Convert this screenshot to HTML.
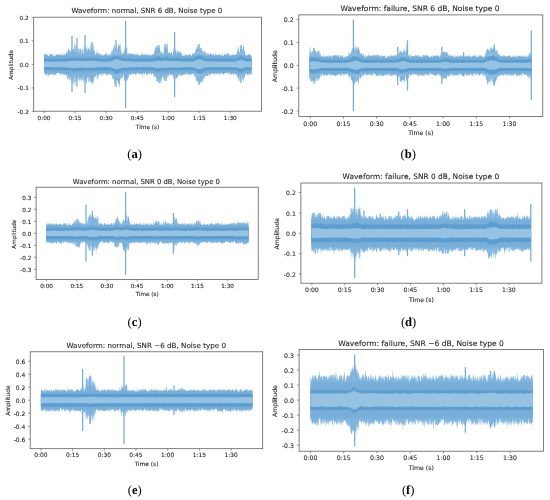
<!DOCTYPE html><html><head><meta charset="utf-8"><style>html,body{margin:0;padding:0;background:#fff;}svg{display:block}text{stroke:#262626;stroke-width:0.1px}text.cap{stroke:none}</style></head><body>
<svg width="550" height="500" viewBox="0 0 550 500" font-family="'DejaVu Sans', 'Liberation Sans', sans-serif" fill="#262626" text-rendering="geometricPrecision">
<rect width="550" height="500" fill="#fff"/>
<g id="wfa"><defs><linearGradient id="ga" gradientUnits="userSpaceOnUse" x1="0" y1="38.1" x2="0" y2="90.7"><stop offset="0%" stop-color="#8cbce1"/><stop offset="30.6%" stop-color="#8cbce1"/><stop offset="34.1%" stop-color="#78afd9"/><stop offset="38.1%" stop-color="#78afd9"/><stop offset="39.8%" stop-color="#5d9dcf"/><stop offset="50%" stop-color="#5d9dcf"/><stop offset="60.2%" stop-color="#5d9dcf"/><stop offset="61.9%" stop-color="#78afd9"/><stop offset="65.9%" stop-color="#78afd9"/><stop offset="69.4%" stop-color="#8cbce1"/><stop offset="100%" stop-color="#8cbce1"/></linearGradient></defs><path d="M44,54.6 L44.5,54 L45,53.7 L45.5,54.4 L46,54.3 L46.5,53.6 L47,55.6 L47.5,54.2 L48,56 L48.5,55.4 L49,56.6 L49.5,53.6 L50,55.1 L50.5,53.6 L51,54.2 L51.5,53.9 L52,53.4 L52.5,54.4 L53,55.4 L53.5,56.8 L54,55.9 L54.5,55.6 L55,54.5 L55.5,56.5 L56,54.5 L56.5,53.7 L57,55.6 L57.5,54.2 L58,54.5 L58.5,54 L59,54.7 L59.5,54.8 L60,54.6 L60.5,54.6 L61,54.8 L61.5,55.9 L62,51.4 L62.5,54.5 L63,54.7 L63.5,55.1 L64,55.4 L64.5,54.2 L65,53.2 L65.5,55 L66,54.5 L66.5,50.9 L67,52.4 L67.5,54.6 L68,49.5 L68.5,49.3 L69,49.8 L69.5,52 L70,48.5 L70.5,51.8 L71,53.4 L71.5,46.2 L72,51.7 L72.5,52.9 L73,48.4 L73.5,51.5 L74,45.7 L74.5,41.4 L75,48.9 L75.5,53.3 L76,51 L76.5,45.2 L77,51.3 L77.5,53 L78,54.7 L78.5,55.1 L79,50.4 L79.5,54.8 L80,49.2 L80.5,49.4 L81,47.4 L81.5,54.5 L82,52.8 L82.5,54.5 L83,51.4 L83.5,54.9 L84,45.7 L84.5,51 L85,53.9 L85.5,47.9 L86,49.3 L86.5,44.3 L87,51.9 L87.5,54 L88,46.6 L88.5,49.1 L89,51.1 L89.5,49.9 L90,46.1 L90.5,42.3 L91,51.2 L91.5,51.1 L92,47.3 L92.5,43.1 L93,43.2 L93.5,46.1 L94,52.1 L94.5,50.7 L95,52.3 L95.5,55.6 L96,55.8 L96.5,55 L97,48.6 L97.5,52.8 L98,52.3 L98.5,53.2 L99,53.9 L99.5,53.8 L100,53.4 L100.5,54.6 L101,54.1 L101.5,56.3 L102,53.5 L102.5,54.5 L103,56 L103.5,54.9 L104,55.1 L104.5,55.1 L105,54.3 L105.5,53.5 L106,53.4 L106.5,52.1 L107,55 L107.5,54.2 L108,56.1 L108.5,55 L109,53.8 L109.5,53.3 L110,56.7 L110.5,54.1 L111,52.7 L111.5,51.9 L112,49.2 L112.5,51.9 L113,48.3 L113.5,46.8 L114,48.3 L114.5,48.5 L115,51.9 L115.5,45.9 L116,47.4 L116.5,44.9 L117,49.8 L117.5,50 L118,47.3 L118.5,44.7 L119,41.5 L119.5,47.5 L120,43.9 L120.5,44.4 L121,50.9 L121.5,51.1 L122,55.4 L122.5,53.2 L123,53.9 L123.5,51 L124,51 L124.5,54.8 L125,48.8 L125.5,48.5 L126,42.3 L126.5,49.8 L127,55.7 L127.5,53.5 L128,55.4 L128.5,53.3 L129,52.7 L129.5,54.2 L130,53.1 L130.5,53.2 L131,53.4 L131.5,54.2 L132,53.7 L132.5,53.8 L133,53.4 L133.5,53.7 L134,53.8 L134.5,54.5 L135,53.8 L135.5,54.1 L136,56.8 L136.5,53.5 L137,54.3 L137.5,53.8 L138,53.6 L138.5,55.4 L139,55.4 L139.5,54.8 L140,55.5 L140.5,55 L141,55.2 L141.5,53.6 L142,52.2 L142.5,54.8 L143,55.2 L143.5,54.3 L144,54.2 L144.5,53.6 L145,55.8 L145.5,54.1 L146,54.9 L146.5,54.6 L147,54.1 L147.5,55.8 L148,54.8 L148.5,54.6 L149,54.8 L149.5,53.6 L150,56.5 L150.5,56.3 L151,54.4 L151.5,55 L152,54.4 L152.5,53.7 L153,54.5 L153.5,55 L154,52.1 L154.5,51.9 L155,47.4 L155.5,46.1 L156,50.2 L156.5,45.6 L157,45.1 L157.5,46.9 L158,44.9 L158.5,48.3 L159,48.4 L159.5,47.2 L160,50.5 L160.5,51.5 L161,51.7 L161.5,51.6 L162,55.1 L162.5,52.2 L163,55.3 L163.5,51.8 L164,52.4 L164.5,43.7 L165,43.4 L165.5,50.4 L166,43.5 L166.5,49.6 L167,48.8 L167.5,40.1 L168,51.3 L168.5,53.7 L169,52.1 L169.5,53 L170,52.1 L170.5,54.9 L171,52.4 L171.5,51.3 L172,53.6 L172.5,55.9 L173,54.3 L173.5,51.4 L174,52 L174.5,52.8 L175,52.7 L175.5,51.2 L176,52.3 L176.5,53.8 L177,50.4 L177.5,50.1 L178,53.6 L178.5,51.6 L179,50.6 L179.5,52.7 L180,51.4 L180.5,53.5 L181,50.9 L181.5,53 L182,56 L182.5,55.3 L183,55.9 L183.5,56.2 L184,51.7 L184.5,56.3 L185,55 L185.5,55 L186,54.4 L186.5,53.6 L187,56.5 L187.5,54.5 L188,54.9 L188.5,55 L189,55.1 L189.5,54.1 L190,54.6 L190.5,53.7 L191,55.7 L191.5,57 L192,53.4 L192.5,53.6 L193,53.4 L193.5,53.5 L194,54.4 L194.5,52.5 L195,51.9 L195.5,52.2 L196,44.8 L196.5,49.8 L197,48.5 L197.5,43.7 L198,47.2 L198.5,47 L199,51.6 L199.5,46.3 L200,50.9 L200.5,47.5 L201,47.8 L201.5,48.1 L202,50.6 L202.5,51 L203,51.4 L203.5,51.5 L204,53.2 L204.5,52.2 L205,51 L205.5,51.3 L206,53.7 L206.5,55.9 L207,55.4 L207.5,53.3 L208,51.8 L208.5,55 L209,52.7 L209.5,56.2 L210,51.9 L210.5,54.3 L211,53.5 L211.5,54.2 L212,54.2 L212.5,54.4 L213,55.1 L213.5,53.4 L214,53.8 L214.5,55.2 L215,56.8 L215.5,51.8 L216,55.1 L216.5,54.4 L217,55 L217.5,54.6 L218,53.9 L218.5,55.6 L219,53.8 L219.5,53.8 L220,55.4 L220.5,54.8 L221,55.2 L221.5,54.9 L222,56.8 L222.5,51.3 L223,55.9 L223.5,56.2 L224,55 L224.5,53.9 L225,53.9 L225.5,53.5 L226,54.1 L226.5,55.6 L227,53 L227.5,53.5 L228,54.1 L228.5,53.5 L229,53.5 L229.5,54.7 L230,54.2 L230.5,56.4 L231,55.6 L231.5,54.5 L232,55.5 L232.5,54.5 L233,54.3 L233.5,54 L234,55.3 L234.5,55.1 L235,54.9 L235.5,54.7 L236,55.1 L236.5,53.4 L237,51.6 L237.5,50.3 L238,48.8 L238.5,45 L239,51.5 L239.5,52.6 L240,49.3 L240.5,48.8 L241,51.7 L241.5,46.2 L242,46.9 L242.5,52.3 L243,46.3 L243.5,45.7 L244,52.5 L244.5,50.6 L245,51.8 L245.5,55 L246,55.5 L246.5,55.1 L247,56.1 L247.5,54 L248,55.7 L248.5,53.7 L249,54.5 L249.5,53.7 L250,54.1 L250.5,54.8 L251,56 L251.5,54.7 L251.5,73.5 L251,75.1 L250.5,74.6 L250,74.7 L249.5,74.8 L249,73.1 L248.5,74.7 L248,75.2 L247.5,75.5 L247,73.6 L246.5,74.6 L246,73.5 L245.5,74.1 L245,76.5 L244.5,78.1 L244,77.4 L243.5,82.8 L243,80.6 L242.5,79 L242,77.5 L241.5,75.6 L241,75.1 L240.5,77.7 L240,83.3 L239.5,77.5 L239,75.7 L238.5,82.8 L238,78.3 L237.5,77.6 L237,77.1 L236.5,74.4 L236,74.3 L235.5,75.3 L235,74.7 L234.5,72.2 L234,74.5 L233.5,75.1 L233,75.3 L232.5,72.7 L232,73.9 L231.5,75 L231,74.1 L230.5,74.8 L230,74.9 L229.5,72.6 L229,73.6 L228.5,72.6 L228,75.2 L227.5,72.9 L227,72.6 L226.5,72.2 L226,73.1 L225.5,72.8 L225,74.7 L224.5,73.1 L224,73.5 L223.5,75.1 L223,74.1 L222.5,74.8 L222,72.6 L221.5,72.6 L221,74.8 L220.5,74.8 L220,72.1 L219.5,74.8 L219,74.9 L218.5,72.6 L218,74.9 L217.5,73.8 L217,72.8 L216.5,75.1 L216,72.5 L215.5,74.6 L215,72.7 L214.5,75.3 L214,73.1 L213.5,75.1 L213,74.1 L212.5,73.2 L212,72.8 L211.5,74.1 L211,74.5 L210.5,73.3 L210,78.5 L209.5,73.9 L209,73.4 L208.5,73.2 L208,72 L207.5,73.4 L207,77.6 L206.5,75.3 L206,73.8 L205.5,75.3 L205,76.1 L204.5,79.1 L204,78 L203.5,78.3 L203,81.6 L202.5,81.2 L202,82.3 L201.5,82.7 L201,81.8 L200.5,81.9 L200,84.8 L199.5,83.5 L199,82.4 L198.5,80.1 L198,79.9 L197.5,79.7 L197,84 L196.5,78 L196,82.6 L195.5,76 L195,75.9 L194.5,77 L194,74 L193.5,73.2 L193,74.3 L192.5,73.1 L192,75.1 L191.5,74.9 L191,74.5 L190.5,73.3 L190,74.6 L189.5,75.2 L189,75.2 L188.5,74.4 L188,72.9 L187.5,75.2 L187,74.2 L186.5,72.7 L186,75.3 L185.5,73.9 L185,75.4 L184.5,74.2 L184,73.4 L183.5,74.8 L183,76.3 L182.5,74.7 L182,75 L181.5,74.7 L181,76.4 L180.5,75.4 L180,77 L179.5,72.4 L179,74.6 L178.5,75.3 L178,75.2 L177.5,78.8 L177,77.2 L176.5,77.3 L176,80.1 L175.5,75.9 L175,74.5 L174.5,76.5 L174,75.1 L173.5,79.4 L173,76.5 L172.5,75.7 L172,73.5 L171.5,74.6 L171,74.9 L170.5,75.6 L170,74.8 L169.5,73.3 L169,74.8 L168.5,77 L168,75.4 L167.5,79 L167,74 L166.5,75.3 L166,81.8 L165.5,76 L165,74.9 L164.5,80.5 L164,81 L163.5,79.2 L163,75.6 L162.5,77.1 L162,77.8 L161.5,78.8 L161,79.6 L160.5,83 L160,83.6 L159.5,81.3 L159,76.5 L158.5,76.6 L158,81.1 L157.5,82.5 L157,76.4 L156.5,74 L156,77.3 L155.5,75.4 L155,75.2 L154.5,76.3 L154,76.6 L153.5,75.8 L153,71.9 L152.5,73.8 L152,73.3 L151.5,75.4 L151,73.6 L150.5,73.3 L150,73.6 L149.5,74.4 L149,74.2 L148.5,72.2 L148,74.8 L147.5,74.8 L147,74.9 L146.5,74.5 L146,74.8 L145.5,71.9 L145,73.4 L144.5,74.8 L144,75.3 L143.5,72.9 L143,72.9 L142.5,77.5 L142,73.1 L141.5,75.2 L141,74.4 L140.5,73.4 L140,74.2 L139.5,73.2 L139,74 L138.5,75.3 L138,71.7 L137.5,72.4 L137,73.6 L136.5,74.9 L136,73.8 L135.5,75.3 L135,74.4 L134.5,73.3 L134,73.9 L133.5,74 L133,75.3 L132.5,73 L132,73.3 L131.5,75.1 L131,74.6 L130.5,75.2 L130,74.9 L129.5,76.1 L129,72.3 L128.5,77.8 L128,75.8 L127.5,75.1 L127,79 L126.5,82.7 L126,78.1 L125.5,77 L125,81.6 L124.5,78.9 L124,79.1 L123.5,74.2 L123,75.6 L122.5,78.6 L122,77.5 L121.5,76.9 L121,79.2 L120.5,78.6 L120,81.3 L119.5,86.9 L119,87.3 L118.5,80.8 L118,85 L117.5,79.5 L117,78.9 L116.5,81.7 L116,80.3 L115.5,82.3 L115,85.3 L114.5,86 L114,79.7 L113.5,77.5 L113,78.7 L112.5,78.7 L112,75.8 L111.5,75.8 L111,74.8 L110.5,74.1 L110,75.2 L109.5,74.3 L109,72.9 L108.5,74.8 L108,75.1 L107.5,75 L107,75 L106.5,76.2 L106,73.7 L105.5,74.1 L105,72.9 L104.5,73.4 L104,74.8 L103.5,74.2 L103,72.8 L102.5,75 L102,77.3 L101.5,75 L101,73.3 L100.5,74.5 L100,74.3 L99.5,74 L99,75.7 L98.5,75.5 L98,75.4 L97.5,76.9 L97,81.7 L96.5,73.5 L96,75.6 L95.5,77 L95,76.6 L94.5,75.9 L94,80 L93.5,79.5 L93,85.4 L92.5,75 L92,81.3 L91.5,84.8 L91,78.8 L90.5,80.7 L90,75.3 L89.5,83.2 L89,77.5 L88.5,75.4 L88,75.4 L87.5,77.1 L87,82.1 L86.5,84.2 L86,82.5 L85.5,80.6 L85,81 L84.5,75.4 L84,80.1 L83.5,83.6 L83,75 L82.5,81 L82,78.3 L81.5,82.5 L81,77.3 L80.5,78.2 L80,80.6 L79.5,78 L79,76.3 L78.5,77.8 L78,80.7 L77.5,77.9 L77,77.4 L76.5,76.3 L76,79.6 L75.5,74.9 L75,84.6 L74.5,85.6 L74,73.6 L73.5,82.2 L73,84.9 L72.5,79.8 L72,77.5 L71.5,82.5 L71,74 L70.5,78.5 L70,76.1 L69.5,82.4 L69,76.5 L68.5,77 L68,81.2 L67.5,78 L67,73.5 L66.5,74.6 L66,75 L65.5,74.4 L65,75.5 L64.5,74.3 L64,75.1 L63.5,74.9 L63,74.6 L62.5,74.3 L62,72.7 L61.5,75.2 L61,74.6 L60.5,74.2 L60,74.2 L59.5,73 L59,73 L58.5,72.2 L58,73.2 L57.5,73.5 L57,73 L56.5,73.1 L56,75.1 L55.5,74.4 L55,75.1 L54.5,74.6 L54,75.8 L53.5,74.7 L53,74.9 L52.5,73.1 L52,75.3 L51.5,74.6 L51,74.5 L50.5,73.4 L50,75.1 L49.5,75 L49,77.1 L48.5,75.2 L48,74.6 L47.5,74.9 L47,73.2 L46.5,76.8 L46,74.7 L45.5,74.9 L45,73 L44.5,73.2 L44,73.7Z" fill="url(#ga)"/><path d="M66.1 54.6V75.2M66.6 51.9V73.2M67 55.5V76.8M67.6 56.5V72.1M68.2 48.8V78.7M69.1 51V73.4M69.9 54.1V80.1M70.8 50.6V76.6M71.6 52.6V80.5M72.1 53.6V76.5M73 49.9V74.5M73.1 49.1V82M74.1 51.5V74.3M75 53.7V74.9M75.7 45.4V82.5M76.6 51.1V80.2M77.3 51.9V78.5M78.5 48.6V73.3M79.4 54.2V80.8M79.8 48.8V79M80.6 52.3V76.8M81.1 55.7V80.5M82.1 49.7V74.5M82.7 49.5V75.7M83.3 55.7V80.6M84.5 54.8V77.8M85.1 46.7V73.8M86 49.4V77.7M86.5 50.4V77.7M87.2 50V77.9M87.7 52.6V76.3M88.2 49.2V76.3M88.7 48.8V82.3M89.4 50.7V77.6M90 54V77.6M90.6 54.3V81.8M91.2 51.9V80M91.7 53V81.3M92.4 47.8V77.6M92.9 52.8V83.4M93.5 54.2V74.8M94 49.8V73.6M94.5 51.4V76.7M95.4 55.1V76.3M96.4 53.2V73M97.2 55.3V74.8M97.8 55.5V78.6M113 52.5V76.6M113.6 50.2V79.1M114.3 45V76.2M115.3 48.3V79.5M115.7 52V78M116.7 52.1V80.3M117.4 52.6V79.9M118.4 47V82.3M119.1 45.9V83.8M120.6 58.2V76.1M121.2 55.6V74.1M122.2 55.2V75M122.8 54.4V70.8M123.8 56.7V70.5M124.3 54.3V72.8M124.8 48.4V80.7M125.8 53V75.2M126.5 55.2V76.5M126.9 48.2V79.1M127.4 54.3V80.3M128.1 54.8V78.1M155.3 50.7V77.4M155.8 49.8V75.2M156.3 49V77.8M156.8 48V81.3M157.3 50.8V77.8M157.9 53V81.3M158.8 48V73.4M159.5 52V73.1M160.2 53.8V77.5M160.9 55.4V81.4M161.3 55.2V73.6M162.2 53V70.5M163 55.6V75.4M163.6 58V72M164.3 46.5V79M165 55.1V77.1M165.7 48.1V73.6M166.2 50.6V74.9M167.2 51.6V75.1M167.7 54.3V75M168.4 57.9V75.6M169 53.2V74.3M169.6 57.6V70.2M170.6 53.5V75M171.6 53.7V74.3M172.2 54V72.1M173.4 51.7V74.1M174 47.9V74.4M174.9 51.4V79.5M175.8 49.1V72.3M176.6 55.6V77.9M177.2 54.1V70.8M178.1 57.8V76.2M178.5 55.9V71.1M179.3 52.9V74.3M180.2 52.5V73.3M181.1 53.4V72.8M181.8 55.8V74.9M182.6 58V75.1M196.3 49.7V77.3M197.1 49V81.2M197.9 50.9V74M198.7 53.1V75.6M199.4 49.2V82.2M200 52.2V76.2M200.4 48.1V80.7M200.9 54.6V79M201.6 50.5V78.8M202.5 51.8V78.5M203.3 53.4V73.6M204.1 52.8V71.1M204.7 54V72.9M205.3 53.5V75.7M206.1 53.5V76M206.9 58.5V75.5M207.4 53.8V75.8M208.1 58.6V75.7M209.1 55.5V74.6M209.9 57.7V73.4M210.8 54.2V72.7M238.6 54.5V75.7M239.3 53.8V75.9M240 53.7V80.8M240.7 46.6V76.9M241.6 53.3V72.8M242.6 50.3V75.5M243.5 46.7V74.9M244 49.1V76.1" stroke="#78aed9" stroke-width="0.75" fill="none"/><line x1="72" y1="36" x2="72" y2="92" stroke="#78aed9" stroke-width="1.3"/><line x1="77" y1="38" x2="77" y2="86.4" stroke="#78aed9" stroke-width="1.3"/><line x1="85" y1="35" x2="85" y2="93" stroke="#78aed9" stroke-width="1.3"/><line x1="92" y1="42" x2="92" y2="82.4" stroke="#78aed9" stroke-width="1.3"/><line x1="116" y1="40" x2="116" y2="87" stroke="#78aed9" stroke-width="1.3"/><line x1="125.6" y1="21" x2="125.6" y2="108" stroke="#78aed9" stroke-width="1.3"/><line x1="159" y1="45" x2="159" y2="83" stroke="#78aed9" stroke-width="1.3"/><line x1="166" y1="44" x2="166" y2="81" stroke="#78aed9" stroke-width="1.3"/><line x1="174.6" y1="32" x2="174.6" y2="97" stroke="#78aed9" stroke-width="1.3"/><line x1="199" y1="44" x2="199" y2="85" stroke="#78aed9" stroke-width="1.3"/><line x1="241" y1="45" x2="241" y2="83" stroke="#78aed9" stroke-width="1.3"/><path d="M44,56.6 L44.5,55.6 L45,56.7 L45.5,57.6 L46,57 L46.5,56.4 L47,56.8 L47.5,55.1 L48,56.6 L48.5,57 L49,56.6 L49.5,56 L50,56.3 L50.5,55.8 L51,56.8 L51.5,57.7 L52,57 L52.5,57.6 L53,56.3 L53.5,57.7 L54,55.9 L54.5,57.1 L55,56 L55.5,56.5 L56,55.7 L56.5,56.4 L57,57.4 L57.5,56 L58,55.2 L58.5,56.1 L59,57.2 L59.5,55.2 L60,57.1 L60.5,56 L61,55.7 L61.5,56.1 L62,55.1 L62.5,56.9 L63,56.1 L63.5,56.4 L64,56.3 L64.5,55 L65,54.9 L65.5,55.6 L66,56.9 L66.5,56.2 L67,55.5 L67.5,54.6 L68,54.1 L68.5,55.1 L69,56.4 L69.5,54.1 L70,55 L70.5,56 L71,53.4 L71.5,55.1 L72,55.6 L72.5,55.1 L73,54.2 L73.5,55.1 L74,55.3 L74.5,55.2 L75,53.7 L75.5,53.3 L76,52.7 L76.5,55 L77,55.9 L77.5,53.5 L78,56 L78.5,55.1 L79,55.5 L79.5,55.2 L80,54.3 L80.5,55.1 L81,54.4 L81.5,54.5 L82,54.9 L82.5,55.2 L83,55.6 L83.5,54.9 L84,54.6 L84.5,55.2 L85,55.2 L85.5,52.9 L86,53.1 L86.5,54.8 L87,53.2 L87.5,54.2 L88,55.1 L88.5,53.7 L89,53.7 L89.5,53.1 L90,52.7 L90.5,54.3 L91,54.9 L91.5,53 L92,55.2 L92.5,54.7 L93,55.9 L93.5,55.1 L94,54.2 L94.5,54.5 L95,54.2 L95.5,55.9 L96,55.8 L96.5,56.8 L97,54 L97.5,56 L98,57 L98.5,54.9 L99,56.6 L99.5,55.7 L100,56.2 L100.5,57.6 L101,55.3 L101.5,56.3 L102,55.9 L102.5,56.3 L103,56.4 L103.5,56.6 L104,56.3 L104.5,57.2 L105,55.4 L105.5,56.6 L106,57.5 L106.5,57.7 L107,55.1 L107.5,57.3 L108,56.5 L108.5,57.1 L109,56.3 L109.5,56.5 L110,56.7 L110.5,54.6 L111,56.6 L111.5,54.7 L112,53.1 L112.5,53.6 L113,54.7 L113.5,50.6 L114,50.5 L114.5,49.6 L115,52.6 L115.5,48.3 L116,48.7 L116.5,51.4 L117,49.8 L117.5,50 L118,49 L118.5,51.3 L119,49.9 L119.5,52 L120,53.6 L120.5,54.5 L121,53.5 L121.5,53.5 L122,55.4 L122.5,53.7 L123,56.5 L123.5,55.1 L124,56.4 L124.5,54.8 L125,54.2 L125.5,56.2 L126,55.4 L126.5,53.8 L127,55.7 L127.5,54.7 L128,55.4 L128.5,53.8 L129,54 L129.5,54.7 L130,54.7 L130.5,56.6 L131,56.1 L131.5,55.3 L132,56.8 L132.5,55.2 L133,55.2 L133.5,56.8 L134,55.8 L134.5,57.3 L135,55.8 L135.5,56.4 L136,56.8 L136.5,55.1 L137,55.6 L137.5,56.5 L138,56.6 L138.5,56.9 L139,56.6 L139.5,55.8 L140,56.8 L140.5,57 L141,57.6 L141.5,55.4 L142,56.2 L142.5,55.7 L143,56.8 L143.5,56 L144,57.5 L144.5,55.8 L145,56.1 L145.5,55.5 L146,56 L146.5,55.8 L147,55.4 L147.5,55.8 L148,55.5 L148.5,56.6 L149,55.4 L149.5,57.6 L150,57 L150.5,56.4 L151,56.8 L151.5,56.8 L152,57 L152.5,56.2 L153,56.4 L153.5,55 L154,54.5 L154.5,56.5 L155,55.1 L155.5,53.6 L156,54.5 L156.5,52.3 L157,52.8 L157.5,54.3 L158,54.6 L158.5,52.3 L159,52 L159.5,53.8 L160,54.1 L160.5,55.1 L161,53.4 L161.5,55.3 L162,55.4 L162.5,54.4 L163,55.3 L163.5,53.8 L164,52.9 L164.5,53.3 L165,53.8 L165.5,54.4 L166,53 L166.5,52.6 L167,54.3 L167.5,53 L168,55.6 L168.5,53.7 L169,54.1 L169.5,56.6 L170,55.7 L170.5,54.9 L171,56.1 L171.5,54.1 L172,56.7 L172.5,56.2 L173,54.3 L173.5,53.1 L174,54.1 L174.5,53.1 L175,53.4 L175.5,56 L176,55.9 L176.5,53.8 L177,54.9 L177.5,56.4 L178,54 L178.5,56.7 L179,55 L179.5,56 L180,54.3 L180.5,54.5 L181,56.5 L181.5,55.2 L182,56.4 L182.5,55.8 L183,55.9 L183.5,56.2 L184,56 L184.5,56.5 L185,56.1 L185.5,55 L186,56.9 L186.5,55.6 L187,57.5 L187.5,56.4 L188,55.1 L188.5,57.3 L189,57.2 L189.5,56.5 L190,55.9 L190.5,57.6 L191,56 L191.5,57 L192,56.8 L192.5,56.4 L193,57.4 L193.5,57.1 L194,56.5 L194.5,55.6 L195,55 L195.5,53.4 L196,52.2 L196.5,54.3 L197,50.9 L197.5,52.8 L198,51.5 L198.5,50.3 L199,51.6 L199.5,49 L200,50.9 L200.5,48.8 L201,49.8 L201.5,49.9 L202,50.6 L202.5,51 L203,51.4 L203.5,52.8 L204,54 L204.5,53.3 L205,53.9 L205.5,56.3 L206,56 L206.5,56.3 L207,55.4 L207.5,55.5 L208,54.9 L208.5,55.9 L209,57 L209.5,56.5 L210,55.1 L210.5,57.2 L211,55.4 L211.5,55.6 L212,57.4 L212.5,55.7 L213,57.6 L213.5,57.1 L214,56.5 L214.5,55.9 L215,56.8 L215.5,55.3 L216,55.5 L216.5,55.3 L217,55.5 L217.5,55.8 L218,57.6 L218.5,56 L219,56.2 L219.5,57.1 L220,57 L220.5,56.9 L221,57.5 L221.5,56 L222,56.8 L222.5,56.6 L223,57.2 L223.5,56.8 L224,56.3 L224.5,55.6 L225,56.9 L225.5,57.4 L226,55.2 L226.5,55.8 L227,55.5 L227.5,56.7 L228,55.5 L228.5,55.5 L229,55.7 L229.5,56.5 L230,57.4 L230.5,56.4 L231,56.9 L231.5,57.5 L232,56 L232.5,56.8 L233,57.4 L233.5,57 L234,56.1 L234.5,57.3 L235,56.3 L235.5,54.7 L236,55.1 L236.5,55.3 L237,55.4 L237.5,54.8 L238,53.5 L238.5,54.8 L239,52.7 L239.5,52.6 L240,52.5 L240.5,52.2 L241,51.9 L241.5,50.5 L242,51.9 L242.5,53.2 L243,52 L243.5,53 L244,54.4 L244.5,54 L245,56.1 L245.5,55.6 L246,55.5 L246.5,56.2 L247,56.1 L247.5,57.1 L248,55.7 L248.5,55.3 L249,56.9 L249.5,56 L250,57.2 L250.5,55.9 L251,56.3 L251.5,57.7 L251.5,73.2 L251,73.5 L250.5,72.8 L250,72.4 L249.5,71.7 L249,73.1 L248.5,72.7 L248,72.8 L247.5,72.5 L247,72.3 L246.5,72.4 L246,71.9 L245.5,73.3 L245,73 L244.5,74.8 L244,75.3 L243.5,76 L243,76.1 L242.5,74.8 L242,77.2 L241.5,75.6 L241,75.1 L240.5,76.5 L240,76.5 L239.5,74.1 L239,74.2 L238.5,74 L238,74.3 L237.5,72.6 L237,74.3 L236.5,72.2 L236,71.7 L235.5,72.4 L235,72.7 L234.5,71.2 L234,71.3 L233.5,72.6 L233,71.8 L232.5,72.7 L232,72.5 L231.5,73.7 L231,71.1 L230.5,72.8 L230,73 L229.5,71.3 L229,73.4 L228.5,72.6 L228,73.6 L227.5,71.3 L227,72.6 L226.5,71.7 L226,73.1 L225.5,72.8 L225,72.3 L224.5,71.2 L224,73 L223.5,73.4 L223,73.4 L222.5,72.8 L222,72.3 L221.5,72.6 L221,72.5 L220.5,73 L220,72.1 L219.5,72.2 L219,73.5 L218.5,71.4 L218,72.1 L217.5,71.4 L217,72.6 L216.5,73.6 L216,72.5 L215.5,73.7 L215,72.7 L214.5,71.7 L214,72.7 L213.5,72.7 L213,73.2 L212.5,71.2 L212,72.8 L211.5,73.9 L211,72.1 L210.5,72.3 L210,71.5 L209.5,73.9 L209,73.2 L208.5,72.7 L208,72 L207.5,72.4 L207,73.1 L206.5,73.9 L206,73.3 L205.5,73.6 L205,74.9 L204.5,75.6 L204,75.9 L203.5,75.2 L203,76.6 L202.5,75.7 L202,78.5 L201.5,79.7 L201,80.2 L200.5,77.7 L200,76.3 L199.5,80.6 L199,77.8 L198.5,78.9 L198,78.7 L197.5,78.2 L197,75.7 L196.5,76.9 L196,75.5 L195.5,74 L195,75 L194.5,74.5 L194,74 L193.5,73 L193,71.7 L192.5,71.2 L192,73.2 L191.5,71.8 L191,72 L190.5,73.3 L190,72.7 L189.5,73.5 L189,73.5 L188.5,71.3 L188,71.6 L187.5,73.3 L187,72.5 L186.5,72.7 L186,72.4 L185.5,72.3 L185,71.5 L184.5,72.8 L184,73.4 L183.5,72.7 L183,73.6 L182.5,71.7 L182,73.5 L181.5,72.4 L181,74.1 L180.5,73.9 L180,74.4 L179.5,72.4 L179,73.1 L178.5,74.3 L178,74.6 L177.5,73.8 L177,75 L176.5,73.3 L176,73.9 L175.5,75.6 L175,74.5 L174.5,75.6 L174,74.6 L173.5,72.6 L173,72.4 L172.5,72.7 L172,73.5 L171.5,73.4 L171,72.5 L170.5,72 L170,72.2 L169.5,72.1 L169,74.8 L168.5,74.9 L168,73.6 L167.5,74.4 L167,72.9 L166.5,75.1 L166,75.8 L165.5,74.7 L165,73.6 L164.5,75.4 L164,75.6 L163.5,73.4 L163,73.3 L162.5,73 L162,73.6 L161.5,74.2 L161,75.4 L160.5,73.3 L160,74.6 L159.5,73.7 L159,76.5 L158.5,76.6 L158,74.5 L157.5,74.9 L157,76.4 L156.5,74 L156,74.5 L155.5,74.7 L155,73.2 L154.5,73.6 L154,74.2 L153.5,74.4 L153,71.9 L152.5,73 L152,73.3 L151.5,72.9 L151,73.2 L150.5,71.1 L150,72.8 L149.5,71.4 L149,72.4 L148.5,71.5 L148,72.7 L147.5,72.5 L147,71.8 L146.5,71.8 L146,72.8 L145.5,71.5 L145,72.3 L144.5,73.6 L144,71.6 L143.5,72.9 L143,71.2 L142.5,73.3 L142,73.1 L141.5,72.7 L141,71.8 L140.5,71.3 L140,73.4 L139.5,71.5 L139,72.1 L138.5,73.5 L138,71.7 L137.5,72.4 L137,73.6 L136.5,73.2 L136,72.1 L135.5,72.8 L135,73.4 L134.5,73 L134,72.3 L133.5,72.2 L133,72.3 L132.5,71.5 L132,71.5 L131.5,71.8 L131,72.6 L130.5,72.1 L130,72 L129.5,72.1 L129,72.3 L128.5,75 L128,74.9 L127.5,72.9 L127,75 L126.5,75 L126,74.6 L125.5,72.7 L125,73.7 L124.5,75.2 L124,74.1 L123.5,74.2 L123,72.8 L122.5,72.5 L122,74.3 L121.5,74.4 L121,76.6 L120.5,76 L120,76.9 L119.5,78 L119,75.2 L118.5,79.3 L118,77.1 L117.5,77.6 L117,78.7 L116.5,79 L116,77.2 L115.5,77.2 L115,80.2 L114.5,77.3 L114,77.5 L113.5,77.2 L113,76.3 L112.5,76.1 L112,74.6 L111.5,72.4 L111,72.8 L110.5,71.7 L110,73.4 L109.5,72.8 L109,71.9 L108.5,72.7 L108,72.4 L107.5,71.6 L107,73.7 L106.5,72.3 L106,72.3 L105.5,71.5 L105,72.9 L104.5,73.4 L104,73.1 L103.5,71.7 L103,71.4 L102.5,72.5 L102,71.6 L101.5,73.5 L101,73.2 L100.5,73.8 L100,71.5 L99.5,73 L99,71.6 L98.5,73 L98,72.8 L97.5,72 L97,73.8 L96.5,72.3 L96,73.7 L95.5,75.3 L95,74.3 L94.5,72.6 L94,73.8 L93.5,75.5 L93,75.9 L92.5,74.4 L92,74.7 L91.5,74.6 L91,75.4 L90.5,72.8 L90,75.3 L89.5,74.7 L89,75.3 L88.5,73.1 L88,73.4 L87.5,74.1 L87,75.3 L86.5,74.3 L86,73 L85.5,74.9 L85,75 L84.5,74.1 L84,73.5 L83.5,73.3 L83,74.1 L82.5,73.6 L82,74.4 L81.5,72.9 L81,75.2 L80.5,72.9 L80,74.6 L79.5,72.6 L79,73 L78.5,74.4 L78,74.4 L77.5,74.8 L77,75.3 L76.5,75.1 L76,75.2 L75.5,73.3 L75,75.2 L74.5,74.4 L74,73 L73.5,73.9 L73,76 L72.5,73.8 L72,73.7 L71.5,74.5 L71,74 L70.5,73.9 L70,73.3 L69.5,75.4 L69,73.9 L68.5,72.4 L68,72.6 L67.5,72.3 L67,73.4 L66.5,72.3 L66,72.9 L65.5,72.1 L65,72.5 L64.5,71.2 L64,73.6 L63.5,71.5 L63,72.7 L62.5,72.1 L62,71.3 L61.5,73.1 L61,72.4 L60.5,72.1 L60,71.5 L59.5,72.8 L59,72.8 L58.5,72.2 L58,73.2 L57.5,72.5 L57,71.7 L56.5,71.8 L56,73.3 L55.5,71.2 L55,71.8 L54.5,72.6 L54,71.3 L53.5,71.5 L53,72.4 L52.5,72.9 L52,72.6 L51.5,73 L51,72.1 L50.5,73.3 L50,71.2 L49.5,73.2 L49,72 L48.5,71.8 L48,71.7 L47.5,71.9 L47,71.5 L46.5,73.3 L46,71.8 L45.5,71.6 L45,71.9 L44.5,72.4 L44,71.6Z" fill="url(#ga)"/><path d="M44,59.7 L44.5,59.1 L45,58.8 L45.5,59.3 L46,59.4 L46.5,59.2 L47,58.9 L47.5,58.8 L48,59.1 L48.5,59.5 L49,59.8 L49.5,59.7 L50,59.6 L50.5,59.5 L51,59.6 L51.5,59 L52,59.3 L52.5,59.5 L53,59.7 L53.5,59.2 L54,59.1 L54.5,59.6 L55,59.5 L55.5,59.5 L56,59.5 L56.5,58.9 L57,58.6 L57.5,58.8 L58,59.4 L58.5,59.4 L59,58.9 L59.5,59 L60,59.1 L60.5,59 L61,59.8 L61.5,58.7 L62,58.5 L62.5,59.5 L63,59.6 L63.5,58.8 L64,59.2 L64.5,59.1 L65,59.6 L65.5,58.7 L66,59.5 L66.5,59 L67,58.3 L67.5,58.9 L68,58.2 L68.5,58.4 L69,58.1 L69.5,58.8 L70,58.3 L70.5,58.8 L71,58.6 L71.5,58.3 L72,57.4 L72.5,57.5 L73,58.5 L73.5,57.5 L74,56.9 L74.5,57.1 L75,58 L75.5,57.1 L76,57.6 L76.5,58.1 L77,58.1 L77.5,57.4 L78,58.1 L78.5,58.5 L79,57.4 L79.5,58.2 L80,58.3 L80.5,57.7 L81,58.5 L81.5,57.5 L82,58.7 L82.5,57.6 L83,58.3 L83.5,57.6 L84,57.6 L84.5,58 L85,58.1 L85.5,58.1 L86,57.6 L86.5,58.5 L87,57.4 L87.5,57.8 L88,57.3 L88.5,58 L89,58.5 L89.5,58.4 L90,57.6 L90.5,58.2 L91,58.2 L91.5,57.8 L92,58 L92.5,57.5 L93,58 L93.5,58.2 L94,58.5 L94.5,57.7 L95,58.1 L95.5,57.9 L96,58.6 L96.5,57.9 L97,58.1 L97.5,59.1 L98,58.1 L98.5,58.2 L99,58.5 L99.5,58.4 L100,58.4 L100.5,59.6 L101,58.5 L101.5,59.2 L102,59.2 L102.5,59.7 L103,58.8 L103.5,59.3 L104,59.1 L104.5,59.7 L105,59.5 L105.5,58.7 L106,59.6 L106.5,58.7 L107,59.8 L107.5,59.5 L108,58.9 L108.5,59.5 L109,58.9 L109.5,58.5 L110,58.4 L110.5,58.2 L111,58.6 L111.5,58.1 L112,57.3 L112.5,57.4 L113,56.1 L113.5,56.3 L114,56.9 L114.5,54.7 L115,55.1 L115.5,56.5 L116,56.1 L116.5,56.3 L117,55.9 L117.5,55.4 L118,54.4 L118.5,56.4 L119,55.5 L119.5,56.8 L120,55.9 L120.5,56.4 L121,57.7 L121.5,58.6 L122,58.3 L122.5,57.8 L123,58.9 L123.5,58.3 L124,59 L124.5,58.3 L125,58.2 L125.5,57.5 L126,58.7 L126.5,57.6 L127,58.7 L127.5,59 L128,58.6 L128.5,58.8 L129,58.4 L129.5,58.1 L130,59.3 L130.5,59.1 L131,58.6 L131.5,59.3 L132,59.2 L132.5,58.6 L133,58.9 L133.5,59.7 L134,59.2 L134.5,58.7 L135,59.8 L135.5,59.4 L136,59.2 L136.5,59.3 L137,59.5 L137.5,59.7 L138,59.8 L138.5,58.8 L139,58.7 L139.5,59.1 L140,59.8 L140.5,59.4 L141,58.6 L141.5,59.1 L142,59.7 L142.5,58.8 L143,59.8 L143.5,59.7 L144,59.7 L144.5,58.5 L145,59 L145.5,59 L146,59.7 L146.5,58.8 L147,58.8 L147.5,59.5 L148,58.7 L148.5,59.3 L149,59.6 L149.5,59.2 L150,59.1 L150.5,58.8 L151,59 L151.5,58.8 L152,59.7 L152.5,59 L153,58.6 L153.5,58.3 L154,58.3 L154.5,58.9 L155,57.6 L155.5,57.8 L156,57 L156.5,56.7 L157,56.6 L157.5,57.1 L158,56.7 L158.5,56.7 L159,56.8 L159.5,56.6 L160,58.3 L160.5,57.6 L161,57.8 L161.5,57.6 L162,57.9 L162.5,57.8 L163,57.6 L163.5,58.4 L164,58.3 L164.5,57.6 L165,58.2 L165.5,56.4 L166,57.2 L166.5,57 L167,57.3 L167.5,57 L168,58.1 L168.5,57.4 L169,58.7 L169.5,57.7 L170,58.2 L170.5,57.9 L171,59.3 L171.5,58.5 L172,59.2 L172.5,58.7 L173,58.5 L173.5,58.1 L174,57.5 L174.5,57.2 L175,57.4 L175.5,58 L176,58.1 L176.5,58.8 L177,58.8 L177.5,58.6 L178,57.9 L178.5,57.9 L179,57.8 L179.5,58.8 L180,58 L180.5,59 L181,58.4 L181.5,58.9 L182,58.3 L182.5,58.6 L183,59.1 L183.5,58.7 L184,59.1 L184.5,58.8 L185,59.6 L185.5,58.9 L186,58.9 L186.5,58.7 L187,59.3 L187.5,59.6 L188,59.3 L188.5,59.4 L189,58.7 L189.5,59.5 L190,59.5 L190.5,58.6 L191,58.9 L191.5,59.1 L192,59.8 L192.5,59 L193,58.3 L193.5,58.7 L194,59.3 L194.5,58.8 L195,57.2 L195.5,56.9 L196,56.3 L196.5,55.8 L197,55.9 L197.5,56.1 L198,55.3 L198.5,55.3 L199,54.6 L199.5,55.9 L200,55.6 L200.5,56.5 L201,56 L201.5,55.1 L202,55.3 L202.5,56.6 L203,56.6 L203.5,56.6 L204,57.2 L204.5,58.2 L205,57.5 L205.5,58.5 L206,58.1 L206.5,58.5 L207,58.3 L207.5,58.7 L208,59.2 L208.5,58.6 L209,58.7 L209.5,59 L210,58.7 L210.5,58.5 L211,59.5 L211.5,59.4 L212,59 L212.5,59.1 L213,58.9 L213.5,59.2 L214,59.4 L214.5,59.8 L215,59.2 L215.5,58.6 L216,58.8 L216.5,59.2 L217,58.8 L217.5,59.6 L218,58.7 L218.5,59.8 L219,58.6 L219.5,58.7 L220,59.4 L220.5,59.3 L221,58.7 L221.5,59 L222,59.3 L222.5,59.2 L223,59.6 L223.5,58.6 L224,58.8 L224.5,59.5 L225,59.1 L225.5,58.5 L226,59.8 L226.5,58.5 L227,59.3 L227.5,59.3 L228,58.7 L228.5,59.6 L229,59.8 L229.5,59.6 L230,58.5 L230.5,58.9 L231,59.1 L231.5,59.5 L232,58.7 L232.5,59.7 L233,59.4 L233.5,58.9 L234,59.6 L234.5,58.9 L235,59.2 L235.5,58.3 L236,59.3 L236.5,58.9 L237,58.7 L237.5,57.6 L238,57.3 L238.5,56.3 L239,56.9 L239.5,56.8 L240,56.9 L240.5,55.5 L241,55.9 L241.5,57.2 L242,55.4 L242.5,56.4 L243,57.1 L243.5,57.8 L244,57 L244.5,58.6 L245,58.1 L245.5,57.8 L246,58.9 L246.5,59.6 L247,58.6 L247.5,59.6 L248,58.9 L248.5,59.6 L249,59.5 L249.5,59.8 L250,58.9 L250.5,59.3 L251,58.5 L251.5,59.3 L251.5,69.3 L251,70.1 L250.5,70.1 L250,69.5 L249.5,69.1 L249,69.1 L248.5,70.3 L248,69.8 L247.5,70 L247,69.7 L246.5,69.5 L246,69.7 L245.5,69.7 L245,70.3 L244.5,70.4 L244,71.3 L243.5,72 L243,71.6 L242.5,71.5 L242,72.9 L241.5,72.4 L241,72.6 L240.5,72.9 L240,71.4 L239.5,72 L239,72.4 L238.5,70.5 L238,70.5 L237.5,70.5 L237,70.7 L236.5,70.9 L236,69.8 L235.5,70.1 L235,70.2 L234.5,70.2 L234,69.2 L233.5,70 L233,69.4 L232.5,69.2 L232,69.3 L231.5,69.9 L231,70.2 L230.5,69.3 L230,70 L229.5,69.2 L229,69.8 L228.5,70.1 L228,70.1 L227.5,69.5 L227,69.3 L226.5,69.2 L226,70.1 L225.5,69.9 L225,70.3 L224.5,69.7 L224,69.6 L223.5,69.8 L223,69.7 L222.5,69.3 L222,69.1 L221.5,69.1 L221,69.8 L220.5,69.8 L220,69 L219.5,69.8 L219,69.4 L218.5,69.7 L218,69.2 L217.5,69.9 L217,70 L216.5,69.1 L216,70.2 L215.5,69.8 L215,70.2 L214.5,70.1 L214,69.9 L213.5,69 L213,69.5 L212.5,69.2 L212,69.6 L211.5,70.2 L211,69.8 L210.5,69.6 L210,69.5 L209.5,69.5 L209,70.3 L208.5,70.3 L208,69.5 L207.5,69.3 L207,69.7 L206.5,69.6 L206,70.6 L205.5,70.4 L205,69.8 L204.5,71.4 L204,71.1 L203.5,71.9 L203,72.5 L202.5,72.3 L202,72.1 L201.5,73.2 L201,74.1 L200.5,74.3 L200,74.1 L199.5,74.3 L199,72.9 L198.5,73.5 L198,73.6 L197.5,72.1 L197,73.2 L196.5,72.3 L196,71.7 L195.5,70.9 L195,70.4 L194.5,70.5 L194,69.8 L193.5,69.4 L193,70.3 L192.5,69.9 L192,69.6 L191.5,69 L191,69.2 L190.5,69.4 L190,69 L189.5,70.2 L189,70 L188.5,69.2 L188,69 L187.5,69 L187,69.2 L186.5,69.3 L186,69.8 L185.5,70.1 L185,70.1 L184.5,70.4 L184,69.7 L183.5,70.3 L183,70.3 L182.5,70.1 L182,69.4 L181.5,69.9 L181,69.8 L180.5,69.9 L180,69.7 L179.5,70.5 L179,70.7 L178.5,70 L178,69.9 L177.5,70.5 L177,70 L176.5,70.6 L176,70.1 L175.5,69.9 L175,70.5 L174.5,70.4 L174,70.3 L173.5,69.8 L173,70.8 L172.5,69.6 L172,70.1 L171.5,70.2 L171,70 L170.5,70.6 L170,70.7 L169.5,70.7 L169,69.9 L168.5,70.8 L168,70.5 L167.5,71.4 L167,70.4 L166.5,71 L166,71.6 L165.5,71.3 L165,71 L164.5,70.1 L164,70.6 L163.5,71.3 L163,70.1 L162.5,70.4 L162,70.2 L161.5,70.8 L161,71.2 L160.5,71 L160,70.4 L159.5,71.4 L159,72.1 L158.5,71.3 L158,72.3 L157.5,72.2 L157,71.3 L156.5,71.8 L156,71.7 L155.5,70.1 L155,71.3 L154.5,71.1 L154,70.6 L153.5,70.1 L153,70.4 L152.5,69.9 L152,69.5 L151.5,69.4 L151,70.1 L150.5,70 L150,69.7 L149.5,70.1 L149,69.6 L148.5,69.4 L148,70.3 L147.5,70.2 L147,69.7 L146.5,69.8 L146,70.1 L145.5,70.2 L145,69.1 L144.5,70.2 L144,69.5 L143.5,69 L143,69.5 L142.5,69 L142,70.1 L141.5,69.2 L141,69.7 L140.5,70 L140,69.6 L139.5,69 L139,69.2 L138.5,69.6 L138,69.2 L137.5,69.7 L137,70.1 L136.5,69.5 L136,69.1 L135.5,70 L135,70.1 L134.5,69.6 L134,70.3 L133.5,69.1 L133,70 L132.5,69.4 L132,70.2 L131.5,70.2 L131,69.4 L130.5,69.7 L130,69.7 L129.5,70 L129,69.5 L128.5,69.7 L128,71 L127.5,70.6 L127,70.2 L126.5,71 L126,71.3 L125.5,70.4 L125,70.4 L124.5,70.9 L124,70.8 L123.5,69.8 L123,70.1 L122.5,70.7 L122,70.8 L121.5,71.1 L121,71.3 L120.5,72.3 L120,72.9 L119.5,71.7 L119,73.3 L118.5,74 L118,72.4 L117.5,73.8 L117,74.2 L116.5,73.9 L116,74 L115.5,73.9 L115,74.3 L114.5,72 L114,71.8 L113.5,72.2 L113,71.1 L112.5,71.2 L112,70.3 L111.5,71.1 L111,69.8 L110.5,69.5 L110,70.2 L109.5,69.4 L109,70.2 L108.5,69.1 L108,69.8 L107.5,69.3 L107,70.3 L106.5,69.8 L106,69.7 L105.5,69.3 L105,69.4 L104.5,70 L104,69.3 L103.5,70.2 L103,69.2 L102.5,69.4 L102,69.4 L101.5,69.1 L101,69.9 L100.5,69.9 L100,69.3 L99.5,69.6 L99,69.4 L98.5,70 L98,70.4 L97.5,70.7 L97,69.6 L96.5,70.6 L96,71 L95.5,70.2 L95,70.3 L94.5,70.3 L94,70.5 L93.5,70 L93,70.7 L92.5,71.6 L92,70.2 L91.5,70.3 L91,71.7 L90.5,71.5 L90,70.8 L89.5,70.2 L89,70.4 L88.5,71.2 L88,70.3 L87.5,70.3 L87,70.3 L86.5,70.2 L86,71 L85.5,70.6 L85,70.9 L84.5,70.6 L84,70.2 L83.5,71.2 L83,70.7 L82.5,70.5 L82,71.4 L81.5,71.1 L81,71.4 L80.5,70.1 L80,71.2 L79.5,71.2 L79,70.4 L78.5,70.8 L78,71.1 L77.5,71.1 L77,71.5 L76.5,70.3 L76,71.6 L75.5,71.7 L75,70.8 L74.5,71.7 L74,71.1 L73.5,71 L73,71.1 L72.5,71.6 L72,70.7 L71.5,70.3 L71,70.3 L70.5,71.1 L70,70.1 L69.5,69.9 L69,70.5 L68.5,71 L68,69.6 L67.5,69.9 L67,70.5 L66.5,70.7 L66,70.3 L65.5,69.3 L65,69.1 L64.5,69.3 L64,70 L63.5,69.2 L63,69 L62.5,69.9 L62,70 L61.5,69.1 L61,69.3 L60.5,69.4 L60,69 L59.5,70.2 L59,69.8 L58.5,69.5 L58,69.3 L57.5,69.2 L57,69.7 L56.5,69.4 L56,69.9 L55.5,69.7 L55,70 L54.5,69.4 L54,70.1 L53.5,70 L53,70.2 L52.5,69.5 L52,69.6 L51.5,69.1 L51,69 L50.5,69.6 L50,69.6 L49.5,69.8 L49,69.7 L48.5,69.7 L48,69.9 L47.5,69.5 L47,69.8 L46.5,70.1 L46,69.3 L45.5,69.9 L45,69.6 L44.5,69.8 L44,70Z" fill="#5d9dcf"/><path d="M44,61.5 L44.5,61.6 L45,61.3 L45.5,61.8 L46,61.5 L46.5,61.6 L47,61.8 L47.5,61.6 L48,61.5 L48.5,61.4 L49,61.9 L49.5,61.6 L50,61.3 L50.5,61.9 L51,61.8 L51.5,61.5 L52,61.5 L52.5,61.7 L53,61.7 L53.5,61.8 L54,61.4 L54.5,61.4 L55,61.8 L55.5,61.5 L56,61.4 L56.5,61.6 L57,61.4 L57.5,61.7 L58,61.4 L58.5,61.4 L59,61.6 L59.5,61.4 L60,61.4 L60.5,61.6 L61,61.5 L61.5,61.4 L62,61.8 L62.5,61.8 L63,61.5 L63.5,61.3 L64,61.6 L64.5,61.8 L65,61.7 L65.5,61.5 L66,61.5 L66.5,61.2 L67,61.3 L67.5,61.2 L68,61.4 L68.5,61.1 L69,61.2 L69.5,61 L70,61.3 L70.5,60.8 L71,61.2 L71.5,60.7 L72,60.8 L72.5,61.2 L73,60.8 L73.5,60.8 L74,60.9 L74.5,60.6 L75,61 L75.5,60.6 L76,61 L76.5,60.7 L77,60.7 L77.5,60.8 L78,60.7 L78.5,60.9 L79,60.8 L79.5,61.1 L80,61.2 L80.5,60.9 L81,61.1 L81.5,61.2 L82,61.1 L82.5,61.1 L83,61.2 L83.5,61.2 L84,61 L84.5,61 L85,61 L85.5,60.7 L86,60.8 L86.5,61.2 L87,60.6 L87.5,60.8 L88,60.8 L88.5,60.5 L89,61.2 L89.5,61.1 L90,61.1 L90.5,61 L91,61 L91.5,60.6 L92,60.5 L92.5,60.6 L93,61.1 L93.5,60.7 L94,61 L94.5,61.4 L95,60.9 L95.5,61.3 L96,61.1 L96.5,61 L97,61.4 L97.5,61.3 L98,61.6 L98.5,61.6 L99,61.6 L99.5,61.8 L100,61.6 L100.5,61.4 L101,61.5 L101.5,61.8 L102,61.6 L102.5,61.4 L103,61.3 L103.5,61.8 L104,61.7 L104.5,61.7 L105,61.4 L105.5,61.6 L106,61.8 L106.5,61.5 L107,61.8 L107.5,61.8 L108,61.8 L108.5,61.6 L109,61.5 L109.5,61.6 L110,61.3 L110.5,61.3 L111,61.5 L111.5,61 L112,61.2 L112.5,60.9 L113,60.2 L113.5,60.2 L114,59.9 L114.5,59.8 L115,59.6 L115.5,59.1 L116,59.1 L116.5,59.1 L117,59.4 L117.5,59.1 L118,59.3 L118.5,60.2 L119,60.3 L119.5,59.8 L120,59.9 L120.5,60.2 L121,60.7 L121.5,60.9 L122,61 L122.5,61.1 L123,61.1 L123.5,60.9 L124,60.9 L124.5,61.2 L125,61.4 L125.5,61.4 L126,60.9 L126.5,60.8 L127,61.1 L127.5,61.4 L128,61.1 L128.5,61.1 L129,61.1 L129.5,61.5 L130,61.6 L130.5,61.7 L131,61.5 L131.5,61.4 L132,61.4 L132.5,61.5 L133,61.4 L133.5,61.7 L134,61.9 L134.5,61.7 L135,61.6 L135.5,61.5 L136,61.8 L136.5,61.6 L137,61.3 L137.5,61.6 L138,61.8 L138.5,61.4 L139,61.9 L139.5,61.7 L140,61.4 L140.5,61.7 L141,61.4 L141.5,61.6 L142,61.9 L142.5,61.5 L143,61.8 L143.5,61.3 L144,61.7 L144.5,61.4 L145,61.9 L145.5,61.8 L146,61.7 L146.5,61.3 L147,61.6 L147.5,61.7 L148,61.7 L148.5,61.5 L149,61.7 L149.5,61.3 L150,61.7 L150.5,61.7 L151,61.5 L151.5,61.4 L152,61.4 L152.5,61.6 L153,61.3 L153.5,61.3 L154,61.3 L154.5,61.3 L155,60.7 L155.5,60.6 L156,60.8 L156.5,61 L157,60.7 L157.5,60.5 L158,60.2 L158.5,60.8 L159,61 L159.5,60.5 L160,61.1 L160.5,61.1 L161,60.9 L161.5,61.1 L162,61.3 L162.5,61.1 L163,60.6 L163.5,61.1 L164,60.8 L164.5,60.6 L165,60.7 L165.5,60.3 L166,60.4 L166.5,60.8 L167,60.8 L167.5,60.8 L168,60.5 L168.5,60.8 L169,61.3 L169.5,61.4 L170,61.2 L170.5,61 L171,61.3 L171.5,61.1 L172,61.3 L172.5,61.5 L173,61 L173.5,60.9 L174,61.2 L174.5,60.9 L175,61.1 L175.5,60.6 L176,60.9 L176.5,61.1 L177,61.1 L177.5,61.1 L178,61 L178.5,61.4 L179,61.3 L179.5,61.2 L180,61.5 L180.5,61.3 L181,61.3 L181.5,61.6 L182,61.4 L182.5,61.5 L183,61.2 L183.5,61.5 L184,61.3 L184.5,61.4 L185,61.5 L185.5,61.8 L186,61.6 L186.5,61.5 L187,61.9 L187.5,61.5 L188,61.6 L188.5,61.4 L189,61.3 L189.5,61.9 L190,61.4 L190.5,61.4 L191,61.5 L191.5,61.5 L192,61.6 L192.5,61.6 L193,61.3 L193.5,61.4 L194,61.3 L194.5,61 L195,61 L195.5,60.5 L196,60.2 L196.5,60.3 L197,60.1 L197.5,59.7 L198,59.4 L198.5,59.2 L199,59.2 L199.5,59.6 L200,59.8 L200.5,59.3 L201,59.8 L201.5,60.1 L202,60 L202.5,60.3 L203,60.6 L203.5,60.7 L204,60.8 L204.5,60.8 L205,61 L205.5,61.2 L206,61.6 L206.5,61.2 L207,61.6 L207.5,61.3 L208,61.5 L208.5,61.6 L209,61.2 L209.5,61.2 L210,61.7 L210.5,61.5 L211,61.2 L211.5,61.3 L212,61.3 L212.5,61.7 L213,61.8 L213.5,61.6 L214,61.5 L214.5,61.4 L215,61.7 L215.5,61.5 L216,61.7 L216.5,61.6 L217,61.7 L217.5,61.3 L218,61.5 L218.5,61.5 L219,61.4 L219.5,61.7 L220,61.7 L220.5,61.8 L221,61.9 L221.5,61.9 L222,61.3 L222.5,61.8 L223,61.8 L223.5,61.6 L224,61.3 L224.5,61.7 L225,61.7 L225.5,61.4 L226,61.6 L226.5,61.5 L227,61.7 L227.5,61.7 L228,61.8 L228.5,61.3 L229,61.7 L229.5,61.6 L230,61.9 L230.5,61.6 L231,61.8 L231.5,61.3 L232,61.8 L232.5,61.6 L233,61.6 L233.5,61.8 L234,61.8 L234.5,61.4 L235,61.7 L235.5,61.3 L236,61.1 L236.5,61.1 L237,60.9 L237.5,60.6 L238,60.3 L238.5,60.2 L239,60.4 L239.5,60.5 L240,60.3 L240.5,60 L241,59.9 L241.5,59.9 L242,60.3 L242.5,60 L243,60.1 L243.5,60.7 L244,60.5 L244.5,60.8 L245,61 L245.5,61.5 L246,61.3 L246.5,61.6 L247,61.5 L247.5,61.8 L248,61.9 L248.5,61.4 L249,61.4 L249.5,61.5 L250,61.5 L250.5,61.7 L251,61.8 L251.5,61.8 L251.5,67 L251,66.9 L250.5,67.4 L250,67.5 L249.5,67.4 L249,67 L248.5,67.4 L248,66.9 L247.5,67.2 L247,67 L246.5,67.1 L246,67.5 L245.5,67.2 L245,67.7 L244.5,67.8 L244,68.1 L243.5,68.3 L243,68.3 L242.5,68.1 L242,68.7 L241.5,68.8 L241,68.8 L240.5,68.7 L240,68.4 L239.5,68.1 L239,68.1 L238.5,68 L238,68.1 L237.5,67.6 L237,67.8 L236.5,67.2 L236,67.2 L235.5,67.4 L235,67.4 L234.5,67 L234,67.2 L233.5,67.2 L233,67 L232.5,67.4 L232,67.5 L231.5,67.1 L231,67 L230.5,67.4 L230,67.2 L229.5,67.1 L229,67.1 L228.5,67.2 L228,67.1 L227.5,67 L227,67.4 L226.5,67.3 L226,67.4 L225.5,67.3 L225,67.2 L224.5,67.4 L224,67 L223.5,67.2 L223,67.1 L222.5,67.1 L222,67.2 L221.5,67.3 L221,67.2 L220.5,67 L220,67.3 L219.5,67.5 L219,67.2 L218.5,67.2 L218,67 L217.5,67 L217,67.1 L216.5,67.4 L216,67.4 L215.5,67.4 L215,67.5 L214.5,66.9 L214,66.9 L213.5,67.1 L213,67.1 L212.5,67.3 L212,67 L211.5,67.4 L211,67.2 L210.5,67.1 L210,67.1 L209.5,67.1 L209,67.3 L208.5,67.6 L208,67.3 L207.5,67.6 L207,67.5 L206.5,67.6 L206,67.6 L205.5,67.7 L205,67.6 L204.5,67.9 L204,68 L203.5,68.4 L203,68.5 L202.5,68.3 L202,68.4 L201.5,69.1 L201,69.5 L200.5,69 L200,69.5 L199.5,69.3 L199,69 L198.5,69.3 L198,68.8 L197.5,69.1 L197,69 L196.5,68.3 L196,68.6 L195.5,68.2 L195,68.2 L194.5,67.6 L194,67.6 L193.5,67.6 L193,67.4 L192.5,66.9 L192,67.4 L191.5,67 L191,67.2 L190.5,67 L190,67.3 L189.5,67 L189,67.3 L188.5,67.1 L188,67.1 L187.5,67.3 L187,67.2 L186.5,67.3 L186,67 L185.5,67.4 L185,67 L184.5,67.2 L184,67.2 L183.5,67.3 L183,67.4 L182.5,67.5 L182,67.2 L181.5,67.2 L181,67.7 L180.5,67.7 L180,67.3 L179.5,67.7 L179,67.3 L178.5,67.7 L178,67.4 L177.5,67.8 L177,67.9 L176.5,67.8 L176,67.8 L175.5,67.5 L175,68 L174.5,67.6 L174,68 L173.5,67.6 L173,67.4 L172.5,67.4 L172,67.7 L171.5,67.5 L171,67.5 L170.5,67.2 L170,67.7 L169.5,67.6 L169,67.4 L168.5,67.3 L168,67.9 L167.5,67.8 L167,68.1 L166.5,67.6 L166,68.1 L165.5,67.7 L165,68.1 L164.5,67.6 L164,68.1 L163.5,67.6 L163,67.5 L162.5,68 L162,67.7 L161.5,67.6 L161,67.9 L160.5,67.8 L160,68.3 L159.5,67.9 L159,67.9 L158.5,67.9 L158,68.1 L157.5,67.9 L157,68.2 L156.5,68.4 L156,67.8 L155.5,67.7 L155,67.5 L154.5,67.8 L154,67.3 L153.5,67.1 L153,67.1 L152.5,67.2 L152,67.2 L151.5,67.4 L151,67.1 L150.5,67.4 L150,67.2 L149.5,67.5 L149,67.2 L148.5,67.4 L148,67.1 L147.5,67.4 L147,67 L146.5,67.1 L146,67.4 L145.5,66.9 L145,67.3 L144.5,67.4 L144,67.3 L143.5,67.2 L143,67.1 L142.5,67.1 L142,67.4 L141.5,67.1 L141,67.3 L140.5,67.3 L140,67.3 L139.5,67.4 L139,67.1 L138.5,67.2 L138,67.1 L137.5,67 L137,67.3 L136.5,67 L136,67.3 L135.5,67.1 L135,67.4 L134.5,67.4 L134,67 L133.5,67.1 L133,67.3 L132.5,67.3 L132,67.4 L131.5,67.3 L131,67.5 L130.5,67.3 L130,67.3 L129.5,67.7 L129,67.4 L128.5,67.6 L128,68 L127.5,67.5 L127,67.9 L126.5,67.9 L126,67.5 L125.5,67.9 L125,67.8 L124.5,67.8 L124,67.6 L123.5,67.6 L123,67.3 L122.5,67.9 L122,67.8 L121.5,67.9 L121,68 L120.5,68.5 L120,68.7 L119.5,68.5 L119,68.4 L118.5,68.7 L118,69.6 L117.5,69.5 L117,69.6 L116.5,69 L116,69 L115.5,69.6 L115,68.7 L114.5,68.9 L114,68.5 L113.5,68.7 L113,68.1 L112.5,68.2 L112,67.8 L111.5,67.8 L111,67.7 L110.5,67.7 L110,67.5 L109.5,67.4 L109,66.9 L108.5,67.4 L108,67.2 L107.5,67.2 L107,67.3 L106.5,67.2 L106,66.9 L105.5,66.9 L105,67.1 L104.5,67 L104,67.1 L103.5,67.3 L103,66.9 L102.5,67.1 L102,67.4 L101.5,67.5 L101,67.2 L100.5,67.3 L100,67.1 L99.5,67.3 L99,67.6 L98.5,67.2 L98,67.3 L97.5,67.2 L97,67.7 L96.5,67.3 L96,67.9 L95.5,67.4 L95,67.7 L94.5,67.8 L94,67.6 L93.5,67.6 L93,67.6 L92.5,68.1 L92,67.6 L91.5,68.1 L91,68.1 L90.5,67.7 L90,68.1 L89.5,67.9 L89,67.8 L88.5,67.8 L88,67.8 L87.5,68 L87,68.2 L86.5,68 L86,67.9 L85.5,67.9 L85,67.5 L84.5,68 L84,67.8 L83.5,68 L83,68.1 L82.5,67.6 L82,67.6 L81.5,67.6 L81,67.6 L80.5,67.5 L80,67.6 L79.5,68 L79,67.5 L78.5,67.5 L78,67.8 L77.5,67.5 L77,68.1 L76.5,67.9 L76,67.9 L75.5,68.1 L75,68 L74.5,68 L74,68 L73.5,68 L73,67.7 L72.5,68.2 L72,68 L71.5,67.6 L71,67.7 L70.5,67.7 L70,67.9 L69.5,67.9 L69,68 L68.5,67.5 L68,67.5 L67.5,67.3 L67,67.7 L66.5,67.6 L66,67.6 L65.5,67.2 L65,67.3 L64.5,67.5 L64,67.2 L63.5,67.2 L63,67.4 L62.5,67 L62,67.4 L61.5,67 L61,67.5 L60.5,67 L60,67.4 L59.5,67.3 L59,67 L58.5,67.1 L58,67.4 L57.5,67.3 L57,67.5 L56.5,67.4 L56,67.4 L55.5,67 L55,67.5 L54.5,67.4 L54,67.5 L53.5,67.3 L53,67 L52.5,67.2 L52,67.2 L51.5,67.3 L51,66.9 L50.5,67.1 L50,67.2 L49.5,67.3 L49,67.5 L48.5,67.2 L48,67.1 L47.5,67.3 L47,67.3 L46.5,67 L46,67.4 L45.5,67.1 L45,67.3 L44.5,67 L44,67.5Z" fill="#96c2e4"/></g>
<rect x="33.7" y="17.2" width="227.8" height="94" fill="none" stroke="#555" stroke-width="0.75"/>
<line x1="31.67" y1="17.4" x2="33.7" y2="17.4" stroke="#555" stroke-width="0.6"/>
<text x="28.83" y="19.91" font-size="5.81" text-anchor="end">0.2</text>
<line x1="31.67" y1="40.9" x2="33.7" y2="40.9" stroke="#555" stroke-width="0.6"/>
<text x="28.83" y="43.41" font-size="5.81" text-anchor="end">0.1</text>
<line x1="31.67" y1="64.4" x2="33.7" y2="64.4" stroke="#555" stroke-width="0.6"/>
<text x="28.83" y="66.91" font-size="5.81" text-anchor="end">0.0</text>
<line x1="31.67" y1="87.9" x2="33.7" y2="87.9" stroke="#555" stroke-width="0.6"/>
<text x="28.83" y="90.41" font-size="5.81" text-anchor="end">-0.1</text>
<line x1="31.67" y1="111.4" x2="33.7" y2="111.4" stroke="#555" stroke-width="0.6"/>
<text x="28.83" y="113.91" font-size="5.81" text-anchor="end">-0.2</text>
<line x1="44" y1="111.2" x2="44" y2="113.23" stroke="#555" stroke-width="0.6"/>
<text x="44" y="119.68" font-size="5.81" text-anchor="middle">0:00</text>
<line x1="75.05" y1="111.2" x2="75.05" y2="113.23" stroke="#555" stroke-width="0.6"/>
<text x="75.05" y="119.68" font-size="5.81" text-anchor="middle">0:15</text>
<line x1="106.1" y1="111.2" x2="106.1" y2="113.23" stroke="#555" stroke-width="0.6"/>
<text x="106.1" y="119.68" font-size="5.81" text-anchor="middle">0:30</text>
<line x1="137.15" y1="111.2" x2="137.15" y2="113.23" stroke="#555" stroke-width="0.6"/>
<text x="137.15" y="119.68" font-size="5.81" text-anchor="middle">0:45</text>
<line x1="168.2" y1="111.2" x2="168.2" y2="113.23" stroke="#555" stroke-width="0.6"/>
<text x="168.2" y="119.68" font-size="5.81" text-anchor="middle">1:00</text>
<line x1="199.25" y1="111.2" x2="199.25" y2="113.23" stroke="#555" stroke-width="0.6"/>
<text x="199.25" y="119.68" font-size="5.81" text-anchor="middle">1:15</text>
<line x1="230.3" y1="111.2" x2="230.3" y2="113.23" stroke="#555" stroke-width="0.6"/>
<text x="230.3" y="119.68" font-size="5.81" text-anchor="middle">1:30</text>
<text x="147.6" y="128.62" font-size="5.81" text-anchor="middle">Time (s)</text>
<text transform="translate(13.3,65) rotate(-90)" font-size="5.81" text-anchor="middle">Amplitude</text>
<text x="146.9" y="13.4" font-size="7.04" text-anchor="middle">Waveform: normal, SNR 6 dB, Noise type 0</text>
<text class="cap" x="134.6" y="157.7" font-family="'Liberation Serif', serif" font-size="12.6" fill="#000" text-anchor="middle">(<tspan font-weight="bold">a</tspan>)</text>
<g id="wfb"><defs><linearGradient id="gb" gradientUnits="userSpaceOnUse" x1="0" y1="41.3" x2="0" y2="89.3"><stop offset="0%" stop-color="#8cbce1"/><stop offset="29.2%" stop-color="#8cbce1"/><stop offset="33.5%" stop-color="#78afd9"/><stop offset="37.5%" stop-color="#78afd9"/><stop offset="39.4%" stop-color="#5d9dcf"/><stop offset="50%" stop-color="#5d9dcf"/><stop offset="60.6%" stop-color="#5d9dcf"/><stop offset="62.5%" stop-color="#78afd9"/><stop offset="66.5%" stop-color="#78afd9"/><stop offset="70.8%" stop-color="#8cbce1"/><stop offset="100%" stop-color="#8cbce1"/></linearGradient></defs><path d="M309.6,48.1 L310.1,46.1 L310.6,53 L311.1,54.1 L311.6,52 L312.1,54.7 L312.6,49.8 L313.1,52.4 L313.6,48.9 L314.1,48.1 L314.6,54 L315.1,51.3 L315.6,51.3 L316.1,51.6 L316.6,52.2 L317.1,53.2 L317.6,51.8 L318.1,54.7 L318.6,53 L319.1,49.6 L319.6,52.9 L320.1,55 L320.6,53.1 L321.1,55.4 L321.6,57.1 L322.1,56 L322.6,56.5 L323.1,53.3 L323.6,56.4 L324.1,58 L324.6,55.9 L325.1,56.4 L325.6,56 L326.1,57.6 L326.6,55.2 L327.1,56.7 L327.6,55.4 L328.1,55.6 L328.6,57.7 L329.1,55.1 L329.6,55.4 L330.1,56.3 L330.6,56.5 L331.1,55.1 L331.6,58.5 L332.1,56.1 L332.6,54.8 L333.1,55.1 L333.6,56.2 L334.1,55.5 L334.6,55.8 L335.1,54.8 L335.6,55 L336.1,55.1 L336.6,55.3 L337.1,56.4 L337.6,54.9 L338.1,54.9 L338.6,55 L339.1,57.4 L339.6,57 L340.1,54.8 L340.6,56.2 L341.1,54.5 L341.6,57.5 L342.1,56.2 L342.6,54.8 L343.1,55.2 L343.6,58 L344.1,57.9 L344.6,55.2 L345.1,58.1 L345.6,57.3 L346.1,55.9 L346.6,56.3 L347.1,56 L347.6,56.1 L348.1,56.9 L348.6,52.5 L349.1,51.7 L349.6,54.9 L350.1,52.2 L350.6,53.8 L351.1,53.2 L351.6,49.6 L352.1,51.9 L352.6,51.3 L353.1,48.2 L353.6,48.6 L354.1,50.1 L354.6,47.5 L355.1,44.2 L355.6,48.9 L356.1,50.9 L356.6,45.9 L357.1,53.3 L357.6,49.5 L358.1,48.8 L358.6,46.1 L359.1,49.4 L359.6,51.6 L360.1,54.9 L360.6,54.6 L361.1,53.2 L361.6,53.1 L362.1,56.8 L362.6,53.7 L363.1,55.8 L363.6,52.8 L364.1,54.9 L364.6,56.7 L365.1,58.1 L365.6,55.4 L366.1,54.7 L366.6,57.1 L367.1,56.6 L367.6,55.9 L368.1,52.7 L368.6,55.1 L369.1,56.1 L369.6,55.9 L370.1,55.1 L370.6,55.9 L371.1,55.6 L371.6,54.8 L372.1,55.9 L372.6,56.2 L373.1,55.7 L373.6,54.8 L374.1,54.7 L374.6,55.5 L375.1,55.8 L375.6,54.9 L376.1,53.5 L376.6,55.3 L377.1,57.9 L377.6,54.7 L378.1,55.3 L378.6,54.6 L379.1,55.3 L379.6,55.7 L380.1,57.8 L380.6,55.5 L381.1,56.7 L381.6,55.1 L382.1,55.8 L382.6,56.8 L383.1,55.9 L383.6,55.6 L384.1,56.3 L384.6,55.5 L385.1,55.3 L385.6,58.1 L386.1,57.8 L386.6,58.4 L387.1,55.9 L387.6,55.2 L388.1,57.4 L388.6,56.2 L389.1,55.4 L389.6,56.2 L390.1,57.1 L390.6,54.7 L391.1,55.8 L391.6,54.9 L392.1,56.3 L392.6,55.2 L393.1,56 L393.6,55.3 L394.1,56.6 L394.6,55.4 L395.1,54.8 L395.6,54.9 L396.1,55.4 L396.6,55.6 L397.1,55.2 L397.6,55.7 L398.1,53.5 L398.6,53.2 L399.1,54.1 L399.6,50.5 L400.1,49.7 L400.6,52.4 L401.1,49.5 L401.6,52.2 L402.1,53.6 L402.6,51.7 L403.1,51.3 L403.6,52.6 L404.1,51.9 L404.6,51.9 L405.1,51.3 L405.6,53.2 L406.1,53 L406.6,44 L407.1,48.7 L407.6,49.7 L408.1,55.4 L408.6,55.7 L409.1,54.1 L409.6,54.6 L410.1,57 L410.6,57.1 L411.1,55.9 L411.6,54.9 L412.1,55.7 L412.6,55.9 L413.1,56.6 L413.6,55.9 L414.1,55.9 L414.6,56.4 L415.1,54.9 L415.6,55.4 L416.1,54.9 L416.6,56.1 L417.1,54.9 L417.6,54.9 L418.1,57.6 L418.6,54.8 L419.1,55.6 L419.6,57 L420.1,55.3 L420.6,56.2 L421.1,57 L421.6,56.8 L422.1,57.9 L422.6,54.8 L423.1,54.9 L423.6,55.3 L424.1,54.9 L424.6,55.3 L425.1,56.6 L425.6,53.4 L426.1,54.9 L426.6,55.5 L427.1,55.8 L427.6,54.8 L428.1,56.4 L428.6,56.2 L429.1,56.3 L429.6,57.2 L430.1,56.1 L430.6,58 L431.1,56.5 L431.6,55.2 L432.1,56.4 L432.6,57.5 L433.1,55 L433.6,55.5 L434.1,55 L434.6,56.4 L435.1,55.2 L435.6,56.4 L436.1,55.8 L436.6,55.3 L437.1,55.1 L437.6,55.3 L438.1,56 L438.6,56.1 L439.1,55.2 L439.6,57.9 L440.1,55.4 L440.6,54.5 L441.1,54.4 L441.6,55.1 L442.1,51.4 L442.6,51.7 L443.1,52.4 L443.6,52.1 L444.1,51.4 L444.6,51.4 L445.1,53.6 L445.6,51.2 L446.1,52.8 L446.6,52.1 L447.1,51 L447.6,53.1 L448.1,55.3 L448.6,56.4 L449.1,53.7 L449.6,54.5 L450.1,54.7 L450.6,56.6 L451.1,55.4 L451.6,55.3 L452.1,56.4 L452.6,55.3 L453.1,57 L453.6,54.8 L454.1,57.9 L454.6,57.2 L455.1,54.7 L455.6,56.8 L456.1,56.5 L456.6,56.6 L457.1,56 L457.6,55.1 L458.1,56.7 L458.6,57.7 L459.1,55.8 L459.6,55.9 L460.1,55 L460.6,54.9 L461.1,57.4 L461.6,55.8 L462.1,55.9 L462.6,55.4 L463.1,57.2 L463.6,56.1 L464.1,56.5 L464.6,55.7 L465.1,55.8 L465.6,57.2 L466.1,56.5 L466.6,54.9 L467.1,56 L467.6,56.4 L468.1,55.9 L468.6,55.3 L469.1,55.3 L469.6,56.9 L470.1,56.7 L470.6,55.5 L471.1,55.9 L471.6,58 L472.1,55.7 L472.6,55.6 L473.1,57.4 L473.6,54.8 L474.1,55.7 L474.6,56.3 L475.1,55.6 L475.6,55 L476.1,55.4 L476.6,57.7 L477.1,57.5 L477.6,55.9 L478.1,57.2 L478.6,56.6 L479.1,55.6 L479.6,55.7 L480.1,55.3 L480.6,55.4 L481.1,54.9 L481.6,56.5 L482.1,56.6 L482.6,55.7 L483.1,57.7 L483.6,57.4 L484.1,57.2 L484.6,56.2 L485.1,54.9 L485.6,53.4 L486.1,52.6 L486.6,50.2 L487.1,50.4 L487.6,48.1 L488.1,48.7 L488.6,50.6 L489.1,49.7 L489.6,52.2 L490.1,48.2 L490.6,49.5 L491.1,46.1 L491.6,47 L492.1,51.7 L492.6,48.4 L493.1,46.6 L493.6,49.8 L494.1,47.2 L494.6,49.1 L495.1,46.7 L495.6,53.4 L496.1,51.9 L496.6,50.7 L497.1,49.1 L497.6,52.4 L498.1,54 L498.6,53.8 L499.1,53.4 L499.6,54 L500.1,57.3 L500.6,55.3 L501.1,56 L501.6,56 L502.1,56.1 L502.6,54.9 L503.1,55.1 L503.6,57.2 L504.1,54.8 L504.6,55.5 L505.1,56.7 L505.6,56.1 L506.1,56.7 L506.6,55.7 L507.1,56 L507.6,56.1 L508.1,56.4 L508.6,55.2 L509.1,56.1 L509.6,55.3 L510.1,55.4 L510.6,55.6 L511.1,57.2 L511.6,57.2 L512.1,56.8 L512.6,56.3 L513.1,56.9 L513.6,54.8 L514.1,56.9 L514.6,55.9 L515.1,57.3 L515.6,55.2 L516.1,54.9 L516.6,57.6 L517.1,57.7 L517.6,55.2 L518.1,55.6 L518.6,55.7 L519.1,55.7 L519.6,56.4 L520.1,55.3 L520.6,57.5 L521.1,55.3 L521.6,55.8 L522.1,56.6 L522.6,57.1 L523.1,54.9 L523.6,56.2 L524.1,55.6 L524.6,57.5 L525.1,57.2 L525.6,56 L526.1,55.2 L526.6,57.5 L527.1,55.6 L527.6,57.2 L528.1,56.2 L528.6,55.2 L529.1,53 L529.6,52 L530.1,54.7 L530.6,56.4 L531.1,49.6 L531.6,55.9 L531.6,79.4 L531.1,79.9 L530.6,76 L530.1,78.7 L529.6,74.1 L529.1,74.9 L528.6,77.2 L528.1,76.8 L527.6,76.7 L527.1,76.6 L526.6,73.9 L526.1,75.5 L525.6,75.1 L525.1,74 L524.6,75 L524.1,75 L523.6,73.4 L523.1,73.6 L522.6,73.2 L522.1,76.1 L521.6,75.7 L521.1,73.6 L520.6,75 L520.1,76.3 L519.6,75.6 L519.1,76 L518.6,75 L518.1,74.9 L517.6,76 L517.1,76.3 L516.6,75.8 L516.1,75.6 L515.6,73.9 L515.1,73.2 L514.6,75.2 L514.1,75.9 L513.6,73.9 L513.1,75.7 L512.6,76.1 L512.1,74.2 L511.6,75.3 L511.1,76 L510.6,75 L510.1,76 L509.6,75.5 L509.1,73.1 L508.6,74.9 L508.1,75.5 L507.6,75.7 L507.1,74.7 L506.6,74.3 L506.1,75.8 L505.6,76.1 L505.1,73.6 L504.6,75.8 L504.1,73.3 L503.6,75.9 L503.1,75.4 L502.6,75.5 L502.1,75.6 L501.6,74.9 L501.1,74.4 L500.6,75.4 L500.1,75.1 L499.6,76.2 L499.1,75.8 L498.6,76.3 L498.1,77.5 L497.6,77.7 L497.1,76.7 L496.6,78.1 L496.1,81.9 L495.6,78.7 L495.1,83.5 L494.6,82.6 L494.1,83.8 L493.6,83.9 L493.1,84.5 L492.6,82.1 L492.1,78.6 L491.6,78.1 L491.1,78.2 L490.6,87.3 L490.1,77.6 L489.6,82.1 L489.1,81.1 L488.6,82 L488.1,84.5 L487.6,83.9 L487.1,84.3 L486.6,77.4 L486.1,78.2 L485.6,75 L485.1,77.8 L484.6,75.8 L484.1,73.7 L483.6,74.3 L483.1,76.3 L482.6,76.2 L482.1,72.6 L481.6,74.2 L481.1,73.1 L480.6,75.2 L480.1,74.2 L479.6,75.7 L479.1,75.5 L478.6,75.3 L478.1,74.5 L477.6,73.3 L477.1,73.5 L476.6,75.3 L476.1,73.9 L475.6,76 L475.1,73.6 L474.6,72.7 L474.1,75.3 L473.6,73.1 L473.1,76.2 L472.6,76.1 L472.1,75.4 L471.6,75.4 L471.1,73.4 L470.6,74.2 L470.1,75.6 L469.6,74.8 L469.1,75.3 L468.6,76.2 L468.1,74.6 L467.6,74.8 L467.1,75.7 L466.6,75.2 L466.1,76 L465.6,72.9 L465.1,73.9 L464.6,76.1 L464.1,74.7 L463.6,74.2 L463.1,75.8 L462.6,76.2 L462.1,76.2 L461.6,73.5 L461.1,75.9 L460.6,74.3 L460.1,73.1 L459.6,75.1 L459.1,75.3 L458.6,73.2 L458.1,75.4 L457.6,74.9 L457.1,76.2 L456.6,75.6 L456.1,74.4 L455.6,74.4 L455.1,76.3 L454.6,76.2 L454.1,75 L453.6,75.6 L453.1,75.5 L452.6,75.4 L452.1,75.3 L451.6,74.9 L451.1,72.6 L450.6,75.7 L450.1,76 L449.6,76.2 L449.1,75 L448.6,76.6 L448.1,77.4 L447.6,75.1 L447.1,76.5 L446.6,79.2 L446.1,78.9 L445.6,78.9 L445.1,76.3 L444.6,77.7 L444.1,78.1 L443.6,77.9 L443.1,79.3 L442.6,74.9 L442.1,76.4 L441.6,75 L441.1,76.9 L440.6,76.3 L440.1,75.1 L439.6,76.2 L439.1,73.9 L438.6,74.5 L438.1,73.8 L437.6,73.8 L437.1,75.5 L436.6,76.3 L436.1,75.2 L435.6,75.7 L435.1,75.8 L434.6,75 L434.1,75.2 L433.6,75.4 L433.1,74.7 L432.6,74.7 L432.1,74.2 L431.6,74.6 L431.1,75.1 L430.6,72.5 L430.1,72.6 L429.6,74.7 L429.1,76.1 L428.6,75.5 L428.1,74.1 L427.6,74.9 L427.1,75.2 L426.6,75 L426.1,74 L425.6,73.6 L425.1,76 L424.6,74.1 L424.1,76.2 L423.6,76.2 L423.1,75.4 L422.6,75 L422.1,76.1 L421.6,75.1 L421.1,76.2 L420.6,74.8 L420.1,76.3 L419.6,75.3 L419.1,73.9 L418.6,77 L418.1,75.9 L417.6,74.5 L417.1,76.3 L416.6,74.6 L416.1,72.8 L415.6,75.1 L415.1,74 L414.6,73.3 L414.1,75.8 L413.6,74.5 L413.1,73.8 L412.6,73.5 L412.1,75.4 L411.6,74.2 L411.1,76 L410.6,75.5 L410.1,76 L409.6,73.6 L409.1,75.5 L408.6,79 L408.1,77.6 L407.6,76 L407.1,78.4 L406.6,81.9 L406.1,79.1 L405.6,75.4 L405.1,78.4 L404.6,81.9 L404.1,82.1 L403.6,78.7 L403.1,80.2 L402.6,76.6 L402.1,80.1 L401.6,81.4 L401.1,79.6 L400.6,80.9 L400.1,82.6 L399.6,76.8 L399.1,75.4 L398.6,76.2 L398.1,76.9 L397.6,77.2 L397.1,74 L396.6,76.4 L396.1,75.9 L395.6,74.6 L395.1,75.6 L394.6,74.8 L394.1,73.9 L393.6,75.3 L393.1,75.8 L392.6,75.6 L392.1,74.9 L391.6,76.1 L391.1,76.3 L390.6,76.2 L390.1,75.3 L389.6,73.2 L389.1,75.8 L388.6,75.5 L388.1,73.6 L387.6,75.9 L387.1,74.9 L386.6,73.9 L386.1,75.4 L385.6,75.6 L385.1,74.1 L384.6,75.4 L384.1,75.6 L383.6,76.3 L383.1,75.6 L382.6,76 L382.1,76.2 L381.6,75.5 L381.1,74.4 L380.6,76.3 L380.1,76.3 L379.6,73.4 L379.1,76.2 L378.6,75.3 L378.1,75.3 L377.6,74.7 L377.1,75.8 L376.6,76.4 L376.1,75.4 L375.6,73.5 L375.1,75.5 L374.6,75.3 L374.1,73.2 L373.6,73.1 L373.1,74.6 L372.6,75.5 L372.1,76.2 L371.6,76 L371.1,73.3 L370.6,76.1 L370.1,73.7 L369.6,74.6 L369.1,75.2 L368.6,74.4 L368.1,74.8 L367.6,74.9 L367.1,74.6 L366.6,76.2 L366.1,75.1 L365.6,73.5 L365.1,73.4 L364.6,72.9 L364.1,75.3 L363.6,75.6 L363.1,76.9 L362.6,76 L362.1,74.2 L361.6,74.3 L361.1,78.1 L360.6,78.1 L360.1,79 L359.6,76.5 L359.1,79 L358.6,85.8 L358.1,82.8 L357.6,81.5 L357.1,77.1 L356.6,82.4 L356.1,82.4 L355.6,82.5 L355.1,81.1 L354.6,83 L354.1,79.8 L353.6,79.1 L353.1,77.8 L352.6,82.7 L352.1,82.4 L351.6,79.6 L351.1,80.6 L350.6,77 L350.1,74.2 L349.6,77.2 L349.1,79 L348.6,75.3 L348.1,76.9 L347.6,74 L347.1,74.3 L346.6,73.9 L346.1,73.8 L345.6,74.1 L345.1,74.8 L344.6,75.8 L344.1,74.1 L343.6,75.9 L343.1,74.2 L342.6,73.9 L342.1,73.3 L341.6,75.5 L341.1,75.3 L340.6,74.9 L340.1,76.2 L339.6,73.7 L339.1,74.3 L338.6,74.4 L338.1,75.4 L337.6,74.2 L337.1,75.8 L336.6,75.3 L336.1,76.2 L335.6,76 L335.1,76.2 L334.6,75.2 L334.1,75.1 L333.6,75 L333.1,76.1 L332.6,74.9 L332.1,75.4 L331.6,76.1 L331.1,73.9 L330.6,75.7 L330.1,74.5 L329.6,75.8 L329.1,72.5 L328.6,75.1 L328.1,75 L327.6,75.3 L327.1,75.6 L326.6,75.4 L326.1,76.3 L325.6,73.7 L325.1,75.8 L324.6,74.6 L324.1,76.2 L323.6,76.1 L323.1,75.3 L322.6,74.3 L322.1,73.3 L321.6,77 L321.1,75.2 L320.6,74.5 L320.1,78.6 L319.6,78.5 L319.1,75.9 L318.6,76.8 L318.1,80.9 L317.6,77.3 L317.1,80.5 L316.6,77.1 L316.1,83.1 L315.6,79.4 L315.1,77.8 L314.6,80.2 L314.1,79.9 L313.6,78.6 L313.1,81.4 L312.6,79.9 L312.1,82.8 L311.6,81.7 L311.1,77.1 L310.6,78.8 L310.1,77.8 L309.6,78.9Z" fill="url(#gb)"/><path d="M309.7 56.3V77.7M310.2 51.6V78.9M310.8 51.7V80.9M311.4 57.6V81.3M312.3 52.2V73.3M313 55.6V80.5M314 49.8V81.2M314.5 50.5V80.4M315 50.9V74M315.9 56.6V81.5M316.9 54.5V74.5M317.7 50.9V77M318.5 50.5V80.4M319.2 56.6V78.4M349.2 58.9V73M350 56.9V75.6M350.6 55.4V74M351.4 52.7V72.8M351.9 56.7V78.1M352.3 48.1V80M353.1 49.6V79.9M353.9 50V81.2M354.5 52.3V84M355.4 55.2V75.3M355.9 54.4V80.1M356.6 47.9V78.5M357 47.5V77.3M357.7 51.2V79.9M358.4 47.5V79.2M359.1 49.8V75.4M360 53.8V76M360.7 53.5V72.9M361.3 53.7V77.2M361.9 56.9V74M362.8 55.6V72.8M363.7 56.4V75.2M376.2 56.8V72.7M376.6 59.2V75.8M377.3 55.4V72.9M378.1 54.8V76M399.3 55.4V74.4M400 54.2V74.4M400.4 52.9V81.4M401.3 52.4V81.4M402.3 54.6V80.2M402.9 57.1V80.3M403.7 49.1V79.7M404.4 51.2V80.3M405.1 56.6V76.1M406.1 49.7V73.7M406.8 51.8V76.4M407.3 50V79M442.2 56.2V78.7M443.2 52.3V72.1M444 52.8V78.5M445 52.5V78.2M445.9 57.7V78.3M446.7 53.9V71.8M447.2 55.6V73.2M447.8 56.1V72.5M486.6 53.3V80.4M487.1 50V78.4M487.6 56.1V73.9M488.1 49.7V78.2M488.6 55V78.6M489.5 54V76.5M490.4 48.6V74.5M491 49.5V81.1M491.7 55.1V76.8M492.5 49.7V78.8M493.3 49.7V79.3M494.1 48.5V80.9M494.7 50.1V74.7M495.2 50.9V82.2M496 50.2V80M496.6 51.9V77.2M529.2 58.2V78.5M530 56.7V74.2M530.9 54.2V77.2" stroke="#78aed9" stroke-width="0.75" fill="none"/><line x1="314" y1="47.8" x2="314" y2="83.8" stroke="#78aed9" stroke-width="1.3"/><line x1="353.4" y1="19.5" x2="353.4" y2="111.1" stroke="#78aed9" stroke-width="1.3"/><line x1="397.7" y1="46.7" x2="397.7" y2="84.9" stroke="#78aed9" stroke-width="1.3"/><line x1="407.5" y1="40.2" x2="407.5" y2="90.4" stroke="#78aed9" stroke-width="1.3"/><line x1="441.8" y1="46.7" x2="441.8" y2="83.8" stroke="#78aed9" stroke-width="1.3"/><line x1="463.6" y1="52.2" x2="463.6" y2="76.3" stroke="#78aed9" stroke-width="1.3"/><line x1="494.2" y1="44.5" x2="494.2" y2="86" stroke="#78aed9" stroke-width="1.3"/><line x1="531.3" y1="30.4" x2="531.3" y2="100.2" stroke="#78aed9" stroke-width="1.3"/><path d="M309.6,54.6 L310.1,55.5 L310.6,53 L311.1,55.3 L311.6,55.2 L312.1,54.7 L312.6,55.3 L313.1,52.8 L313.6,53.5 L314.1,55.6 L314.6,55.3 L315.1,54.3 L315.6,54.7 L316.1,52.2 L316.6,55.2 L317.1,53.2 L317.6,55.9 L318.1,54.7 L318.6,54.6 L319.1,55.1 L319.6,54.1 L320.1,57.5 L320.6,55.3 L321.1,57.8 L321.6,57.3 L322.1,57.6 L322.6,56.5 L323.1,57.7 L323.6,58.8 L324.1,59 L324.6,57.6 L325.1,57.5 L325.6,58.4 L326.1,57.6 L326.6,58.3 L327.1,57.4 L327.6,57.9 L328.1,57.8 L328.6,58.1 L329.1,56.5 L329.6,58 L330.1,58.6 L330.6,56.8 L331.1,58.7 L331.6,58.8 L332.1,57 L332.6,58.4 L333.1,56.7 L333.6,58.4 L334.1,56.6 L334.6,58.7 L335.1,56.5 L335.6,58.1 L336.1,57.5 L336.6,58.6 L337.1,56.7 L337.6,58.7 L338.1,56.9 L338.6,58.5 L339.1,57.8 L339.6,58.4 L340.1,57.7 L340.6,58.8 L341.1,58.8 L341.6,57.5 L342.1,58.1 L342.6,58.7 L343.1,58 L343.6,58.4 L344.1,58 L344.6,57.9 L345.1,58.1 L345.6,58.1 L346.1,57.8 L346.6,57 L347.1,57.6 L347.6,56.6 L348.1,57.7 L348.6,57.2 L349.1,56.8 L349.6,57.1 L350.1,56.6 L350.6,53.9 L351.1,53.3 L351.6,52.6 L352.1,53.4 L352.6,53.1 L353.1,53 L353.6,52.9 L354.1,51 L354.6,52 L355.1,53.6 L355.6,53.9 L356.1,52.6 L356.6,52.5 L357.1,53.3 L357.6,54.4 L358.1,54.2 L358.6,54.8 L359.1,53.9 L359.6,53.9 L360.1,55.1 L360.6,55.9 L361.1,55.3 L361.6,55.7 L362.1,56.8 L362.6,56.9 L363.1,57.9 L363.6,58.4 L364.1,56.4 L364.6,58.2 L365.1,58.1 L365.6,58.5 L366.1,57.2 L366.6,58.2 L367.1,56.8 L367.6,56.5 L368.1,57.6 L368.6,57.6 L369.1,58.8 L369.6,57.6 L370.1,57.2 L370.6,56.9 L371.1,57.4 L371.6,58.1 L372.1,58 L372.6,57.6 L373.1,58.4 L373.6,57.9 L374.1,57.1 L374.6,56.9 L375.1,58.7 L375.6,57.5 L376.1,57.8 L376.6,56.7 L377.1,57.9 L377.6,56.1 L378.1,56 L378.6,57.2 L379.1,57.6 L379.6,56.9 L380.1,57.8 L380.6,57.5 L381.1,57.9 L381.6,58.2 L382.1,56.5 L382.6,57.5 L383.1,58.2 L383.6,56.9 L384.1,56.7 L384.6,58.3 L385.1,58.8 L385.6,58.1 L386.1,57.8 L386.6,58.4 L387.1,58.6 L387.6,59 L388.1,58.7 L388.6,58.4 L389.1,58.2 L389.6,58.7 L390.1,58.7 L390.6,58.5 L391.1,57.8 L391.6,56.5 L392.1,58.2 L392.6,56.7 L393.1,57.2 L393.6,57.1 L394.1,57.9 L394.6,57.9 L395.1,57.9 L395.6,58.2 L396.1,58.1 L396.6,56.4 L397.1,58.4 L397.6,55.7 L398.1,55 L398.6,56.2 L399.1,55.3 L399.6,54 L400.1,55 L400.6,53.3 L401.1,54.7 L401.6,55.3 L402.1,53.6 L402.6,54.8 L403.1,54.7 L403.6,52.6 L404.1,53.7 L404.6,54.8 L405.1,55.2 L405.6,55.6 L406.1,53.2 L406.6,55 L407.1,54.2 L407.6,55.8 L408.1,55.4 L408.6,58 L409.1,57.3 L409.6,57.2 L410.1,57.2 L410.6,58.8 L411.1,56.9 L411.6,56.9 L412.1,58.1 L412.6,57.4 L413.1,57.4 L413.6,58.9 L414.1,56.5 L414.6,57.5 L415.1,58.9 L415.6,57.1 L416.1,58.1 L416.6,56.9 L417.1,57.4 L417.6,58.3 L418.1,57.6 L418.6,58.2 L419.1,57.6 L419.6,57 L420.1,57.6 L420.6,56.9 L421.1,57 L421.6,57.3 L422.1,57.9 L422.6,57.9 L423.1,57.4 L423.6,57.4 L424.1,57.5 L424.6,57.5 L425.1,57.6 L425.6,56.6 L426.1,56.6 L426.6,57 L427.1,58.4 L427.6,57.1 L428.1,57.2 L428.6,57.1 L429.1,56.7 L429.6,57.2 L430.1,57.1 L430.6,58.5 L431.1,57.6 L431.6,58.2 L432.1,57.6 L432.6,57.5 L433.1,57.3 L433.6,58.4 L434.1,56.5 L434.6,58.7 L435.1,58.3 L435.6,57.6 L436.1,58.4 L436.6,57.2 L437.1,56.6 L437.6,56.5 L438.1,57.3 L438.6,57.9 L439.1,57.8 L439.6,58.1 L440.1,56.8 L440.6,57.5 L441.1,56.7 L441.6,56.8 L442.1,56.3 L442.6,55 L443.1,55.6 L443.6,57 L444.1,55.3 L444.6,56.2 L445.1,55.5 L445.6,56.3 L446.1,55.1 L446.6,56.8 L447.1,55.8 L447.6,54.5 L448.1,56.2 L448.6,56.4 L449.1,57.2 L449.6,57 L450.1,58.1 L450.6,58.4 L451.1,58.8 L451.6,58.3 L452.1,57.5 L452.6,58.7 L453.1,57 L453.6,58.4 L454.1,57.9 L454.6,58.6 L455.1,58.5 L455.6,58.1 L456.1,58.8 L456.6,58.6 L457.1,56.8 L457.6,57.4 L458.1,57.5 L458.6,59 L459.1,57.3 L459.6,57.2 L460.1,57.5 L460.6,58.1 L461.1,58.6 L461.6,56.7 L462.1,57.3 L462.6,58.9 L463.1,57.2 L463.6,56.9 L464.1,57.7 L464.6,58 L465.1,57.4 L465.6,57.6 L466.1,57.8 L466.6,58.2 L467.1,58 L467.6,58.5 L468.1,57.2 L468.6,57.4 L469.1,58.9 L469.6,57.6 L470.1,58 L470.6,57.3 L471.1,57.4 L471.6,58.8 L472.1,57.7 L472.6,56.6 L473.1,57.4 L473.6,57.9 L474.1,58.6 L474.6,58.1 L475.1,58.3 L475.6,57.8 L476.1,57.3 L476.6,58.5 L477.1,58.7 L477.6,56.9 L478.1,58.8 L478.6,58.7 L479.1,57 L479.6,57.3 L480.1,58.9 L480.6,58 L481.1,57.3 L481.6,58.8 L482.1,56.8 L482.6,57.8 L483.1,58.4 L483.6,57.4 L484.1,57.2 L484.6,57.5 L485.1,55.5 L485.6,55.9 L486.1,53.2 L486.6,54.7 L487.1,52.4 L487.6,52.6 L488.1,50 L488.6,53.8 L489.1,53.2 L489.6,52.4 L490.1,51.5 L490.6,49.7 L491.1,50.1 L491.6,52.8 L492.1,53 L492.6,53.4 L493.1,51.6 L493.6,53 L494.1,50.8 L494.6,49.6 L495.1,50.7 L495.6,53.4 L496.1,54.1 L496.6,53.3 L497.1,54.2 L497.6,55.2 L498.1,54.2 L498.6,56.9 L499.1,56.4 L499.6,56.8 L500.1,58 L500.6,57 L501.1,57.3 L501.6,58.8 L502.1,58 L502.6,58.5 L503.1,58.3 L503.6,58.5 L504.1,57.5 L504.6,56.6 L505.1,57.5 L505.6,58.1 L506.1,57.4 L506.6,58.5 L507.1,58.2 L507.6,57.4 L508.1,56.7 L508.6,57.6 L509.1,57.7 L509.6,57 L510.1,56.9 L510.6,58.4 L511.1,57.2 L511.6,57.2 L512.1,58.6 L512.6,58.3 L513.1,58.3 L513.6,56.6 L514.1,57.6 L514.6,58.7 L515.1,57.5 L515.6,58.2 L516.1,56.9 L516.6,58.9 L517.1,58.4 L517.6,56.8 L518.1,57.3 L518.6,58.7 L519.1,58.5 L519.6,56.7 L520.1,56.8 L520.6,57.5 L521.1,57.5 L521.6,57.2 L522.1,57.2 L522.6,57.8 L523.1,58.7 L523.6,58.1 L524.1,57.8 L524.6,58.8 L525.1,57.2 L525.6,56.6 L526.1,56.7 L526.6,57.5 L527.1,56.7 L527.6,57.2 L528.1,58.5 L528.6,56.4 L529.1,57.4 L529.6,56.6 L530.1,57.6 L530.6,57.1 L531.1,55.7 L531.6,56.8 L531.6,75 L531.1,74.9 L530.6,74.1 L530.1,72.9 L529.6,72.5 L529.1,74.5 L528.6,72.7 L528.1,74.5 L527.6,73.3 L527.1,72.5 L526.6,71.9 L526.1,73 L525.6,72.3 L525.1,73.1 L524.6,72.2 L524.1,73.2 L523.6,73.2 L523.1,72.3 L522.6,71.9 L522.1,74.1 L521.6,71.9 L521.1,73 L520.6,72.2 L520.1,73.6 L519.6,73.9 L519.1,72.9 L518.6,72.7 L518.1,73.3 L517.6,73.8 L517.1,72.4 L516.6,72 L516.1,72 L515.6,72.8 L515.1,72.8 L514.6,72.8 L514.1,74.1 L513.6,72.7 L513.1,72.7 L512.6,73.7 L512.1,73.9 L511.6,73.1 L511.1,72.9 L510.6,74.1 L510.1,72 L509.6,73.2 L509.1,72.4 L508.6,73.2 L508.1,73.7 L507.6,72.4 L507.1,72.4 L506.6,72.9 L506.1,73.7 L505.6,73.5 L505.1,72.7 L504.6,74 L504.1,72 L503.6,71.9 L503.1,71.9 L502.6,72.2 L502.1,71.8 L501.6,73.3 L501.1,71.6 L500.6,74.1 L500.1,73.6 L499.6,74.5 L499.1,74 L498.6,74.4 L498.1,74.9 L497.6,76.1 L497.1,76.3 L496.6,77.2 L496.1,79.2 L495.6,76.7 L495.1,78.9 L494.6,79.1 L494.1,78.1 L493.6,80.1 L493.1,78.9 L492.6,80.1 L492.1,78.6 L491.6,78.1 L491.1,78.2 L490.6,77.3 L490.1,77.6 L489.6,80.2 L489.1,77.9 L488.6,79.6 L488.1,77.9 L487.6,77.7 L487.1,77.7 L486.6,76.5 L486.1,76.7 L485.6,75 L485.1,75.1 L484.6,74.9 L484.1,73.7 L483.6,72 L483.1,72.5 L482.6,73.5 L482.1,72.6 L481.6,73.6 L481.1,72 L480.6,74 L480.1,72.5 L479.6,73.4 L479.1,72.3 L478.6,71.9 L478.1,74 L477.6,71.8 L477.1,73.5 L476.6,74 L476.1,73.4 L475.6,72.9 L475.1,73.3 L474.6,72.2 L474.1,73.7 L473.6,72.3 L473.1,73.3 L472.6,73.8 L472.1,72.1 L471.6,72.8 L471.1,72.7 L470.6,73.7 L470.1,72.3 L469.6,73.2 L469.1,71.9 L468.6,72.1 L468.1,73.5 L467.6,72.1 L467.1,72.7 L466.6,73.5 L466.1,73 L465.6,71.8 L465.1,71.6 L464.6,73.1 L464.1,72.4 L463.6,73.2 L463.1,73.1 L462.6,72.1 L462.1,72.3 L461.6,72.9 L461.1,72.2 L460.6,73.4 L460.1,72.7 L459.6,72.4 L459.1,72.7 L458.6,72.3 L458.1,72.8 L457.6,72.2 L457.1,72.4 L456.6,73 L456.1,71.9 L455.6,73.2 L455.1,74.1 L454.6,73.2 L454.1,72 L453.6,74.1 L453.1,74.1 L452.6,72.2 L452.1,73.8 L451.6,73 L451.1,72.6 L450.6,73.9 L450.1,72.4 L449.6,73.3 L449.1,72.6 L448.6,74.7 L448.1,74.3 L447.6,73.4 L447.1,75.1 L446.6,76.4 L446.1,73.7 L445.6,76.7 L445.1,75.8 L444.6,74.8 L444.1,74.9 L443.6,75.5 L443.1,73.9 L442.6,74.2 L442.1,75.3 L441.6,72.5 L441.1,73.8 L440.6,74 L440.1,72.8 L439.6,72.3 L439.1,72.9 L438.6,73.3 L438.1,73.5 L437.6,73.2 L437.1,73.1 L436.6,72.8 L436.1,73.3 L435.6,73.8 L435.1,73.8 L434.6,73.9 L434.1,72.4 L433.6,73.9 L433.1,73.7 L432.6,72.3 L432.1,73.1 L431.6,73.1 L431.1,73.9 L430.6,72.2 L430.1,71.6 L429.6,72.6 L429.1,74 L428.6,74.1 L428.1,73.1 L427.6,71.6 L427.1,72.6 L426.6,73.3 L426.1,74 L425.6,73 L425.1,72.3 L424.6,74 L424.1,73.2 L423.6,72.6 L423.1,72.4 L422.6,72.6 L422.1,71.7 L421.6,72.4 L421.1,72.3 L420.6,73.8 L420.1,72.7 L419.6,72.4 L419.1,72.2 L418.6,72.5 L418.1,72.9 L417.6,73.3 L417.1,72.2 L416.6,72.7 L416.1,72.2 L415.6,71.7 L415.1,73.5 L414.6,73.3 L414.1,74 L413.6,72.8 L413.1,71.8 L412.6,73.2 L412.1,73.4 L411.6,73.3 L411.1,74 L410.6,72.3 L410.1,72.8 L409.6,72.5 L409.1,72.5 L408.6,72.9 L408.1,73.2 L407.6,74.5 L407.1,74.4 L406.6,74.5 L406.1,76.9 L405.6,75.4 L405.1,77.1 L404.6,75.5 L404.1,76.4 L403.6,77.5 L403.1,75.7 L402.6,75.9 L402.1,76 L401.6,75.1 L401.1,75.6 L400.6,77 L400.1,76.5 L399.6,75.9 L399.1,75.4 L398.6,74.3 L398.1,75.3 L397.6,74.3 L397.1,74 L396.6,72.9 L396.1,71.9 L395.6,72.3 L395.1,73.7 L394.6,74 L394.1,73.9 L393.6,72.2 L393.1,73.7 L392.6,73.4 L392.1,72.6 L391.6,71.9 L391.1,72.3 L390.6,72.5 L390.1,71.8 L389.6,73.2 L389.1,73 L388.6,71.9 L388.1,73.6 L387.6,74.1 L387.1,72.5 L386.6,72.7 L386.1,73.8 L385.6,73.1 L385.1,73.3 L384.6,73.9 L384.1,71.9 L383.6,73.6 L383.1,72.2 L382.6,71.9 L382.1,71.9 L381.6,73.5 L381.1,72.9 L380.6,73.7 L380.1,72.6 L379.6,73.4 L379.1,74.2 L378.6,73.2 L378.1,73.4 L377.6,73.5 L377.1,73.7 L376.6,73.7 L376.1,73.5 L375.6,73.3 L375.1,73.2 L374.6,72 L374.1,71.9 L373.6,73 L373.1,72.9 L372.6,71.7 L372.1,72.2 L371.6,72.8 L371.1,72.4 L370.6,74 L370.1,73 L369.6,73.1 L369.1,73.5 L368.6,73.9 L368.1,74.1 L367.6,72.2 L367.1,72.9 L366.6,74.1 L366.1,74.2 L365.6,72.8 L365.1,73.4 L364.6,72.9 L364.1,74 L363.6,72.2 L363.1,72.6 L362.6,74.5 L362.1,74.2 L361.6,74.3 L361.1,74.4 L360.6,74.1 L360.1,76.7 L359.6,74.9 L359.1,76 L358.6,76.6 L358.1,78.1 L357.6,77.5 L357.1,76.8 L356.6,79.9 L356.1,80.2 L355.6,80 L355.1,76.3 L354.6,77.3 L354.1,78.7 L353.6,79.1 L353.1,76.1 L352.6,75.5 L352.1,78.1 L351.6,75.5 L351.1,74.8 L350.6,74.1 L350.1,74.2 L349.6,74.1 L349.1,72.9 L348.6,74.3 L348.1,73.4 L347.6,72.5 L347.1,74.3 L346.6,73 L346.1,71.7 L345.6,72.1 L345.1,73.1 L344.6,72.6 L344.1,71.7 L343.6,74 L343.1,73.3 L342.6,72.1 L342.1,73.3 L341.6,73.3 L341.1,72.4 L340.6,73.2 L340.1,71.7 L339.6,73.1 L339.1,72.1 L338.6,73.2 L338.1,72.7 L337.6,73.2 L337.1,72.5 L336.6,72 L336.1,72.9 L335.6,71.8 L335.1,73.6 L334.6,72 L334.1,71.7 L333.6,73.5 L333.1,73.4 L332.6,74 L332.1,72.7 L331.6,74.1 L331.1,72.9 L330.6,72.2 L330.1,73.3 L329.6,72 L329.1,71.8 L328.6,72.5 L328.1,72.3 L327.6,74 L327.1,73.1 L326.6,73.3 L326.1,73.1 L325.6,72.2 L325.1,73.6 L324.6,73.6 L324.1,72.1 L323.6,73.3 L323.1,73.7 L322.6,73.1 L322.1,73.3 L321.6,73.3 L321.1,74.5 L320.6,74.5 L320.1,73.2 L319.6,73.8 L319.1,75.9 L318.6,76.8 L318.1,75.6 L317.6,76.7 L317.1,75.9 L316.6,75.5 L316.1,75.4 L315.6,77.2 L315.1,77.3 L314.6,77.9 L314.1,75.2 L313.6,75.2 L313.1,75.7 L312.6,76.4 L312.1,78 L311.6,75.4 L311.1,77.1 L310.6,78.2 L310.1,77.8 L309.6,77.8Z" fill="url(#gb)"/><path d="M309.6,57.4 L310.1,58.3 L310.6,57.4 L311.1,57.6 L311.6,57.4 L312.1,57.8 L312.6,58.8 L313.1,57.5 L313.6,57.2 L314.1,57.8 L314.6,58.2 L315.1,58.7 L315.6,57 L316.1,57.3 L316.6,58.8 L317.1,57.6 L317.6,58.1 L318.1,58.7 L318.6,58.4 L319.1,58.1 L319.6,58.9 L320.1,59.6 L320.6,60 L321.1,60.3 L321.6,59.4 L322.1,60.5 L322.6,60.3 L323.1,59.8 L323.6,60.5 L324.1,60.5 L324.6,59.7 L325.1,60.7 L325.6,60 L326.1,60.3 L326.6,60.1 L327.1,59.9 L327.6,60.9 L328.1,60.9 L328.6,60.9 L329.1,60.2 L329.6,60.9 L330.1,60.6 L330.6,60.3 L331.1,60.7 L331.6,60.7 L332.1,60.5 L332.6,60.8 L333.1,60.6 L333.6,59.8 L334.1,59.8 L334.6,60.1 L335.1,60.2 L335.6,60.4 L336.1,60.5 L336.6,60.9 L337.1,60.6 L337.6,60.2 L338.1,59.7 L338.6,60 L339.1,59.9 L339.6,60.5 L340.1,60 L340.6,60.1 L341.1,60.3 L341.6,60.5 L342.1,60 L342.6,60.4 L343.1,60.1 L343.6,60.5 L344.1,60.6 L344.6,59.9 L345.1,60.1 L345.6,60.5 L346.1,60.1 L346.6,60.8 L347.1,59.9 L347.6,59.7 L348.1,59.5 L348.6,60.4 L349.1,59.8 L349.6,58.7 L350.1,59.7 L350.6,58 L351.1,58.8 L351.6,58.7 L352.1,58.7 L352.6,56.8 L353.1,56.8 L353.6,56 L354.1,56.7 L354.6,55.5 L355.1,57.1 L355.6,56.1 L356.1,56.1 L356.6,57.6 L357.1,57.6 L357.6,57.1 L358.1,57.4 L358.6,57.7 L359.1,58.3 L359.6,58.4 L360.1,59.4 L360.6,58.4 L361.1,59.3 L361.6,59.4 L362.1,59.6 L362.6,60.4 L363.1,59.9 L363.6,60.1 L364.1,60.1 L364.6,60.6 L365.1,59.5 L365.6,60.8 L366.1,59.7 L366.6,60.1 L367.1,60.3 L367.6,60.7 L368.1,60.2 L368.6,60.9 L369.1,60.1 L369.6,60.5 L370.1,60.7 L370.6,60 L371.1,60.7 L371.6,60.1 L372.1,60.7 L372.6,59.7 L373.1,60.4 L373.6,59.8 L374.1,59.7 L374.6,60.8 L375.1,59.7 L375.6,60.7 L376.1,60 L376.6,59.6 L377.1,59.8 L377.6,59.6 L378.1,60.5 L378.6,59.7 L379.1,60.1 L379.6,60.5 L380.1,60.9 L380.6,60.4 L381.1,60.7 L381.6,59.9 L382.1,59.8 L382.6,60.8 L383.1,60.1 L383.6,60.3 L384.1,59.7 L384.6,60.1 L385.1,60.2 L385.6,60.3 L386.1,60.5 L386.6,60.6 L387.1,60 L387.6,59.7 L388.1,59.8 L388.6,60.2 L389.1,60 L389.6,60.6 L390.1,60.7 L390.6,60.5 L391.1,60.7 L391.6,60.3 L392.1,60.6 L392.6,60.9 L393.1,60.7 L393.6,59.9 L394.1,60.6 L394.6,60.2 L395.1,59.7 L395.6,60.6 L396.1,59.9 L396.6,60.2 L397.1,59.3 L397.6,59.3 L398.1,59.8 L398.6,59.6 L399.1,59.3 L399.6,59 L400.1,57.5 L400.6,57.7 L401.1,56.9 L401.6,58.6 L402.1,58 L402.6,57.4 L403.1,58.4 L403.6,57.7 L404.1,57.6 L404.6,56.9 L405.1,57.6 L405.6,57.8 L406.1,58.8 L406.6,58.4 L407.1,59.5 L407.6,58.7 L408.1,59 L408.6,59.2 L409.1,59.5 L409.6,60.6 L410.1,60.2 L410.6,60.3 L411.1,61 L411.6,59.8 L412.1,60.7 L412.6,60.7 L413.1,60.3 L413.6,60 L414.1,60.1 L414.6,60 L415.1,59.9 L415.6,60.2 L416.1,60.7 L416.6,60.3 L417.1,61 L417.6,59.9 L418.1,60.7 L418.6,60.5 L419.1,60 L419.6,59.9 L420.1,60.2 L420.6,60.2 L421.1,60.8 L421.6,60.7 L422.1,60.1 L422.6,59.8 L423.1,60.1 L423.6,60 L424.1,60.7 L424.6,60.9 L425.1,60.9 L425.6,60.1 L426.1,60.5 L426.6,60.3 L427.1,60.6 L427.6,60.6 L428.1,60.3 L428.6,60.4 L429.1,60.3 L429.6,60.2 L430.1,60.1 L430.6,59.9 L431.1,60.6 L431.6,60 L432.1,60.5 L432.6,60.6 L433.1,60.1 L433.6,60.5 L434.1,60.6 L434.6,60.3 L435.1,60.9 L435.6,59.8 L436.1,60.6 L436.6,59.7 L437.1,60.8 L437.6,60.3 L438.1,60.4 L438.6,60.6 L439.1,60.6 L439.6,60 L440.1,60.2 L440.6,60.6 L441.1,60.4 L441.6,60 L442.1,59.7 L442.6,59.5 L443.1,58.7 L443.6,59.6 L444.1,58.6 L444.6,59 L445.1,58.2 L445.6,58.2 L446.1,58.9 L446.6,58.7 L447.1,59 L447.6,58.3 L448.1,58.6 L448.6,59.7 L449.1,59.7 L449.6,60.5 L450.1,59.9 L450.6,59.9 L451.1,60.5 L451.6,60.6 L452.1,59.9 L452.6,60.1 L453.1,60.9 L453.6,60.4 L454.1,60.9 L454.6,60.5 L455.1,60 L455.6,60.2 L456.1,60 L456.6,59.9 L457.1,60.3 L457.6,60.4 L458.1,60.8 L458.6,59.9 L459.1,60.4 L459.6,60.2 L460.1,60.9 L460.6,59.8 L461.1,60.9 L461.6,60.4 L462.1,59.8 L462.6,60.9 L463.1,59.8 L463.6,60.5 L464.1,59.8 L464.6,60.8 L465.1,59.8 L465.6,59.9 L466.1,60.7 L466.6,60.6 L467.1,60 L467.6,60.3 L468.1,60.6 L468.6,60.4 L469.1,60.5 L469.6,60.5 L470.1,60.6 L470.6,59.9 L471.1,60.6 L471.6,60 L472.1,59.8 L472.6,60.3 L473.1,59.8 L473.6,60.7 L474.1,60.6 L474.6,60.8 L475.1,60.4 L475.6,60.5 L476.1,60.1 L476.6,60 L477.1,59.9 L477.6,60.3 L478.1,60.2 L478.6,60.2 L479.1,60.4 L479.6,60.3 L480.1,60.6 L480.6,60.9 L481.1,60 L481.6,59.8 L482.1,60.4 L482.6,60.6 L483.1,59.9 L483.6,60.4 L484.1,59.2 L484.6,60.2 L485.1,59.6 L485.6,59.7 L486.1,58.5 L486.6,57 L487.1,57.4 L487.6,56.8 L488.1,57.4 L488.6,55.6 L489.1,56.1 L489.6,56.9 L490.1,57 L490.6,56.5 L491.1,56.1 L491.6,56.1 L492.1,56.4 L492.6,56.3 L493.1,54.9 L493.6,55 L494.1,56 L494.6,56 L495.1,56.8 L495.6,57.5 L496.1,57.7 L496.6,57.9 L497.1,56.9 L497.6,58.3 L498.1,59.4 L498.6,60 L499.1,59 L499.6,60 L500.1,60.3 L500.6,60.1 L501.1,60.4 L501.6,60.4 L502.1,59.8 L502.6,59.8 L503.1,60.2 L503.6,60.5 L504.1,59.9 L504.6,60.5 L505.1,60.7 L505.6,59.9 L506.1,60.2 L506.6,60.7 L507.1,59.8 L507.6,60.3 L508.1,60.9 L508.6,60.3 L509.1,60.2 L509.6,60.3 L510.1,60.2 L510.6,59.9 L511.1,60.7 L511.6,59.7 L512.1,59.8 L512.6,60.3 L513.1,60.8 L513.6,59.8 L514.1,60.3 L514.6,60.9 L515.1,60.9 L515.6,60.1 L516.1,60.3 L516.6,60.7 L517.1,60.4 L517.6,60.9 L518.1,59.8 L518.6,60.6 L519.1,59.9 L519.6,59.8 L520.1,59.9 L520.6,60.1 L521.1,60.5 L521.6,60.1 L522.1,60 L522.6,60.4 L523.1,60.6 L523.6,60.2 L524.1,60.8 L524.6,59.9 L525.1,60.3 L525.6,60.2 L526.1,60.1 L526.6,60.7 L527.1,60.4 L527.6,60.2 L528.1,59.6 L528.6,59.4 L529.1,59.8 L529.6,59.9 L530.1,59.2 L530.6,59 L531.1,58.9 L531.6,60 L531.6,71.8 L531.1,71.7 L530.6,71.1 L530.1,71 L529.6,71.2 L529.1,71.2 L528.6,70.5 L528.1,70 L527.6,70.9 L527.1,70.1 L526.6,69.9 L526.1,70 L525.6,69.7 L525.1,70.1 L524.6,70.7 L524.1,69.9 L523.6,69.7 L523.1,70.8 L522.6,69.9 L522.1,70.7 L521.6,69.9 L521.1,70.5 L520.6,69.9 L520.1,70.3 L519.6,70.8 L519.1,69.7 L518.6,70.4 L518.1,69.6 L517.6,70.7 L517.1,70 L516.6,69.9 L516.1,69.8 L515.6,70.9 L515.1,69.8 L514.6,70.1 L514.1,69.9 L513.6,70 L513.1,70 L512.6,70.4 L512.1,70.8 L511.6,70.3 L511.1,70.7 L510.6,69.7 L510.1,69.8 L509.6,70.3 L509.1,70 L508.6,70.1 L508.1,69.7 L507.6,69.8 L507.1,70.7 L506.6,70 L506.1,69.7 L505.6,70.2 L505.1,70.5 L504.6,70.9 L504.1,70 L503.6,69.7 L503.1,69.7 L502.6,70.2 L502.1,70.1 L501.6,70.4 L501.1,70.8 L500.6,69.7 L500.1,70.2 L499.6,71.2 L499.1,71.3 L498.6,71.5 L498.1,72 L497.6,71.9 L497.1,73 L496.6,73.7 L496.1,74.1 L495.6,72.8 L495.1,74.3 L494.6,74.9 L494.1,73.8 L493.6,74.6 L493.1,74 L492.6,74.9 L492.1,73.5 L491.6,74.4 L491.1,74.4 L490.6,74.8 L490.1,74.9 L489.6,73.1 L489.1,72.8 L488.6,74.2 L488.1,73.1 L487.6,72.4 L487.1,72.2 L486.6,73 L486.1,72.6 L485.6,71.6 L485.1,71 L484.6,71 L484.1,70.1 L483.6,70.1 L483.1,70.1 L482.6,70.7 L482.1,70.8 L481.6,69.7 L481.1,70.1 L480.6,69.9 L480.1,69.9 L479.6,70.6 L479.1,69.7 L478.6,70.9 L478.1,70.8 L477.6,69.8 L477.1,70.9 L476.6,70.7 L476.1,69.9 L475.6,70.8 L475.1,69.7 L474.6,70.1 L474.1,70 L473.6,70.4 L473.1,70.5 L472.6,69.6 L472.1,69.9 L471.6,69.6 L471.1,70.2 L470.6,70.1 L470.1,69.8 L469.6,70.3 L469.1,70.8 L468.6,70.3 L468.1,70.9 L467.6,70.2 L467.1,70.1 L466.6,70.3 L466.1,70.8 L465.6,70.7 L465.1,69.8 L464.6,69.9 L464.1,70.1 L463.6,70 L463.1,70.4 L462.6,70.7 L462.1,70.3 L461.6,70.8 L461.1,70.2 L460.6,70.1 L460.1,70 L459.6,70.6 L459.1,70.6 L458.6,70 L458.1,70.8 L457.6,69.9 L457.1,70.8 L456.6,70.4 L456.1,70.7 L455.6,69.7 L455.1,69.7 L454.6,70.7 L454.1,69.8 L453.6,70.5 L453.1,70.4 L452.6,70.8 L452.1,70.1 L451.6,70.8 L451.1,70.8 L450.6,70.5 L450.1,71.2 L449.6,70.9 L449.1,70.5 L448.6,70.6 L448.1,71.5 L447.6,71.9 L447.1,70.7 L446.6,72.3 L446.1,70.9 L445.6,72.4 L445.1,72.1 L444.6,71.7 L444.1,71.9 L443.6,71.5 L443.1,72 L442.6,71.5 L442.1,71.1 L441.6,71.2 L441.1,70.3 L440.6,70.4 L440.1,70.5 L439.6,71 L439.1,69.9 L438.6,70 L438.1,70.8 L437.6,70.9 L437.1,70.1 L436.6,70.2 L436.1,69.7 L435.6,70.9 L435.1,70.6 L434.6,70.7 L434.1,70.2 L433.6,70.5 L433.1,70.4 L432.6,70 L432.1,70.4 L431.6,70 L431.1,69.9 L430.6,70.1 L430.1,69.8 L429.6,70.1 L429.1,70.3 L428.6,69.8 L428.1,70.4 L427.6,70.1 L427.1,69.9 L426.6,70.8 L426.1,70.1 L425.6,70.2 L425.1,70.8 L424.6,70.2 L424.1,70.5 L423.6,70.5 L423.1,69.9 L422.6,70.7 L422.1,69.7 L421.6,70.6 L421.1,69.8 L420.6,69.7 L420.1,70.5 L419.6,70.7 L419.1,70 L418.6,70 L418.1,70.1 L417.6,69.8 L417.1,69.7 L416.6,70.4 L416.1,70.1 L415.6,70.5 L415.1,70 L414.6,70.8 L414.1,70.5 L413.6,70.4 L413.1,70.4 L412.6,70.8 L412.1,70.4 L411.6,70.7 L411.1,69.8 L410.6,70.1 L410.1,69.8 L409.6,70 L409.1,70.7 L408.6,71.3 L408.1,70.4 L407.6,71.8 L407.1,72.1 L406.6,71.2 L406.1,72.9 L405.6,72.1 L405.1,72.3 L404.6,72.3 L404.1,72.3 L403.6,72 L403.1,72.3 L402.6,73.7 L402.1,72.5 L401.6,72.6 L401.1,72.9 L400.6,72.9 L400.1,72.5 L399.6,72.8 L399.1,72.1 L398.6,71.3 L398.1,70.8 L397.6,70.2 L397.1,70 L396.6,71 L396.1,70 L395.6,70.9 L395.1,70.3 L394.6,70.3 L394.1,70.6 L393.6,70.4 L393.1,69.7 L392.6,69.9 L392.1,69.7 L391.6,70.4 L391.1,69.9 L390.6,70 L390.1,70.8 L389.6,70.5 L389.1,70.6 L388.6,69.7 L388.1,70.3 L387.6,70.6 L387.1,70.1 L386.6,70.4 L386.1,70.1 L385.6,70.7 L385.1,70.4 L384.6,70 L384.1,70.3 L383.6,70.9 L383.1,70.5 L382.6,70.4 L382.1,70 L381.6,70.8 L381.1,70 L380.6,70.6 L380.1,70 L379.6,69.9 L379.1,70.3 L378.6,69.8 L378.1,70.6 L377.6,70.9 L377.1,70.1 L376.6,70.4 L376.1,69.9 L375.6,70.9 L375.1,70.9 L374.6,70.7 L374.1,70.9 L373.6,70 L373.1,70 L372.6,70 L372.1,69.8 L371.6,70 L371.1,70.6 L370.6,70.6 L370.1,69.9 L369.6,70.6 L369.1,70.7 L368.6,69.7 L368.1,70.4 L367.6,70.2 L367.1,70.2 L366.6,70.3 L366.1,70.6 L365.6,69.9 L365.1,70.7 L364.6,70.3 L364.1,70.9 L363.6,71 L363.1,71.1 L362.6,71.3 L362.1,70.5 L361.6,70.8 L361.1,71.9 L360.6,71 L360.1,72 L359.6,72.9 L359.1,72.7 L358.6,73.4 L358.1,73.1 L357.6,73.4 L357.1,74.4 L356.6,73.9 L356.1,73.9 L355.6,73.7 L355.1,73.1 L354.6,73.1 L354.1,72.6 L353.6,72.4 L353.1,72.8 L352.6,72.7 L352.1,73.3 L351.6,71.7 L351.1,72.2 L350.6,71.6 L350.1,72 L349.6,70.7 L349.1,71.6 L348.6,71 L348.1,70.1 L347.6,70.4 L347.1,71 L346.6,70.8 L346.1,69.8 L345.6,69.9 L345.1,70.9 L344.6,69.8 L344.1,69.8 L343.6,70 L343.1,69.9 L342.6,70.3 L342.1,70 L341.6,70.6 L341.1,70.4 L340.6,70.8 L340.1,70.1 L339.6,70.2 L339.1,70.6 L338.6,70.5 L338.1,70.9 L337.6,70.8 L337.1,70.2 L336.6,70.7 L336.1,70.7 L335.6,70.1 L335.1,70.2 L334.6,70.9 L334.1,70.5 L333.6,69.6 L333.1,70 L332.6,70.3 L332.1,70.6 L331.6,70.1 L331.1,70.1 L330.6,69.8 L330.1,69.8 L329.6,69.8 L329.1,70.9 L328.6,70.7 L328.1,69.8 L327.6,70.3 L327.1,69.8 L326.6,70.5 L326.1,70.4 L325.6,70.2 L325.1,69.7 L324.6,70 L324.1,69.7 L323.6,69.8 L323.1,70.6 L322.6,69.9 L322.1,71.1 L321.6,70.3 L321.1,71.2 L320.6,71.1 L320.1,71.6 L319.6,71.1 L319.1,71.7 L318.6,72.4 L318.1,72.5 L317.6,72.9 L317.1,72.1 L316.6,72.4 L316.1,73.5 L315.6,72.1 L315.1,72.3 L314.6,72.8 L314.1,72.6 L313.6,72.6 L313.1,73.6 L312.6,73.2 L312.1,73.5 L311.6,72.8 L311.1,72.1 L310.6,72.2 L310.1,72.5 L309.6,73.8Z" fill="#5d9dcf"/><path d="M309.6,61.6 L310.1,61.1 L310.6,61.8 L311.1,61.4 L311.6,61.7 L312.1,61.3 L312.6,61.8 L313.1,61.2 L313.6,61.3 L314.1,61.5 L314.6,61.2 L315.1,61.7 L315.6,61.3 L316.1,61.1 L316.6,61.7 L317.1,61.4 L317.6,61.4 L318.1,61.8 L318.6,61.9 L319.1,61.6 L319.6,61.9 L320.1,62 L320.6,62.2 L321.1,62.6 L321.6,62.3 L322.1,62.4 L322.6,62.6 L323.1,62.7 L323.6,62.6 L324.1,62.6 L324.6,62.9 L325.1,62.9 L325.6,62.6 L326.1,63 L326.6,62.7 L327.1,62.6 L327.6,62.8 L328.1,62.6 L328.6,62.8 L329.1,62.7 L329.6,62.9 L330.1,62.9 L330.6,62.7 L331.1,62.6 L331.6,62.6 L332.1,62.7 L332.6,62.7 L333.1,62.8 L333.6,62.8 L334.1,62.9 L334.6,62.7 L335.1,62.8 L335.6,62.8 L336.1,62.8 L336.6,62.5 L337.1,62.5 L337.6,62.9 L338.1,62.9 L338.6,62.8 L339.1,63 L339.6,62.5 L340.1,62.6 L340.6,63 L341.1,62.8 L341.6,62.8 L342.1,62.6 L342.6,62.5 L343.1,62.9 L343.6,62.7 L344.1,62.8 L344.6,62.5 L345.1,62.9 L345.6,62.7 L346.1,62.6 L346.6,62.7 L347.1,62.7 L347.6,62.7 L348.1,62.4 L348.6,62.3 L349.1,62.2 L349.6,62 L350.1,62.2 L350.6,61.7 L351.1,61.7 L351.6,61.7 L352.1,61.8 L352.6,61.2 L353.1,61.2 L353.6,61.3 L354.1,61.2 L354.6,60.5 L355.1,60.7 L355.6,60.6 L356.1,61.1 L356.6,60.8 L357.1,61.2 L357.6,60.7 L358.1,61.1 L358.6,61 L359.1,61.6 L359.6,61.7 L360.1,62.1 L360.6,62.2 L361.1,62.4 L361.6,62.3 L362.1,62.5 L362.6,62.4 L363.1,62.3 L363.6,62.7 L364.1,62.8 L364.6,62.5 L365.1,62.5 L365.6,62.9 L366.1,62.9 L366.6,62.6 L367.1,62.9 L367.6,62.9 L368.1,62.8 L368.6,62.6 L369.1,63 L369.6,62.6 L370.1,62.8 L370.6,62.7 L371.1,62.6 L371.6,62.7 L372.1,62.6 L372.6,62.5 L373.1,62.7 L373.6,62.8 L374.1,62.8 L374.6,62.6 L375.1,62.9 L375.6,62.5 L376.1,62.7 L376.6,62.4 L377.1,62.8 L377.6,62.6 L378.1,62.8 L378.6,62.7 L379.1,62.5 L379.6,62.5 L380.1,62.7 L380.6,62.6 L381.1,62.7 L381.6,62.9 L382.1,62.9 L382.6,62.8 L383.1,62.8 L383.6,62.7 L384.1,63 L384.6,62.9 L385.1,62.6 L385.6,62.8 L386.1,62.6 L386.6,62.5 L387.1,62.6 L387.6,62.6 L388.1,62.9 L388.6,62.7 L389.1,62.6 L389.6,62.8 L390.1,62.7 L390.6,62.6 L391.1,62.5 L391.6,63 L392.1,62.5 L392.6,62.7 L393.1,62.8 L393.6,62.6 L394.1,63 L394.6,62.6 L395.1,62.5 L395.6,62.6 L396.1,62.4 L396.6,62.8 L397.1,62.4 L397.6,62.3 L398.1,62.3 L398.6,62.4 L399.1,61.7 L399.6,62.1 L400.1,61.8 L400.6,61.4 L401.1,61.8 L401.6,61.6 L402.1,61.2 L402.6,61.3 L403.1,61.1 L403.6,61.3 L404.1,61 L404.6,61.1 L405.1,61.2 L405.6,61.6 L406.1,62 L406.6,62.1 L407.1,62 L407.6,62.3 L408.1,62 L408.6,62.6 L409.1,62.5 L409.6,62.5 L410.1,62.4 L410.6,62.8 L411.1,62.7 L411.6,62.9 L412.1,62.6 L412.6,62.9 L413.1,62.7 L413.6,62.9 L414.1,62.8 L414.6,62.5 L415.1,62.7 L415.6,62.7 L416.1,62.5 L416.6,63 L417.1,62.7 L417.6,62.9 L418.1,62.7 L418.6,63 L419.1,62.5 L419.6,62.9 L420.1,63 L420.6,62.8 L421.1,62.7 L421.6,62.9 L422.1,62.8 L422.6,62.8 L423.1,62.6 L423.6,62.8 L424.1,62.6 L424.6,62.7 L425.1,62.9 L425.6,62.6 L426.1,62.9 L426.6,62.6 L427.1,62.9 L427.6,62.7 L428.1,62.8 L428.6,62.9 L429.1,63 L429.6,62.6 L430.1,62.5 L430.6,62.6 L431.1,62.9 L431.6,63 L432.1,62.8 L432.6,62.6 L433.1,63 L433.6,63 L434.1,62.8 L434.6,62.5 L435.1,62.9 L435.6,62.6 L436.1,63 L436.6,62.8 L437.1,63 L437.6,62.8 L438.1,62.7 L438.6,62.5 L439.1,62.9 L439.6,62.4 L440.1,62.6 L440.6,62.3 L441.1,62.7 L441.6,62.5 L442.1,62.4 L442.6,61.8 L443.1,61.9 L443.6,62.2 L444.1,62 L444.6,61.5 L445.1,61.9 L445.6,62 L446.1,61.8 L446.6,61.7 L447.1,62.3 L447.6,62.3 L448.1,62.2 L448.6,62.1 L449.1,62.7 L449.6,62.7 L450.1,62.3 L450.6,62.7 L451.1,62.7 L451.6,63 L452.1,63 L452.6,62.9 L453.1,62.8 L453.6,62.8 L454.1,62.8 L454.6,62.9 L455.1,62.8 L455.6,62.5 L456.1,63 L456.6,62.9 L457.1,63 L457.6,63 L458.1,62.8 L458.6,62.6 L459.1,62.6 L459.6,62.8 L460.1,63 L460.6,62.6 L461.1,62.8 L461.6,63 L462.1,63 L462.6,62.9 L463.1,62.9 L463.6,62.7 L464.1,62.7 L464.6,62.7 L465.1,62.6 L465.6,62.5 L466.1,62.6 L466.6,62.8 L467.1,62.9 L467.6,62.6 L468.1,62.6 L468.6,62.6 L469.1,62.7 L469.6,63 L470.1,63 L470.6,62.9 L471.1,62.6 L471.6,62.5 L472.1,62.7 L472.6,62.7 L473.1,62.5 L473.6,62.6 L474.1,62.5 L474.6,62.8 L475.1,62.7 L475.6,62.5 L476.1,62.7 L476.6,62.7 L477.1,62.5 L477.6,62.6 L478.1,62.6 L478.6,62.8 L479.1,62.9 L479.6,62.8 L480.1,62.7 L480.6,62.7 L481.1,62.7 L481.6,62.9 L482.1,62.6 L482.6,62.8 L483.1,62.7 L483.6,62.7 L484.1,62.4 L484.6,62.6 L485.1,62.5 L485.6,61.7 L486.1,61.6 L486.6,61.7 L487.1,60.9 L487.6,61.2 L488.1,60.7 L488.6,61.2 L489.1,61.1 L489.6,60.9 L490.1,60.1 L490.6,60.3 L491.1,60.5 L491.6,60.1 L492.1,60.7 L492.6,60.2 L493.1,60.1 L493.6,60.5 L494.1,60.9 L494.6,60.5 L495.1,60.9 L495.6,60.6 L496.1,60.7 L496.6,61.6 L497.1,61.2 L497.6,62.1 L498.1,62.3 L498.6,62.1 L499.1,62.1 L499.6,62.5 L500.1,62.8 L500.6,62.6 L501.1,62.5 L501.6,62.8 L502.1,63 L502.6,62.6 L503.1,62.5 L503.6,62.8 L504.1,62.7 L504.6,62.8 L505.1,62.5 L505.6,62.5 L506.1,63 L506.6,63 L507.1,62.7 L507.6,62.7 L508.1,62.9 L508.6,62.9 L509.1,62.8 L509.6,62.6 L510.1,62.6 L510.6,62.9 L511.1,62.8 L511.6,62.7 L512.1,62.8 L512.6,62.9 L513.1,62.6 L513.6,62.6 L514.1,62.8 L514.6,62.9 L515.1,62.6 L515.6,62.7 L516.1,62.8 L516.6,62.9 L517.1,62.8 L517.6,62.9 L518.1,62.7 L518.6,62.6 L519.1,62.5 L519.6,62.6 L520.1,62.9 L520.6,62.8 L521.1,63 L521.6,62.9 L522.1,62.8 L522.6,63 L523.1,62.9 L523.6,62.6 L524.1,62.6 L524.6,62.6 L525.1,62.8 L525.6,62.8 L526.1,63 L526.6,62.8 L527.1,62.7 L527.6,62.8 L528.1,62.3 L528.6,62.3 L529.1,62.7 L529.6,62.4 L530.1,62.3 L530.6,62.5 L531.1,62.4 L531.6,62.2 L531.6,68.3 L531.1,68.1 L530.6,68.1 L530.1,68.4 L529.6,68.4 L529.1,67.8 L528.6,68.2 L528.1,67.9 L527.6,67.9 L527.1,67.8 L526.6,67.9 L526.1,67.7 L525.6,68 L525.1,67.7 L524.6,67.9 L524.1,67.7 L523.6,68.1 L523.1,67.9 L522.6,67.8 L522.1,67.7 L521.6,67.7 L521.1,67.7 L520.6,67.6 L520.1,67.8 L519.6,68.1 L519.1,68 L518.6,68 L518.1,67.7 L517.6,68 L517.1,67.8 L516.6,67.8 L516.1,68 L515.6,68 L515.1,67.9 L514.6,67.6 L514.1,67.8 L513.6,67.9 L513.1,68 L512.6,67.9 L512.1,67.7 L511.6,67.7 L511.1,67.7 L510.6,67.6 L510.1,67.9 L509.6,68.1 L509.1,68 L508.6,68 L508.1,67.9 L507.6,67.9 L507.1,67.7 L506.6,68.1 L506.1,68 L505.6,67.7 L505.1,67.9 L504.6,68 L504.1,67.7 L503.6,68 L503.1,68 L502.6,68.1 L502.1,68 L501.6,67.7 L501.1,67.7 L500.6,67.9 L500.1,67.9 L499.6,67.8 L499.1,68.2 L498.6,68.1 L498.1,68.8 L497.6,68.9 L497.1,68.6 L496.6,69.2 L496.1,69.4 L495.6,69.1 L495.1,69.2 L494.6,70 L494.1,69.7 L493.6,70.1 L493.1,69.3 L492.6,70.2 L492.1,69.5 L491.6,69.4 L491.1,69.8 L490.6,70.1 L490.1,69.7 L489.6,69.6 L489.1,70.1 L488.6,69.2 L488.1,69.5 L487.6,68.9 L487.1,69.4 L486.6,68.6 L486.1,68.7 L485.6,68.3 L485.1,68 L484.6,67.9 L484.1,68.1 L483.6,68.2 L483.1,67.8 L482.6,68 L482.1,68 L481.6,67.6 L481.1,67.6 L480.6,68 L480.1,67.7 L479.6,67.7 L479.1,68.1 L478.6,67.9 L478.1,67.9 L477.6,67.7 L477.1,68.1 L476.6,67.7 L476.1,67.9 L475.6,67.7 L475.1,67.8 L474.6,67.8 L474.1,67.8 L473.6,67.7 L473.1,67.6 L472.6,67.8 L472.1,68.1 L471.6,67.8 L471.1,68.1 L470.6,67.7 L470.1,68 L469.6,68 L469.1,67.8 L468.6,67.9 L468.1,67.9 L467.6,67.8 L467.1,68.1 L466.6,67.7 L466.1,67.8 L465.6,68 L465.1,68 L464.6,67.7 L464.1,68 L463.6,68 L463.1,67.8 L462.6,68.1 L462.1,67.9 L461.6,67.9 L461.1,68.1 L460.6,67.7 L460.1,67.6 L459.6,67.7 L459.1,67.9 L458.6,67.9 L458.1,68 L457.6,67.7 L457.1,67.9 L456.6,67.9 L456.1,68 L455.6,67.7 L455.1,67.7 L454.6,68 L454.1,67.9 L453.6,68 L453.1,68 L452.6,67.6 L452.1,67.7 L451.6,68.1 L451.1,68.1 L450.6,67.8 L450.1,68.1 L449.6,68.3 L449.1,68.3 L448.6,68.4 L448.1,68.1 L447.6,68.3 L447.1,68.7 L446.6,68.3 L446.1,68.3 L445.6,68.8 L445.1,68.3 L444.6,68.4 L444.1,68.9 L443.6,68.5 L443.1,68.2 L442.6,68.3 L442.1,68.4 L441.6,68.2 L441.1,68.3 L440.6,68.2 L440.1,68.2 L439.6,68.2 L439.1,68 L438.6,67.9 L438.1,67.7 L437.6,67.7 L437.1,68 L436.6,67.8 L436.1,67.8 L435.6,67.6 L435.1,68.1 L434.6,68 L434.1,67.6 L433.6,68 L433.1,68.1 L432.6,67.8 L432.1,68 L431.6,67.8 L431.1,67.8 L430.6,68 L430.1,67.7 L429.6,68 L429.1,67.6 L428.6,67.6 L428.1,67.9 L427.6,68 L427.1,67.9 L426.6,67.7 L426.1,68 L425.6,67.7 L425.1,67.9 L424.6,67.9 L424.1,68 L423.6,67.6 L423.1,68 L422.6,68 L422.1,67.8 L421.6,67.6 L421.1,67.8 L420.6,67.8 L420.1,68.1 L419.6,68.1 L419.1,67.6 L418.6,67.9 L418.1,68.1 L417.6,67.7 L417.1,67.8 L416.6,68 L416.1,67.6 L415.6,67.9 L415.1,68.1 L414.6,67.9 L414.1,68 L413.6,68 L413.1,67.7 L412.6,67.7 L412.1,67.9 L411.6,67.9 L411.1,67.9 L410.6,68 L410.1,67.7 L409.6,67.7 L409.1,67.9 L408.6,68.2 L408.1,68.4 L407.6,68.4 L407.1,68.3 L406.6,68.6 L406.1,68.6 L405.6,69.1 L405.1,69.2 L404.6,68.8 L404.1,69.4 L403.6,69.1 L403.1,68.9 L402.6,69.4 L402.1,69 L401.6,69.4 L401.1,69 L400.6,69.1 L400.1,69.1 L399.6,68.9 L399.1,68.8 L398.6,68.5 L398.1,68.1 L397.6,68.2 L397.1,68.1 L396.6,68.2 L396.1,68 L395.6,67.8 L395.1,67.7 L394.6,68 L394.1,67.6 L393.6,68 L393.1,67.9 L392.6,68 L392.1,67.7 L391.6,67.6 L391.1,68 L390.6,67.6 L390.1,68.1 L389.6,68.1 L389.1,68 L388.6,67.6 L388.1,67.9 L387.6,67.8 L387.1,67.8 L386.6,67.8 L386.1,68.1 L385.6,67.7 L385.1,68.1 L384.6,67.8 L384.1,67.7 L383.6,67.9 L383.1,68.1 L382.6,67.8 L382.1,67.8 L381.6,68.1 L381.1,68 L380.6,68.1 L380.1,67.7 L379.6,67.8 L379.1,67.9 L378.6,67.7 L378.1,67.9 L377.6,67.8 L377.1,67.8 L376.6,67.8 L376.1,67.7 L375.6,68.1 L375.1,68.1 L374.6,67.9 L374.1,67.9 L373.6,68 L373.1,68 L372.6,67.8 L372.1,67.9 L371.6,67.7 L371.1,67.8 L370.6,68 L370.1,67.9 L369.6,68 L369.1,67.7 L368.6,67.8 L368.1,67.9 L367.6,67.7 L367.1,68.1 L366.6,67.6 L366.1,67.7 L365.6,67.9 L365.1,67.9 L364.6,68.1 L364.1,67.8 L363.6,68 L363.1,68 L362.6,68.3 L362.1,68.2 L361.6,68 L361.1,68.6 L360.6,68.5 L360.1,68.7 L359.6,69 L359.1,68.7 L358.6,69.5 L358.1,69.4 L357.6,69.3 L357.1,69.6 L356.6,69.8 L356.1,70 L355.6,70 L355.1,69.3 L354.6,69.9 L354.1,69.9 L353.6,69.8 L353.1,69.5 L352.6,69.1 L352.1,69.1 L351.6,68.7 L351.1,68.4 L350.6,68.6 L350.1,68.6 L349.6,68.2 L349.1,68 L348.6,67.9 L348.1,67.8 L347.6,67.9 L347.1,67.9 L346.6,68 L346.1,67.8 L345.6,67.6 L345.1,68.1 L344.6,67.8 L344.1,67.8 L343.6,67.6 L343.1,67.9 L342.6,68 L342.1,67.6 L341.6,67.7 L341.1,67.9 L340.6,67.7 L340.1,68 L339.6,67.9 L339.1,67.7 L338.6,67.9 L338.1,67.6 L337.6,67.8 L337.1,68 L336.6,67.6 L336.1,68.1 L335.6,67.7 L335.1,68 L334.6,67.8 L334.1,67.8 L333.6,67.8 L333.1,68 L332.6,67.8 L332.1,67.7 L331.6,67.7 L331.1,68 L330.6,67.9 L330.1,67.7 L329.6,67.8 L329.1,67.8 L328.6,67.7 L328.1,68 L327.6,68 L327.1,68.1 L326.6,67.9 L326.1,68.1 L325.6,68.1 L325.1,68 L324.6,68.1 L324.1,68 L323.6,67.8 L323.1,68 L322.6,67.9 L322.1,68 L321.6,68 L321.1,68.1 L320.6,68.1 L320.1,68.6 L319.6,68.9 L319.1,68.6 L318.6,68.6 L318.1,68.6 L317.6,68.9 L317.1,69.2 L316.6,69.1 L316.1,69.3 L315.6,69.1 L315.1,69.3 L314.6,69.2 L314.1,69.2 L313.6,69.5 L313.1,69 L312.6,69.3 L312.1,69.5 L311.6,68.8 L311.1,68.9 L310.6,69.4 L310.1,68.9 L309.6,69.3Z" fill="#96c2e4"/></g>
<rect x="298.8" y="14.9" width="244" height="101.6" fill="none" stroke="#555" stroke-width="0.75"/>
<line x1="296.62" y1="19.7" x2="298.8" y2="19.7" stroke="#555" stroke-width="0.6"/>
<text x="293.65" y="22.36" font-size="6.22" text-anchor="end">0.2</text>
<line x1="296.62" y1="42.5" x2="298.8" y2="42.5" stroke="#555" stroke-width="0.6"/>
<text x="293.65" y="45.16" font-size="6.22" text-anchor="end">0.1</text>
<line x1="296.62" y1="65.3" x2="298.8" y2="65.3" stroke="#555" stroke-width="0.6"/>
<text x="293.65" y="67.96" font-size="6.22" text-anchor="end">0.0</text>
<line x1="296.62" y1="88.1" x2="298.8" y2="88.1" stroke="#555" stroke-width="0.6"/>
<text x="293.65" y="90.76" font-size="6.22" text-anchor="end">-0.1</text>
<line x1="296.62" y1="110.9" x2="298.8" y2="110.9" stroke="#555" stroke-width="0.6"/>
<text x="293.65" y="113.56" font-size="6.22" text-anchor="end">-0.2</text>
<line x1="310.3" y1="116.5" x2="310.3" y2="118.68" stroke="#555" stroke-width="0.6"/>
<text x="310.3" y="125.58" font-size="6.22" text-anchor="middle">0:00</text>
<line x1="343.5" y1="116.5" x2="343.5" y2="118.68" stroke="#555" stroke-width="0.6"/>
<text x="343.5" y="125.58" font-size="6.22" text-anchor="middle">0:15</text>
<line x1="376.7" y1="116.5" x2="376.7" y2="118.68" stroke="#555" stroke-width="0.6"/>
<text x="376.7" y="125.58" font-size="6.22" text-anchor="middle">0:30</text>
<line x1="409.9" y1="116.5" x2="409.9" y2="118.68" stroke="#555" stroke-width="0.6"/>
<text x="409.9" y="125.58" font-size="6.22" text-anchor="middle">0:45</text>
<line x1="443.1" y1="116.5" x2="443.1" y2="118.68" stroke="#555" stroke-width="0.6"/>
<text x="443.1" y="125.58" font-size="6.22" text-anchor="middle">1:00</text>
<line x1="476.3" y1="116.5" x2="476.3" y2="118.68" stroke="#555" stroke-width="0.6"/>
<text x="476.3" y="125.58" font-size="6.22" text-anchor="middle">1:15</text>
<line x1="509.5" y1="116.5" x2="509.5" y2="118.68" stroke="#555" stroke-width="0.6"/>
<text x="509.5" y="125.58" font-size="6.22" text-anchor="middle">1:30</text>
<text x="420.8" y="135.09" font-size="6.22" text-anchor="middle">Time (s)</text>
<text transform="translate(276.8,66.2) rotate(-90)" font-size="6.22" text-anchor="middle">Amplitude</text>
<text x="420" y="10.9" font-size="7.54" text-anchor="middle">Waveform: failure, SNR 6 dB, Noise type 0</text>
<text class="cap" x="408.3" y="157.5" font-family="'Liberation Serif', serif" font-size="12.6" fill="#000" text-anchor="middle">(<tspan font-weight="bold">b</tspan>)</text>
<g id="wfc"><defs><linearGradient id="gc" gradientUnits="userSpaceOnUse" x1="0" y1="210.2" x2="0" y2="256.6"><stop offset="0%" stop-color="#8cbce1"/><stop offset="29.1%" stop-color="#8cbce1"/><stop offset="32.7%" stop-color="#78afd9"/><stop offset="36.6%" stop-color="#78afd9"/><stop offset="38.6%" stop-color="#5d9dcf"/><stop offset="50%" stop-color="#5d9dcf"/><stop offset="61.4%" stop-color="#5d9dcf"/><stop offset="63.4%" stop-color="#78afd9"/><stop offset="67.3%" stop-color="#78afd9"/><stop offset="70.9%" stop-color="#8cbce1"/><stop offset="100%" stop-color="#8cbce1"/></linearGradient></defs><path d="M46.1,225 L46.6,223.4 L47.1,225.8 L47.6,223.1 L48.1,223.4 L48.6,223.5 L49.1,223.3 L49.6,225.6 L50.1,222.9 L50.6,223.8 L51.1,224 L51.6,224.9 L52.1,222.8 L52.6,223.7 L53.1,224.1 L53.6,222.9 L54.1,224.5 L54.6,225.5 L55.1,224.2 L55.6,224.3 L56.1,223 L56.6,223.6 L57.1,224 L57.6,225 L58.1,224.4 L58.6,224.6 L59.1,223.7 L59.6,223.2 L60.1,224.9 L60.6,223.7 L61.1,223.4 L61.6,223.9 L62.1,225.2 L62.6,225.4 L63.1,224 L63.6,222.9 L64.1,224.2 L64.6,223.1 L65.1,223.2 L65.6,223.4 L66.1,222.9 L66.6,225.6 L67.1,225.8 L67.6,223.4 L68.1,224.6 L68.6,225.5 L69.1,223.2 L69.6,223.1 L70.1,225.4 L70.6,223.8 L71.1,225.3 L71.6,225.8 L72.1,223.5 L72.6,223.4 L73.1,224.1 L73.6,221.8 L74.1,224.4 L74.6,221.6 L75.1,224.5 L75.6,224.4 L76.1,216.4 L76.6,221.6 L77.1,219 L77.6,224.3 L78.1,223.9 L78.6,217 L79.1,223.6 L79.6,221.1 L80.1,221.7 L80.6,223.5 L81.1,223.6 L81.6,222.6 L82.1,223.5 L82.6,223 L83.1,223.5 L83.6,223.4 L84.1,224.8 L84.6,223 L85.1,223.9 L85.6,225.3 L86.1,224.2 L86.6,223.7 L87.1,222.8 L87.6,220.6 L88.1,216.5 L88.6,218.7 L89.1,212.3 L89.6,218.3 L90.1,212.2 L90.6,217.3 L91.1,214 L91.6,218.5 L92.1,214.2 L92.6,220.7 L93.1,217 L93.6,217.4 L94.1,217.8 L94.6,219.2 L95.1,217.3 L95.6,221 L96.1,213.2 L96.6,221.4 L97.1,219.4 L97.6,217 L98.1,223.9 L98.6,225.2 L99.1,222.2 L99.6,222.5 L100.1,224.4 L100.6,223.4 L101.1,223.3 L101.6,223.4 L102.1,223.4 L102.6,224.1 L103.1,225.9 L103.6,224.7 L104.1,223.4 L104.6,223 L105.1,222.8 L105.6,224.8 L106.1,224.6 L106.6,224.5 L107.1,224.4 L107.6,224.9 L108.1,223.5 L108.6,223.8 L109.1,224.5 L109.6,225 L110.1,224.7 L110.6,223.5 L111.1,223.5 L111.6,223 L112.1,223 L112.6,224.6 L113.1,226.1 L113.6,222.7 L114.1,223.1 L114.6,223 L115.1,223.2 L115.6,220.1 L116.1,223.2 L116.6,222.5 L117.1,215.8 L117.6,217.1 L118.1,218.6 L118.6,221.2 L119.1,222.4 L119.6,221.4 L120.1,222.1 L120.6,223.2 L121.1,223.7 L121.6,224.7 L122.1,222.7 L122.6,221.9 L123.1,219.7 L123.6,219.2 L124.1,222.8 L124.6,221.3 L125.1,220.9 L125.6,220.6 L126.1,221.3 L126.6,214.2 L127.1,220.8 L127.6,219.9 L128.1,217.7 L128.6,218 L129.1,219 L129.6,221.7 L130.1,225 L130.6,224.4 L131.1,222.5 L131.6,225 L132.1,223.9 L132.6,224.8 L133.1,224.8 L133.6,224.7 L134.1,221.4 L134.6,223.4 L135.1,224.5 L135.6,224.4 L136.1,223.8 L136.6,223.6 L137.1,222.9 L137.6,223.8 L138.1,225.1 L138.6,223.9 L139.1,223.3 L139.6,222.9 L140.1,225.6 L140.6,223 L141.1,225.3 L141.6,223.4 L142.1,225.5 L142.6,225.2 L143.1,223 L143.6,223.2 L144.1,225.2 L144.6,224.3 L145.1,223.1 L145.6,223.6 L146.1,225.1 L146.6,224 L147.1,224.2 L147.6,222.9 L148.1,223.3 L148.6,225.6 L149.1,223.3 L149.6,225 L150.1,225.9 L150.6,224.1 L151.1,223.5 L151.6,223.4 L152.1,225.1 L152.6,225.1 L153.1,223 L153.6,222.7 L154.1,223.9 L154.6,224.8 L155.1,219.7 L155.6,222.4 L156.1,222.9 L156.6,220.5 L157.1,221.7 L157.6,224.2 L158.1,221.1 L158.6,221.7 L159.1,221.7 L159.6,225.1 L160.1,224.6 L160.6,222.6 L161.1,224.1 L161.6,225 L162.1,225.6 L162.6,223.9 L163.1,223.2 L163.6,222.1 L164.1,220 L164.6,225.5 L165.1,224.2 L165.6,220.2 L166.1,223.2 L166.6,222.7 L167.1,224.5 L167.6,222.3 L168.1,222.5 L168.6,223.4 L169.1,223 L169.6,223.5 L170.1,223.7 L170.6,223.9 L171.1,224.9 L171.6,224.5 L172.1,222.7 L172.6,222.7 L173.1,222.3 L173.6,223.9 L174.1,223.8 L174.6,224.7 L175.1,221.3 L175.6,220.9 L176.1,216.9 L176.6,220 L177.1,221.9 L177.6,222.3 L178.1,224.1 L178.6,223.3 L179.1,224.3 L179.6,224.2 L180.1,223 L180.6,224.6 L181.1,223.1 L181.6,224.7 L182.1,223.7 L182.6,223.4 L183.1,223.2 L183.6,224.9 L184.1,223 L184.6,223 L185.1,224.6 L185.6,225.5 L186.1,223.3 L186.6,223.4 L187.1,225.2 L187.6,223.9 L188.1,223.6 L188.6,223.8 L189.1,223.3 L189.6,223.6 L190.1,225.8 L190.6,224 L191.1,223.8 L191.6,224.4 L192.1,221.4 L192.6,225.9 L193.1,224.5 L193.6,223.3 L194.1,223.4 L194.6,222.7 L195.1,223.4 L195.6,224.9 L196.1,221.3 L196.6,221.6 L197.1,224.2 L197.6,220.4 L198.1,220.9 L198.6,219.5 L199.1,222.6 L199.6,222.6 L200.1,222.2 L200.6,224 L201.1,224.3 L201.6,224.6 L202.1,225 L202.6,225.1 L203.1,223.4 L203.6,226 L204.1,223 L204.6,223.9 L205.1,223.7 L205.6,224.9 L206.1,224.4 L206.6,224.7 L207.1,224.2 L207.6,224 L208.1,223.4 L208.6,225.9 L209.1,224.8 L209.6,223.1 L210.1,224.6 L210.6,224.1 L211.1,223.3 L211.6,223.1 L212.1,223 L212.6,224.1 L213.1,224.9 L213.6,224.1 L214.1,223.9 L214.6,224.4 L215.1,224.9 L215.6,223.1 L216.1,222.9 L216.6,223.6 L217.1,223 L217.6,224.5 L218.1,222.9 L218.6,222 L219.1,223.5 L219.6,224.5 L220.1,222.9 L220.6,223.9 L221.1,225.7 L221.6,224.2 L222.1,221.6 L222.6,224 L223.1,224.6 L223.6,224.2 L224.1,226.1 L224.6,223.6 L225.1,223.3 L225.6,224.8 L226.1,224.4 L226.6,225.1 L227.1,222.9 L227.6,224.8 L228.1,223.7 L228.6,224.5 L229.1,223.1 L229.6,224.4 L230.1,223.6 L230.6,223 L231.1,224.3 L231.6,223.2 L232.1,222.8 L232.6,223.2 L233.1,223.8 L233.6,223.1 L234.1,223.3 L234.6,222.1 L235.1,224.2 L235.6,224.4 L236.1,224.2 L236.6,222 L237.1,224.1 L237.6,222.1 L238.1,221.1 L238.6,224.2 L239.1,223.1 L239.6,222.6 L240.1,222.5 L240.6,222.9 L241.1,223.2 L241.6,222.1 L242.1,224.1 L242.6,222.2 L243.1,223.5 L243.6,225.6 L244.1,220.7 L244.6,223 L245.1,223.1 L245.6,223.5 L246.1,224.9 L246.6,221.4 L247.1,221.9 L247.6,224.3 L248.1,223.1 L248.6,223 L248.6,242.6 L248.1,243.7 L247.6,240.8 L247.1,244.7 L246.6,242.9 L246.1,245.3 L245.6,243.8 L245.1,243.9 L244.6,244.2 L244.1,244.2 L243.6,242.5 L243.1,245.8 L242.6,241.6 L242.1,242.8 L241.6,242.4 L241.1,241.4 L240.6,244.1 L240.1,242.9 L239.6,243.2 L239.1,241.1 L238.6,245.2 L238.1,243.4 L237.6,242.6 L237.1,242.7 L236.6,244.2 L236.1,242.7 L235.6,242.4 L235.1,243.6 L234.6,240.9 L234.1,240.4 L233.6,242.9 L233.1,240.9 L232.6,242.8 L232.1,242.8 L231.6,240.7 L231.1,242.9 L230.6,242.8 L230.1,243.1 L229.6,242.8 L229.1,243.1 L228.6,241.8 L228.1,241.5 L227.6,241.8 L227.1,242.2 L226.6,240.4 L226.1,242.4 L225.6,241.4 L225.1,242 L224.6,243.1 L224.1,243.1 L223.6,242.9 L223.1,242.7 L222.6,243.7 L222.1,243.7 L221.6,243 L221.1,243 L220.6,243.4 L220.1,241.9 L219.6,241.3 L219.1,241.9 L218.6,242.7 L218.1,242.1 L217.6,243.6 L217.1,242.3 L216.6,243.1 L216.1,242.2 L215.6,242.7 L215.1,242.6 L214.6,242 L214.1,242.6 L213.6,242.9 L213.1,242.7 L212.6,242.9 L212.1,243.5 L211.6,241.4 L211.1,243.3 L210.6,242.3 L210.1,243.2 L209.6,241.8 L209.1,240.9 L208.6,243.2 L208.1,241.4 L207.6,243.3 L207.1,243 L206.6,243.6 L206.1,242.1 L205.6,242 L205.1,241.6 L204.6,242 L204.1,243.6 L203.6,242.4 L203.1,241.1 L202.6,242.1 L202.1,242.4 L201.6,242.6 L201.1,242.6 L200.6,242.5 L200.1,243.4 L199.6,244.4 L199.1,243.1 L198.6,243.6 L198.1,246.7 L197.6,242.6 L197.1,249.9 L196.6,242.9 L196.1,243.9 L195.6,244.3 L195.1,242 L194.6,243.8 L194.1,242.9 L193.6,241.8 L193.1,245.6 L192.6,242.2 L192.1,241.6 L191.6,242.3 L191.1,240.4 L190.6,242.7 L190.1,242.7 L189.6,243.2 L189.1,244.1 L188.6,241.2 L188.1,243.6 L187.6,243.3 L187.1,240.4 L186.6,243.5 L186.1,242.2 L185.6,241.3 L185.1,242.9 L184.6,243 L184.1,243.7 L183.6,240.9 L183.1,243 L182.6,243.3 L182.1,241.5 L181.6,243.2 L181.1,242.9 L180.6,243.1 L180.1,241.5 L179.6,241 L179.1,242.6 L178.6,242.9 L178.1,242.7 L177.6,244 L177.1,243.2 L176.6,246.9 L176.1,243.1 L175.6,244.3 L175.1,246.5 L174.6,243.9 L174.1,250.4 L173.6,243.9 L173.1,244 L172.6,242.7 L172.1,242.7 L171.6,242.7 L171.1,243.1 L170.6,243.7 L170.1,242.9 L169.6,242.8 L169.1,241.7 L168.6,245.3 L168.1,242.5 L167.6,243.4 L167.1,243.7 L166.6,243.5 L166.1,242.6 L165.6,243 L165.1,245 L164.6,242.3 L164.1,244 L163.6,244.4 L163.1,243.5 L162.6,242.3 L162.1,243.2 L161.6,243 L161.1,242.4 L160.6,240.4 L160.1,242 L159.6,243.2 L159.1,242.4 L158.6,246.3 L158.1,243.5 L157.6,244.8 L157.1,244 L156.6,243 L156.1,241.7 L155.6,241.5 L155.1,241.2 L154.6,243.1 L154.1,244 L153.6,241.4 L153.1,243.2 L152.6,243.8 L152.1,242.6 L151.6,241.2 L151.1,243.4 L150.6,243.4 L150.1,243.3 L149.6,243.3 L149.1,243.4 L148.6,241.8 L148.1,243.7 L147.6,243.7 L147.1,243.5 L146.6,245.5 L146.1,242.3 L145.6,242.4 L145.1,241.8 L144.6,243.7 L144.1,240.9 L143.6,242.6 L143.1,242 L142.6,243.4 L142.1,242.7 L141.6,242.2 L141.1,242.6 L140.6,243.3 L140.1,241.9 L139.6,243.7 L139.1,242.4 L138.6,243 L138.1,243 L137.6,243 L137.1,242.3 L136.6,241.8 L136.1,243.4 L135.6,243 L135.1,241.2 L134.6,245 L134.1,242 L133.6,242.6 L133.1,242 L132.6,242.9 L132.1,243.4 L131.6,243.2 L131.1,242.8 L130.6,244.3 L130.1,242.6 L129.6,243.3 L129.1,245.9 L128.6,251.2 L128.1,248.4 L127.6,245.8 L127.1,246.4 L126.6,246.7 L126.1,252.3 L125.6,242 L125.1,245.4 L124.6,252.3 L124.1,251.7 L123.6,248.7 L123.1,251.6 L122.6,246.6 L122.1,244.2 L121.6,243.2 L121.1,241.2 L120.6,243.1 L120.1,243 L119.6,242.8 L119.1,243 L118.6,245 L118.1,245.7 L117.6,242.9 L117.1,247.2 L116.6,243.9 L116.1,245.4 L115.6,245.1 L115.1,248.3 L114.6,245.5 L114.1,243 L113.6,241.3 L113.1,243.2 L112.6,241.4 L112.1,243.8 L111.6,241.3 L111.1,242.4 L110.6,241.6 L110.1,240.3 L109.6,243.1 L109.1,242.8 L108.6,242.8 L108.1,243.4 L107.6,243.2 L107.1,242 L106.6,241.8 L106.1,242.9 L105.6,242.2 L105.1,242.2 L104.6,243.1 L104.1,243.1 L103.6,242.3 L103.1,243.5 L102.6,240.3 L102.1,241.6 L101.6,243.7 L101.1,240.3 L100.6,242.9 L100.1,241.3 L99.6,244.2 L99.1,243.1 L98.6,244.6 L98.1,246.4 L97.6,245.9 L97.1,246.7 L96.6,249 L96.1,254.6 L95.6,247.2 L95.1,248.3 L94.6,244.1 L94.1,252.8 L93.6,247.2 L93.1,245.6 L92.6,253.6 L92.1,254.3 L91.6,246.1 L91.1,247.3 L90.6,242.4 L90.1,245.7 L89.6,251.2 L89.1,250.8 L88.6,247.7 L88.1,247.1 L87.6,245.4 L87.1,244 L86.6,243.9 L86.1,243.4 L85.6,242.6 L85.1,242.5 L84.6,241.7 L84.1,242.9 L83.6,242.2 L83.1,240.3 L82.6,243.2 L82.1,243.1 L81.6,241.7 L81.1,242.2 L80.6,244.2 L80.1,242.7 L79.6,244.9 L79.1,242.6 L78.6,248.6 L78.1,245 L77.6,246.1 L77.1,247 L76.6,245 L76.1,241.5 L75.6,244.6 L75.1,242.6 L74.6,241.3 L74.1,243.4 L73.6,244.4 L73.1,241.3 L72.6,243.6 L72.1,243.9 L71.6,243.3 L71.1,242.2 L70.6,243.5 L70.1,243.3 L69.6,242.4 L69.1,241.7 L68.6,243.6 L68.1,243.4 L67.6,241.9 L67.1,241.6 L66.6,243.7 L66.1,241 L65.6,242 L65.1,243.2 L64.6,240.5 L64.1,242.6 L63.6,243.5 L63.1,241.9 L62.6,240.5 L62.1,242.9 L61.6,243.7 L61.1,243.5 L60.6,243.2 L60.1,242.6 L59.6,243.4 L59.1,243.1 L58.6,242.3 L58.1,240.9 L57.6,240.6 L57.1,243.6 L56.6,243.7 L56.1,243.5 L55.6,241.5 L55.1,243.3 L54.6,243.5 L54.1,241.8 L53.6,243.3 L53.1,243.3 L52.6,243.2 L52.1,243 L51.6,243.7 L51.1,242.6 L50.6,243.5 L50.1,243.5 L49.6,241.8 L49.1,241.7 L48.6,242.7 L48.1,242.8 L47.6,242.4 L47.1,241.6 L46.6,241.9 L46.1,243.7Z" fill="url(#gc)"/><path d="M74.4 220.8V245M75.2 223.1V241.1M76.1 219.9V246.9M76.9 224.8V245.5M77.4 219.6V241.5M77.9 219.6V247.1M78.8 223.9V246.5M79.6 222V247.4M88.4 224.1V245.9M89.4 223.6V248.8M90.1 215.5V250.7M91.1 221.9V243.9M91.8 222.8V242.6M92.6 217.3V251.8M93.1 215.5V242.9M93.8 223V250.4M94.3 217.9V247.4M95 222V242.6M95.6 217.7V243.1M96.6 218.6V246.8M97.4 221.1V245.5M97.9 216.4V248.7M115.3 224.8V247.1M116 219V246.8M116.6 218.6V247.6M117.2 222.9V241.8M117.9 224.7V247.3M118.8 220.3V246.7M123.5 219.8V246.9M124 220.7V250.3M124.6 222.3V246.8M125.4 217V247M126 214.5V245.2M126.5 223.6V247.2M127 223.1V249.3M128 216.1V249.6M128.5 217.3V243.7M155.5 221.6V243.9M156.5 221.6V239.8M156.9 223.1V239M157.4 223.5V240.5M158 224.9V242.3M158.8 221V240M164.5 225.6V240.6M165.4 221.6V241M165.8 223.7V240.5M166.8 224.6V242.5M174.5 217.2V242M175.5 219.5V240.6M176.3 218.7V241.9M196.6 221V240.8M197.2 223.3V245.1M197.8 221.6V243.6M198.5 224.6V240.7M199.2 225.5V245.2M200 220.8V242M237.3 225.9V240.3M237.8 227.4V240.7M238.4 224.9V239.2M239 222.4V240.7M240 227.7V239.5M240.7 225.1V242.5M241.3 224.6V239.5M242.2 227.4V242.1M243.2 222.4V243.8M243.8 224V244.3M244.4 223.9V240.2M245.1 226.5V242M246 224V243M246.6 226.4V242.2M247.4 222.7V243.1" stroke="#78aed9" stroke-width="0.75" fill="none"/><line x1="86" y1="204.8" x2="86" y2="261.8" stroke="#78aed9" stroke-width="1.3"/><line x1="92.4" y1="210.8" x2="92.4" y2="255.8" stroke="#78aed9" stroke-width="1.3"/><line x1="125.6" y1="191.8" x2="125.6" y2="274.8" stroke="#78aed9" stroke-width="1.3"/><line x1="173.4" y1="212.8" x2="173.4" y2="253.8" stroke="#78aed9" stroke-width="1.3"/><path d="M46.1,225 L46.6,224.5 L47.1,225.8 L47.6,224.8 L48.1,225.8 L48.6,226.2 L49.1,225.5 L49.6,225.6 L50.1,225.6 L50.6,225.4 L51.1,225.1 L51.6,226.9 L52.1,224.4 L52.6,224.9 L53.1,224.8 L53.6,224.8 L54.1,224.5 L54.6,226.2 L55.1,224.7 L55.6,225.2 L56.1,227 L56.6,224.7 L57.1,224.5 L57.6,225 L58.1,226.8 L58.6,226.1 L59.1,226.6 L59.6,225.2 L60.1,226.8 L60.6,225.7 L61.1,225.8 L61.6,226.4 L62.1,226 L62.6,226.2 L63.1,225.4 L63.6,224.8 L64.1,226.6 L64.6,225.1 L65.1,224.6 L65.6,226.9 L66.1,226.9 L66.6,225.6 L67.1,226.4 L67.6,226.5 L68.1,225.9 L68.6,225.5 L69.1,226.7 L69.6,226.1 L70.1,225.4 L70.6,225.7 L71.1,225.3 L71.6,226.5 L72.1,225.1 L72.6,225.8 L73.1,224.1 L73.6,225.1 L74.1,225.8 L74.6,225.4 L75.1,224.5 L75.6,225.1 L76.1,222.6 L76.6,224.8 L77.1,223.7 L77.6,224.3 L78.1,224.7 L78.6,224 L79.1,225.8 L79.6,225.7 L80.1,225.5 L80.6,224.1 L81.1,226.1 L81.6,224.1 L82.1,225.8 L82.6,225.4 L83.1,226.2 L83.6,226.3 L84.1,226 L84.6,225.4 L85.1,226.4 L85.6,225.7 L86.1,224.2 L86.6,224.1 L87.1,224.9 L87.6,223.4 L88.1,223 L88.6,225.7 L89.1,223.3 L89.6,222.5 L90.1,223.8 L90.6,224.9 L91.1,223.2 L91.6,225.1 L92.1,224.3 L92.6,224 L93.1,224.2 L93.6,223.5 L94.1,222.4 L94.6,223.7 L95.1,222.3 L95.6,222.9 L96.1,223.2 L96.6,222.5 L97.1,222.9 L97.6,224.6 L98.1,223.9 L98.6,225.2 L99.1,226.2 L99.6,225 L100.1,224.5 L100.6,226.4 L101.1,225 L101.6,225.4 L102.1,225.2 L102.6,224.8 L103.1,225.9 L103.6,225.8 L104.1,224.5 L104.6,226 L105.1,226.2 L105.6,224.8 L106.1,225.8 L106.6,225.8 L107.1,226.9 L107.6,225.4 L108.1,226.9 L108.6,224.5 L109.1,224.5 L109.6,226.8 L110.1,224.8 L110.6,225 L111.1,225.1 L111.6,225.6 L112.1,224.7 L112.6,226.6 L113.1,226.1 L113.6,225.2 L114.1,225.1 L114.6,223.6 L115.1,223.5 L115.6,224.8 L116.1,223.2 L116.6,223.4 L117.1,223.4 L117.6,222.1 L118.1,224.8 L118.6,223 L119.1,225.5 L119.6,224.2 L120.1,225.8 L120.6,226.1 L121.1,225.8 L121.6,224.7 L122.1,223.2 L122.6,225.2 L123.1,224 L123.6,222.2 L124.1,222.8 L124.6,222 L125.1,221.4 L125.6,223.9 L126.1,223.4 L126.6,224.1 L127.1,222.9 L127.6,223.3 L128.1,224.6 L128.6,224.3 L129.1,223 L129.6,224.1 L130.1,225.3 L130.6,224.4 L131.1,225.8 L131.6,225.9 L132.1,226.3 L132.6,225.9 L133.1,225.3 L133.6,225.9 L134.1,225 L134.6,226.5 L135.1,224.7 L135.6,224.7 L136.1,226.7 L136.6,226.6 L137.1,225.7 L137.6,224.6 L138.1,225.1 L138.6,224.7 L139.1,226.6 L139.6,225.6 L140.1,225.6 L140.6,226.3 L141.1,226.4 L141.6,224.8 L142.1,225.5 L142.6,225.6 L143.1,226.8 L143.6,224.6 L144.1,225.2 L144.6,226 L145.1,225.8 L145.6,226.2 L146.1,225.1 L146.6,225.7 L147.1,226.3 L147.6,224.6 L148.1,225.3 L148.6,226.4 L149.1,225.3 L149.6,226 L150.1,225.9 L150.6,225.2 L151.1,224.6 L151.6,225.8 L152.1,225.3 L152.6,225.1 L153.1,226.2 L153.6,224.4 L154.1,225.8 L154.6,225.4 L155.1,225.7 L155.6,225.9 L156.1,225.9 L156.6,225.4 L157.1,224.3 L157.6,224.3 L158.1,223.8 L158.6,226.1 L159.1,224.7 L159.6,225.4 L160.1,226.4 L160.6,225.9 L161.1,225.3 L161.6,225.2 L162.1,226.1 L162.6,224.2 L163.1,224.1 L163.6,226.4 L164.1,226.4 L164.6,225.5 L165.1,224.6 L165.6,224.8 L166.1,226 L166.6,224 L167.1,226.5 L167.6,224.8 L168.1,225.4 L168.6,226.7 L169.1,226.7 L169.6,226.8 L170.1,226.7 L170.6,226.3 L171.1,225.1 L171.6,224.5 L172.1,225.3 L172.6,226.4 L173.1,225.7 L173.6,223.9 L174.1,223.9 L174.6,224.7 L175.1,225.1 L175.6,225.9 L176.1,225.2 L176.6,225.1 L177.1,225 L177.6,225.8 L178.1,225.6 L178.6,225.2 L179.1,226.6 L179.6,226.7 L180.1,226.2 L180.6,224.6 L181.1,227 L181.6,226.5 L182.1,226.1 L182.6,224.9 L183.1,226 L183.6,224.9 L184.1,225.7 L184.6,226.2 L185.1,227 L185.6,226.4 L186.1,225 L186.6,225.7 L187.1,225.2 L187.6,225.4 L188.1,224.9 L188.6,225.9 L189.1,224.5 L189.6,224.6 L190.1,225.8 L190.6,224.8 L191.1,225.7 L191.6,226.8 L192.1,225.7 L192.6,226 L193.1,225.1 L193.6,224.7 L194.1,225.4 L194.6,225.2 L195.1,226.3 L195.6,224.9 L196.1,223.8 L196.6,225.5 L197.1,224.5 L197.6,225.4 L198.1,223.6 L198.6,223 L199.1,223.7 L199.6,224.4 L200.1,226 L200.6,224.8 L201.1,226.1 L201.6,225.1 L202.1,225.1 L202.6,226.3 L203.1,225.1 L203.6,226 L204.1,224.8 L204.6,227 L205.1,226.2 L205.6,226.7 L206.1,226.1 L206.6,226.4 L207.1,226.4 L207.6,224.8 L208.1,225.8 L208.6,225.9 L209.1,226.4 L209.6,224.8 L210.1,225.3 L210.6,227 L211.1,227 L211.6,225.5 L212.1,224.5 L212.6,225.2 L213.1,224.9 L213.6,226 L214.1,225.6 L214.6,226.8 L215.1,226.6 L215.6,225.1 L216.1,224.8 L216.6,225.7 L217.1,225.6 L217.6,224.9 L218.1,224.5 L218.6,226.1 L219.1,225.2 L219.6,227 L220.1,224.8 L220.6,226.8 L221.1,227 L221.6,225.3 L222.1,224.7 L222.6,226 L223.1,226.8 L223.6,225.7 L224.1,226.1 L224.6,224.7 L225.1,225.8 L225.6,224.8 L226.1,226.4 L226.6,226.4 L227.1,224.8 L227.6,225.6 L228.1,225.1 L228.6,225.6 L229.1,225.3 L229.6,225 L230.1,226.4 L230.6,226.2 L231.1,225.9 L231.6,226 L232.1,226 L232.6,224.5 L233.1,226.9 L233.6,226.6 L234.1,224.7 L234.6,225.3 L235.1,226.3 L235.6,225.1 L236.1,224.7 L236.6,225 L237.1,225.9 L237.6,225.6 L238.1,226.1 L238.6,226.2 L239.1,224.9 L239.6,224.4 L240.1,224.8 L240.6,225.2 L241.1,224.1 L241.6,224 L242.1,224.9 L242.6,226 L243.1,223.9 L243.6,225.6 L244.1,226.1 L244.6,225.2 L245.1,224.8 L245.6,224.6 L246.1,224.9 L246.6,226.1 L247.1,223.7 L247.6,224.8 L248.1,226.3 L248.6,226.5 L248.6,242.2 L248.1,242 L247.6,240.8 L247.1,242 L246.6,240.9 L246.1,241.8 L245.6,243 L245.1,243.1 L244.6,243.1 L244.1,240.9 L243.6,241.3 L243.1,242.6 L242.6,241.6 L242.1,241.3 L241.6,241.1 L241.1,241.4 L240.6,240.8 L240.1,241.9 L239.6,242.6 L239.1,240.9 L238.6,241.7 L238.1,242.1 L237.6,241 L237.1,240.9 L236.6,242.8 L236.1,242.5 L235.6,241.7 L235.1,240.5 L234.6,240.9 L234.1,239.9 L233.6,240.1 L233.1,240.9 L232.6,240.4 L232.1,242.2 L231.6,240.2 L231.1,240 L230.6,242 L230.1,240.3 L229.6,240.4 L229.1,240.6 L228.6,240.9 L228.1,241.5 L227.6,241.4 L227.1,241.4 L226.6,240.4 L226.1,241.5 L225.6,241.4 L225.1,240 L224.6,241.8 L224.1,240.8 L223.6,240.3 L223.1,241.4 L222.6,240.1 L222.1,240.7 L221.6,240.7 L221.1,240.5 L220.6,241.2 L220.1,240 L219.6,241.3 L219.1,239.9 L218.6,241.8 L218.1,240.5 L217.6,242 L217.1,240.3 L216.6,242.3 L216.1,241.8 L215.6,240.4 L215.1,240.1 L214.6,241.3 L214.1,240 L213.6,241.1 L213.1,240.5 L212.6,240.7 L212.1,239.9 L211.6,241.4 L211.1,241.1 L210.6,241.5 L210.1,241.3 L209.6,241.2 L209.1,240.9 L208.6,241.3 L208.1,241.4 L207.6,241.5 L207.1,240.6 L206.6,240.9 L206.1,242.1 L205.6,240.2 L205.1,240.7 L204.6,241.1 L204.1,242.2 L203.6,241.8 L203.1,241.1 L202.6,242.1 L202.1,241 L201.6,242.3 L201.1,242.3 L200.6,242.5 L200.1,243 L199.6,241.9 L199.1,241.2 L198.6,241 L198.1,243 L197.6,242.6 L197.1,243.1 L196.6,242.9 L196.1,242.4 L195.6,242.4 L195.1,242 L194.6,240.7 L194.1,242.1 L193.6,240.8 L193.1,241.9 L192.6,240.1 L192.1,240.5 L191.6,242.3 L191.1,240 L190.6,240.7 L190.1,239.9 L189.6,240.5 L189.1,241.2 L188.6,241.2 L188.1,241.4 L187.6,240 L187.1,240.4 L186.6,241.8 L186.1,240.4 L185.6,241 L185.1,240.9 L184.6,241.2 L184.1,240.9 L183.6,240.4 L183.1,241.3 L182.6,240.2 L182.1,240 L181.6,239.9 L181.1,241.8 L180.6,239.9 L180.1,239.8 L179.6,239.8 L179.1,242 L178.6,240.4 L178.1,240.4 L177.6,241 L177.1,240.2 L176.6,242.5 L176.1,240.5 L175.6,240.3 L175.1,242.7 L174.6,240.7 L174.1,241.4 L173.6,240.5 L173.1,240.8 L172.6,240.4 L172.1,241.5 L171.6,241.8 L171.1,240.5 L170.6,241.1 L170.1,241 L169.6,240.2 L169.1,240.4 L168.6,241 L168.1,241.8 L167.6,240.9 L167.1,241 L166.6,241 L166.1,241 L165.6,240.6 L165.1,242.1 L164.6,240.3 L164.1,242.9 L163.6,240.2 L163.1,242 L162.6,240 L162.1,242.2 L161.6,242.4 L161.1,241.2 L160.6,240.4 L160.1,240.5 L159.6,241.5 L159.1,240.6 L158.6,242.8 L158.1,242 L157.6,242.8 L157.1,240.9 L156.6,241.1 L156.1,240.6 L155.6,241.5 L155.1,240.8 L154.6,241.1 L154.1,242.4 L153.6,240.5 L153.1,240.3 L152.6,242.1 L152.1,242.4 L151.6,241.2 L151.1,241.2 L150.6,241.8 L150.1,239.9 L149.6,241.6 L149.1,240.9 L148.6,241.6 L148.1,241.8 L147.6,239.9 L147.1,241.9 L146.6,241.8 L146.1,241.7 L145.6,241.7 L145.1,241.8 L144.6,241.4 L144.1,240.1 L143.6,241.7 L143.1,241.8 L142.6,241.3 L142.1,241.5 L141.6,240.5 L141.1,241.1 L140.6,242.1 L140.1,239.9 L139.6,240.6 L139.1,241.5 L138.6,240.3 L138.1,241.6 L137.6,241.2 L137.1,241.3 L136.6,241.1 L136.1,240.6 L135.6,240.8 L135.1,240.7 L134.6,242.3 L134.1,240.9 L133.6,241.9 L133.1,240.5 L132.6,241.3 L132.1,240.8 L131.6,242.3 L131.1,242.6 L130.6,241.4 L130.1,242.6 L129.6,242 L129.1,243 L128.6,242.7 L128.1,241.4 L127.6,242.1 L127.1,244.5 L126.6,243.5 L126.1,242.6 L125.6,242 L125.1,243.3 L124.6,242.5 L124.1,242.5 L123.6,243.8 L123.1,241.9 L122.6,242.5 L122.1,242.8 L121.6,242 L121.1,241.2 L120.6,241.6 L120.1,240.7 L119.6,242.8 L119.1,240.9 L118.6,242.7 L118.1,243.9 L117.6,242.8 L117.1,242.4 L116.6,241.4 L116.1,243.9 L115.6,243.9 L115.1,243.7 L114.6,242.5 L114.1,243 L113.6,241.1 L113.1,242 L112.6,241 L112.1,240.8 L111.6,241.1 L111.1,242 L110.6,240.2 L110.1,240.3 L109.6,239.8 L109.1,241.1 L108.6,240.3 L108.1,241.5 L107.6,242.1 L107.1,241.4 L106.6,241.8 L106.1,240.2 L105.6,240.9 L105.1,240.1 L104.6,241 L104.1,241 L103.6,241.4 L103.1,241.8 L102.6,240.3 L102.1,240.6 L101.6,239.8 L101.1,240.3 L100.6,241.6 L100.1,241.3 L99.6,240.2 L99.1,240.3 L98.6,240.9 L98.1,242.5 L97.6,241.4 L97.1,243.5 L96.6,241.5 L96.1,244.1 L95.6,242 L95.1,244.5 L94.6,242.8 L94.1,243.3 L93.6,243.8 L93.1,244.2 L92.6,242 L92.1,244.5 L91.6,243.4 L91.1,242.8 L90.6,242.4 L90.1,244.7 L89.6,243.1 L89.1,243.5 L88.6,242.8 L88.1,243.4 L87.6,242.7 L87.1,241.5 L86.6,241 L86.1,241.7 L85.6,241 L85.1,242.4 L84.6,240.6 L84.1,241.5 L83.6,240 L83.1,240.3 L82.6,239.9 L82.1,240.3 L81.6,240 L81.1,240.7 L80.6,242.6 L80.1,241.2 L79.6,242.8 L79.1,242.6 L78.6,242.6 L78.1,241.6 L77.6,244 L77.1,242.9 L76.6,242.4 L76.1,241.5 L75.6,242.7 L75.1,242.6 L74.6,241.3 L74.1,242.4 L73.6,240.8 L73.1,241.3 L72.6,241 L72.1,241.6 L71.6,241.8 L71.1,240.9 L70.6,241.8 L70.1,241.4 L69.6,240.4 L69.1,240.8 L68.6,242.3 L68.1,240.9 L67.6,241.2 L67.1,240 L66.6,240.2 L66.1,241 L65.6,241.7 L65.1,240.1 L64.6,240.5 L64.1,241 L63.6,241.9 L63.1,241.7 L62.6,240.5 L62.1,241.3 L61.6,240.9 L61.1,242 L60.6,241 L60.1,240 L59.6,242.3 L59.1,241.3 L58.6,241.2 L58.1,240.9 L57.6,240.6 L57.1,240.6 L56.6,240.3 L56.1,241.1 L55.6,241.2 L55.1,241.9 L54.6,240.7 L54.1,241.7 L53.6,240.7 L53.1,241.8 L52.6,240 L52.1,241.5 L51.6,240.5 L51.1,241.8 L50.6,240.2 L50.1,242.2 L49.6,239.9 L49.1,241.1 L48.6,240.9 L48.1,239.9 L47.6,242.2 L47.1,241.4 L46.6,241.4 L46.1,240.2Z" fill="url(#gc)"/><path d="M46.1,228 L46.6,228.2 L47.1,227.8 L47.6,227.8 L48.1,228.4 L48.6,227.8 L49.1,228.8 L49.6,228.4 L50.1,228.2 L50.6,228.6 L51.1,228 L51.6,227.8 L52.1,228.3 L52.6,228.8 L53.1,228.8 L53.6,228.9 L54.1,228.4 L54.6,228.3 L55.1,228.8 L55.6,228.5 L56.1,227.6 L56.6,227.9 L57.1,228.9 L57.6,228.4 L58.1,228.7 L58.6,227.9 L59.1,228.5 L59.6,228.9 L60.1,228.1 L60.6,228.8 L61.1,227.9 L61.6,228.6 L62.1,228 L62.6,227.8 L63.1,227.9 L63.6,228.2 L64.1,228 L64.6,228.7 L65.1,227.8 L65.6,228.7 L66.1,228.8 L66.6,228 L67.1,228.4 L67.6,228.8 L68.1,227.8 L68.6,228.2 L69.1,228.3 L69.6,228.8 L70.1,228 L70.6,228.7 L71.1,228.7 L71.6,228 L72.1,227.5 L72.6,227.3 L73.1,227.4 L73.6,228.4 L74.1,227.1 L74.6,227.9 L75.1,227.6 L75.6,227.1 L76.1,227.8 L76.6,227.1 L77.1,227.3 L77.6,226.8 L78.1,226.4 L78.6,226.6 L79.1,226.9 L79.6,228.2 L80.1,227.3 L80.6,227.9 L81.1,227.9 L81.6,228.2 L82.1,228.6 L82.6,228.3 L83.1,228.5 L83.6,228 L84.1,227.6 L84.6,228 L85.1,228.6 L85.6,227.4 L86.1,228.3 L86.6,228 L87.1,227.6 L87.6,227.4 L88.1,227.7 L88.6,227.8 L89.1,227.5 L89.6,227.2 L90.1,227.3 L90.6,226.5 L91.1,227.3 L91.6,226.8 L92.1,226.3 L92.6,226.1 L93.1,227.4 L93.6,227.5 L94.1,227 L94.6,227.5 L95.1,227.1 L95.6,226.6 L96.1,227 L96.6,227.3 L97.1,227.8 L97.6,227.6 L98.1,227.4 L98.6,228.2 L99.1,227.8 L99.6,228.2 L100.1,228.4 L100.6,227.9 L101.1,228.4 L101.6,228.7 L102.1,228.2 L102.6,228.6 L103.1,228.5 L103.6,228.8 L104.1,228.6 L104.6,228.2 L105.1,228.2 L105.6,227.7 L106.1,227.7 L106.6,227.9 L107.1,228.5 L107.6,228.7 L108.1,228 L108.6,227.6 L109.1,228.3 L109.6,227.9 L110.1,228 L110.6,228.2 L111.1,228.7 L111.6,228.4 L112.1,228 L112.6,228.1 L113.1,227.6 L113.6,228.3 L114.1,227.5 L114.6,226.5 L115.1,227.7 L115.6,226.6 L116.1,227.1 L116.6,226.3 L117.1,226.1 L117.6,226.6 L118.1,227.2 L118.6,227.4 L119.1,227 L119.6,228 L120.1,228.3 L120.6,227.3 L121.1,227.6 L121.6,227.6 L122.1,227 L122.6,227.4 L123.1,227 L123.6,227.1 L124.1,227.3 L124.6,226.9 L125.1,226 L125.6,225.7 L126.1,225.6 L126.6,225.6 L127.1,227.1 L127.6,227.3 L128.1,226.4 L128.6,226.7 L129.1,226.6 L129.6,228.1 L130.1,228.1 L130.6,227.6 L131.1,227.6 L131.6,228.5 L132.1,228.1 L132.6,227.9 L133.1,227.6 L133.6,228.1 L134.1,228.7 L134.6,228 L135.1,228.8 L135.6,227.8 L136.1,228.2 L136.6,228.1 L137.1,228.3 L137.6,228.7 L138.1,228.3 L138.6,228 L139.1,228.5 L139.6,227.9 L140.1,228.4 L140.6,228.7 L141.1,228.7 L141.6,228.7 L142.1,228.2 L142.6,228.8 L143.1,228.8 L143.6,228.3 L144.1,228 L144.6,228.1 L145.1,227.9 L145.6,227.6 L146.1,228.4 L146.6,227.6 L147.1,228.1 L147.6,227.8 L148.1,228.6 L148.6,228.1 L149.1,228.5 L149.6,228.1 L150.1,228 L150.6,228.5 L151.1,227.9 L151.6,228.6 L152.1,228.5 L152.6,228 L153.1,227.9 L153.6,228.5 L154.1,227.7 L154.6,228.4 L155.1,227.1 L155.6,227 L156.1,227.7 L156.6,228.3 L157.1,227.3 L157.6,227.1 L158.1,227.5 L158.6,227.4 L159.1,227.9 L159.6,227.6 L160.1,228.1 L160.6,228 L161.1,227.7 L161.6,228.6 L162.1,227.5 L162.6,227.7 L163.1,228.1 L163.6,228.3 L164.1,228 L164.6,227.2 L165.1,228.1 L165.6,227.5 L166.1,227.7 L166.6,227.3 L167.1,227.9 L167.6,228.1 L168.1,228 L168.6,228.7 L169.1,228.6 L169.6,228.4 L170.1,228.4 L170.6,228.5 L171.1,227.6 L171.6,228.4 L172.1,228.3 L172.6,228.1 L173.1,227.8 L173.6,227.3 L174.1,228.4 L174.6,227.3 L175.1,228.1 L175.6,227.3 L176.1,227 L176.6,227.8 L177.1,227.5 L177.6,227.7 L178.1,227.8 L178.6,228 L179.1,227.9 L179.6,228.8 L180.1,228.2 L180.6,228.9 L181.1,228.7 L181.6,228.7 L182.1,228.8 L182.6,228.5 L183.1,228.7 L183.6,228.3 L184.1,228.4 L184.6,227.8 L185.1,228.2 L185.6,228.6 L186.1,228.8 L186.6,228.8 L187.1,228.3 L187.6,228 L188.1,227.8 L188.6,228.5 L189.1,228.1 L189.6,227.7 L190.1,228.5 L190.6,227.8 L191.1,228.4 L191.6,228.5 L192.1,228.4 L192.6,228.3 L193.1,228.6 L193.6,227.4 L194.1,227.9 L194.6,227.9 L195.1,227.8 L195.6,227.6 L196.1,227 L196.6,227.1 L197.1,227.3 L197.6,226.9 L198.1,227.2 L198.6,226.6 L199.1,227.3 L199.6,227.9 L200.1,228.2 L200.6,227.6 L201.1,228.5 L201.6,228.6 L202.1,228.8 L202.6,227.6 L203.1,228.1 L203.6,227.7 L204.1,228.8 L204.6,228.8 L205.1,228.6 L205.6,228.7 L206.1,228.6 L206.6,228.3 L207.1,228.2 L207.6,228.5 L208.1,228.7 L208.6,228.8 L209.1,227.8 L209.6,228.6 L210.1,228.3 L210.6,228.6 L211.1,227.9 L211.6,228 L212.1,228.6 L212.6,228.4 L213.1,228.6 L213.6,228.5 L214.1,228.8 L214.6,228.1 L215.1,228.2 L215.6,228.4 L216.1,228.3 L216.6,228.6 L217.1,228 L217.6,227.8 L218.1,228.7 L218.6,228.7 L219.1,227.6 L219.6,228.3 L220.1,228.3 L220.6,228.8 L221.1,228.4 L221.6,227.6 L222.1,228.2 L222.6,227.8 L223.1,228.4 L223.6,228.2 L224.1,228.5 L224.6,228.8 L225.1,227.9 L225.6,228.6 L226.1,227.8 L226.6,228.8 L227.1,228.8 L227.6,228.7 L228.1,228.4 L228.6,228.1 L229.1,228.6 L229.6,227.7 L230.1,228.7 L230.6,228.6 L231.1,227.9 L231.6,228.8 L232.1,227.6 L232.6,228.6 L233.1,228.6 L233.6,227.9 L234.1,228.6 L234.6,228.6 L235.1,228.5 L235.6,228.7 L236.1,228.3 L236.6,227.8 L237.1,227.7 L237.6,227.5 L238.1,227.8 L238.6,227 L239.1,227.4 L239.6,228.3 L240.1,228.1 L240.6,227.3 L241.1,228.1 L241.6,226.9 L242.1,228.2 L242.6,227.4 L243.1,227.6 L243.6,227.1 L244.1,228.3 L244.6,226.9 L245.1,227.5 L245.6,227.1 L246.1,227.3 L246.6,228.3 L247.1,228.1 L247.6,227.3 L248.1,228 L248.6,228.1 L248.6,238.5 L248.1,238.4 L247.6,238.7 L247.1,239.6 L246.6,238.7 L246.1,239.5 L245.6,239.8 L245.1,238.9 L244.6,239.4 L244.1,239.9 L243.6,239.1 L243.1,238.6 L242.6,239 L242.1,239.9 L241.6,239.4 L241.1,238.6 L240.6,239.3 L240.1,239.3 L239.6,239.8 L239.1,239.9 L238.6,239.2 L238.1,239.7 L237.6,238.7 L237.1,239.1 L236.6,239.3 L236.1,238.9 L235.6,238.7 L235.1,238.5 L234.6,238.4 L234.1,239.2 L233.6,238.3 L233.1,238.8 L232.6,238.9 L232.1,238.2 L231.6,238.2 L231.1,238.1 L230.6,239 L230.1,238.8 L229.6,238.9 L229.1,238 L228.6,238.9 L228.1,238.1 L227.6,238 L227.1,238 L226.6,238.7 L226.1,238.2 L225.6,238 L225.1,238 L224.6,238.7 L224.1,238.7 L223.6,238.4 L223.1,238.6 L222.6,239.1 L222.1,238.2 L221.6,239 L221.1,238.3 L220.6,238.4 L220.1,238.6 L219.6,238.7 L219.1,238.4 L218.6,238.9 L218.1,238.3 L217.6,239.1 L217.1,238 L216.6,239.1 L216.1,238.1 L215.6,238.6 L215.1,238.3 L214.6,238.7 L214.1,238.4 L213.6,238.6 L213.1,239.1 L212.6,238.2 L212.1,238.1 L211.6,238.6 L211.1,238.1 L210.6,238.1 L210.1,238.4 L209.6,238.7 L209.1,238.3 L208.6,238.6 L208.1,239.2 L207.6,238.3 L207.1,238.2 L206.6,238 L206.1,238.9 L205.6,238.4 L205.1,239 L204.6,238.3 L204.1,239.1 L203.6,237.9 L203.1,238.2 L202.6,238.2 L202.1,239 L201.6,238.3 L201.1,238.7 L200.6,239.6 L200.1,239.3 L199.6,239.9 L199.1,239.5 L198.6,239.2 L198.1,239.6 L197.6,239 L197.1,239.3 L196.6,239.9 L196.1,239.4 L195.6,239.6 L195.1,239 L194.6,238.2 L194.1,238.9 L193.6,238.3 L193.1,239.2 L192.6,238.4 L192.1,238.5 L191.6,239.2 L191.1,238.2 L190.6,238.2 L190.1,239.2 L189.6,238 L189.1,238.9 L188.6,239.1 L188.1,239 L187.6,238.9 L187.1,239.1 L186.6,238 L186.1,238.9 L185.6,239.2 L185.1,238.2 L184.6,239 L184.1,238.6 L183.6,239.2 L183.1,238 L182.6,238.4 L182.1,238.1 L181.6,238.6 L181.1,238.6 L180.6,238.1 L180.1,239 L179.6,238.2 L179.1,238.2 L178.6,238.9 L178.1,239.2 L177.6,238.6 L177.1,238.2 L176.6,239.2 L176.1,239.2 L175.6,238.2 L175.1,239.2 L174.6,238.5 L174.1,239.6 L173.6,238.5 L173.1,238.9 L172.6,239.1 L172.1,239.2 L171.6,238.3 L171.1,238.6 L170.6,238.5 L170.1,239 L169.6,238 L169.1,238.8 L168.6,239.1 L168.1,238.5 L167.6,238.5 L167.1,238.8 L166.6,239.3 L166.1,239.1 L165.6,239.4 L165.1,238.4 L164.6,238.7 L164.1,238.3 L163.6,239.1 L163.1,238.9 L162.6,238.9 L162.1,238.7 L161.6,238.6 L161.1,238.5 L160.6,239.1 L160.1,238.9 L159.6,238.8 L159.1,238.9 L158.6,238.4 L158.1,239.5 L157.6,238.3 L157.1,239.3 L156.6,238.7 L156.1,238.5 L155.6,239.5 L155.1,238.3 L154.6,238.9 L154.1,239.4 L153.6,239.1 L153.1,238.9 L152.6,239.2 L152.1,238.6 L151.6,239.2 L151.1,238.9 L150.6,238.9 L150.1,239.1 L149.6,238.3 L149.1,238.3 L148.6,238.1 L148.1,238.8 L147.6,238.6 L147.1,238.8 L146.6,238.5 L146.1,239 L145.6,238.2 L145.1,238.9 L144.6,239.1 L144.1,238.8 L143.6,238.5 L143.1,237.9 L142.6,238.1 L142.1,238.6 L141.6,238.2 L141.1,238.5 L140.6,238.7 L140.1,239.2 L139.6,238.4 L139.1,238.1 L138.6,239.2 L138.1,238.4 L137.6,238.3 L137.1,239 L136.6,238.3 L136.1,238 L135.6,239 L135.1,238.1 L134.6,238.1 L134.1,238.5 L133.6,238.2 L133.1,238.6 L132.6,238.7 L132.1,238 L131.6,238.9 L131.1,239.1 L130.6,239.4 L130.1,238.3 L129.6,238.9 L129.1,239.6 L128.6,239.5 L128.1,239.9 L127.6,240.4 L127.1,239.7 L126.6,239.6 L126.1,240.9 L125.6,239.5 L125.1,240.2 L124.6,239.8 L124.1,240.5 L123.6,239.4 L123.1,239.7 L122.6,239.9 L122.1,238.5 L121.6,238.5 L121.1,238.6 L120.6,239 L120.1,239.6 L119.6,239.7 L119.1,239.9 L118.6,240.2 L118.1,239.6 L117.6,240.3 L117.1,239.2 L116.6,239.5 L116.1,240.5 L115.6,239.4 L115.1,239.7 L114.6,240 L114.1,238.9 L113.6,239.4 L113.1,239 L112.6,238.7 L112.1,238.2 L111.6,238.9 L111.1,238.9 L110.6,238.6 L110.1,238.1 L109.6,239.2 L109.1,238 L108.6,238.5 L108.1,238.6 L107.6,238.6 L107.1,239.2 L106.6,238.5 L106.1,238.7 L105.6,238.6 L105.1,237.9 L104.6,239.1 L104.1,238.5 L103.6,239.2 L103.1,237.9 L102.6,238.4 L102.1,239.2 L101.6,238 L101.1,239 L100.6,238.7 L100.1,238.8 L99.6,238.6 L99.1,239.4 L98.6,239.5 L98.1,239.9 L97.6,239.4 L97.1,239.2 L96.6,240.6 L96.1,240.5 L95.6,240.2 L95.1,240.2 L94.6,239.6 L94.1,240 L93.6,239.6 L93.1,240.6 L92.6,240 L92.1,240.9 L91.6,240.1 L91.1,239.7 L90.6,239.8 L90.1,240 L89.6,240 L89.1,239.2 L88.6,240.2 L88.1,239.6 L87.6,238.8 L87.1,239.5 L86.6,238.8 L86.1,239 L85.6,238.9 L85.1,239.2 L84.6,238.8 L84.1,238.5 L83.6,238.1 L83.1,238.7 L82.6,238.3 L82.1,239.3 L81.6,238.6 L81.1,238.4 L80.6,239.4 L80.1,239.4 L79.6,239 L79.1,238.9 L78.6,238.8 L78.1,239.7 L77.6,238.9 L77.1,239.8 L76.6,238.9 L76.1,240 L75.6,238.9 L75.1,238.9 L74.6,238.8 L74.1,239.5 L73.6,239.5 L73.1,238.2 L72.6,239 L72.1,238.2 L71.6,238.6 L71.1,238.5 L70.6,239 L70.1,238.3 L69.6,237.9 L69.1,238.2 L68.6,238.9 L68.1,239 L67.6,238.8 L67.1,238.8 L66.6,238.2 L66.1,238.5 L65.6,238.3 L65.1,238.8 L64.6,238.5 L64.1,238.8 L63.6,239.1 L63.1,238.1 L62.6,238.2 L62.1,238.5 L61.6,239 L61.1,239.2 L60.6,238.7 L60.1,238.8 L59.6,238.1 L59.1,238.7 L58.6,238.7 L58.1,238.5 L57.6,239 L57.1,238.8 L56.6,238.7 L56.1,239.2 L55.6,238.5 L55.1,239 L54.6,238.5 L54.1,238.5 L53.6,238.2 L53.1,238.4 L52.6,238.7 L52.1,239.1 L51.6,238.3 L51.1,238.3 L50.6,239.1 L50.1,238.1 L49.6,237.9 L49.1,238.2 L48.6,239 L48.1,238.8 L47.6,239.2 L47.1,238.9 L46.6,239.1 L46.1,238.4Z" fill="#5d9dcf"/><path d="M46.1,230.8 L46.6,230.6 L47.1,230.7 L47.6,230.9 L48.1,230.7 L48.6,231 L49.1,230.5 L49.6,230.6 L50.1,230.8 L50.6,230.9 L51.1,230.7 L51.6,230.7 L52.1,230.5 L52.6,230.8 L53.1,230.5 L53.6,230.6 L54.1,230.9 L54.6,230.6 L55.1,230.7 L55.6,230.6 L56.1,230.8 L56.6,230.8 L57.1,230.5 L57.6,230.7 L58.1,230.8 L58.6,231 L59.1,230.9 L59.6,230.9 L60.1,230.6 L60.6,230.5 L61.1,230.5 L61.6,230.9 L62.1,230.7 L62.6,230.6 L63.1,230.9 L63.6,231 L64.1,231 L64.6,230.7 L65.1,230.7 L65.6,230.6 L66.1,230.6 L66.6,230.9 L67.1,230.6 L67.6,230.5 L68.1,230.9 L68.6,230.7 L69.1,230.6 L69.6,230.8 L70.1,230.5 L70.6,230.5 L71.1,230.6 L71.6,231 L72.1,230.8 L72.6,230.8 L73.1,230.7 L73.6,230.8 L74.1,230.3 L74.6,230.3 L75.1,230.3 L75.6,230.4 L76.1,229.9 L76.6,230.2 L77.1,229.9 L77.6,230.4 L78.1,229.9 L78.6,230.1 L79.1,230.2 L79.6,230.6 L80.1,230.5 L80.6,230.5 L81.1,230.8 L81.6,230.4 L82.1,230.9 L82.6,230.8 L83.1,230.5 L83.6,230.5 L84.1,230.5 L84.6,230.8 L85.1,230.9 L85.6,230.8 L86.1,230.5 L86.6,230.3 L87.1,230.2 L87.6,230.3 L88.1,230.4 L88.6,230.5 L89.1,229.9 L89.6,230.1 L90.1,229.8 L90.6,230 L91.1,229.8 L91.6,230 L92.1,229.8 L92.6,230.1 L93.1,230 L93.6,230 L94.1,230.2 L94.6,230.2 L95.1,230.3 L95.6,229.8 L96.1,230.2 L96.6,230.3 L97.1,230.3 L97.6,230.4 L98.1,230.4 L98.6,230.6 L99.1,230.3 L99.6,230.9 L100.1,230.4 L100.6,230.8 L101.1,231 L101.6,230.9 L102.1,230.9 L102.6,230.5 L103.1,230.9 L103.6,230.9 L104.1,230.7 L104.6,230.6 L105.1,230.7 L105.6,230.8 L106.1,230.8 L106.6,230.8 L107.1,230.6 L107.6,230.7 L108.1,230.9 L108.6,230.7 L109.1,230.6 L109.6,230.5 L110.1,230.7 L110.6,230.7 L111.1,230.9 L111.6,230.9 L112.1,230.8 L112.6,230.5 L113.1,230.3 L113.6,230.4 L114.1,230.6 L114.6,230.4 L115.1,229.9 L115.6,229.9 L116.1,229.9 L116.6,229.7 L117.1,229.6 L117.6,229.6 L118.1,230 L118.6,230.3 L119.1,230.1 L119.6,230.2 L120.1,230.5 L120.6,230.6 L121.1,230.3 L121.6,230.7 L122.1,230.3 L122.6,230.3 L123.1,230.2 L123.6,229.8 L124.1,230.3 L124.6,229.7 L125.1,229.7 L125.6,229.6 L126.1,229.9 L126.6,229.6 L127.1,230.1 L127.6,230.1 L128.1,230 L128.6,230.2 L129.1,230.2 L129.6,230.6 L130.1,230.3 L130.6,230.6 L131.1,230.4 L131.6,230.7 L132.1,230.7 L132.6,230.6 L133.1,231 L133.6,230.8 L134.1,230.8 L134.6,230.9 L135.1,230.9 L135.6,230.9 L136.1,230.8 L136.6,230.6 L137.1,230.5 L137.6,230.8 L138.1,230.7 L138.6,230.8 L139.1,230.6 L139.6,230.6 L140.1,230.7 L140.6,230.6 L141.1,230.7 L141.6,230.8 L142.1,230.7 L142.6,230.8 L143.1,231 L143.6,231 L144.1,230.8 L144.6,230.6 L145.1,230.7 L145.6,230.8 L146.1,230.8 L146.6,230.7 L147.1,230.7 L147.6,230.5 L148.1,230.9 L148.6,230.8 L149.1,230.7 L149.6,230.6 L150.1,230.7 L150.6,230.6 L151.1,230.8 L151.6,230.8 L152.1,230.7 L152.6,230.7 L153.1,230.6 L153.6,230.9 L154.1,230.9 L154.6,230.4 L155.1,230.6 L155.6,230.6 L156.1,230.3 L156.6,230.6 L157.1,230.5 L157.6,230.2 L158.1,230.6 L158.6,230.7 L159.1,230.6 L159.6,230.8 L160.1,230.7 L160.6,230.9 L161.1,231 L161.6,230.9 L162.1,230.5 L162.6,230.6 L163.1,230.5 L163.6,230.7 L164.1,230.6 L164.6,230.7 L165.1,230.6 L165.6,230.5 L166.1,230.5 L166.6,230.7 L167.1,230.7 L167.6,230.7 L168.1,230.7 L168.6,230.5 L169.1,230.7 L169.6,230.5 L170.1,231 L170.6,230.8 L171.1,230.7 L171.6,230.7 L172.1,230.6 L172.6,230.4 L173.1,230.7 L173.6,230.8 L174.1,230.5 L174.6,230.4 L175.1,230.5 L175.6,230.7 L176.1,230.1 L176.6,230.7 L177.1,230.7 L177.6,230.6 L178.1,230.8 L178.6,230.5 L179.1,230.7 L179.6,230.5 L180.1,230.5 L180.6,231 L181.1,231 L181.6,230.8 L182.1,230.6 L182.6,230.9 L183.1,230.6 L183.6,231 L184.1,230.9 L184.6,231 L185.1,230.8 L185.6,231 L186.1,230.8 L186.6,230.5 L187.1,230.5 L187.6,230.8 L188.1,230.8 L188.6,230.6 L189.1,230.8 L189.6,230.6 L190.1,230.7 L190.6,231 L191.1,230.5 L191.6,230.9 L192.1,230.5 L192.6,230.7 L193.1,230.5 L193.6,230.9 L194.1,230.4 L194.6,230.5 L195.1,230.5 L195.6,230.2 L196.1,230.5 L196.6,230.3 L197.1,230.4 L197.6,230.3 L198.1,230 L198.6,230.4 L199.1,230.5 L199.6,230.4 L200.1,230.1 L200.6,230.3 L201.1,230.3 L201.6,230.9 L202.1,230.6 L202.6,230.7 L203.1,230.8 L203.6,230.6 L204.1,230.7 L204.6,230.8 L205.1,231 L205.6,230.7 L206.1,230.8 L206.6,230.8 L207.1,231 L207.6,231 L208.1,230.7 L208.6,230.6 L209.1,230.6 L209.6,230.8 L210.1,231 L210.6,230.9 L211.1,230.8 L211.6,230.6 L212.1,231 L212.6,230.7 L213.1,230.6 L213.6,230.6 L214.1,230.8 L214.6,230.8 L215.1,230.7 L215.6,230.9 L216.1,230.6 L216.6,230.6 L217.1,231 L217.6,230.7 L218.1,230.5 L218.6,230.5 L219.1,230.9 L219.6,230.5 L220.1,230.9 L220.6,230.8 L221.1,230.8 L221.6,230.8 L222.1,231 L222.6,230.7 L223.1,230.8 L223.6,230.5 L224.1,230.5 L224.6,230.7 L225.1,230.7 L225.6,230.6 L226.1,230.6 L226.6,231 L227.1,230.8 L227.6,230.8 L228.1,230.5 L228.6,230.6 L229.1,230.6 L229.6,230.7 L230.1,230.7 L230.6,230.8 L231.1,230.7 L231.6,230.5 L232.1,230.9 L232.6,230.5 L233.1,230.5 L233.6,231 L234.1,230.8 L234.6,230.7 L235.1,230.9 L235.6,230.8 L236.1,230.8 L236.6,230.4 L237.1,230.4 L237.6,230.7 L238.1,230.3 L238.6,230.7 L239.1,230.4 L239.6,230.4 L240.1,230.5 L240.6,230.3 L241.1,230.5 L241.6,230.5 L242.1,230.3 L242.6,230.3 L243.1,230.2 L243.6,230.1 L244.1,230.2 L244.6,230.7 L245.1,230.7 L245.6,230.6 L246.1,230.3 L246.6,230.7 L247.1,230.8 L247.6,230.6 L248.1,230.5 L248.6,230.7 L248.6,236 L248.1,236.4 L247.6,236.2 L247.1,236.5 L246.6,236.5 L246.1,236.2 L245.6,236.2 L245.1,236.4 L244.6,236.6 L244.1,236.3 L243.6,236.1 L243.1,236.6 L242.6,236.2 L242.1,236.4 L241.6,236.7 L241.1,236.4 L240.6,236.2 L240.1,236.1 L239.6,236.3 L239.1,236.3 L238.6,236.3 L238.1,236.6 L237.6,236.5 L237.1,236.5 L236.6,236.4 L236.1,236 L235.6,236.4 L235.1,236.3 L234.6,236.3 L234.1,236.3 L233.6,235.8 L233.1,236 L232.6,236 L232.1,236 L231.6,236.1 L231.1,235.8 L230.6,236 L230.1,235.9 L229.6,236.3 L229.1,236.2 L228.6,235.8 L228.1,236.1 L227.6,235.8 L227.1,235.9 L226.6,236.2 L226.1,236.1 L225.6,236 L225.1,236.2 L224.6,235.8 L224.1,235.9 L223.6,235.8 L223.1,235.8 L222.6,235.9 L222.1,235.9 L221.6,235.8 L221.1,236.2 L220.6,235.9 L220.1,236 L219.6,236 L219.1,236.1 L218.6,236 L218.1,235.9 L217.6,236.2 L217.1,235.8 L216.6,235.9 L216.1,236.2 L215.6,236.3 L215.1,236.2 L214.6,236.1 L214.1,236.2 L213.6,236 L213.1,236.2 L212.6,236 L212.1,236.1 L211.6,236.3 L211.1,235.9 L210.6,235.8 L210.1,235.9 L209.6,236.1 L209.1,236.1 L208.6,236 L208.1,235.8 L207.6,236 L207.1,236 L206.6,236.3 L206.1,236 L205.6,236.3 L205.1,235.9 L204.6,236 L204.1,236.3 L203.6,235.8 L203.1,236.3 L202.6,236.1 L202.1,235.9 L201.6,236 L201.1,236.1 L200.6,236.5 L200.1,236.3 L199.6,236.4 L199.1,236.6 L198.6,236.3 L198.1,236.5 L197.6,236.5 L197.1,236.6 L196.6,236.3 L196.1,236.1 L195.6,236.3 L195.1,236.5 L194.6,236.2 L194.1,236.2 L193.6,236.1 L193.1,235.8 L192.6,236 L192.1,236.3 L191.6,236 L191.1,235.8 L190.6,235.9 L190.1,236.1 L189.6,236.1 L189.1,236.2 L188.6,235.8 L188.1,236 L187.6,235.8 L187.1,236.2 L186.6,236.2 L186.1,236 L185.6,235.8 L185.1,236.3 L184.6,235.9 L184.1,235.8 L183.6,235.9 L183.1,236.3 L182.6,235.9 L182.1,236 L181.6,236.2 L181.1,235.8 L180.6,236.1 L180.1,236 L179.6,236 L179.1,236 L178.6,236 L178.1,236.2 L177.6,235.9 L177.1,236.4 L176.6,236.3 L176.1,236 L175.6,236.1 L175.1,236.4 L174.6,236.1 L174.1,236.1 L173.6,236 L173.1,235.9 L172.6,236.1 L172.1,236.2 L171.6,236.1 L171.1,236.3 L170.6,236.2 L170.1,236.3 L169.6,236 L169.1,236.1 L168.6,236 L168.1,236.3 L167.6,236.4 L167.1,236 L166.6,236.2 L166.1,236 L165.6,236.3 L165.1,236 L164.6,236.2 L164.1,236 L163.6,236 L163.1,236.4 L162.6,236.2 L162.1,236.1 L161.6,235.9 L161.1,236.1 L160.6,236.3 L160.1,235.9 L159.6,236.3 L159.1,236.2 L158.6,236.5 L158.1,236.3 L157.6,236.3 L157.1,236.3 L156.6,236.5 L156.1,236.2 L155.6,236.3 L155.1,236.3 L154.6,236.4 L154.1,236 L153.6,236.1 L153.1,236.4 L152.6,235.9 L152.1,236.2 L151.6,235.8 L151.1,236.2 L150.6,235.8 L150.1,236.1 L149.6,236 L149.1,235.8 L148.6,235.8 L148.1,236.3 L147.6,235.8 L147.1,236.3 L146.6,236 L146.1,235.9 L145.6,235.8 L145.1,236.3 L144.6,236 L144.1,236 L143.6,235.9 L143.1,236.1 L142.6,236.2 L142.1,236.2 L141.6,236 L141.1,235.8 L140.6,236 L140.1,236.1 L139.6,235.9 L139.1,236.1 L138.6,235.8 L138.1,235.9 L137.6,236 L137.1,236 L136.6,236 L136.1,236.1 L135.6,235.9 L135.1,236.1 L134.6,236 L134.1,236.2 L133.6,236.1 L133.1,236.2 L132.6,236.2 L132.1,235.9 L131.6,236.2 L131.1,236 L130.6,236 L130.1,236.1 L129.6,236.5 L129.1,236.3 L128.6,236.8 L128.1,236.8 L127.6,236.5 L127.1,236.7 L126.6,236.8 L126.1,237 L125.6,236.7 L125.1,236.6 L124.6,237 L124.1,236.9 L123.6,236.5 L123.1,236.5 L122.6,236.2 L122.1,236.3 L121.6,236.4 L121.1,236.4 L120.6,236 L120.1,236.3 L119.6,236.5 L119.1,236.6 L118.6,236.6 L118.1,236.3 L117.6,236.7 L117.1,237 L116.6,236.7 L116.1,236.9 L115.6,236.4 L115.1,236.2 L114.6,236.6 L114.1,236.5 L113.6,236 L113.1,236.1 L112.6,236 L112.1,236 L111.6,235.9 L111.1,236.1 L110.6,235.9 L110.1,235.8 L109.6,235.8 L109.1,236.2 L108.6,235.8 L108.1,236.1 L107.6,235.9 L107.1,236.2 L106.6,236.1 L106.1,236.3 L105.6,235.8 L105.1,236 L104.6,236.3 L104.1,236.2 L103.6,236 L103.1,236 L102.6,236 L102.1,236.2 L101.6,236 L101.1,235.9 L100.6,235.8 L100.1,236 L99.6,236.3 L99.1,236.4 L98.6,236.1 L98.1,236.3 L97.6,236.6 L97.1,236.5 L96.6,236.9 L96.1,236.9 L95.6,236.5 L95.1,236.6 L94.6,236.8 L94.1,237.1 L93.6,236.7 L93.1,236.9 L92.6,236.7 L92.1,236.8 L91.6,237 L91.1,237 L90.6,236.6 L90.1,236.5 L89.6,236.9 L89.1,236.7 L88.6,236.9 L88.1,236.4 L87.6,236.4 L87.1,236.2 L86.6,236.5 L86.1,236 L85.6,236.3 L85.1,236.2 L84.6,236 L84.1,236.1 L83.6,236.1 L83.1,235.9 L82.6,236.2 L82.1,235.8 L81.6,235.9 L81.1,236.1 L80.6,236.2 L80.1,236.5 L79.6,236.3 L79.1,236.3 L78.6,236.6 L78.1,236.3 L77.6,236.5 L77.1,236.6 L76.6,236.4 L76.1,236.3 L75.6,236.4 L75.1,236.7 L74.6,236.6 L74.1,236.2 L73.6,236 L73.1,236.4 L72.6,236.1 L72.1,236 L71.6,236 L71.1,236 L70.6,236.2 L70.1,235.8 L69.6,236.2 L69.1,236.1 L68.6,236.3 L68.1,236.3 L67.6,236.2 L67.1,235.9 L66.6,236 L66.1,236.1 L65.6,236.1 L65.1,236.2 L64.6,236.2 L64.1,235.9 L63.6,236.2 L63.1,236.3 L62.6,236.1 L62.1,236.2 L61.6,235.8 L61.1,236.1 L60.6,236.2 L60.1,235.9 L59.6,235.8 L59.1,236.1 L58.6,236 L58.1,236.2 L57.6,236.1 L57.1,236 L56.6,236.2 L56.1,236.2 L55.6,236 L55.1,236.2 L54.6,236.1 L54.1,236.2 L53.6,235.9 L53.1,236.2 L52.6,235.9 L52.1,235.8 L51.6,236.2 L51.1,235.8 L50.6,236.2 L50.1,235.9 L49.6,236.2 L49.1,236.2 L48.6,235.9 L48.1,236.1 L47.6,236.2 L47.1,236 L46.6,236.1 L46.1,235.9Z" fill="#96c2e4"/></g>
<rect x="36.1" y="187.2" width="222.1" height="92.2" fill="none" stroke="#555" stroke-width="0.75"/>
<line x1="34.12" y1="197.4" x2="36.1" y2="197.4" stroke="#555" stroke-width="0.6"/>
<text x="31.33" y="199.86" font-size="5.67" text-anchor="end">0.3</text>
<line x1="34.12" y1="209.4" x2="36.1" y2="209.4" stroke="#555" stroke-width="0.6"/>
<text x="31.33" y="211.86" font-size="5.67" text-anchor="end">0.2</text>
<line x1="34.12" y1="221.4" x2="36.1" y2="221.4" stroke="#555" stroke-width="0.6"/>
<text x="31.33" y="223.86" font-size="5.67" text-anchor="end">0.1</text>
<line x1="34.12" y1="233.4" x2="36.1" y2="233.4" stroke="#555" stroke-width="0.6"/>
<text x="31.33" y="235.86" font-size="5.67" text-anchor="end">0.0</text>
<line x1="34.12" y1="245.4" x2="36.1" y2="245.4" stroke="#555" stroke-width="0.6"/>
<text x="31.33" y="247.86" font-size="5.67" text-anchor="end">-0.1</text>
<line x1="34.12" y1="257.4" x2="36.1" y2="257.4" stroke="#555" stroke-width="0.6"/>
<text x="31.33" y="259.86" font-size="5.67" text-anchor="end">-0.2</text>
<line x1="34.12" y1="269.4" x2="36.1" y2="269.4" stroke="#555" stroke-width="0.6"/>
<text x="31.33" y="271.86" font-size="5.67" text-anchor="end">-0.3</text>
<line x1="46.6" y1="279.4" x2="46.6" y2="281.38" stroke="#555" stroke-width="0.6"/>
<text x="46.6" y="287.68" font-size="5.67" text-anchor="middle">0:00</text>
<line x1="76.77" y1="279.4" x2="76.77" y2="281.38" stroke="#555" stroke-width="0.6"/>
<text x="76.77" y="287.68" font-size="5.67" text-anchor="middle">0:15</text>
<line x1="106.94" y1="279.4" x2="106.94" y2="281.38" stroke="#555" stroke-width="0.6"/>
<text x="106.94" y="287.68" font-size="5.67" text-anchor="middle">0:30</text>
<line x1="137.11" y1="279.4" x2="137.11" y2="281.38" stroke="#555" stroke-width="0.6"/>
<text x="137.11" y="287.68" font-size="5.67" text-anchor="middle">0:45</text>
<line x1="167.28" y1="279.4" x2="167.28" y2="281.38" stroke="#555" stroke-width="0.6"/>
<text x="167.28" y="287.68" font-size="5.67" text-anchor="middle">1:00</text>
<line x1="197.45" y1="279.4" x2="197.45" y2="281.38" stroke="#555" stroke-width="0.6"/>
<text x="197.45" y="287.68" font-size="5.67" text-anchor="middle">1:15</text>
<line x1="227.62" y1="279.4" x2="227.62" y2="281.38" stroke="#555" stroke-width="0.6"/>
<text x="227.62" y="287.68" font-size="5.67" text-anchor="middle">1:30</text>
<text x="147.15" y="296.42" font-size="5.67" text-anchor="middle">Time (s)</text>
<text transform="translate(16.3,234.2) rotate(-90)" font-size="5.67" text-anchor="middle">Amplitude</text>
<text x="146.4" y="183.8" font-size="6.87" text-anchor="middle">Waveform: normal, SNR 0 dB, Noise type 0</text>
<text class="cap" x="134.6" y="326" font-family="'Liberation Serif', serif" font-size="12.6" fill="#000" text-anchor="middle">(<tspan font-weight="bold">c</tspan>)</text>
<g id="wfd"><defs><linearGradient id="gd" gradientUnits="userSpaceOnUse" x1="0" y1="202.6" x2="0" y2="264"><stop offset="0%" stop-color="#8cbce1"/><stop offset="22.2%" stop-color="#8cbce1"/><stop offset="28.8%" stop-color="#78afd9"/><stop offset="35%" stop-color="#78afd9"/><stop offset="36.5%" stop-color="#5d9dcf"/><stop offset="50%" stop-color="#5d9dcf"/><stop offset="63.5%" stop-color="#5d9dcf"/><stop offset="65%" stop-color="#78afd9"/><stop offset="71.2%" stop-color="#78afd9"/><stop offset="77.8%" stop-color="#8cbce1"/><stop offset="100%" stop-color="#8cbce1"/></linearGradient></defs><path d="M311.5,216.5 L312,212.6 L312.5,213.7 L313,212.7 L313.5,213.5 L314,211.1 L314.5,213.5 L315,213.5 L315.5,215.2 L316,219 L316.5,214.3 L317,217.8 L317.5,214.9 L318,213.3 L318.5,213 L319,214.4 L319.5,213.6 L320,211.4 L320.5,213.7 L321,218.5 L321.5,217.4 L322,214.8 L322.5,214.4 L323,217.6 L323.5,217.5 L324,219.1 L324.5,215.5 L325,217.2 L325.5,219.1 L326,220.4 L326.5,216.5 L327,216.2 L327.5,216 L328,216.2 L328.5,215.5 L329,216.2 L329.5,218.9 L330,215.4 L330.5,216.7 L331,219.3 L331.5,216.2 L332,219.2 L332.5,218.1 L333,216.1 L333.5,216.9 L334,217.8 L334.5,215.2 L335,217.8 L335.5,218.1 L336,219.2 L336.5,215.9 L337,217 L337.5,219.4 L338,215.4 L338.5,216.6 L339,216.6 L339.5,215.7 L340,217.7 L340.5,217.2 L341,217.9 L341.5,216.3 L342,219.5 L342.5,215.5 L343,215.9 L343.5,216.2 L344,215.7 L344.5,215.6 L345,219 L345.5,217.1 L346,220.7 L346.5,216.2 L347,221.1 L347.5,216.1 L348,218.6 L348.5,216.2 L349,217.9 L349.5,214.8 L350,215.3 L350.5,214 L351,205.5 L351.5,214.8 L352,213.9 L352.5,210.6 L353,207.4 L353.5,207.7 L354,217.9 L354.5,214 L355,212 L355.5,215 L356,211.5 L356.5,216.5 L357,207.7 L357.5,216.2 L358,205.3 L358.5,214.7 L359,213.4 L359.5,208.8 L360,209.5 L360.5,213.3 L361,217.1 L361.5,214.3 L362,216 L362.5,217.4 L363,216.1 L363.5,219.5 L364,219.3 L364.5,218.8 L365,216.3 L365.5,215.4 L366,218.2 L366.5,216.4 L367,217.7 L367.5,217.9 L368,219.4 L368.5,216 L369,216.4 L369.5,215.7 L370,216.1 L370.5,216.3 L371,218 L371.5,216.5 L372,218.4 L372.5,216.1 L373,215.8 L373.5,219.1 L374,218.6 L374.5,219.4 L375,219.5 L375.5,218.2 L376,216.3 L376.5,213.8 L377,216.7 L377.5,216.5 L378,218.2 L378.5,217.9 L379,216.6 L379.5,218.3 L380,218.7 L380.5,216.8 L381,217.7 L381.5,215.4 L382,218.1 L382.5,216.9 L383,217.2 L383.5,215.3 L384,219.7 L384.5,220.5 L385,215.6 L385.5,216.7 L386,216.5 L386.5,219.5 L387,218.1 L387.5,219.4 L388,219.9 L388.5,216.3 L389,215.7 L389.5,216.2 L390,215.7 L390.5,218.9 L391,216.1 L391.5,216.5 L392,216.1 L392.5,219.9 L393,219 L393.5,216.6 L394,219 L394.5,215.3 L395,218.9 L395.5,215.4 L396,216.7 L396.5,216.1 L397,216.4 L397.5,213.7 L398,217 L398.5,218.1 L399,215.5 L399.5,217.8 L400,215.9 L400.5,216.5 L401,215.3 L401.5,220.2 L402,219.9 L402.5,215.4 L403,216.2 L403.5,216.2 L404,215.6 L404.5,216 L405,212.9 L405.5,216.4 L406,216.7 L406.5,219.1 L407,218.1 L407.5,216.5 L408,216.1 L408.5,216.6 L409,215.2 L409.5,218.2 L410,217.9 L410.5,218.3 L411,215.2 L411.5,217 L412,215.2 L412.5,219.5 L413,217.6 L413.5,219.4 L414,219.5 L414.5,221.3 L415,220 L415.5,218.5 L416,219.6 L416.5,216.1 L417,219.8 L417.5,218.2 L418,216.4 L418.5,216.7 L419,216.5 L419.5,219.5 L420,216 L420.5,215.8 L421,215.7 L421.5,219.3 L422,215.2 L422.5,219.1 L423,217.9 L423.5,218 L424,215.2 L424.5,217.2 L425,215.5 L425.5,217 L426,219 L426.5,215.5 L427,216.4 L427.5,216.5 L428,218.9 L428.5,218.9 L429,218 L429.5,216.7 L430,216.2 L430.5,217.1 L431,216.1 L431.5,218.4 L432,217.9 L432.5,215.8 L433,216.5 L433.5,216.1 L434,216.4 L434.5,215.7 L435,217.5 L435.5,220.2 L436,217.8 L436.5,218.8 L437,216 L437.5,215.2 L438,219.3 L438.5,218.7 L439,215 L439.5,217 L440,217.1 L440.5,214.9 L441,215 L441.5,216.6 L442,216.8 L442.5,212.2 L443,209.7 L443.5,217 L444,211.9 L444.5,211.6 L445,215.5 L445.5,213.4 L446,213 L446.5,211.9 L447,210 L447.5,218.4 L448,211.6 L448.5,213.9 L449,216.4 L449.5,215.9 L450,219.7 L450.5,217.3 L451,219.5 L451.5,219.4 L452,217.7 L452.5,215.7 L453,220.3 L453.5,215.7 L454,221 L454.5,215.6 L455,217.2 L455.5,218.1 L456,215.8 L456.5,217.3 L457,219.8 L457.5,217.1 L458,216.7 L458.5,217.3 L459,220.4 L459.5,218.7 L460,216.5 L460.5,218.2 L461,215.3 L461.5,215.4 L462,215.9 L462.5,220.5 L463,216.2 L463.5,220.3 L464,215.6 L464.5,216.6 L465,220.4 L465.5,216.5 L466,218 L466.5,218.7 L467,217.8 L467.5,216.9 L468,218.2 L468.5,220.8 L469,215.2 L469.5,215.6 L470,217 L470.5,216.7 L471,220.4 L471.5,215.4 L472,218.1 L472.5,218.4 L473,217 L473.5,217.3 L474,216.6 L474.5,218.1 L475,215.7 L475.5,216.4 L476,218.5 L476.5,216.5 L477,216.3 L477.5,218.1 L478,217.8 L478.5,215.6 L479,217.6 L479.5,217.1 L480,215.9 L480.5,219.5 L481,216.1 L481.5,217 L482,216.8 L482.5,215.9 L483,219.1 L483.5,216.2 L484,215.7 L484.5,215.9 L485,217.4 L485.5,214.7 L486,217.1 L486.5,218.4 L487,215.9 L487.5,214.2 L488,211.2 L488.5,212.9 L489,215.4 L489.5,210.3 L490,210 L490.5,209.4 L491,209 L491.5,210.3 L492,209.1 L492.5,213 L493,213.6 L493.5,210.8 L494,213 L494.5,215.6 L495,208.5 L495.5,210.2 L496,215.5 L496.5,206.9 L497,211.1 L497.5,207.1 L498,213.9 L498.5,218 L499,213 L499.5,214.2 L500,215.3 L500.5,216.4 L501,215.8 L501.5,219.1 L502,219.3 L502.5,216.9 L503,218.5 L503.5,217.9 L504,216.5 L504.5,220.3 L505,219 L505.5,217 L506,219 L506.5,216.9 L507,219 L507.5,215.7 L508,217.9 L508.5,215.3 L509,218.3 L509.5,217.5 L510,217.2 L510.5,217.3 L511,215.2 L511.5,217 L512,217.1 L512.5,217.3 L513,217 L513.5,216 L514,218.8 L514.5,219.4 L515,216.3 L515.5,217 L516,218.1 L516.5,216 L517,216.6 L517.5,212 L518,216.8 L518.5,218.4 L519,218.7 L519.5,215.7 L520,219.4 L520.5,218 L521,219.7 L521.5,220.8 L522,215.3 L522.5,217.1 L523,219.3 L523.5,215.5 L524,217.7 L524.5,216.1 L525,215.2 L525.5,219.9 L526,216.4 L526.5,215.2 L527,217.7 L527.5,215.9 L528,215.3 L528.5,217.8 L529,220.1 L529.5,217.1 L530,215.4 L530.5,217.2 L531,218.8 L531,254.7 L530.5,247.4 L530,250 L529.5,248.4 L529,250.6 L528.5,249.8 L528,248.3 L527.5,248.9 L527,249.2 L526.5,250.1 L526,249.9 L525.5,249.8 L525,250.3 L524.5,249.7 L524,249.5 L523.5,251.3 L523,251.9 L522.5,251.6 L522,250.7 L521.5,251.9 L521,249 L520.5,251.3 L520,249.9 L519.5,250.7 L519,248.4 L518.5,249.6 L518,248.9 L517.5,249.2 L517,247.8 L516.5,249.4 L516,249.4 L515.5,250 L515,249.6 L514.5,248.9 L514,251.8 L513.5,251.1 L513,251.4 L512.5,250.2 L512,250.2 L511.5,250.2 L511,249.5 L510.5,246.3 L510,251.4 L509.5,253 L509,246.3 L508.5,248.2 L508,254.2 L507.5,247 L507,248.5 L506.5,248.2 L506,251.6 L505.5,250.6 L505,249 L504.5,255.3 L504,250.1 L503.5,247.6 L503,247.9 L502.5,246.8 L502,251.5 L501.5,248.3 L501,247.7 L500.5,251.7 L500,250.9 L499.5,251.5 L499,252.9 L498.5,251 L498,249.3 L497.5,250.7 L497,255 L496.5,253.4 L496,257 L495.5,260 L495,252.1 L494.5,255.7 L494,252.1 L493.5,259.9 L493,251.5 L492.5,252.2 L492,257.3 L491.5,258 L491,255.4 L490.5,255 L490,259.6 L489.5,255.6 L489,258.8 L488.5,259.3 L488,255 L487.5,252 L487,253.8 L486.5,249.4 L486,250.8 L485.5,249 L485,251.8 L484.5,250.2 L484,250.7 L483.5,251.9 L483,251 L482.5,247.9 L482,250.1 L481.5,251.9 L481,248.6 L480.5,251.2 L480,249.5 L479.5,249.9 L479,249.9 L478.5,250.5 L478,250.5 L477.5,250.9 L477,249.4 L476.5,250.8 L476,250.2 L475.5,251.3 L475,248.9 L474.5,247.4 L474,248.7 L473.5,249.4 L473,247.4 L472.5,251.5 L472,249.4 L471.5,249.8 L471,248.2 L470.5,246.2 L470,250.1 L469.5,247.2 L469,249.8 L468.5,247.2 L468,250.7 L467.5,249.3 L467,250.7 L466.5,249.7 L466,249 L465.5,250.5 L465,250 L464.5,251.1 L464,247.4 L463.5,249.7 L463,250.8 L462.5,250.2 L462,250.1 L461.5,251.2 L461,251.2 L460.5,250.7 L460,251.1 L459.5,251.6 L459,247.4 L458.5,251.3 L458,251.8 L457.5,247.9 L457,248.4 L456.5,247.5 L456,251.5 L455.5,249 L455,250.5 L454.5,250.5 L454,250.1 L453.5,249.4 L453,251.6 L452.5,251.5 L452,251.7 L451.5,251 L451,251.1 L450.5,249.6 L450,249.6 L449.5,251 L449,251.9 L448.5,253.4 L448,254.1 L447.5,253.4 L447,254.1 L446.5,249.2 L446,253.2 L445.5,253.9 L445,248.8 L444.5,247.9 L444,251.8 L443.5,249.9 L443,251.6 L442.5,255 L442,253.2 L441.5,249.7 L441,252.1 L440.5,250.3 L440,251.8 L439.5,252.1 L439,251.8 L438.5,250.8 L438,247.7 L437.5,246.9 L437,254 L436.5,250.5 L436,250.1 L435.5,247.5 L435,250.3 L434.5,251.4 L434,250.9 L433.5,249.1 L433,251.4 L432.5,250.1 L432,251.4 L431.5,249.9 L431,249 L430.5,250.7 L430,249.2 L429.5,251.2 L429,251.8 L428.5,251.7 L428,251.6 L427.5,248 L427,251 L426.5,250.1 L426,248.5 L425.5,249.3 L425,249.2 L424.5,248.7 L424,249.3 L423.5,251.6 L423,251.4 L422.5,247.8 L422,251.1 L421.5,251.1 L421,249.3 L420.5,248.7 L420,248.6 L419.5,250 L419,251.8 L418.5,250.4 L418,247.9 L417.5,250 L417,249.6 L416.5,247.2 L416,251 L415.5,247.7 L415,251.5 L414.5,248.8 L414,246.7 L413.5,249.5 L413,249.4 L412.5,251.5 L412,249.2 L411.5,250.9 L411,251.3 L410.5,252 L410,250.7 L409.5,248.2 L409,248.6 L408.5,249.2 L408,250.6 L407.5,248.9 L407,251.9 L406.5,252 L406,249.8 L405.5,251.5 L405,247.7 L404.5,250.1 L404,250.2 L403.5,250.8 L403,251.7 L402.5,248.8 L402,251.8 L401.5,247.1 L401,250 L400.5,251.8 L400,251.9 L399.5,251.3 L399,248.5 L398.5,250.6 L398,249.6 L397.5,249.9 L397,251.5 L396.5,248.4 L396,251.7 L395.5,246.4 L395,248.9 L394.5,250 L394,249.6 L393.5,250.8 L393,250.1 L392.5,249.7 L392,246.5 L391.5,249.9 L391,249.6 L390.5,252 L390,251.7 L389.5,250.8 L389,249.9 L388.5,251.4 L388,250.1 L387.5,250.6 L387,249.6 L386.5,248.3 L386,249.9 L385.5,250.3 L385,247 L384.5,249.3 L384,251.8 L383.5,249.1 L383,247.5 L382.5,251.1 L382,250.4 L381.5,250.1 L381,250 L380.5,250.7 L380,251 L379.5,249.3 L379,247.2 L378.5,249.6 L378,248 L377.5,248 L377,252.5 L376.5,251.8 L376,250.9 L375.5,248.3 L375,249.1 L374.5,250.2 L374,251.8 L373.5,250.9 L373,248.3 L372.5,253.1 L372,249.6 L371.5,247.3 L371,251.8 L370.5,249.6 L370,250.3 L369.5,250 L369,246.7 L368.5,248.2 L368,249.1 L367.5,250.9 L367,251.4 L366.5,250.9 L366,248.9 L365.5,251.5 L365,251.1 L364.5,251.2 L364,251.7 L363.5,250.3 L363,252 L362.5,252.3 L362,249.2 L361.5,250.6 L361,248.2 L360.5,250.5 L360,261.9 L359.5,254.3 L359,252 L358.5,252.5 L358,252.6 L357.5,249.3 L357,250.7 L356.5,250.1 L356,262 L355.5,254.1 L355,259.4 L354.5,250.7 L354,259.4 L353.5,256.2 L353,250.8 L352.5,258.4 L352,248.6 L351.5,253.1 L351,261.5 L350.5,248.3 L350,251.4 L349.5,248.4 L349,248.7 L348.5,249.7 L348,250.3 L347.5,249.6 L347,250.1 L346.5,250 L346,250.7 L345.5,249.1 L345,250 L344.5,249.4 L344,249.6 L343.5,248.8 L343,251.4 L342.5,249.8 L342,250.5 L341.5,251.1 L341,251.3 L340.5,248.3 L340,250.1 L339.5,251.9 L339,249.4 L338.5,250.2 L338,251.5 L337.5,249.1 L337,247.9 L336.5,249.2 L336,251.9 L335.5,250.3 L335,249.2 L334.5,250.7 L334,255.5 L333.5,250.6 L333,250.2 L332.5,250.5 L332,250 L331.5,251.3 L331,247 L330.5,246.7 L330,251.7 L329.5,250.6 L329,250.8 L328.5,251.1 L328,248 L327.5,251.6 L327,251 L326.5,250.9 L326,248.6 L325.5,249.6 L325,251.3 L324.5,249.4 L324,248 L323.5,250.9 L323,251.4 L322.5,250.6 L322,249.6 L321.5,249.9 L321,254.2 L320.5,247.5 L320,252 L319.5,247.3 L319,249.6 L318.5,248.8 L318,254 L317.5,253.3 L317,249.9 L316.5,247.2 L316,253.9 L315.5,254.5 L315,253.4 L314.5,247.2 L314,253.1 L313.5,250.5 L313,248.5 L312.5,250.5 L312,251.4 L311.5,251.3Z" fill="url(#gd)"/><path d="M311.6 218.3V245.5M312.4 215.6V250.6M313.4 219.1V246.6M314.1 221.6V252.3M315 220.2V248.9M315.8 217.2V247.6M316.3 217.2V247M317.2 221.1V244.3M317.8 214.8V249.3M318.7 218.8V244.1M319.6 215.8V246.9M320.1 212.9V247.2M320.7 214.1V243.1M351.2 208.3V252M352.2 209.2V253.5M352.8 216.8V246.7M353.7 211V251.4M354.4 211.3V248.8M355.3 214.2V252.3M356.2 209.1V256.6M357.2 218.3V252.7M357.8 217.2V254M358.6 208.9V247.8M359.3 209.4V258.2M359.9 207.3V251.6M442.2 213.7V253.7M443.2 218.8V253.3M443.8 218.7V253M444.6 220.6V245.7M445.4 218.7V253.7M445.8 215.3V243.4M446.4 220.7V246.3M447 220.4V248.1M448 219.2V245M487.7 212.8V247.4M488.6 216.2V246.9M489.4 215.8V257.2M490.2 215.5V246M490.8 218.1V251.4M491.7 221V252.5M492.3 217.9V251.2M492.9 217.4V245.7M493.7 215V247.3M494.5 220.6V253.2M495.5 209.5V248.1M495.9 220.6V253.7M496.8 213.6V248.5" stroke="#78aed9" stroke-width="0.75" fill="none"/><line x1="354.7" y1="187.5" x2="354.7" y2="278" stroke="#78aed9" stroke-width="1.3"/><line x1="364" y1="210.4" x2="364" y2="252.3" stroke="#78aed9" stroke-width="1.3"/><line x1="380.3" y1="213.6" x2="380.3" y2="251.3" stroke="#78aed9" stroke-width="1.3"/><line x1="398.8" y1="211.5" x2="398.8" y2="255.1" stroke="#78aed9" stroke-width="1.3"/><line x1="407.5" y1="209.3" x2="407.5" y2="256.2" stroke="#78aed9" stroke-width="1.3"/><line x1="464.7" y1="209.3" x2="464.7" y2="256.2" stroke="#78aed9" stroke-width="1.3"/><line x1="530.8" y1="203.8" x2="530.8" y2="261.6" stroke="#78aed9" stroke-width="1.3"/><path d="M311.5,216.5 L312,220.1 L312.5,219.9 L313,220 L313.5,218 L314,219.2 L314.5,217.2 L315,219.9 L315.5,217.7 L316,219 L316.5,219 L317,219 L317.5,219.3 L318,216.7 L318.5,219.4 L319,220.7 L319.5,216.7 L320,219.4 L320.5,220.2 L321,221.5 L321.5,220.5 L322,218.9 L322.5,221.6 L323,218.6 L323.5,220.4 L324,219.3 L324.5,222.2 L325,221.4 L325.5,220.8 L326,220.4 L326.5,219.4 L327,222.2 L327.5,218.8 L328,221.5 L328.5,221.2 L329,220.7 L329.5,220 L330,220.1 L330.5,220.3 L331,221.9 L331.5,222 L332,222.3 L332.5,220.8 L333,221.1 L333.5,219.3 L334,221.7 L334.5,221.2 L335,222.1 L335.5,219.4 L336,220.6 L336.5,220.1 L337,221.5 L337.5,220.6 L338,219.8 L338.5,220.1 L339,221.3 L339.5,220.2 L340,219.8 L340.5,220.8 L341,220.9 L341.5,221.4 L342,221.1 L342.5,221.2 L343,221.4 L343.5,220.3 L344,221.2 L344.5,222.1 L345,222.1 L345.5,220.3 L346,220.7 L346.5,221.1 L347,221.4 L347.5,219.9 L348,220.3 L348.5,219.3 L349,219 L349.5,220.4 L350,219.7 L350.5,219.6 L351,217.6 L351.5,219.3 L352,219.1 L352.5,218.4 L353,216.8 L353.5,218.6 L354,217.9 L354.5,219.8 L355,217 L355.5,216.5 L356,216 L356.5,218.1 L357,220.2 L357.5,217.3 L358,220 L358.5,216.3 L359,220.9 L359.5,216.9 L360,220.3 L360.5,220.2 L361,218.6 L361.5,220 L362,221.8 L362.5,219.3 L363,221.5 L363.5,221.2 L364,219.3 L364.5,219.2 L365,219.2 L365.5,219.8 L366,222.7 L366.5,220 L367,221.4 L367.5,221.4 L368,219.9 L368.5,220.9 L369,219.7 L369.5,222.9 L370,219.1 L370.5,220.6 L371,219.7 L371.5,222.3 L372,222.7 L372.5,221 L373,220.6 L373.5,219.7 L374,222.6 L374.5,220.9 L375,220.6 L375.5,221.2 L376,221.5 L376.5,220.5 L377,219.6 L377.5,221.2 L378,221.8 L378.5,222.5 L379,220.7 L379.5,220.2 L380,219.6 L380.5,220.8 L381,219.3 L381.5,222.8 L382,220.6 L382.5,222.7 L383,221.5 L383.5,221.2 L384,222.3 L384.5,222.2 L385,220.3 L385.5,219.6 L386,218.9 L386.5,222.6 L387,221.9 L387.5,221 L388,222 L388.5,222.5 L389,221.3 L389.5,220.8 L390,221 L390.5,219 L391,220.3 L391.5,219.4 L392,221.7 L392.5,222.4 L393,220.4 L393.5,219.9 L394,219 L394.5,219.4 L395,220.2 L395.5,220.5 L396,218.8 L396.5,220 L397,222.6 L397.5,220.5 L398,221.1 L398.5,221.4 L399,220.8 L399.5,222.1 L400,222.4 L400.5,221.3 L401,221.7 L401.5,220.2 L402,222.4 L402.5,220.4 L403,218.8 L403.5,220.2 L404,222.5 L404.5,220.8 L405,222.6 L405.5,220.1 L406,219.5 L406.5,220 L407,222.7 L407.5,219.9 L408,222.7 L408.5,222.3 L409,220.7 L409.5,222.4 L410,220.4 L410.5,221 L411,221.2 L411.5,222.5 L412,222.7 L412.5,221.1 L413,221.6 L413.5,222.4 L414,220.6 L414.5,221.5 L415,220 L415.5,220.8 L416,222.3 L416.5,219.6 L417,221 L417.5,219.5 L418,219.6 L418.5,222.9 L419,220.1 L419.5,220.6 L420,219.1 L420.5,220.1 L421,222 L421.5,221.1 L422,220.6 L422.5,221.2 L423,220.3 L423.5,219.2 L424,221.9 L424.5,222.1 L425,221.2 L425.5,219.3 L426,221 L426.5,219.6 L427,221.9 L427.5,222.3 L428,220.8 L428.5,221.6 L429,220.9 L429.5,220.1 L430,219.1 L430.5,220.2 L431,220.3 L431.5,219.6 L432,219.7 L432.5,221 L433,220.5 L433.5,221.2 L434,221.1 L434.5,220.8 L435,222.8 L435.5,220.2 L436,220.9 L436.5,221.9 L437,222.8 L437.5,219.1 L438,219.3 L438.5,220.2 L439,220 L439.5,218.5 L440,219.3 L440.5,222.3 L441,219.3 L441.5,220 L442,217.5 L442.5,219.5 L443,218.2 L443.5,217 L444,216.5 L444.5,217.3 L445,216.5 L445.5,216.4 L446,218.1 L446.5,217.4 L447,219.6 L447.5,220.5 L448,219.1 L448.5,221.5 L449,218.3 L449.5,219.7 L450,219.7 L450.5,219.3 L451,221.6 L451.5,221.1 L452,219.5 L452.5,222 L453,222.2 L453.5,219.9 L454,221 L454.5,222.9 L455,221.4 L455.5,221.8 L456,219.2 L456.5,222.4 L457,220.1 L457.5,219.8 L458,221 L458.5,221.3 L459,221.4 L459.5,219.7 L460,222.2 L460.5,219.7 L461,222.7 L461.5,219.4 L462,221.6 L462.5,220.5 L463,221.9 L463.5,222.3 L464,219.2 L464.5,220.4 L465,221.6 L465.5,221.8 L466,222.7 L466.5,222.1 L467,221.8 L467.5,219.9 L468,222.3 L468.5,220.8 L469,220 L469.5,220.2 L470,220.2 L470.5,219.4 L471,222.7 L471.5,221.6 L472,219.1 L472.5,222.1 L473,220.5 L473.5,221.9 L474,222.1 L474.5,220.7 L475,220.2 L475.5,222.3 L476,220 L476.5,221.6 L477,220 L477.5,221.2 L478,221.7 L478.5,219 L479,219.2 L479.5,221.8 L480,220.5 L480.5,219.5 L481,219 L481.5,222.9 L482,219.3 L482.5,221.9 L483,219.8 L483.5,219.5 L484,222.2 L484.5,218.9 L485,219.5 L485.5,221.1 L486,221.2 L486.5,219.9 L487,218.3 L487.5,218.9 L488,215.8 L488.5,217.3 L489,215.7 L489.5,215.5 L490,218 L490.5,215.5 L491,213.1 L491.5,214.2 L492,216.7 L492.5,214.3 L493,218 L493.5,215 L494,217.7 L494.5,216.8 L495,218.3 L495.5,217.2 L496,216.5 L496.5,215.7 L497,217.8 L497.5,216.8 L498,219.2 L498.5,220.3 L499,221.5 L499.5,222.2 L500,220.5 L500.5,221.1 L501,221.9 L501.5,222.3 L502,221.2 L502.5,221.6 L503,219.8 L503.5,218.8 L504,219.5 L504.5,222.2 L505,222.3 L505.5,221.9 L506,221.4 L506.5,219.1 L507,222.1 L507.5,221.6 L508,220.2 L508.5,220.1 L509,220.9 L509.5,221.9 L510,222.5 L510.5,219.3 L511,220 L511.5,221.2 L512,222.4 L512.5,219.9 L513,221.9 L513.5,221.4 L514,221.2 L514.5,221.8 L515,220.1 L515.5,219.1 L516,219.3 L516.5,220.2 L517,222.8 L517.5,218.9 L518,221.7 L518.5,221.7 L519,218.8 L519.5,220.1 L520,221.9 L520.5,218.8 L521,221.3 L521.5,220.8 L522,219.9 L522.5,220.3 L523,220.3 L523.5,218.8 L524,219.2 L524.5,221.5 L525,221.6 L525.5,219.9 L526,218.9 L526.5,219.7 L527,221.7 L527.5,222.2 L528,220.5 L528.5,220.5 L529,221.1 L529.5,221.3 L530,221 L530.5,219.5 L531,218.8 L531,247.7 L530.5,245.6 L530,246.3 L529.5,244.9 L529,247.5 L528.5,243.7 L528,245.6 L527.5,245.4 L527,243.9 L526.5,245.8 L526,246.6 L525.5,244 L525,247.8 L524.5,246.7 L524,247.4 L523.5,243.9 L523,246.2 L522.5,245.5 L522,245.2 L521.5,246 L521,246.6 L520.5,246 L520,247.1 L519.5,246 L519,244.1 L518.5,247.6 L518,245.1 L517.5,244.7 L517,245.4 L516.5,244.7 L516,247.1 L515.5,247 L515,245.4 L514.5,247.7 L514,247.7 L513.5,245.6 L513,246.3 L512.5,244.4 L512,244.2 L511.5,244.1 L511,244.5 L510.5,246.3 L510,244.4 L509.5,247.2 L509,246.3 L508.5,247.4 L508,243.9 L507.5,247 L507,244.9 L506.5,246.8 L506,245.1 L505.5,244.6 L505,247.5 L504.5,246.5 L504,244 L503.5,244.7 L503,247.4 L502.5,244.5 L502,246.6 L501.5,244.8 L501,246.3 L500.5,247 L500,247.1 L499.5,246.2 L499,245.3 L498.5,248.1 L498,248.5 L497.5,247.6 L497,248.6 L496.5,249.1 L496,248.8 L495.5,248.4 L495,251.5 L494.5,252.5 L494,252.1 L493.5,252.7 L493,249.6 L492.5,248.8 L492,252.4 L491.5,248.6 L491,252.1 L490.5,251.8 L490,251.9 L489.5,249.7 L489,248.2 L488.5,247 L488,247.6 L487.5,246.7 L487,248 L486.5,247.1 L486,247 L485.5,245.4 L485,244.4 L484.5,246.3 L484,244.1 L483.5,246 L483,246.4 L482.5,245.5 L482,247.7 L481.5,246.8 L481,245.6 L480.5,244.8 L480,244.7 L479.5,244.2 L479,244.2 L478.5,244.6 L478,244.2 L477.5,247.2 L477,244.6 L476.5,246.7 L476,247.1 L475.5,246.4 L475,245.9 L474.5,244.6 L474,247.4 L473.5,247 L473,245.4 L472.5,247.1 L472,245 L471.5,246.2 L471,246.9 L470.5,246.2 L470,247.7 L469.5,244 L469,245.4 L468.5,246.5 L468,245.1 L467.5,246 L467,245.6 L466.5,244.6 L466,247.7 L465.5,244.3 L465,247 L464.5,246.4 L464,245.2 L463.5,247.2 L463,246.6 L462.5,245.9 L462,245 L461.5,244.1 L461,247.6 L460.5,244 L460,245.8 L459.5,246.6 L459,247.4 L458.5,246.8 L458,244.3 L457.5,245.4 L457,247.4 L456.5,245.9 L456,244.6 L455.5,245.4 L455,245 L454.5,245.6 L454,247.6 L453.5,244 L453,245.2 L452.5,245.6 L452,244.7 L451.5,247 L451,248 L450.5,244.2 L450,244.4 L449.5,246.9 L449,245.6 L448.5,245.4 L448,245.8 L447.5,245.6 L447,245.9 L446.5,247.9 L446,249.5 L445.5,246 L445,248.8 L444.5,246 L444,247.6 L443.5,248.8 L443,249.2 L442.5,245.3 L442,249.2 L441.5,245.9 L441,247 L440.5,246.1 L440,246.1 L439.5,246.1 L439,246.3 L438.5,244.6 L438,246.8 L437.5,244.2 L437,246.7 L436.5,246.6 L436,244.1 L435.5,247 L435,247.3 L434.5,245.5 L434,246.1 L433.5,245.4 L433,247.3 L432.5,245.5 L432,244.3 L431.5,246.5 L431,246.3 L430.5,246.4 L430,246.9 L429.5,247.2 L429,245.1 L428.5,244.2 L428,244.6 L427.5,247.1 L427,245.7 L426.5,244.1 L426,247.5 L425.5,246.3 L425,244.1 L424.5,245.2 L424,244.3 L423.5,244.9 L423,246 L422.5,245.6 L422,245.8 L421.5,247.8 L421,247.8 L420.5,243.8 L420,244.6 L419.5,247.7 L419,244.6 L418.5,246.2 L418,245.2 L417.5,245.1 L417,244.9 L416.5,244.1 L416,243.9 L415.5,244.4 L415,244.4 L414.5,246.3 L414,245.7 L413.5,246 L413,246.2 L412.5,244.9 L412,246.8 L411.5,247.4 L411,244.5 L410.5,245.1 L410,244 L409.5,244.9 L409,247.1 L408.5,244.1 L408,244.4 L407.5,247.3 L407,247.6 L406.5,247.4 L406,247.8 L405.5,246 L405,243.8 L404.5,247.2 L404,244.1 L403.5,245.5 L403,247 L402.5,244.8 L402,245.3 L401.5,244.1 L401,243.8 L400.5,244.8 L400,246.3 L399.5,245.9 L399,245.5 L398.5,245.2 L398,245.8 L397.5,244.3 L397,245 L396.5,246.7 L396,246.3 L395.5,244.2 L395,245.9 L394.5,244.4 L394,246.3 L393.5,246.3 L393,246.8 L392.5,245.7 L392,246.5 L391.5,247.7 L391,244.2 L390.5,246.7 L390,246.9 L389.5,244.6 L389,247.6 L388.5,245.1 L388,246.7 L387.5,247.6 L387,244.4 L386.5,246 L386,245.8 L385.5,246.2 L385,245.9 L384.5,245.1 L384,247.7 L383.5,244.3 L383,246.1 L382.5,244.8 L382,246.6 L381.5,245 L381,244.1 L380.5,245.5 L380,246.9 L379.5,246 L379,247.2 L378.5,245.4 L378,245.5 L377.5,244.1 L377,245.5 L376.5,247.7 L376,246.6 L375.5,246.1 L375,244.8 L374.5,247 L374,247.5 L373.5,244.3 L373,243.7 L372.5,244.5 L372,247.1 L371.5,247.3 L371,244.4 L370.5,245.4 L370,246 L369.5,245.6 L369,245.7 L368.5,245.6 L368,246.4 L367.5,245.5 L367,244.8 L366.5,247.8 L366,247 L365.5,247 L365,244.5 L364.5,246.8 L364,244.8 L363.5,245.8 L363,244.4 L362.5,245.9 L362,246.1 L361.5,245.5 L361,247.9 L360.5,246.3 L360,245.4 L359.5,245.6 L359,249.2 L358.5,247.3 L358,246.3 L357.5,248.9 L357,246.6 L356.5,250.1 L356,250.9 L355.5,246.5 L355,250.1 L354.5,246.6 L354,246.3 L353.5,250 L353,248.9 L352.5,249.1 L352,248.2 L351.5,246.6 L351,246.3 L350.5,248.3 L350,244.8 L349.5,244.7 L349,246.1 L348.5,245.8 L348,247 L347.5,245 L347,244.8 L346.5,244.4 L346,245.1 L345.5,245.2 L345,247.5 L344.5,246.7 L344,244.4 L343.5,247.6 L343,246.5 L342.5,246.9 L342,246.8 L341.5,245.8 L341,246.6 L340.5,246 L340,247.4 L339.5,245.5 L339,246.6 L338.5,245.4 L338,244.7 L337.5,244.3 L337,247.3 L336.5,246.7 L336,244.4 L335.5,247.1 L335,245.4 L334.5,247.1 L334,244.7 L333.5,244.6 L333,247.4 L332.5,244.6 L332,247.9 L331.5,245.8 L331,245.1 L330.5,244.1 L330,246.9 L329.5,246.2 L329,247.6 L328.5,246.4 L328,244.4 L327.5,246.6 L327,247.1 L326.5,243.9 L326,243.9 L325.5,247.3 L325,245.1 L324.5,245.8 L324,245.7 L323.5,246.7 L323,247.9 L322.5,245.2 L322,245.2 L321.5,247.6 L321,248.1 L320.5,246 L320,247.8 L319.5,247.3 L319,248.3 L318.5,247.6 L318,244.8 L317.5,246.1 L317,246.1 L316.5,245.1 L316,246.4 L315.5,247.6 L315,247.2 L314.5,245 L314,246.6 L313.5,248.8 L313,248.5 L312.5,245.5 L312,246.8 L311.5,249.2Z" fill="url(#gd)"/><path d="M311.5,224.2 L312,223.6 L312.5,222.8 L313,224 L313.5,223.5 L314,224.7 L314.5,222.9 L315,224.5 L315.5,224.8 L316,222.8 L316.5,223 L317,223.3 L317.5,222.6 L318,224.6 L318.5,224.1 L319,224.5 L319.5,225.1 L320,223.1 L320.5,223.2 L321,223.6 L321.5,224.1 L322,224 L322.5,223.9 L323,224.7 L323.5,224.4 L324,224.3 L324.5,225.2 L325,225.4 L325.5,224.5 L326,225.5 L326.5,225.8 L327,225.1 L327.5,225.6 L328,225.3 L328.5,224.6 L329,225.5 L329.5,226.2 L330,225 L330.5,224.7 L331,224.3 L331.5,224.7 L332,224.3 L332.5,224.3 L333,224.6 L333.5,225.7 L334,225.9 L334.5,224.9 L335,225.5 L335.5,224.9 L336,226 L336.5,226.1 L337,224.7 L337.5,225.1 L338,224.7 L338.5,224.2 L339,225.2 L339.5,225.5 L340,225.6 L340.5,224.9 L341,225.3 L341.5,225 L342,226.2 L342.5,225.6 L343,225.1 L343.5,226 L344,225.6 L344.5,224.6 L345,225.9 L345.5,225.9 L346,225.8 L346.5,224.5 L347,224.3 L347.5,224.7 L348,225.7 L348.5,225.2 L349,224.2 L349.5,225.4 L350,225.7 L350.5,223.6 L351,225 L351.5,224.6 L352,223.1 L352.5,222.9 L353,224.4 L353.5,222.7 L354,223.1 L354.5,223.2 L355,224.4 L355.5,223.2 L356,223.5 L356.5,222.6 L357,222.3 L357.5,222.2 L358,222.9 L358.5,222.4 L359,224.8 L359.5,223.7 L360,224.4 L360.5,223.6 L361,223.5 L361.5,225.1 L362,225.3 L362.5,225.7 L363,226 L363.5,224.7 L364,224.4 L364.5,225.6 L365,224.5 L365.5,225.1 L366,224.5 L366.5,225.5 L367,224.2 L367.5,225.8 L368,226.1 L368.5,224.6 L369,225.2 L369.5,225.7 L370,225.6 L370.5,224.2 L371,225.1 L371.5,226.1 L372,224.9 L372.5,225.6 L373,224.4 L373.5,226 L374,225.3 L374.5,225.3 L375,224.7 L375.5,225 L376,224.8 L376.5,224.9 L377,224.7 L377.5,224.3 L378,225.8 L378.5,226 L379,226 L379.5,225.7 L380,224.7 L380.5,224.5 L381,224.8 L381.5,224.7 L382,225.2 L382.5,225.5 L383,225.9 L383.5,226.1 L384,224.5 L384.5,224.8 L385,226 L385.5,225.6 L386,224.8 L386.5,225.5 L387,225.5 L387.5,225.2 L388,224.2 L388.5,225.1 L389,225.6 L389.5,225.5 L390,225.8 L390.5,225.8 L391,225.8 L391.5,225.8 L392,225.9 L392.5,225.8 L393,225.8 L393.5,225 L394,225.8 L394.5,224.4 L395,224.8 L395.5,225.2 L396,224.9 L396.5,224.4 L397,226 L397.5,225.7 L398,224.8 L398.5,226 L399,225.3 L399.5,225 L400,225.3 L400.5,226 L401,226.1 L401.5,225.8 L402,225.9 L402.5,226.1 L403,224.6 L403.5,225 L404,225 L404.5,225.2 L405,224.5 L405.5,225.7 L406,224.8 L406.5,224.3 L407,225.6 L407.5,225.5 L408,226.2 L408.5,224.3 L409,225.7 L409.5,225.2 L410,225.8 L410.5,225.5 L411,225.3 L411.5,226.2 L412,225.8 L412.5,224.6 L413,225.1 L413.5,225.3 L414,225.4 L414.5,224.5 L415,224.7 L415.5,224.4 L416,226 L416.5,225.1 L417,224.2 L417.5,226.2 L418,224.3 L418.5,224.6 L419,225 L419.5,225.7 L420,225.9 L420.5,225.9 L421,225.7 L421.5,226.2 L422,226.2 L422.5,224.8 L423,224.8 L423.5,225.2 L424,226.2 L424.5,224.5 L425,225 L425.5,225.6 L426,225.1 L426.5,225.9 L427,224.2 L427.5,225.6 L428,225.2 L428.5,224.8 L429,224.7 L429.5,224.4 L430,224.4 L430.5,224.7 L431,224.3 L431.5,225.1 L432,225.3 L432.5,225.2 L433,225.4 L433.5,224.7 L434,225 L434.5,225.2 L435,226.2 L435.5,226 L436,226 L436.5,224.2 L437,225.9 L437.5,224.6 L438,225.9 L438.5,224.5 L439,225.8 L439.5,226 L440,224.2 L440.5,223.8 L441,223.7 L441.5,224.2 L442,224.8 L442.5,223.6 L443,223.4 L443.5,224.6 L444,222.8 L444.5,224.4 L445,223.5 L445.5,223 L446,222.2 L446.5,223.4 L447,223.5 L447.5,223.8 L448,223.9 L448.5,225.1 L449,224 L449.5,225.4 L450,224.7 L450.5,224.2 L451,225.1 L451.5,224.7 L452,224.3 L452.5,224.4 L453,225.3 L453.5,224.6 L454,225.4 L454.5,225.3 L455,225.5 L455.5,225.5 L456,226.2 L456.5,225.9 L457,225.6 L457.5,224.2 L458,225.2 L458.5,224.6 L459,224.8 L459.5,224.3 L460,225 L460.5,225.2 L461,224.6 L461.5,225.3 L462,224.8 L462.5,225.5 L463,225.7 L463.5,225.9 L464,226.2 L464.5,225.9 L465,225 L465.5,224.6 L466,224.2 L466.5,225.4 L467,224.4 L467.5,224.8 L468,224.6 L468.5,225.4 L469,224.8 L469.5,225.5 L470,224.4 L470.5,225.6 L471,224.2 L471.5,225.1 L472,225.6 L472.5,224.4 L473,225.6 L473.5,224.2 L474,225.9 L474.5,225.5 L475,226.1 L475.5,224.6 L476,226.1 L476.5,226.1 L477,225.1 L477.5,224.5 L478,225.5 L478.5,225.3 L479,224.4 L479.5,225 L480,224.7 L480.5,225.6 L481,225.6 L481.5,224.4 L482,225.4 L482.5,225.6 L483,224.4 L483.5,225 L484,225.6 L484.5,225 L485,224.9 L485.5,223.8 L486,224.7 L486.5,225.3 L487,223.7 L487.5,224.2 L488,224.1 L488.5,223.5 L489,222.4 L489.5,222.2 L490,221.3 L490.5,223.1 L491,221.2 L491.5,220.5 L492,221.6 L492.5,221.8 L493,222.8 L493.5,222.7 L494,223.3 L494.5,221.4 L495,221.5 L495.5,221.2 L496,222.3 L496.5,222.7 L497,223.7 L497.5,223.5 L498,222.7 L498.5,225.2 L499,224 L499.5,224.1 L500,225.8 L500.5,224.6 L501,225.1 L501.5,225 L502,225.9 L502.5,224.8 L503,225 L503.5,225.7 L504,225.5 L504.5,224.3 L505,224.9 L505.5,225.7 L506,225.5 L506.5,225.9 L507,224.6 L507.5,226.1 L508,224.9 L508.5,224.4 L509,224.5 L509.5,224.3 L510,225.4 L510.5,224.9 L511,225.3 L511.5,225.3 L512,225.1 L512.5,225.9 L513,226 L513.5,225.5 L514,226.2 L514.5,226.1 L515,225.1 L515.5,224.8 L516,225.9 L516.5,225.1 L517,225.8 L517.5,225.5 L518,225.5 L518.5,226 L519,225.5 L519.5,224.5 L520,224.3 L520.5,225.6 L521,225.3 L521.5,226.1 L522,224.3 L522.5,225.6 L523,226.1 L523.5,224.2 L524,226.1 L524.5,224.4 L525,225.5 L525.5,224.6 L526,225.2 L526.5,225.4 L527,224.9 L527.5,224.8 L528,224.3 L528.5,226 L529,224.8 L529.5,225.7 L530,225.3 L530.5,225.9 L531,225.1 L531,242 L530.5,240.9 L530,241.5 L529.5,242.3 L529,240.4 L528.5,241.1 L528,241.3 L527.5,242.2 L527,240.5 L526.5,242.3 L526,241.3 L525.5,241.1 L525,241 L524.5,242.4 L524,240.7 L523.5,240.9 L523,240.4 L522.5,240.4 L522,241.6 L521.5,241.2 L521,241.6 L520.5,241.8 L520,240.5 L519.5,241.9 L519,240.6 L518.5,240.6 L518,241.1 L517.5,240.5 L517,240.8 L516.5,241.9 L516,242 L515.5,240.6 L515,240.5 L514.5,241.4 L514,240.9 L513.5,240.9 L513,240.5 L512.5,240.5 L512,241 L511.5,240.6 L511,241.6 L510.5,241.5 L510,240.9 L509.5,242.4 L509,242.4 L508.5,241.5 L508,240.5 L507.5,241.6 L507,240.8 L506.5,241.5 L506,241.5 L505.5,241.2 L505,240.4 L504.5,240.8 L504,242.4 L503.5,242.3 L503,240.8 L502.5,240.9 L502,240.6 L501.5,242 L501,240.5 L500.5,241.7 L500,241.2 L499.5,242 L499,242.6 L498.5,241.3 L498,242.8 L497.5,243.6 L497,242.7 L496.5,244 L496,243.1 L495.5,245.2 L495,244.5 L494.5,243.8 L494,245 L493.5,244.1 L493,245.7 L492.5,245 L492,244.3 L491.5,243.5 L491,244.6 L490.5,245.1 L490,243.2 L489.5,244.6 L489,244 L488.5,244.3 L488,243.9 L487.5,241.8 L487,243.1 L486.5,242.6 L486,240.8 L485.5,242.2 L485,241.7 L484.5,241 L484,241.5 L483.5,241.9 L483,242.2 L482.5,240.4 L482,241.7 L481.5,241.3 L481,241.4 L480.5,242 L480,240.7 L479.5,240.7 L479,241.8 L478.5,241.1 L478,240.4 L477.5,241.6 L477,240.5 L476.5,241.3 L476,241.9 L475.5,241.9 L475,242.1 L474.5,241.9 L474,241.8 L473.5,240.5 L473,242.3 L472.5,241.3 L472,241.3 L471.5,242 L471,241.1 L470.5,241.7 L470,240.9 L469.5,240.7 L469,240.5 L468.5,240.6 L468,241.6 L467.5,242 L467,241.6 L466.5,241 L466,240.5 L465.5,240.7 L465,240.8 L464.5,240.7 L464,242.3 L463.5,241.1 L463,241.4 L462.5,241.7 L462,240.7 L461.5,241 L461,240.8 L460.5,241.3 L460,241.8 L459.5,241.1 L459,241.6 L458.5,241.7 L458,242 L457.5,242.2 L457,241.3 L456.5,241.4 L456,241.5 L455.5,241.3 L455,240.4 L454.5,241.8 L454,241.3 L453.5,242.2 L453,240.9 L452.5,241.5 L452,241 L451.5,241.7 L451,240.5 L450.5,240.7 L450,241.3 L449.5,241.2 L449,242.3 L448.5,241 L448,243 L447.5,242.2 L447,243.6 L446.5,242.5 L446,242.8 L445.5,242.6 L445,243.8 L444.5,241.7 L444,241.7 L443.5,241.6 L443,243.1 L442.5,243.3 L442,241.4 L441.5,241.7 L441,242.1 L440.5,242.3 L440,241 L439.5,240.7 L439,240.7 L438.5,241.7 L438,241.8 L437.5,241.6 L437,240.8 L436.5,241.3 L436,241.5 L435.5,240.8 L435,241.7 L434.5,241.8 L434,240.6 L433.5,242 L433,240.4 L432.5,241.9 L432,240.6 L431.5,242.3 L431,241.4 L430.5,242 L430,242.3 L429.5,240.4 L429,241.9 L428.5,240.5 L428,241.9 L427.5,241 L427,240.9 L426.5,241.7 L426,241 L425.5,241.4 L425,241.3 L424.5,240.4 L424,242.4 L423.5,241.3 L423,241.2 L422.5,240.9 L422,240.9 L421.5,241.9 L421,242.2 L420.5,240.7 L420,241.6 L419.5,240.7 L419,242.2 L418.5,241.4 L418,242.3 L417.5,241.5 L417,240.9 L416.5,240.4 L416,242.1 L415.5,241.4 L415,242.2 L414.5,242.4 L414,241.4 L413.5,241.2 L413,241.9 L412.5,242.1 L412,241.5 L411.5,242 L411,240.8 L410.5,240.5 L410,241 L409.5,241.1 L409,240.9 L408.5,240.5 L408,242.2 L407.5,241.6 L407,241.8 L406.5,240.5 L406,241.3 L405.5,242 L405,240.5 L404.5,241.7 L404,242.3 L403.5,241.6 L403,240.6 L402.5,242 L402,241.2 L401.5,240.5 L401,240.5 L400.5,241.5 L400,241.5 L399.5,242.4 L399,242.3 L398.5,240.6 L398,242.3 L397.5,240.7 L397,241.8 L396.5,240.4 L396,242.4 L395.5,240.6 L395,242 L394.5,242 L394,240.5 L393.5,241 L393,240.4 L392.5,241 L392,241.8 L391.5,240.7 L391,242.2 L390.5,240.8 L390,240.5 L389.5,241.4 L389,241.3 L388.5,242.1 L388,241.6 L387.5,240.5 L387,242.1 L386.5,241.8 L386,240.8 L385.5,242 L385,242.1 L384.5,241.5 L384,240.9 L383.5,240.9 L383,241.1 L382.5,240.9 L382,240.9 L381.5,241.2 L381,242.3 L380.5,241.8 L380,240.5 L379.5,242 L379,242 L378.5,241 L378,241.7 L377.5,241.1 L377,242.1 L376.5,240.5 L376,240.4 L375.5,242.2 L375,241.9 L374.5,242.3 L374,241.9 L373.5,241.8 L373,241.9 L372.5,242.1 L372,240.6 L371.5,241.7 L371,242.3 L370.5,241.1 L370,240.8 L369.5,241.1 L369,241 L368.5,240.9 L368,240.7 L367.5,240.8 L367,240.4 L366.5,240.4 L366,241.6 L365.5,240.8 L365,241.4 L364.5,242.2 L364,242.2 L363.5,241.4 L363,242.3 L362.5,242 L362,241.9 L361.5,241.8 L361,241.5 L360.5,242.5 L360,242.9 L359.5,243.2 L359,242.4 L358.5,243.8 L358,243.8 L357.5,241.9 L357,241.9 L356.5,242.6 L356,243.6 L355.5,242.8 L355,243.4 L354.5,242.9 L354,242.9 L353.5,243.1 L353,242.2 L352.5,242.3 L352,243.5 L351.5,242.2 L351,243 L350.5,242.6 L350,242.3 L349.5,241.3 L349,241.4 L348.5,241.4 L348,241.5 L347.5,242.3 L347,240.6 L346.5,241.7 L346,241.1 L345.5,240.9 L345,242.1 L344.5,240.5 L344,241.7 L343.5,242.1 L343,240.9 L342.5,242.2 L342,241.2 L341.5,242.1 L341,242.2 L340.5,241.5 L340,241.9 L339.5,241 L339,242.4 L338.5,240.6 L338,241.7 L337.5,240.7 L337,242.1 L336.5,241.7 L336,241.2 L335.5,241 L335,241.5 L334.5,240.7 L334,242.2 L333.5,241.2 L333,240.8 L332.5,240.6 L332,241.8 L331.5,242.1 L331,241.6 L330.5,240.5 L330,241.3 L329.5,240.5 L329,241.9 L328.5,240.9 L328,241 L327.5,241 L327,240.5 L326.5,241.3 L326,240.4 L325.5,240.6 L325,240.4 L324.5,241.4 L324,241.5 L323.5,241.1 L323,240.5 L322.5,242.4 L322,240.6 L321.5,241 L321,243 L320.5,241.1 L320,242.3 L319.5,242.5 L319,241.9 L318.5,242.4 L318,242 L317.5,241.5 L317,242.4 L316.5,242.9 L316,242.9 L315.5,242.1 L315,242 L314.5,241.6 L314,242 L313.5,241.7 L313,241.3 L312.5,241.3 L312,242.7 L311.5,242.1Z" fill="#5d9dcf"/><path d="M311.5,227.9 L312,228.5 L312.5,228.5 L313,227.8 L313.5,227.7 L314,228.2 L314.5,228.6 L315,227.9 L315.5,228.2 L316,228 L316.5,228.4 L317,227.8 L317.5,228.3 L318,228.6 L318.5,227.8 L319,227.8 L319.5,228.4 L320,228.4 L320.5,228.6 L321,228.6 L321.5,228.7 L322,228.9 L322.5,229.1 L323,228.8 L323.5,229.4 L324,228.9 L324.5,228.6 L325,228.9 L325.5,229 L326,228.7 L326.5,229.2 L327,229 L327.5,229.3 L328,229.1 L328.5,228.8 L329,228.8 L329.5,229.4 L330,228.6 L330.5,228.8 L331,228.9 L331.5,228.6 L332,229.3 L332.5,228.8 L333,228.6 L333.5,228.8 L334,229.3 L334.5,229.3 L335,229.1 L335.5,228.6 L336,229.4 L336.5,228.8 L337,229.1 L337.5,228.8 L338,229.1 L338.5,228.8 L339,228.9 L339.5,228.8 L340,229 L340.5,229.3 L341,228.6 L341.5,229.3 L342,228.7 L342.5,229.4 L343,229.1 L343.5,229 L344,229.3 L344.5,228.6 L345,228.7 L345.5,229.3 L346,228.7 L346.5,228.7 L347,229.1 L347.5,228.8 L348,229.2 L348.5,229 L349,228.5 L349.5,228.9 L350,228.5 L350.5,228.9 L351,228.8 L351.5,228.5 L352,227.8 L352.5,228.6 L353,228.3 L353.5,228.3 L354,227.5 L354.5,228.3 L355,228.3 L355.5,228.4 L356,228.4 L356.5,227.7 L357,228.4 L357.5,228 L358,228.3 L358.5,228 L359,228.5 L359.5,228.6 L360,228.6 L360.5,228.1 L361,229 L361.5,228.8 L362,229 L362.5,229.2 L363,229.4 L363.5,229.4 L364,229.2 L364.5,229.2 L365,229.1 L365.5,228.9 L366,229.3 L366.5,229.1 L367,228.8 L367.5,228.7 L368,229.4 L368.5,229 L369,229.1 L369.5,229.1 L370,228.9 L370.5,229 L371,229.1 L371.5,229 L372,229 L372.5,229.4 L373,228.7 L373.5,228.9 L374,229.2 L374.5,229.1 L375,229.3 L375.5,229.2 L376,228.7 L376.5,229.4 L377,228.8 L377.5,229 L378,228.6 L378.5,229.2 L379,228.7 L379.5,228.9 L380,228.9 L380.5,228.7 L381,229 L381.5,228.8 L382,229.1 L382.5,229.3 L383,228.8 L383.5,228.6 L384,229.4 L384.5,228.6 L385,229.2 L385.5,229.1 L386,229 L386.5,228.9 L387,228.6 L387.5,228.6 L388,228.9 L388.5,229.4 L389,228.7 L389.5,228.8 L390,229.4 L390.5,229.3 L391,228.7 L391.5,229.2 L392,229.1 L392.5,229.3 L393,228.7 L393.5,229.4 L394,228.9 L394.5,229 L395,228.8 L395.5,228.8 L396,229.3 L396.5,229.3 L397,228.6 L397.5,228.7 L398,229.2 L398.5,229 L399,228.9 L399.5,228.9 L400,229.4 L400.5,229.3 L401,229.1 L401.5,229.4 L402,229 L402.5,229.1 L403,228.6 L403.5,229.2 L404,229 L404.5,229.2 L405,228.9 L405.5,228.6 L406,229.2 L406.5,228.7 L407,228.7 L407.5,229.3 L408,229.1 L408.5,229.2 L409,229.4 L409.5,228.7 L410,228.9 L410.5,229.4 L411,229.1 L411.5,229.4 L412,228.8 L412.5,228.9 L413,228.8 L413.5,229 L414,228.9 L414.5,228.7 L415,229.4 L415.5,229.3 L416,229.2 L416.5,228.9 L417,229.2 L417.5,229.3 L418,228.9 L418.5,229.1 L419,229.1 L419.5,229 L420,229.3 L420.5,229 L421,229.2 L421.5,229.2 L422,229 L422.5,228.9 L423,229.2 L423.5,228.9 L424,228.9 L424.5,229.2 L425,229.1 L425.5,228.8 L426,229.2 L426.5,229 L427,229.2 L427.5,228.9 L428,228.8 L428.5,229.1 L429,229.1 L429.5,229.4 L430,229.2 L430.5,229.1 L431,228.9 L431.5,228.7 L432,229.4 L432.5,228.9 L433,228.6 L433.5,228.8 L434,229 L434.5,228.8 L435,229.3 L435.5,228.8 L436,228.8 L436.5,229.3 L437,229 L437.5,229.3 L438,228.6 L438.5,228.7 L439,229.3 L439.5,229.2 L440,228.8 L440.5,228.4 L441,228.6 L441.5,228.3 L442,228.2 L442.5,228.1 L443,228 L443.5,227.6 L444,228.4 L444.5,228.3 L445,228 L445.5,227.7 L446,228.1 L446.5,227.9 L447,228.4 L447.5,228.4 L448,227.9 L448.5,228.8 L449,228.4 L449.5,228.9 L450,228.5 L450.5,228.8 L451,228.5 L451.5,228.8 L452,228.6 L452.5,228.8 L453,228.9 L453.5,229.4 L454,229 L454.5,229 L455,229.3 L455.5,228.6 L456,229.2 L456.5,228.8 L457,229.2 L457.5,228.7 L458,228.8 L458.5,228.9 L459,229.3 L459.5,229.4 L460,229.2 L460.5,228.7 L461,229.2 L461.5,229.4 L462,229 L462.5,229.4 L463,228.6 L463.5,229.4 L464,229.2 L464.5,228.8 L465,229.1 L465.5,228.7 L466,229.3 L466.5,229.1 L467,228.6 L467.5,228.9 L468,229.1 L468.5,229 L469,229 L469.5,228.7 L470,229.4 L470.5,229 L471,229.2 L471.5,228.8 L472,229.1 L472.5,228.6 L473,229 L473.5,228.6 L474,228.6 L474.5,229 L475,229 L475.5,228.8 L476,228.6 L476.5,228.8 L477,229.4 L477.5,229.3 L478,229.4 L478.5,229.1 L479,228.6 L479.5,229.1 L480,228.6 L480.5,228.6 L481,229 L481.5,229.1 L482,229.2 L482.5,229 L483,229.1 L483.5,228.8 L484,228.9 L484.5,229.2 L485,228.7 L485.5,228.9 L486,228.6 L486.5,228.8 L487,228.8 L487.5,227.9 L488,228.2 L488.5,228 L489,228.2 L489.5,227.2 L490,227.8 L490.5,227.1 L491,227.6 L491.5,227.2 L492,227.7 L492.5,227.7 L493,227.1 L493.5,227.7 L494,226.6 L494.5,227.3 L495,227.1 L495.5,227.9 L496,227.3 L496.5,228 L497,227.4 L497.5,227.5 L498,228.1 L498.5,228.2 L499,228.8 L499.5,229 L500,228.6 L500.5,228.7 L501,228.7 L501.5,228.8 L502,228.7 L502.5,229.1 L503,228.9 L503.5,228.9 L504,229.2 L504.5,228.9 L505,228.6 L505.5,229.1 L506,228.6 L506.5,229.2 L507,228.6 L507.5,228.9 L508,229.2 L508.5,229.1 L509,228.8 L509.5,229 L510,229 L510.5,228.9 L511,228.6 L511.5,229.1 L512,228.7 L512.5,229.4 L513,228.9 L513.5,229.3 L514,229.2 L514.5,229.1 L515,229.1 L515.5,228.7 L516,229 L516.5,228.6 L517,228.9 L517.5,228.8 L518,229 L518.5,229.2 L519,229.4 L519.5,229 L520,228.8 L520.5,228.6 L521,228.8 L521.5,229.1 L522,229.2 L522.5,228.8 L523,228.9 L523.5,229.3 L524,229.3 L524.5,228.6 L525,228.8 L525.5,229.1 L526,229 L526.5,229.3 L527,229.2 L527.5,228.7 L528,229.1 L528.5,228.6 L529,228.9 L529.5,228.6 L530,229.3 L530.5,228.7 L531,229 L531,237.7 L530.5,237.5 L530,237.4 L529.5,238 L529,237.8 L528.5,237.8 L528,237.4 L527.5,237.5 L527,237.2 L526.5,237.6 L526,238 L525.5,237.9 L525,237.8 L524.5,237.8 L524,237.5 L523.5,237.7 L523,237.4 L522.5,237.8 L522,237.8 L521.5,237.8 L521,237.9 L520.5,237.3 L520,237.5 L519.5,237.6 L519,237.4 L518.5,237.7 L518,237.3 L517.5,237.9 L517,237.9 L516.5,237.5 L516,237.5 L515.5,237.5 L515,237.2 L514.5,237.7 L514,238 L513.5,237.4 L513,237.7 L512.5,237.6 L512,238 L511.5,237.8 L511,237.3 L510.5,237.8 L510,237.4 L509.5,237.9 L509,237.6 L508.5,237.6 L508,238 L507.5,237.9 L507,237.4 L506.5,237.2 L506,237.8 L505.5,237.3 L505,237.5 L504.5,237.5 L504,237.9 L503.5,237.5 L503,237.3 L502.5,237.3 L502,237.7 L501.5,237.2 L501,237.3 L500.5,237.8 L500,238 L499.5,237.7 L499,238.2 L498.5,237.7 L498,238.7 L497.5,238.4 L497,239 L496.5,239.1 L496,239 L495.5,238.8 L495,239.3 L494.5,239.5 L494,239 L493.5,239.7 L493,239.6 L492.5,239.5 L492,239.3 L491.5,239.3 L491,238.9 L490.5,238.9 L490,239.4 L489.5,239.5 L489,239.1 L488.5,238.7 L488,238.5 L487.5,238.1 L487,237.7 L486.5,237.9 L486,238.1 L485.5,237.5 L485,237.7 L484.5,237.2 L484,237.2 L483.5,238 L483,237.3 L482.5,237.4 L482,237.8 L481.5,237.3 L481,237.8 L480.5,237.9 L480,237.9 L479.5,237.6 L479,237.4 L478.5,237.8 L478,237.6 L477.5,237.5 L477,237.3 L476.5,237.7 L476,237.5 L475.5,237.8 L475,237.2 L474.5,237.7 L474,237.9 L473.5,237.9 L473,237.6 L472.5,237.8 L472,237.5 L471.5,237.7 L471,237.4 L470.5,237.7 L470,238 L469.5,237.3 L469,237.7 L468.5,237.5 L468,237.7 L467.5,237.8 L467,237.9 L466.5,237.6 L466,237.3 L465.5,238 L465,238 L464.5,237.3 L464,237.3 L463.5,237.8 L463,237.4 L462.5,238 L462,237.7 L461.5,238 L461,238 L460.5,237.8 L460,237.6 L459.5,237.4 L459,237.6 L458.5,237.7 L458,237.7 L457.5,237.8 L457,237.4 L456.5,238 L456,237.5 L455.5,237.2 L455,238 L454.5,238 L454,237.4 L453.5,237.7 L453,237.9 L452.5,237.4 L452,237.5 L451.5,237.6 L451,237.3 L450.5,237.8 L450,237.4 L449.5,237.6 L449,237.8 L448.5,238 L448,238.4 L447.5,237.9 L447,238.2 L446.5,238.4 L446,238 L445.5,238.7 L445,238 L444.5,238.1 L444,238.5 L443.5,237.9 L443,238.3 L442.5,238.2 L442,238.3 L441.5,237.7 L441,238.2 L440.5,237.7 L440,237.6 L439.5,237.6 L439,237.8 L438.5,237.4 L438,237.9 L437.5,237.9 L437,237.7 L436.5,237.2 L436,237.2 L435.5,237.6 L435,237.9 L434.5,238.1 L434,237.9 L433.5,237.6 L433,237.8 L432.5,237.9 L432,237.5 L431.5,237.6 L431,237.3 L430.5,237.7 L430,237.6 L429.5,237.3 L429,237.7 L428.5,237.2 L428,237.7 L427.5,237.7 L427,237.8 L426.5,237.7 L426,237.9 L425.5,237.6 L425,237.6 L424.5,237.9 L424,237.7 L423.5,237.7 L423,237.5 L422.5,237.5 L422,237.8 L421.5,237.8 L421,237.6 L420.5,237.2 L420,237.6 L419.5,237.8 L419,237.6 L418.5,237.8 L418,237.4 L417.5,237.4 L417,237.2 L416.5,237.7 L416,237.9 L415.5,237.5 L415,237.2 L414.5,237.9 L414,237.6 L413.5,237.7 L413,237.9 L412.5,237.7 L412,237.2 L411.5,237.7 L411,237.4 L410.5,237.8 L410,237.7 L409.5,237.3 L409,237.9 L408.5,237.2 L408,237.5 L407.5,237.3 L407,237.7 L406.5,238 L406,237.8 L405.5,237.9 L405,238 L404.5,237.4 L404,238 L403.5,237.9 L403,237.3 L402.5,237.2 L402,237.9 L401.5,237.7 L401,237.3 L400.5,237.6 L400,237.6 L399.5,237.9 L399,237.3 L398.5,238.1 L398,237.9 L397.5,237.8 L397,237.6 L396.5,237.7 L396,237.8 L395.5,237.6 L395,237.2 L394.5,237.3 L394,237.9 L393.5,237.3 L393,238 L392.5,238 L392,237.7 L391.5,237.7 L391,237.4 L390.5,237.8 L390,237.9 L389.5,237.9 L389,237.7 L388.5,237.2 L388,237.8 L387.5,237.2 L387,237.9 L386.5,237.7 L386,238 L385.5,237.5 L385,237.3 L384.5,237.9 L384,237.9 L383.5,237.3 L383,237.4 L382.5,237.6 L382,237.4 L381.5,237.9 L381,238 L380.5,237.4 L380,237.5 L379.5,237.8 L379,237.9 L378.5,237.5 L378,237.3 L377.5,237.4 L377,237.6 L376.5,237.3 L376,238 L375.5,237.6 L375,237.7 L374.5,237.7 L374,237.3 L373.5,238 L373,237.9 L372.5,237.4 L372,237.7 L371.5,238 L371,237.4 L370.5,237.4 L370,237.2 L369.5,237.7 L369,238 L368.5,238 L368,237.7 L367.5,237.7 L367,237.7 L366.5,237.4 L366,237.8 L365.5,237.5 L365,237.6 L364.5,237.5 L364,237.3 L363.5,237.2 L363,237.8 L362.5,237.5 L362,237.5 L361.5,238.1 L361,238.1 L360.5,238.3 L360,237.9 L359.5,238.3 L359,238.6 L358.5,238.5 L358,238.1 L357.5,238.5 L357,238.1 L356.5,238.9 L356,238.6 L355.5,239 L355,238.1 L354.5,238.1 L354,238.3 L353.5,238.3 L353,238.8 L352.5,238.9 L352,238.8 L351.5,238.5 L351,237.7 L350.5,237.6 L350,238.3 L349.5,238.1 L349,237.8 L348.5,237.9 L348,238.1 L347.5,238 L347,237.8 L346.5,238 L346,237.4 L345.5,237.6 L345,237.3 L344.5,237.2 L344,237.7 L343.5,237.7 L343,238 L342.5,237.4 L342,237.2 L341.5,237.9 L341,237.7 L340.5,238 L340,237.2 L339.5,238 L339,238 L338.5,237.3 L338,237.3 L337.5,237.6 L337,237.7 L336.5,237.5 L336,237.3 L335.5,237.8 L335,237.6 L334.5,237.6 L334,237.6 L333.5,237.7 L333,238 L332.5,237.4 L332,238 L331.5,237.6 L331,238 L330.5,237.4 L330,237.5 L329.5,237.4 L329,237.2 L328.5,237.3 L328,237.9 L327.5,237.5 L327,237.9 L326.5,237.2 L326,237.8 L325.5,238 L325,238 L324.5,237.6 L324,238.1 L323.5,237.9 L323,237.7 L322.5,237.6 L322,237.5 L321.5,238 L321,237.6 L320.5,238.2 L320,237.5 L319.5,237.8 L319,238.3 L318.5,237.7 L318,237.8 L317.5,237.8 L317,238.3 L316.5,238.3 L316,238 L315.5,238.2 L315,238.4 L314.5,238.2 L314,238.4 L313.5,237.6 L313,238.5 L312.5,237.9 L312,238.1 L311.5,237.8Z" fill="#96c2e4"/></g>
<rect x="300.9" y="183" width="241" height="100.2" fill="none" stroke="#555" stroke-width="0.75"/>
<line x1="298.75" y1="192.5" x2="300.9" y2="192.5" stroke="#555" stroke-width="0.6"/>
<text x="295.81" y="195.13" font-size="6.13" text-anchor="end">0.2</text>
<line x1="298.75" y1="212.9" x2="300.9" y2="212.9" stroke="#555" stroke-width="0.6"/>
<text x="295.81" y="215.53" font-size="6.13" text-anchor="end">0.1</text>
<line x1="298.75" y1="233.3" x2="300.9" y2="233.3" stroke="#555" stroke-width="0.6"/>
<text x="295.81" y="235.93" font-size="6.13" text-anchor="end">0.0</text>
<line x1="298.75" y1="253.7" x2="300.9" y2="253.7" stroke="#555" stroke-width="0.6"/>
<text x="295.81" y="256.33" font-size="6.13" text-anchor="end">-0.1</text>
<line x1="298.75" y1="274.1" x2="300.9" y2="274.1" stroke="#555" stroke-width="0.6"/>
<text x="295.81" y="276.73" font-size="6.13" text-anchor="end">-0.2</text>
<line x1="311.9" y1="283.2" x2="311.9" y2="285.35" stroke="#555" stroke-width="0.6"/>
<text x="311.9" y="292.15" font-size="6.13" text-anchor="middle">0:00</text>
<line x1="344.73" y1="283.2" x2="344.73" y2="285.35" stroke="#555" stroke-width="0.6"/>
<text x="344.73" y="292.15" font-size="6.13" text-anchor="middle">0:15</text>
<line x1="377.56" y1="283.2" x2="377.56" y2="285.35" stroke="#555" stroke-width="0.6"/>
<text x="377.56" y="292.15" font-size="6.13" text-anchor="middle">0:30</text>
<line x1="410.39" y1="283.2" x2="410.39" y2="285.35" stroke="#555" stroke-width="0.6"/>
<text x="410.39" y="292.15" font-size="6.13" text-anchor="middle">0:45</text>
<line x1="443.22" y1="283.2" x2="443.22" y2="285.35" stroke="#555" stroke-width="0.6"/>
<text x="443.22" y="292.15" font-size="6.13" text-anchor="middle">1:00</text>
<line x1="476.05" y1="283.2" x2="476.05" y2="285.35" stroke="#555" stroke-width="0.6"/>
<text x="476.05" y="292.15" font-size="6.13" text-anchor="middle">1:15</text>
<line x1="508.88" y1="283.2" x2="508.88" y2="285.35" stroke="#555" stroke-width="0.6"/>
<text x="508.88" y="292.15" font-size="6.13" text-anchor="middle">1:30</text>
<text x="421.4" y="301.53" font-size="6.13" text-anchor="middle">Time (s)</text>
<text transform="translate(279.3,233.8) rotate(-90)" font-size="6.13" text-anchor="middle">Amplitude</text>
<text x="420.9" y="179.1" font-size="7.43" text-anchor="middle">Waveform: failure, SNR 0 dB, Noise type 0</text>
<text class="cap" x="408.6" y="326" font-family="'Liberation Serif', serif" font-size="12.6" fill="#000" text-anchor="middle">(<tspan font-weight="bold">d</tspan>)</text>
<g id="wfe"><defs><linearGradient id="ge" gradientUnits="userSpaceOnUse" x1="0" y1="373.1" x2="0" y2="427.3"><stop offset="0%" stop-color="#8cbce1"/><stop offset="30.4%" stop-color="#8cbce1"/><stop offset="33.8%" stop-color="#78afd9"/><stop offset="37.4%" stop-color="#78afd9"/><stop offset="39.1%" stop-color="#5d9dcf"/><stop offset="50%" stop-color="#5d9dcf"/><stop offset="60.9%" stop-color="#5d9dcf"/><stop offset="62.6%" stop-color="#78afd9"/><stop offset="66.2%" stop-color="#78afd9"/><stop offset="69.6%" stop-color="#8cbce1"/><stop offset="100%" stop-color="#8cbce1"/></linearGradient></defs><path d="M40.9,390.9 L41.4,389.7 L41.9,389.3 L42.4,389.6 L42.9,391.6 L43.4,390.9 L43.9,392.2 L44.4,389.3 L44.9,389 L45.4,390.2 L45.9,392.4 L46.4,389.2 L46.9,388.8 L47.4,389.9 L47.9,391.5 L48.4,389.3 L48.9,391.5 L49.4,388.8 L49.9,392.1 L50.4,391.2 L50.9,388.9 L51.4,389.4 L51.9,391.4 L52.4,391.8 L52.9,389.4 L53.4,390.5 L53.9,388.9 L54.4,391.8 L54.9,391.6 L55.4,388.9 L55.9,388.9 L56.4,389.2 L56.9,390.4 L57.4,389.4 L57.9,389.5 L58.4,390.9 L58.9,387.6 L59.4,391.1 L59.9,390 L60.4,390.3 L60.9,391.6 L61.4,389 L61.9,389.4 L62.4,390.6 L62.9,390 L63.4,389.7 L63.9,389.4 L64.4,388.9 L64.9,390.7 L65.4,390 L65.9,390.1 L66.4,391.1 L66.9,392.1 L67.4,389.9 L67.9,389.4 L68.4,389 L68.9,389.4 L69.4,389.8 L69.9,388.8 L70.4,389.2 L70.9,391.3 L71.4,389.3 L71.9,388.8 L72.4,390.2 L72.9,389.4 L73.4,390.9 L73.9,391.7 L74.4,390.9 L74.9,391.6 L75.4,391.2 L75.9,390.6 L76.4,389.9 L76.9,389.2 L77.4,389 L77.9,388.8 L78.4,390.9 L78.9,389.5 L79.4,390.2 L79.9,391.1 L80.4,390.1 L80.9,387.7 L81.4,391.1 L81.9,388.8 L82.4,392.3 L82.9,389.1 L83.4,389 L83.9,383.5 L84.4,390.9 L84.9,390.4 L85.4,388.4 L85.9,384.5 L86.4,375.8 L86.9,388.8 L87.4,379 L87.9,377.4 L88.4,387.4 L88.9,388 L89.4,381 L89.9,375.1 L90.4,375.2 L90.9,375.8 L91.4,377.7 L91.9,386.5 L92.4,383.4 L92.9,378.1 L93.4,384.1 L93.9,387.9 L94.4,385.2 L94.9,382.9 L95.4,388.6 L95.9,386.6 L96.4,388.6 L96.9,390.6 L97.4,389.7 L97.9,389.9 L98.4,389.3 L98.9,388.8 L99.4,390.7 L99.9,391.5 L100.4,390.8 L100.9,391.2 L101.4,388.6 L101.9,391.6 L102.4,389.5 L102.9,390 L103.4,389 L103.9,391.6 L104.4,389.7 L104.9,389.4 L105.4,388.9 L105.9,390.5 L106.4,391.5 L106.9,389.9 L107.4,389.4 L107.9,389.8 L108.4,389.6 L108.9,389 L109.4,389.9 L109.9,389.3 L110.4,391.3 L110.9,389 L111.4,390.6 L111.9,389 L112.4,391.4 L112.9,387.8 L113.4,389.4 L113.9,390.6 L114.4,390.7 L114.9,389.5 L115.4,389.4 L115.9,391.2 L116.4,390 L116.9,390.7 L117.4,391.1 L117.9,390.2 L118.4,391.1 L118.9,390 L119.4,386.7 L119.9,390.9 L120.4,389.9 L120.9,390 L121.4,384.2 L121.9,389 L122.4,385.9 L122.9,388.9 L123.4,389.7 L123.9,385.7 L124.4,388.9 L124.9,386 L125.4,390.3 L125.9,390 L126.4,383.9 L126.9,382.9 L127.4,390.2 L127.9,390.3 L128.4,391.4 L128.9,389 L129.4,389.3 L129.9,391.4 L130.4,389.8 L130.9,391.8 L131.4,389.7 L131.9,391.1 L132.4,390.8 L132.9,389.4 L133.4,389.7 L133.9,390 L134.4,391.6 L134.9,392.6 L135.4,389.5 L135.9,391.5 L136.4,391.9 L136.9,389.2 L137.4,389.3 L137.9,392.4 L138.4,391 L138.9,389 L139.4,389.4 L139.9,391.6 L140.4,388.8 L140.9,389.1 L141.4,391.2 L141.9,389 L142.4,390.5 L142.9,389.2 L143.4,389 L143.9,389.3 L144.4,389.1 L144.9,390.2 L145.4,388 L145.9,390.7 L146.4,390.1 L146.9,390.2 L147.4,392.4 L147.9,390.7 L148.4,391.9 L148.9,389.8 L149.4,389 L149.9,391.2 L150.4,390.4 L150.9,390.3 L151.4,388.8 L151.9,389.1 L152.4,388.8 L152.9,391.9 L153.4,389.6 L153.9,389.9 L154.4,389.2 L154.9,391 L155.4,389.2 L155.9,389.4 L156.4,390.9 L156.9,389.1 L157.4,391.1 L157.9,389.6 L158.4,389.4 L158.9,389.8 L159.4,391.8 L159.9,389.5 L160.4,390.9 L160.9,389.8 L161.4,390.7 L161.9,389.8 L162.4,391.5 L162.9,390.4 L163.4,389.5 L163.9,391.2 L164.4,389.3 L164.9,388.9 L165.4,390.7 L165.9,389.9 L166.4,387.1 L166.9,387.3 L167.4,391.1 L167.9,391.6 L168.4,388.9 L168.9,390.4 L169.4,389.4 L169.9,390.1 L170.4,389.8 L170.9,388.8 L171.4,389.3 L171.9,389.1 L172.4,390.4 L172.9,391.2 L173.4,390.9 L173.9,391.3 L174.4,389.1 L174.9,390 L175.4,389.9 L175.9,391.2 L176.4,389.7 L176.9,391.1 L177.4,389.3 L177.9,389.8 L178.4,389 L178.9,389.7 L179.4,389.5 L179.9,389.7 L180.4,388.4 L180.9,388.4 L181.4,390.6 L181.9,388 L182.4,389.4 L182.9,389.4 L183.4,387.8 L183.9,391.6 L184.4,388.8 L184.9,389.3 L185.4,389.5 L185.9,391.3 L186.4,390.6 L186.9,389.9 L187.4,391.6 L187.9,390.2 L188.4,389.5 L188.9,391.4 L189.4,390.5 L189.9,389.2 L190.4,390.4 L190.9,389.9 L191.4,389 L191.9,391.2 L192.4,389.2 L192.9,390.8 L193.4,389.8 L193.9,390.1 L194.4,389.6 L194.9,389.1 L195.4,391.4 L195.9,391 L196.4,389.8 L196.9,391.1 L197.4,389.5 L197.9,389.1 L198.4,390.2 L198.9,390.7 L199.4,390.5 L199.9,390.1 L200.4,389.4 L200.9,392.5 L201.4,389.4 L201.9,391.3 L202.4,388.9 L202.9,389.2 L203.4,391.4 L203.9,388.9 L204.4,389.1 L204.9,389.2 L205.4,391.1 L205.9,389.5 L206.4,389.6 L206.9,392.2 L207.4,390.2 L207.9,390.6 L208.4,390.3 L208.9,389.7 L209.4,390.9 L209.9,389.5 L210.4,389.7 L210.9,389.4 L211.4,389.8 L211.9,389.4 L212.4,389.3 L212.9,391.9 L213.4,389.2 L213.9,389.2 L214.4,389.4 L214.9,389.7 L215.4,390.9 L215.9,390.6 L216.4,390 L216.9,392 L217.4,389.6 L217.9,389.3 L218.4,389.4 L218.9,389 L219.4,391.1 L219.9,388.8 L220.4,389.1 L220.9,389.7 L221.4,389.4 L221.9,392.1 L222.4,389.1 L222.9,390.2 L223.4,389.3 L223.9,389.8 L224.4,389.7 L224.9,389.6 L225.4,390 L225.9,390.8 L226.4,390.1 L226.9,390.3 L227.4,390.1 L227.9,390.1 L228.4,388.4 L228.9,390.2 L229.4,388.9 L229.9,389.2 L230.4,391.5 L230.9,389.4 L231.4,390 L231.9,390.1 L232.4,388.9 L232.9,389.5 L233.4,390.5 L233.9,390.3 L234.4,391 L234.9,390.5 L235.4,389.1 L235.9,389.1 L236.4,389.4 L236.9,390.1 L237.4,389.7 L237.9,391 L238.4,392.4 L238.9,392.3 L239.4,391 L239.9,389 L240.4,389.4 L240.9,389.6 L241.4,389.1 L241.9,390.6 L242.4,392.2 L242.9,391.3 L243.4,390.9 L243.9,389.6 L244.4,389.5 L244.9,390.8 L245.4,389.7 L245.9,389.2 L246.4,389.1 L246.9,390.5 L247.4,389 L247.9,390.3 L248.4,391.7 L248.9,388.9 L249.4,389.9 L249.9,390.6 L250.4,390.3 L250.9,389.8 L251.4,389.4 L251.9,391 L252.4,389.3 L252.4,408.8 L251.9,410.5 L251.4,408.4 L250.9,411 L250.4,410.3 L249.9,409.9 L249.4,409.4 L248.9,410.4 L248.4,411.3 L247.9,410 L247.4,409.6 L246.9,411.2 L246.4,410.2 L245.9,411.2 L245.4,409.7 L244.9,410.8 L244.4,410.6 L243.9,411.2 L243.4,409.9 L242.9,410.1 L242.4,411.6 L241.9,411.2 L241.4,411.4 L240.9,411.5 L240.4,409.8 L239.9,411.5 L239.4,410.6 L238.9,410.1 L238.4,409.8 L237.9,409.7 L237.4,411.3 L236.9,411 L236.4,411.2 L235.9,410.7 L235.4,409.6 L234.9,410.3 L234.4,411.1 L233.9,407.8 L233.4,411.4 L232.9,411 L232.4,409.8 L231.9,411.1 L231.4,410 L230.9,410.8 L230.4,413.3 L229.9,411.5 L229.4,411 L228.9,410.7 L228.4,411.1 L227.9,411.5 L227.4,410.6 L226.9,410.2 L226.4,410.4 L225.9,411.4 L225.4,411.6 L224.9,408.8 L224.4,410.1 L223.9,408.8 L223.4,409.4 L222.9,410.9 L222.4,413.2 L221.9,410.7 L221.4,410.9 L220.9,412 L220.4,411.1 L219.9,411.3 L219.4,410.9 L218.9,410.9 L218.4,411.5 L217.9,410.7 L217.4,411.6 L216.9,409.3 L216.4,408.9 L215.9,408.8 L215.4,408.6 L214.9,409.7 L214.4,408.8 L213.9,411.2 L213.4,410.6 L212.9,408.7 L212.4,409.8 L211.9,408.6 L211.4,410 L210.9,410.8 L210.4,411.5 L209.9,408.6 L209.4,410.9 L208.9,411.4 L208.4,410.4 L207.9,409.7 L207.4,411.1 L206.9,410.3 L206.4,411.3 L205.9,409.9 L205.4,409.3 L204.9,409.2 L204.4,410.5 L203.9,409.7 L203.4,410.2 L202.9,410 L202.4,408 L201.9,408.8 L201.4,410.6 L200.9,410.1 L200.4,410.2 L199.9,411.4 L199.4,408.7 L198.9,411.4 L198.4,408.5 L197.9,410.4 L197.4,411.4 L196.9,411.4 L196.4,410.1 L195.9,410.6 L195.4,411 L194.9,411.4 L194.4,411.5 L193.9,410.8 L193.4,411.6 L192.9,409.5 L192.4,410.2 L191.9,410.1 L191.4,409.1 L190.9,410.8 L190.4,412.1 L189.9,410.9 L189.4,410.5 L188.9,409.3 L188.4,410.3 L187.9,410.8 L187.4,411 L186.9,410 L186.4,411.4 L185.9,411 L185.4,407.9 L184.9,409.5 L184.4,411.7 L183.9,411.5 L183.4,410.9 L182.9,410 L182.4,412.7 L181.9,411.6 L181.4,412.8 L180.9,408.8 L180.4,412.3 L179.9,410.7 L179.4,410.4 L178.9,410.9 L178.4,410.6 L177.9,408.6 L177.4,408.6 L176.9,411.6 L176.4,411.4 L175.9,411.2 L175.4,411.6 L174.9,411.2 L174.4,408.5 L173.9,409.8 L173.4,410.3 L172.9,410.1 L172.4,410.3 L171.9,410.8 L171.4,408.3 L170.9,411.6 L170.4,408.7 L169.9,411.5 L169.4,410.8 L168.9,411.3 L168.4,411.5 L167.9,410.3 L167.4,411.3 L166.9,410.1 L166.4,410 L165.9,410.4 L165.4,411.2 L164.9,409.1 L164.4,411.4 L163.9,409.9 L163.4,410.8 L162.9,407.7 L162.4,410 L161.9,408.2 L161.4,410.5 L160.9,410.9 L160.4,408.6 L159.9,407.6 L159.4,410.5 L158.9,411.3 L158.4,411.2 L157.9,411.4 L157.4,411.2 L156.9,410.2 L156.4,411.2 L155.9,412.5 L155.4,409.4 L154.9,410.2 L154.4,411.5 L153.9,411.1 L153.4,411.4 L152.9,409.2 L152.4,411.3 L151.9,410.7 L151.4,409.9 L150.9,409.2 L150.4,411.4 L149.9,410.7 L149.4,410.7 L148.9,411.6 L148.4,410.1 L147.9,411.4 L147.4,409.5 L146.9,409.6 L146.4,411.3 L145.9,411.1 L145.4,409.5 L144.9,410.1 L144.4,407.7 L143.9,411.3 L143.4,409.6 L142.9,411.3 L142.4,411.4 L141.9,409.5 L141.4,410.4 L140.9,410.7 L140.4,409.8 L139.9,408.9 L139.4,411.2 L138.9,410.7 L138.4,408.9 L137.9,409 L137.4,411.2 L136.9,410 L136.4,410.3 L135.9,411.6 L135.4,411.3 L134.9,410 L134.4,411.1 L133.9,410.3 L133.4,409.3 L132.9,410.4 L132.4,410.8 L131.9,411.4 L131.4,408.2 L130.9,411.5 L130.4,410.4 L129.9,410.6 L129.4,411 L128.9,410.2 L128.4,410.2 L127.9,410.3 L127.4,413 L126.9,410.5 L126.4,412.6 L125.9,416.2 L125.4,415.9 L124.9,410 L124.4,413.9 L123.9,415.9 L123.4,416.6 L122.9,410.6 L122.4,412.6 L121.9,410.2 L121.4,418.3 L120.9,413.7 L120.4,410.5 L119.9,409.1 L119.4,408.5 L118.9,411.4 L118.4,410.5 L117.9,410.8 L117.4,408.7 L116.9,411.5 L116.4,410.2 L115.9,409.8 L115.4,410.9 L114.9,411.4 L114.4,411.2 L113.9,411.4 L113.4,408.5 L112.9,409.8 L112.4,409.2 L111.9,410.2 L111.4,410.7 L110.9,409.1 L110.4,408.8 L109.9,411.2 L109.4,411.1 L108.9,409.9 L108.4,411.5 L107.9,409.6 L107.4,410.3 L106.9,410 L106.4,411.2 L105.9,411.3 L105.4,410.6 L104.9,411 L104.4,411.5 L103.9,410.7 L103.4,411.2 L102.9,411.4 L102.4,410.6 L101.9,409.4 L101.4,410 L100.9,410.6 L100.4,411.4 L99.9,409.4 L99.4,411.1 L98.9,410.4 L98.4,411.1 L97.9,411.3 L97.4,408.7 L96.9,409.4 L96.4,409.6 L95.9,410.1 L95.4,414 L94.9,412.5 L94.4,414.6 L93.9,423.6 L93.4,411.1 L92.9,414.2 L92.4,412 L91.9,415 L91.4,414.2 L90.9,423.5 L90.4,422.4 L89.9,421.4 L89.4,409.5 L88.9,415.3 L88.4,409.5 L87.9,417.4 L87.4,420.2 L86.9,410.8 L86.4,423.1 L85.9,410.9 L85.4,414 L84.9,412.6 L84.4,411.7 L83.9,411.7 L83.4,413.5 L82.9,411.4 L82.4,410.7 L81.9,408.7 L81.4,409.1 L80.9,411.4 L80.4,412.1 L79.9,410.8 L79.4,411.4 L78.9,410.4 L78.4,411.2 L77.9,411.2 L77.4,411 L76.9,410.6 L76.4,410.5 L75.9,411 L75.4,410.9 L74.9,410.6 L74.4,411.4 L73.9,409.2 L73.4,411 L72.9,408.3 L72.4,411.2 L71.9,409.8 L71.4,410.8 L70.9,411.2 L70.4,411.6 L69.9,410.6 L69.4,413.4 L68.9,411.5 L68.4,410.6 L67.9,408.9 L67.4,410.7 L66.9,408.5 L66.4,410.3 L65.9,410.8 L65.4,411.4 L64.9,411.6 L64.4,410.7 L63.9,408.6 L63.4,410.3 L62.9,407.9 L62.4,411.1 L61.9,410.7 L61.4,410 L60.9,408 L60.4,408.1 L59.9,409.2 L59.4,411.4 L58.9,410.8 L58.4,411.5 L57.9,411.1 L57.4,409.7 L56.9,413 L56.4,408.7 L55.9,411.5 L55.4,411.4 L54.9,411.2 L54.4,411 L53.9,408.3 L53.4,411.6 L52.9,411.3 L52.4,410.8 L51.9,413.4 L51.4,408.5 L50.9,410 L50.4,411 L49.9,411 L49.4,411.3 L48.9,411.5 L48.4,410.8 L47.9,411.4 L47.4,410.2 L46.9,411.5 L46.4,411.2 L45.9,411.1 L45.4,411.1 L44.9,408.5 L44.4,409.3 L43.9,410.3 L43.4,410.9 L42.9,410.5 L42.4,410.8 L41.9,411.3 L41.4,410.4 L40.9,411.2Z" fill="url(#ge)"/><path d="M81.5 388.7V410.1M82.3 386.2V413.4M83.2 388.3V410.2M86.2 378V418M86.7 379.3V415.2M87.6 386.5V411.3M88.1 384.9V412.3M88.6 378.5V416.6M89.6 385.9V415.8M90 377.8V414.9M90.6 387.4V417M91.4 387.6V415.5M92.3 382.2V420.1M92.9 385.7V417.5M93.9 381.2V415.9M94.8 383.6V411M121.1 391.2V407.8M122 391.7V412.9M122.5 387.7V408.9M123.4 387.5V410.6M124.1 389.1V412M125 390.1V411.6M125.6 384.8V408.5M126.5 385.7V408.9M181.4 393.8V408.8M182 387.8V408.7M182.8 392.8V406.4" stroke="#78aed9" stroke-width="0.75" fill="none"/><line x1="82.6" y1="369" x2="82.6" y2="431" stroke="#78aed9" stroke-width="1.3"/><line x1="90" y1="376" x2="90" y2="424" stroke="#78aed9" stroke-width="1.3"/><line x1="124" y1="356" x2="124" y2="444" stroke="#78aed9" stroke-width="1.3"/><line x1="174" y1="385.6" x2="174" y2="415" stroke="#78aed9" stroke-width="1.3"/><path d="M40.9,392.5 L41.4,391.7 L41.9,391.5 L42.4,390.6 L42.9,392.1 L43.4,390.9 L43.9,392.2 L44.4,391.1 L44.9,393 L45.4,392.9 L45.9,392.9 L46.4,390.8 L46.9,391.5 L47.4,390.5 L47.9,391.5 L48.4,391.1 L48.9,391.6 L49.4,391.6 L49.9,392.9 L50.4,392.4 L50.9,393 L51.4,391 L51.9,392.3 L52.4,392.8 L52.9,392.3 L53.4,392.6 L53.9,390.8 L54.4,391.8 L54.9,391.6 L55.4,391.8 L55.9,390.4 L56.4,390.5 L56.9,390.6 L57.4,392.5 L57.9,391.5 L58.4,392.8 L58.9,390.5 L59.4,391.9 L59.9,391.4 L60.4,391.7 L60.9,392.8 L61.4,392 L61.9,391.8 L62.4,391.7 L62.9,390.9 L63.4,390.6 L63.9,390.8 L64.4,393.1 L64.9,391.5 L65.4,391.8 L65.9,392.6 L66.4,392.2 L66.9,392.1 L67.4,392.3 L67.9,392.7 L68.4,391.9 L68.9,392.5 L69.4,393 L69.9,392.4 L70.4,391.7 L70.9,391.4 L71.4,391.5 L71.9,392.1 L72.4,392.1 L72.9,392 L73.4,392 L73.9,391.7 L74.4,391.4 L74.9,392.6 L75.4,393.1 L75.9,390.6 L76.4,391.7 L76.9,390.6 L77.4,390.9 L77.9,392 L78.4,392.1 L78.9,391 L79.4,392.5 L79.9,391.6 L80.4,391.7 L80.9,391.2 L81.4,391.1 L81.9,390.4 L82.4,392.3 L82.9,391.1 L83.4,390.2 L83.9,392 L84.4,391.2 L84.9,392.8 L85.4,390.9 L85.9,392.3 L86.4,390.1 L86.9,390.1 L87.4,391.9 L87.9,389.9 L88.4,389.8 L88.9,389.4 L89.4,390.1 L89.9,391.8 L90.4,391.8 L90.9,391.1 L91.4,390.8 L91.9,390.1 L92.4,391 L92.9,390 L93.4,392 L93.9,391.6 L94.4,392.1 L94.9,391 L95.4,391.4 L95.9,390 L96.4,392.1 L96.9,391 L97.4,393 L97.9,390.6 L98.4,392.9 L98.9,390.4 L99.4,391.7 L99.9,391.5 L100.4,391.9 L100.9,391.7 L101.4,392.7 L101.9,391.6 L102.4,390.7 L102.9,392.1 L103.4,390.7 L103.9,391.6 L104.4,391.7 L104.9,391.5 L105.4,390.8 L105.9,390.6 L106.4,391.5 L106.9,391.2 L107.4,392.5 L107.9,390.8 L108.4,390.5 L108.9,391.8 L109.4,392.9 L109.9,390.9 L110.4,391.3 L110.9,391.4 L111.4,391.1 L111.9,391.9 L112.4,392.5 L112.9,391.8 L113.4,390.7 L113.9,392.5 L114.4,393.1 L114.9,392.8 L115.4,392.3 L115.9,391.2 L116.4,391.1 L116.9,391.9 L117.4,392.2 L117.9,391.6 L118.4,391.6 L118.9,392.3 L119.4,391.9 L119.9,392.3 L120.4,392 L120.9,390.7 L121.4,391.4 L121.9,392.6 L122.4,391.6 L122.9,390.1 L123.4,392.2 L123.9,392.3 L124.4,391.2 L124.9,390.3 L125.4,392.3 L125.9,390.3 L126.4,390.6 L126.9,390.9 L127.4,391 L127.9,393 L128.4,392 L128.9,392.1 L129.4,392 L129.9,391.4 L130.4,392.7 L130.9,392.2 L131.4,390.4 L131.9,392.8 L132.4,391.9 L132.9,392.7 L133.4,392.8 L133.9,390.8 L134.4,391.6 L134.9,392.6 L135.4,391.6 L135.9,392.3 L136.4,391.9 L136.9,392.2 L137.4,391.3 L137.9,392.5 L138.4,391.4 L138.9,392.6 L139.4,391.8 L139.9,392.6 L140.4,391.2 L140.9,390.5 L141.4,392.7 L141.9,392.7 L142.4,391.6 L142.9,390.9 L143.4,392.2 L143.9,392.1 L144.4,391.9 L144.9,391.4 L145.4,391.6 L145.9,392.1 L146.4,391.5 L146.9,392.8 L147.4,392.9 L147.9,391.6 L148.4,392 L148.9,391.2 L149.4,392.7 L149.9,391.2 L150.4,392.4 L150.9,390.8 L151.4,392.2 L151.9,391.9 L152.4,390.8 L152.9,392.3 L153.4,392.1 L153.9,390.9 L154.4,390.4 L154.9,391.5 L155.4,391.4 L155.9,393.1 L156.4,391.9 L156.9,392.2 L157.4,391.7 L157.9,392.1 L158.4,392.1 L158.9,393 L159.4,392.9 L159.9,390.9 L160.4,392.3 L160.9,391.8 L161.4,391.4 L161.9,390.8 L162.4,392 L162.9,391.4 L163.4,391.2 L163.9,391.2 L164.4,391.1 L164.9,390.8 L165.4,392 L165.9,390.7 L166.4,392.9 L166.9,390.9 L167.4,391.9 L167.9,392.4 L168.4,391.9 L168.9,392.5 L169.4,391.1 L169.9,391.1 L170.4,391 L170.9,391 L171.4,392.9 L171.9,391.7 L172.4,391.7 L172.9,391.2 L173.4,391.7 L173.9,391.3 L174.4,392.2 L174.9,391.3 L175.4,392.9 L175.9,391.9 L176.4,390.8 L176.9,391.4 L177.4,391.3 L177.9,390.7 L178.4,390.7 L178.9,390.9 L179.4,391.6 L179.9,392.4 L180.4,391.7 L180.9,392.4 L181.4,392.4 L181.9,391.3 L182.4,391.8 L182.9,392.7 L183.4,390.4 L183.9,391.6 L184.4,391.9 L184.9,392.4 L185.4,391.4 L185.9,391.3 L186.4,391.7 L186.9,392.1 L187.4,391.6 L187.9,392.1 L188.4,390.9 L188.9,392.8 L189.4,390.5 L189.9,392.4 L190.4,392.9 L190.9,391.7 L191.4,391.1 L191.9,391.8 L192.4,391 L192.9,391.1 L193.4,390.7 L193.9,391.8 L194.4,392.2 L194.9,391.3 L195.4,391.4 L195.9,391 L196.4,391.7 L196.9,392.2 L197.4,392.6 L197.9,391.5 L198.4,391.3 L198.9,392.9 L199.4,392.8 L199.9,392.1 L200.4,390.8 L200.9,392.5 L201.4,392.7 L201.9,392.3 L202.4,391.7 L202.9,392.6 L203.4,392.3 L203.9,392.4 L204.4,391.5 L204.9,391.6 L205.4,392.2 L205.9,393 L206.4,392.7 L206.9,392.2 L207.4,391.9 L207.9,390.6 L208.4,391.7 L208.9,391.6 L209.4,393.1 L209.9,393.1 L210.4,391 L210.9,392.2 L211.4,391.8 L211.9,390.7 L212.4,390.9 L212.9,391.9 L213.4,391.4 L213.9,392.2 L214.4,393 L214.9,392.1 L215.4,393.1 L215.9,391.1 L216.4,392 L216.9,392.7 L217.4,393 L217.9,392.3 L218.4,391.6 L218.9,390.4 L219.4,391.1 L219.9,392.9 L220.4,390.9 L220.9,391.9 L221.4,390.8 L221.9,392.1 L222.4,392.9 L222.9,391.4 L223.4,391.9 L223.9,391.8 L224.4,390.8 L224.9,392.8 L225.4,391.6 L225.9,391.8 L226.4,390.8 L226.9,392.5 L227.4,392.5 L227.9,391.8 L228.4,392.3 L228.9,391.3 L229.4,391.4 L229.9,390.9 L230.4,391.5 L230.9,392.1 L231.4,390.8 L231.9,393 L232.4,391.6 L232.9,391.3 L233.4,390.8 L233.9,391.2 L234.4,391.2 L234.9,391.5 L235.4,390.5 L235.9,392.9 L236.4,391.5 L236.9,393.1 L237.4,391.4 L237.9,391.7 L238.4,392.4 L238.9,392.3 L239.4,391.2 L239.9,390.8 L240.4,392.4 L240.9,390.9 L241.4,393.2 L241.9,391.3 L242.4,392.8 L242.9,391.3 L243.4,391.8 L243.9,390.8 L244.4,391.5 L244.9,390.8 L245.4,391.6 L245.9,391.6 L246.4,391.9 L246.9,392.2 L247.4,392.6 L247.9,392.4 L248.4,391.7 L248.9,390.4 L249.4,391 L249.9,391.7 L250.4,392.8 L250.9,390.5 L251.4,392.9 L251.9,391 L252.4,390.8 L252.4,408 L251.9,409.6 L251.4,408.4 L250.9,409.6 L250.4,409.1 L249.9,407.3 L249.4,409.3 L248.9,409.1 L248.4,408.4 L247.9,409.2 L247.4,408.7 L246.9,409.9 L246.4,409.1 L245.9,408.7 L245.4,408.9 L244.9,408 L244.4,409.6 L243.9,408.5 L243.4,407.7 L242.9,408 L242.4,407.3 L241.9,407.5 L241.4,407.4 L240.9,408.2 L240.4,409.8 L239.9,408.1 L239.4,407.4 L238.9,408.6 L238.4,407.7 L237.9,408.5 L237.4,408.9 L236.9,409.4 L236.4,409.4 L235.9,407.3 L235.4,409.6 L234.9,407.9 L234.4,407.8 L233.9,407.8 L233.4,409.6 L232.9,408.1 L232.4,408.8 L231.9,408.8 L231.4,409.3 L230.9,408.7 L230.4,410 L229.9,407.9 L229.4,408.5 L228.9,409 L228.4,408.4 L227.9,409.9 L227.4,409.8 L226.9,408.7 L226.4,409.2 L225.9,407.8 L225.4,408.4 L224.9,408.8 L224.4,408.5 L223.9,407.9 L223.4,408.8 L222.9,409.6 L222.4,407.8 L221.9,408.4 L221.4,409.8 L220.9,407.7 L220.4,409.6 L219.9,408.8 L219.4,407.5 L218.9,408 L218.4,408.8 L217.9,407.6 L217.4,408 L216.9,407.3 L216.4,408 L215.9,408.8 L215.4,407.7 L214.9,409.2 L214.4,408.8 L213.9,409.5 L213.4,409.7 L212.9,408.7 L212.4,409.7 L211.9,408.6 L211.4,407.4 L210.9,409.1 L210.4,408.6 L209.9,408.6 L209.4,409.9 L208.9,409.5 L208.4,408.1 L207.9,408.2 L207.4,407.9 L206.9,408.6 L206.4,408.6 L205.9,408.9 L205.4,408.3 L204.9,407.8 L204.4,409.8 L203.9,408.8 L203.4,409.7 L202.9,407.6 L202.4,408 L201.9,408.3 L201.4,408.1 L200.9,408 L200.4,407.4 L199.9,409.9 L199.4,407.3 L198.9,408 L198.4,408.1 L197.9,408.7 L197.4,408.3 L196.9,407.4 L196.4,409.4 L195.9,407.8 L195.4,407.7 L194.9,408.8 L194.4,408.5 L193.9,410 L193.4,408 L192.9,409.5 L192.4,407.9 L191.9,409 L191.4,408.7 L190.9,407.8 L190.4,407.4 L189.9,408.9 L189.4,408.8 L188.9,409.3 L188.4,409.7 L187.9,408.1 L187.4,408.1 L186.9,408.9 L186.4,409.2 L185.9,408.4 L185.4,407.8 L184.9,407.8 L184.4,409 L183.9,407.8 L183.4,408.8 L182.9,408.6 L182.4,410 L181.9,408.1 L181.4,407.5 L180.9,408.5 L180.4,408.4 L179.9,408 L179.4,408 L178.9,408.4 L178.4,407.6 L177.9,408.6 L177.4,408.2 L176.9,408.2 L176.4,408.5 L175.9,409.5 L175.4,409.9 L174.9,408.3 L174.4,407.5 L173.9,407.8 L173.4,409.6 L172.9,407.9 L172.4,408.3 L171.9,409.7 L171.4,408.3 L170.9,409.2 L170.4,408.7 L169.9,409.9 L169.4,407.4 L168.9,408 L168.4,408.7 L167.9,409.9 L167.4,409.8 L166.9,409 L166.4,407.7 L165.9,408.9 L165.4,409.1 L164.9,408.3 L164.4,409.6 L163.9,407.3 L163.4,408.8 L162.9,407.7 L162.4,409.9 L161.9,408.2 L161.4,408.3 L160.9,407.2 L160.4,408.6 L159.9,407.6 L159.4,408 L158.9,408.7 L158.4,408.3 L157.9,410 L157.4,408.6 L156.9,408 L156.4,408.7 L155.9,407.9 L155.4,409.4 L154.9,407.5 L154.4,408.9 L153.9,409.3 L153.4,407.4 L152.9,409.2 L152.4,408.7 L151.9,407.3 L151.4,409.1 L150.9,409.2 L150.4,409.6 L149.9,408.1 L149.4,408.7 L148.9,408 L148.4,407.3 L147.9,409.6 L147.4,407.9 L146.9,407.3 L146.4,408.6 L145.9,407.3 L145.4,408.1 L144.9,408 L144.4,407.7 L143.9,408.8 L143.4,409.5 L142.9,409.8 L142.4,408.5 L141.9,408.3 L141.4,409 L140.9,408.7 L140.4,409.1 L139.9,408.2 L139.4,409.7 L138.9,409.2 L138.4,408.9 L137.9,409 L137.4,409.2 L136.9,409.5 L136.4,409.8 L135.9,409.4 L135.4,408.4 L134.9,407.5 L134.4,409.9 L133.9,408.3 L133.4,409.3 L132.9,408.2 L132.4,407.8 L131.9,409.8 L131.4,408.2 L130.9,409.6 L130.4,407.8 L129.9,408.3 L129.4,409.2 L128.9,409.5 L128.4,408.5 L127.9,407.5 L127.4,409.2 L126.9,409.2 L126.4,407.8 L125.9,409.4 L125.4,409.3 L124.9,409.7 L124.4,408 L123.9,410.2 L123.4,407.9 L122.9,408.1 L122.4,408.1 L121.9,408.8 L121.4,409.6 L120.9,410.3 L120.4,409.4 L119.9,409.1 L119.4,408.5 L118.9,409 L118.4,407.6 L117.9,408.5 L117.4,408.7 L116.9,407.9 L116.4,408.1 L115.9,408.5 L115.4,409.2 L114.9,409.6 L114.4,408.8 L113.9,408.6 L113.4,408.5 L112.9,409.8 L112.4,407.5 L111.9,407.9 L111.4,408.8 L110.9,408.5 L110.4,407.3 L109.9,407.8 L109.4,407.5 L108.9,408.5 L108.4,409.6 L107.9,408.9 L107.4,407.4 L106.9,407.3 L106.4,408.1 L105.9,408.6 L105.4,408.1 L104.9,409 L104.4,409.3 L103.9,408.7 L103.4,407.5 L102.9,408 L102.4,409.4 L101.9,408.6 L101.4,409.9 L100.9,408.3 L100.4,409.1 L99.9,407.7 L99.4,408.5 L98.9,408.4 L98.4,409.8 L97.9,409.3 L97.4,408.7 L96.9,409 L96.4,408.6 L95.9,407.8 L95.4,410.5 L94.9,409.9 L94.4,409.1 L93.9,409.9 L93.4,410.7 L92.9,409.6 L92.4,409.5 L91.9,410.1 L91.4,410.4 L90.9,409.8 L90.4,410.2 L89.9,411.3 L89.4,409.5 L88.9,409.5 L88.4,409.2 L87.9,410.4 L87.4,410.3 L86.9,409.1 L86.4,409.9 L85.9,408.9 L85.4,409.8 L84.9,409.2 L84.4,409.2 L83.9,409.3 L83.4,408.2 L82.9,408.2 L82.4,408.8 L81.9,408.2 L81.4,408 L80.9,409.3 L80.4,409.4 L79.9,407.5 L79.4,407.3 L78.9,408.7 L78.4,409 L77.9,408.5 L77.4,407.7 L76.9,409.9 L76.4,409.6 L75.9,407.6 L75.4,409.4 L74.9,409.5 L74.4,409.6 L73.9,407.9 L73.4,409 L72.9,408 L72.4,408.9 L71.9,408 L71.4,407.4 L70.9,409.1 L70.4,407.6 L69.9,407.6 L69.4,409.7 L68.9,410 L68.4,408.5 L67.9,407.6 L67.4,407.7 L66.9,408.5 L66.4,408.1 L65.9,407.9 L65.4,408.6 L64.9,408.5 L64.4,408.1 L63.9,407.8 L63.4,408.2 L62.9,407.9 L62.4,408.2 L61.9,408.3 L61.4,408.6 L60.9,408 L60.4,407.3 L59.9,407.6 L59.4,409.5 L58.9,408.1 L58.4,409.9 L57.9,409.1 L57.4,408.8 L56.9,409.5 L56.4,408.7 L55.9,407.6 L55.4,407.3 L54.9,407.4 L54.4,409.3 L53.9,408.3 L53.4,408.3 L52.9,409.9 L52.4,408.3 L51.9,408 L51.4,408.5 L50.9,408.1 L50.4,408.3 L49.9,409 L49.4,408.2 L48.9,407.5 L48.4,408.5 L47.9,409.1 L47.4,408.7 L46.9,408 L46.4,408.3 L45.9,408.9 L45.4,408.5 L44.9,408.5 L44.4,408 L43.9,409.9 L43.4,408.4 L42.9,408.2 L42.4,407.6 L41.9,408.7 L41.4,409.2 L40.9,408.9Z" fill="url(#ge)"/><path d="M40.9,393.8 L41.4,394.2 L41.9,393.9 L42.4,393.7 L42.9,394.1 L43.4,394.9 L43.9,394.7 L44.4,394.9 L44.9,394.1 L45.4,393.8 L45.9,394.3 L46.4,394.7 L46.9,395.2 L47.4,394.8 L47.9,394.3 L48.4,394.2 L48.9,394.3 L49.4,394.8 L49.9,394.7 L50.4,395.1 L50.9,394 L51.4,395 L51.9,394.6 L52.4,394.8 L52.9,395 L53.4,394.3 L53.9,394.5 L54.4,395.2 L54.9,394.5 L55.4,394.5 L55.9,394.2 L56.4,394.8 L56.9,394.1 L57.4,395.2 L57.9,394 L58.4,394.7 L58.9,394.4 L59.4,395.1 L59.9,394.5 L60.4,394.3 L60.9,395 L61.4,394.6 L61.9,394.5 L62.4,394.7 L62.9,394.6 L63.4,394.1 L63.9,394 L64.4,393.8 L64.9,393.7 L65.4,394.9 L65.9,394 L66.4,394.7 L66.9,394.3 L67.4,394.2 L67.9,393.7 L68.4,393.9 L68.9,394.3 L69.4,394 L69.9,394.5 L70.4,394.7 L70.9,394.4 L71.4,394.7 L71.9,393.8 L72.4,394.5 L72.9,394.8 L73.4,395.1 L73.9,393.8 L74.4,394.6 L74.9,394.2 L75.4,394.1 L75.9,394.8 L76.4,393.8 L76.9,394.7 L77.4,395.1 L77.9,393.9 L78.4,394 L78.9,393.9 L79.4,394.9 L79.9,394.4 L80.4,394 L80.9,394.3 L81.4,394.7 L81.9,393.6 L82.4,393.5 L82.9,393.6 L83.4,394.9 L83.9,394.2 L84.4,394.1 L84.9,394.2 L85.4,394.5 L85.9,394.1 L86.4,394.2 L86.9,394.2 L87.4,393.3 L87.9,394.4 L88.4,394.3 L88.9,394.1 L89.4,393.7 L89.9,393.8 L90.4,393.7 L90.9,394.2 L91.4,394 L91.9,394 L92.4,394.2 L92.9,393.5 L93.4,393 L93.9,393.4 L94.4,394.4 L94.9,394.2 L95.4,393.8 L95.9,394.1 L96.4,394.2 L96.9,395.1 L97.4,394.6 L97.9,394.5 L98.4,394.7 L98.9,394.6 L99.4,395.1 L99.9,394.5 L100.4,394.9 L100.9,394.7 L101.4,394.7 L101.9,394.4 L102.4,393.9 L102.9,394.7 L103.4,394.3 L103.9,394.4 L104.4,393.7 L104.9,394.9 L105.4,394.9 L105.9,393.9 L106.4,393.9 L106.9,394.9 L107.4,393.9 L107.9,394.3 L108.4,394.6 L108.9,394.8 L109.4,394.7 L109.9,393.8 L110.4,394.4 L110.9,393.9 L111.4,395.2 L111.9,394.2 L112.4,395.1 L112.9,394.2 L113.4,393.9 L113.9,394 L114.4,395 L114.9,394.1 L115.4,394.6 L115.9,394.1 L116.4,394.5 L116.9,394.4 L117.4,394.4 L117.9,393.9 L118.4,394.7 L118.9,393.8 L119.4,394.1 L119.9,394.9 L120.4,394.5 L120.9,394.5 L121.4,394.7 L121.9,394.3 L122.4,394.2 L122.9,393.7 L123.4,393.4 L123.9,393.6 L124.4,394.4 L124.9,393.7 L125.4,394 L125.9,394.5 L126.4,393.6 L126.9,394 L127.4,393.9 L127.9,394.6 L128.4,394.9 L128.9,393.7 L129.4,394.3 L129.9,394.5 L130.4,394.9 L130.9,394.2 L131.4,395.2 L131.9,393.7 L132.4,393.9 L132.9,394.6 L133.4,394.2 L133.9,394 L134.4,394 L134.9,393.8 L135.4,395.1 L135.9,394.9 L136.4,394.1 L136.9,393.9 L137.4,394.9 L137.9,394.9 L138.4,394.6 L138.9,393.8 L139.4,395.1 L139.9,394.7 L140.4,394.3 L140.9,395.1 L141.4,393.8 L141.9,395 L142.4,394.3 L142.9,393.8 L143.4,394.3 L143.9,393.9 L144.4,394.5 L144.9,394.4 L145.4,394.9 L145.9,394 L146.4,394.1 L146.9,395 L147.4,394.4 L147.9,394.9 L148.4,394.3 L148.9,394.1 L149.4,394.6 L149.9,393.7 L150.4,393.8 L150.9,394.3 L151.4,394.4 L151.9,395 L152.4,395 L152.9,394.6 L153.4,395.1 L153.9,394.8 L154.4,394 L154.9,395.1 L155.4,394 L155.9,394.2 L156.4,394 L156.9,394 L157.4,393.8 L157.9,394.5 L158.4,394.6 L158.9,394.7 L159.4,394.2 L159.9,394.1 L160.4,395.2 L160.9,395.1 L161.4,393.8 L161.9,393.7 L162.4,394.5 L162.9,394.8 L163.4,394.5 L163.9,394.4 L164.4,394.9 L164.9,394.9 L165.4,394.7 L165.9,395.1 L166.4,394.2 L166.9,394.5 L167.4,393.8 L167.9,394.8 L168.4,394.4 L168.9,394 L169.4,395.2 L169.9,394.9 L170.4,393.8 L170.9,394.9 L171.4,394.5 L171.9,395 L172.4,393.8 L172.9,394.6 L173.4,394.8 L173.9,394.5 L174.4,394 L174.9,394.7 L175.4,394.2 L175.9,394.8 L176.4,393.8 L176.9,393.8 L177.4,394.4 L177.9,394.6 L178.4,394.9 L178.9,395.2 L179.4,394.5 L179.9,393.8 L180.4,394.4 L180.9,394.7 L181.4,393.9 L181.9,393.9 L182.4,395 L182.9,394.8 L183.4,394.6 L183.9,393.9 L184.4,394.9 L184.9,394.1 L185.4,394.8 L185.9,394.8 L186.4,395 L186.9,394.1 L187.4,394.4 L187.9,394.9 L188.4,395.1 L188.9,395 L189.4,394.2 L189.9,394.8 L190.4,395.1 L190.9,395.2 L191.4,394.7 L191.9,393.8 L192.4,394.5 L192.9,394.6 L193.4,394.5 L193.9,394.6 L194.4,395 L194.9,394.1 L195.4,394.5 L195.9,394.1 L196.4,394.1 L196.9,394.1 L197.4,394.7 L197.9,394.2 L198.4,395.1 L198.9,395 L199.4,393.7 L199.9,394.1 L200.4,393.9 L200.9,394.4 L201.4,395.2 L201.9,394 L202.4,394.6 L202.9,394 L203.4,394.5 L203.9,393.8 L204.4,394.4 L204.9,395.1 L205.4,393.8 L205.9,394 L206.4,394.1 L206.9,395 L207.4,393.8 L207.9,393.9 L208.4,393.8 L208.9,394.3 L209.4,393.9 L209.9,393.9 L210.4,394.6 L210.9,393.7 L211.4,393.7 L211.9,394.1 L212.4,394.4 L212.9,394.4 L213.4,394.1 L213.9,394.1 L214.4,393.8 L214.9,393.8 L215.4,394.8 L215.9,394.6 L216.4,394 L216.9,395 L217.4,394.2 L217.9,393.8 L218.4,393.8 L218.9,394.3 L219.4,394.7 L219.9,395 L220.4,393.9 L220.9,395 L221.4,394.3 L221.9,393.8 L222.4,394.5 L222.9,394.4 L223.4,394.1 L223.9,395.1 L224.4,394.4 L224.9,395.1 L225.4,395 L225.9,395.2 L226.4,394.5 L226.9,394.7 L227.4,395.2 L227.9,394.9 L228.4,395.1 L228.9,394.2 L229.4,394.7 L229.9,394.1 L230.4,394.3 L230.9,394.4 L231.4,394.4 L231.9,394.9 L232.4,394.4 L232.9,394.1 L233.4,393.8 L233.9,394.3 L234.4,394.5 L234.9,394.4 L235.4,395 L235.9,394.4 L236.4,394.2 L236.9,393.9 L237.4,393.9 L237.9,395.2 L238.4,395 L238.9,394.4 L239.4,394.2 L239.9,394 L240.4,395.1 L240.9,394 L241.4,394.4 L241.9,394.3 L242.4,394.9 L242.9,394.2 L243.4,393.9 L243.9,395.1 L244.4,393.7 L244.9,394.1 L245.4,394.6 L245.9,394.9 L246.4,395.2 L246.9,393.8 L247.4,393.8 L247.9,395 L248.4,394.5 L248.9,394.4 L249.4,394.1 L249.9,394.6 L250.4,394.1 L250.9,393.9 L251.4,394 L251.9,394.2 L252.4,394.9 L252.4,406.5 L251.9,406.3 L251.4,406 L250.9,406.5 L250.4,405.6 L249.9,405.4 L249.4,406.2 L248.9,405.4 L248.4,405.4 L247.9,405.4 L247.4,405.8 L246.9,405.6 L246.4,405.8 L245.9,406.1 L245.4,405.4 L244.9,405.2 L244.4,405.2 L243.9,406.3 L243.4,406 L242.9,406.4 L242.4,406.1 L241.9,405.3 L241.4,406.5 L240.9,405.4 L240.4,406.1 L239.9,406.6 L239.4,405.3 L238.9,406.5 L238.4,406.1 L237.9,406.4 L237.4,406.6 L236.9,406.6 L236.4,405.2 L235.9,405.3 L235.4,405.6 L234.9,406.1 L234.4,406.4 L233.9,406 L233.4,405.4 L232.9,405.3 L232.4,406.1 L231.9,406.5 L231.4,405.6 L230.9,405.2 L230.4,405.3 L229.9,405.4 L229.4,406.3 L228.9,405.8 L228.4,405.7 L227.9,405.9 L227.4,405.5 L226.9,406.5 L226.4,405.8 L225.9,405.7 L225.4,405.9 L224.9,406.2 L224.4,406.6 L223.9,405.5 L223.4,406 L222.9,405.6 L222.4,405.5 L221.9,406.4 L221.4,406.6 L220.9,406 L220.4,405.7 L219.9,406.6 L219.4,406.7 L218.9,405.9 L218.4,406 L217.9,405.9 L217.4,405.5 L216.9,406.2 L216.4,406 L215.9,405.6 L215.4,406 L214.9,405.5 L214.4,406.5 L213.9,405.6 L213.4,405.3 L212.9,405.4 L212.4,405.8 L211.9,405.4 L211.4,405.3 L210.9,406.5 L210.4,405.8 L209.9,406.3 L209.4,405.5 L208.9,405.6 L208.4,406.6 L207.9,406 L207.4,406 L206.9,405.7 L206.4,405.6 L205.9,405.3 L205.4,405.9 L204.9,405.8 L204.4,406.4 L203.9,405.3 L203.4,406.1 L202.9,405.8 L202.4,406.3 L201.9,406 L201.4,405.4 L200.9,405.7 L200.4,405.3 L199.9,405.5 L199.4,406.5 L198.9,405.9 L198.4,406.5 L197.9,406.4 L197.4,405.3 L196.9,405.6 L196.4,405.7 L195.9,405.8 L195.4,405.9 L194.9,406.2 L194.4,405.9 L193.9,406.1 L193.4,406.2 L192.9,405.5 L192.4,405.4 L191.9,405.3 L191.4,406.4 L190.9,405.7 L190.4,405.7 L189.9,405.3 L189.4,406.7 L188.9,405.5 L188.4,405.3 L187.9,405.9 L187.4,406.3 L186.9,405.9 L186.4,405.4 L185.9,406.5 L185.4,406.6 L184.9,406.2 L184.4,405.5 L183.9,406.6 L183.4,406 L182.9,405.9 L182.4,406.6 L181.9,405.9 L181.4,406.1 L180.9,406.1 L180.4,405.7 L179.9,406.7 L179.4,406 L178.9,406.5 L178.4,406 L177.9,406.3 L177.4,406.6 L176.9,406 L176.4,406.5 L175.9,405.4 L175.4,405.7 L174.9,405.7 L174.4,405.9 L173.9,406.3 L173.4,406 L172.9,405.5 L172.4,405.5 L171.9,406.5 L171.4,405.6 L170.9,405.3 L170.4,406.2 L169.9,405.4 L169.4,405.8 L168.9,405.2 L168.4,405.8 L167.9,405.3 L167.4,405.9 L166.9,406.1 L166.4,406.1 L165.9,405.4 L165.4,405.5 L164.9,405.9 L164.4,405.8 L163.9,406.1 L163.4,406.6 L162.9,405.7 L162.4,405.3 L161.9,405.4 L161.4,406.3 L160.9,406 L160.4,405.4 L159.9,405.4 L159.4,405.5 L158.9,405.8 L158.4,405.3 L157.9,406.7 L157.4,405.9 L156.9,405.4 L156.4,405.8 L155.9,406.1 L155.4,406 L154.9,405.4 L154.4,405.3 L153.9,405.9 L153.4,405.3 L152.9,405.7 L152.4,405.9 L151.9,406.5 L151.4,406.6 L150.9,406.6 L150.4,405.6 L149.9,406.5 L149.4,405.7 L148.9,406.5 L148.4,405.9 L147.9,406.6 L147.4,405.2 L146.9,406.4 L146.4,405.5 L145.9,405.9 L145.4,406.4 L144.9,406.3 L144.4,405.5 L143.9,405.4 L143.4,406.5 L142.9,405.8 L142.4,406.3 L141.9,405.3 L141.4,405.4 L140.9,406.1 L140.4,405.7 L139.9,405.2 L139.4,405.5 L138.9,406.5 L138.4,405.7 L137.9,405.7 L137.4,405.6 L136.9,406.2 L136.4,406.5 L135.9,405.4 L135.4,405.8 L134.9,406.4 L134.4,406.2 L133.9,405.6 L133.4,406.6 L132.9,405.2 L132.4,406.3 L131.9,405.7 L131.4,405.5 L130.9,406.7 L130.4,406 L129.9,405.4 L129.4,406 L128.9,405.8 L128.4,405.8 L127.9,406.3 L127.4,405.4 L126.9,405.4 L126.4,406 L125.9,406.9 L125.4,406.8 L124.9,406.4 L124.4,405.9 L123.9,405.9 L123.4,406.5 L122.9,406 L122.4,406.1 L121.9,406.3 L121.4,406 L120.9,406.7 L120.4,405.5 L119.9,405.8 L119.4,406.6 L118.9,405.8 L118.4,406.6 L117.9,405.2 L117.4,405.5 L116.9,406 L116.4,406.4 L115.9,405.6 L115.4,405.5 L114.9,406.6 L114.4,405.8 L113.9,405.6 L113.4,405.4 L112.9,406.4 L112.4,406.5 L111.9,406.3 L111.4,406.2 L110.9,405.7 L110.4,406.4 L109.9,406.2 L109.4,406.1 L108.9,405.9 L108.4,406 L107.9,405.7 L107.4,406.1 L106.9,405.3 L106.4,406.1 L105.9,405.9 L105.4,406.3 L104.9,405.3 L104.4,406.1 L103.9,406.7 L103.4,405.8 L102.9,406.3 L102.4,406.4 L101.9,405.8 L101.4,406.3 L100.9,405.6 L100.4,405.5 L99.9,406.6 L99.4,406.7 L98.9,406.6 L98.4,405.6 L97.9,406.5 L97.4,406.2 L96.9,406.3 L96.4,406.5 L95.9,406.1 L95.4,406.1 L94.9,407.1 L94.4,406.9 L93.9,405.9 L93.4,406.8 L92.9,406.5 L92.4,405.9 L91.9,407.3 L91.4,407.2 L90.9,407.5 L90.4,406.4 L89.9,406.4 L89.4,406.9 L88.9,406.1 L88.4,407.4 L87.9,407.2 L87.4,406.9 L86.9,407.2 L86.4,407 L85.9,406.7 L85.4,406.3 L84.9,406.3 L84.4,406.5 L83.9,406.8 L83.4,406.8 L82.9,405.5 L82.4,406.3 L81.9,406 L81.4,406.3 L80.9,405.3 L80.4,406 L79.9,406.6 L79.4,406.5 L78.9,406.2 L78.4,406.3 L77.9,405.9 L77.4,406.6 L76.9,406.5 L76.4,405.7 L75.9,406.2 L75.4,406.2 L74.9,405.6 L74.4,405.3 L73.9,406.6 L73.4,405.8 L72.9,405.7 L72.4,405.7 L71.9,406.5 L71.4,406.4 L70.9,406.2 L70.4,405.2 L69.9,405.9 L69.4,405.7 L68.9,406.5 L68.4,406.2 L67.9,406.6 L67.4,406.1 L66.9,406.2 L66.4,406.1 L65.9,406 L65.4,406.5 L64.9,406 L64.4,406.6 L63.9,406.4 L63.4,405.5 L62.9,406 L62.4,405.5 L61.9,406.2 L61.4,405.8 L60.9,406.2 L60.4,406.7 L59.9,406.7 L59.4,406.6 L58.9,405.3 L58.4,406.5 L57.9,406.5 L57.4,405.5 L56.9,406.6 L56.4,405.9 L55.9,405.9 L55.4,406.5 L54.9,406.5 L54.4,405.3 L53.9,406.4 L53.4,406.1 L52.9,405.9 L52.4,405.8 L51.9,406.4 L51.4,405.7 L50.9,405.3 L50.4,405.6 L49.9,405.8 L49.4,405.3 L48.9,405.9 L48.4,406.3 L47.9,405.5 L47.4,405.9 L46.9,406.7 L46.4,405.9 L45.9,405.5 L45.4,406 L44.9,405.7 L44.4,405.9 L43.9,405.5 L43.4,405.3 L42.9,406.5 L42.4,406.3 L41.9,405.7 L41.4,406 L40.9,406.6Z" fill="#5d9dcf"/><path d="M40.9,397 L41.4,397.2 L41.9,397.1 L42.4,397.5 L42.9,397.2 L43.4,397.5 L43.9,397.5 L44.4,397.5 L44.9,397.5 L45.4,397 L45.9,397.1 L46.4,397.1 L46.9,397.2 L47.4,397.3 L47.9,397.2 L48.4,397.3 L48.9,397.1 L49.4,397.2 L49.9,397.1 L50.4,397.3 L50.9,397 L51.4,397.1 L51.9,397 L52.4,397 L52.9,397.4 L53.4,397.2 L53.9,397.5 L54.4,397.4 L54.9,397.2 L55.4,397.1 L55.9,397.4 L56.4,397.2 L56.9,397 L57.4,397.4 L57.9,397.5 L58.4,397.2 L58.9,397.1 L59.4,397 L59.9,397.1 L60.4,397.5 L60.9,397 L61.4,397.2 L61.9,397.5 L62.4,397.4 L62.9,397.2 L63.4,397 L63.9,397.1 L64.4,397.2 L64.9,397.5 L65.4,397 L65.9,397 L66.4,397.5 L66.9,397 L67.4,397.1 L67.9,397.4 L68.4,397 L68.9,397.2 L69.4,397.5 L69.9,397.2 L70.4,397.5 L70.9,397.2 L71.4,397 L71.9,397.4 L72.4,397.2 L72.9,397 L73.4,397.4 L73.9,397.3 L74.4,397 L74.9,397.3 L75.4,397.3 L75.9,397.1 L76.4,397.5 L76.9,397.3 L77.4,397.5 L77.9,397.3 L78.4,397.5 L78.9,397.2 L79.4,397.4 L79.9,397 L80.4,397.3 L80.9,397.3 L81.4,397.1 L81.9,397 L82.4,397.4 L82.9,397 L83.4,397 L83.9,396.9 L84.4,397 L84.9,397.4 L85.4,397.3 L85.9,397.3 L86.4,397.2 L86.9,397.2 L87.4,396.8 L87.9,397 L88.4,396.9 L88.9,396.6 L89.4,396.8 L89.9,397 L90.4,397 L90.9,396.9 L91.4,397 L91.9,396.6 L92.4,396.9 L92.9,396.6 L93.4,397 L93.9,397 L94.4,396.9 L94.9,396.8 L95.4,397 L95.9,396.9 L96.4,396.9 L96.9,397.3 L97.4,397.2 L97.9,397.2 L98.4,397 L98.9,397.4 L99.4,397.4 L99.9,397.4 L100.4,397.5 L100.9,397 L101.4,397.2 L101.9,397.3 L102.4,397.4 L102.9,397.4 L103.4,397 L103.9,397.1 L104.4,397.5 L104.9,397.2 L105.4,397.3 L105.9,397.1 L106.4,397.3 L106.9,397.1 L107.4,397.2 L107.9,397.1 L108.4,397 L108.9,397.2 L109.4,397.1 L109.9,397.2 L110.4,397.3 L110.9,397.2 L111.4,397.6 L111.9,397.5 L112.4,397.1 L112.9,397.4 L113.4,397.6 L113.9,397 L114.4,397.2 L114.9,397.4 L115.4,397.1 L115.9,397.5 L116.4,397.4 L116.9,397.2 L117.4,397.1 L117.9,397.4 L118.4,397.5 L118.9,397.4 L119.4,397.2 L119.9,397.2 L120.4,397.2 L120.9,397.2 L121.4,397.4 L121.9,397.2 L122.4,396.9 L122.9,397.3 L123.4,396.8 L123.9,396.8 L124.4,397.1 L124.9,397 L125.4,397.4 L125.9,397.2 L126.4,397.4 L126.9,397 L127.4,397.1 L127.9,397.1 L128.4,397 L128.9,397.1 L129.4,397.5 L129.9,397.2 L130.4,397.1 L130.9,397.3 L131.4,397 L131.9,397.4 L132.4,397.4 L132.9,397.1 L133.4,397.5 L133.9,397.3 L134.4,397.4 L134.9,397 L135.4,397.3 L135.9,397 L136.4,397.3 L136.9,397 L137.4,397 L137.9,397.5 L138.4,397.3 L138.9,397.3 L139.4,397.5 L139.9,397.3 L140.4,397 L140.9,397.3 L141.4,397 L141.9,397 L142.4,397.3 L142.9,397.1 L143.4,397 L143.9,397.4 L144.4,397.3 L144.9,397 L145.4,397.2 L145.9,397.5 L146.4,397.2 L146.9,397 L147.4,397.3 L147.9,397 L148.4,397.4 L148.9,397.4 L149.4,397.3 L149.9,397.5 L150.4,397.3 L150.9,397.1 L151.4,397.4 L151.9,397.3 L152.4,397.2 L152.9,397.4 L153.4,397.2 L153.9,397.2 L154.4,397 L154.9,397.5 L155.4,397.5 L155.9,397.4 L156.4,397.1 L156.9,397.4 L157.4,397.1 L157.9,397.5 L158.4,397 L158.9,397.1 L159.4,397.1 L159.9,397.2 L160.4,397.2 L160.9,397.2 L161.4,397.2 L161.9,397.4 L162.4,397.1 L162.9,397.3 L163.4,397.6 L163.9,397.3 L164.4,397.2 L164.9,397 L165.4,397.1 L165.9,397.4 L166.4,397.1 L166.9,397 L167.4,397.5 L167.9,397.3 L168.4,397.4 L168.9,397.3 L169.4,397.5 L169.9,397.2 L170.4,397.1 L170.9,397.1 L171.4,397.3 L171.9,397 L172.4,397.5 L172.9,397.2 L173.4,397.5 L173.9,397.3 L174.4,397 L174.9,397.2 L175.4,397 L175.9,397.3 L176.4,397.3 L176.9,397.4 L177.4,397.4 L177.9,397.3 L178.4,397.4 L178.9,397.4 L179.4,397.4 L179.9,397.1 L180.4,397 L180.9,397.1 L181.4,397 L181.9,397.1 L182.4,397.2 L182.9,397.3 L183.4,397.5 L183.9,397.4 L184.4,397.3 L184.9,397.5 L185.4,397.4 L185.9,397.3 L186.4,397.2 L186.9,397.3 L187.4,397 L187.9,397.3 L188.4,397.5 L188.9,397.2 L189.4,397.1 L189.9,397.2 L190.4,397.3 L190.9,397.2 L191.4,397.3 L191.9,397 L192.4,397.3 L192.9,397.2 L193.4,397.4 L193.9,397.3 L194.4,397 L194.9,397.4 L195.4,397.4 L195.9,397.3 L196.4,397.4 L196.9,397 L197.4,397.4 L197.9,397.4 L198.4,397.1 L198.9,397 L199.4,397.2 L199.9,397 L200.4,397.4 L200.9,397.2 L201.4,397 L201.9,397.5 L202.4,397.3 L202.9,397.5 L203.4,397.2 L203.9,397 L204.4,397.2 L204.9,397.5 L205.4,397.1 L205.9,397.5 L206.4,397 L206.9,397.5 L207.4,397.1 L207.9,397.1 L208.4,397.1 L208.9,397.4 L209.4,397 L209.9,397.2 L210.4,397.3 L210.9,397.2 L211.4,397.5 L211.9,397.5 L212.4,397.3 L212.9,397.4 L213.4,397 L213.9,397.2 L214.4,397.1 L214.9,397.3 L215.4,397.2 L215.9,397.5 L216.4,397.3 L216.9,397.4 L217.4,397 L217.9,397.4 L218.4,397 L218.9,397 L219.4,397.4 L219.9,397.1 L220.4,397.1 L220.9,397.2 L221.4,397.5 L221.9,397.5 L222.4,397.2 L222.9,397.2 L223.4,397.4 L223.9,397.3 L224.4,397.3 L224.9,397.4 L225.4,397.1 L225.9,397.4 L226.4,397.4 L226.9,397.2 L227.4,397.2 L227.9,397.2 L228.4,397.1 L228.9,397.3 L229.4,397.3 L229.9,397.4 L230.4,397.4 L230.9,397.5 L231.4,397.2 L231.9,397.1 L232.4,397.3 L232.9,397.3 L233.4,397.2 L233.9,397.3 L234.4,397.5 L234.9,397.5 L235.4,397.4 L235.9,397 L236.4,397.5 L236.9,397.2 L237.4,397.2 L237.9,397.5 L238.4,397.2 L238.9,397.4 L239.4,397.3 L239.9,397.5 L240.4,397.1 L240.9,397.1 L241.4,397.3 L241.9,397.3 L242.4,397.3 L242.9,397.5 L243.4,397.2 L243.9,397 L244.4,397 L244.9,397 L245.4,397.3 L245.9,397 L246.4,397.1 L246.9,397.2 L247.4,397 L247.9,397.5 L248.4,397 L248.9,397.4 L249.4,397.4 L249.9,397.3 L250.4,397.1 L250.9,397.4 L251.4,397.4 L251.9,397.3 L252.4,397.3 L252.4,403.1 L251.9,402.9 L251.4,403 L250.9,402.9 L250.4,402.9 L249.9,403.2 L249.4,403.2 L248.9,403.2 L248.4,403.2 L247.9,403.2 L247.4,403.1 L246.9,403.2 L246.4,402.9 L245.9,403.2 L245.4,403.3 L244.9,403 L244.4,403.2 L243.9,403.1 L243.4,403.1 L242.9,402.9 L242.4,403.2 L241.9,403.1 L241.4,403.2 L240.9,403.4 L240.4,403.2 L239.9,403.3 L239.4,402.9 L238.9,403.1 L238.4,403.3 L237.9,403.2 L237.4,403 L236.9,403.3 L236.4,402.9 L235.9,403.1 L235.4,403.3 L234.9,403.3 L234.4,402.9 L233.9,402.9 L233.4,402.8 L232.9,403.3 L232.4,403.2 L231.9,403.3 L231.4,403.2 L230.9,403 L230.4,402.8 L229.9,403 L229.4,403.3 L228.9,402.9 L228.4,403.1 L227.9,402.9 L227.4,402.9 L226.9,403.4 L226.4,402.9 L225.9,403.4 L225.4,403.4 L224.9,403.1 L224.4,403.1 L223.9,403.2 L223.4,403.4 L222.9,403.3 L222.4,402.9 L221.9,403.3 L221.4,403.2 L220.9,403.3 L220.4,402.9 L219.9,402.9 L219.4,402.9 L218.9,403.2 L218.4,403 L217.9,403.1 L217.4,402.9 L216.9,403.4 L216.4,403.3 L215.9,403.1 L215.4,403.4 L214.9,403.2 L214.4,403.3 L213.9,403.4 L213.4,403.3 L212.9,403.1 L212.4,402.9 L211.9,403.1 L211.4,403.1 L210.9,403.1 L210.4,403.2 L209.9,402.9 L209.4,402.9 L208.9,403.1 L208.4,403 L207.9,403.1 L207.4,403.4 L206.9,403.4 L206.4,403.3 L205.9,403.1 L205.4,403.2 L204.9,403.3 L204.4,403.1 L203.9,403.2 L203.4,402.9 L202.9,403.3 L202.4,403.4 L201.9,403 L201.4,403 L200.9,403.2 L200.4,403 L199.9,403.4 L199.4,403.2 L198.9,403 L198.4,403.1 L197.9,403.1 L197.4,402.9 L196.9,403.3 L196.4,403.2 L195.9,403.3 L195.4,403.1 L194.9,403 L194.4,403 L193.9,403.3 L193.4,403 L192.9,403.3 L192.4,403.1 L191.9,402.9 L191.4,403 L190.9,403.1 L190.4,403 L189.9,403.1 L189.4,403.1 L188.9,403.3 L188.4,403 L187.9,403 L187.4,403.1 L186.9,403.3 L186.4,403.2 L185.9,403.1 L185.4,403.2 L184.9,403.3 L184.4,403.4 L183.9,403.3 L183.4,403 L182.9,403.2 L182.4,403.3 L181.9,402.9 L181.4,403.2 L180.9,403.2 L180.4,403.3 L179.9,403.5 L179.4,403 L178.9,402.9 L178.4,403.1 L177.9,403.1 L177.4,403.3 L176.9,403.2 L176.4,403.4 L175.9,403.2 L175.4,403.2 L174.9,403 L174.4,403.4 L173.9,403.1 L173.4,403.4 L172.9,403.2 L172.4,402.9 L171.9,403.4 L171.4,403.1 L170.9,403.1 L170.4,403 L169.9,402.9 L169.4,403.4 L168.9,403.1 L168.4,403.1 L167.9,403.4 L167.4,403 L166.9,403.2 L166.4,403.4 L165.9,403 L165.4,403 L164.9,403.1 L164.4,402.9 L163.9,403 L163.4,402.9 L162.9,403.3 L162.4,403 L161.9,403.3 L161.4,402.9 L160.9,403.4 L160.4,403 L159.9,403 L159.4,402.9 L158.9,403.3 L158.4,403.3 L157.9,403 L157.4,403.1 L156.9,403.1 L156.4,402.9 L155.9,403.1 L155.4,403.4 L154.9,403.4 L154.4,403.3 L153.9,403.3 L153.4,402.9 L152.9,403.2 L152.4,403.2 L151.9,403 L151.4,403.2 L150.9,403.1 L150.4,403.1 L149.9,403 L149.4,402.9 L148.9,403.2 L148.4,403.2 L147.9,403 L147.4,403.4 L146.9,403.1 L146.4,402.9 L145.9,402.8 L145.4,403.3 L144.9,403.1 L144.4,403.1 L143.9,403.4 L143.4,403 L142.9,402.9 L142.4,402.9 L141.9,403.2 L141.4,403 L140.9,402.9 L140.4,403.2 L139.9,403.4 L139.4,403 L138.9,403.4 L138.4,403 L137.9,403.3 L137.4,403.1 L136.9,403.2 L136.4,403 L135.9,403.2 L135.4,403 L134.9,403.4 L134.4,403 L133.9,403.1 L133.4,403.4 L132.9,403.2 L132.4,402.9 L131.9,403 L131.4,403 L130.9,403.1 L130.4,403 L129.9,403.1 L129.4,403.2 L128.9,403.1 L128.4,403.2 L127.9,403.2 L127.4,403.3 L126.9,402.9 L126.4,403.4 L125.9,403.2 L125.4,403.1 L124.9,403.2 L124.4,403.2 L123.9,403 L123.4,403.5 L122.9,403.1 L122.4,403.3 L121.9,403.3 L121.4,403.3 L120.9,403.4 L120.4,403.3 L119.9,402.9 L119.4,403 L118.9,403.2 L118.4,403.1 L117.9,403.2 L117.4,403.2 L116.9,403.2 L116.4,402.9 L115.9,403 L115.4,403.1 L114.9,402.9 L114.4,403.2 L113.9,403.3 L113.4,403.1 L112.9,403 L112.4,402.9 L111.9,403.4 L111.4,402.9 L110.9,402.9 L110.4,403.4 L109.9,403.1 L109.4,403.3 L108.9,403.1 L108.4,403.4 L107.9,402.9 L107.4,403 L106.9,403.1 L106.4,403.2 L105.9,403.3 L105.4,403.4 L104.9,403.1 L104.4,402.9 L103.9,403.1 L103.4,403.3 L102.9,403.4 L102.4,403.2 L101.9,403.1 L101.4,403.1 L100.9,403 L100.4,403.3 L99.9,403.3 L99.4,402.9 L98.9,403 L98.4,403.4 L97.9,403.3 L97.4,403.3 L96.9,403.1 L96.4,403.2 L95.9,403.5 L95.4,403.2 L94.9,403.2 L94.4,403.7 L93.9,403.4 L93.4,403.4 L92.9,403.2 L92.4,403.3 L91.9,403.4 L91.4,403.4 L90.9,403.8 L90.4,403.3 L89.9,403.4 L89.4,403.5 L88.9,403.6 L88.4,403.5 L87.9,403.5 L87.4,403.2 L86.9,403.2 L86.4,403.1 L85.9,403.3 L85.4,403.3 L84.9,403 L84.4,403.4 L83.9,403.2 L83.4,403.1 L82.9,403 L82.4,403.1 L81.9,403.3 L81.4,403.1 L80.9,403.4 L80.4,403.2 L79.9,403.4 L79.4,403.3 L78.9,403.3 L78.4,402.9 L77.9,403 L77.4,403 L76.9,403.2 L76.4,403.3 L75.9,403.2 L75.4,402.9 L74.9,403 L74.4,403 L73.9,403 L73.4,403.3 L72.9,402.9 L72.4,403.3 L71.9,403.4 L71.4,403.1 L70.9,403.2 L70.4,403 L69.9,403.3 L69.4,402.9 L68.9,403 L68.4,403.4 L67.9,403.1 L67.4,403.2 L66.9,403.1 L66.4,403 L65.9,403.2 L65.4,402.9 L64.9,402.9 L64.4,403 L63.9,403.1 L63.4,402.9 L62.9,403.2 L62.4,402.9 L61.9,403.2 L61.4,403.2 L60.9,402.9 L60.4,403.4 L59.9,403.1 L59.4,402.9 L58.9,403.1 L58.4,402.9 L57.9,403.1 L57.4,403.2 L56.9,403.2 L56.4,403.2 L55.9,402.9 L55.4,402.9 L54.9,403 L54.4,403.1 L53.9,402.9 L53.4,403.2 L52.9,403 L52.4,402.9 L51.9,403 L51.4,402.9 L50.9,403.1 L50.4,403.4 L49.9,403.2 L49.4,403.2 L48.9,403 L48.4,402.9 L47.9,403 L47.4,403.3 L46.9,403.4 L46.4,403.4 L45.9,402.9 L45.4,403.3 L44.9,403.1 L44.4,403.4 L43.9,402.9 L43.4,403.4 L42.9,403.4 L42.4,403 L41.9,402.9 L41.4,403.4 L40.9,403.4Z" fill="#96c2e4"/></g>
<rect x="30.2" y="351.8" width="232.5" height="96.9" fill="none" stroke="#555" stroke-width="0.75"/>
<line x1="28.13" y1="361.2" x2="30.2" y2="361.2" stroke="#555" stroke-width="0.6"/>
<text x="25.26" y="363.75" font-size="5.91" text-anchor="end">0.6</text>
<line x1="28.13" y1="374.2" x2="30.2" y2="374.2" stroke="#555" stroke-width="0.6"/>
<text x="25.26" y="376.75" font-size="5.91" text-anchor="end">0.4</text>
<line x1="28.13" y1="387.2" x2="30.2" y2="387.2" stroke="#555" stroke-width="0.6"/>
<text x="25.26" y="389.75" font-size="5.91" text-anchor="end">0.2</text>
<line x1="28.13" y1="400.2" x2="30.2" y2="400.2" stroke="#555" stroke-width="0.6"/>
<text x="25.26" y="402.75" font-size="5.91" text-anchor="end">0.0</text>
<line x1="28.13" y1="413.2" x2="30.2" y2="413.2" stroke="#555" stroke-width="0.6"/>
<text x="25.26" y="415.75" font-size="5.91" text-anchor="end">-0.2</text>
<line x1="28.13" y1="426.2" x2="30.2" y2="426.2" stroke="#555" stroke-width="0.6"/>
<text x="25.26" y="428.75" font-size="5.91" text-anchor="end">-0.4</text>
<line x1="28.13" y1="439.2" x2="30.2" y2="439.2" stroke="#555" stroke-width="0.6"/>
<text x="25.26" y="441.75" font-size="5.91" text-anchor="end">-0.6</text>
<line x1="40.9" y1="448.7" x2="40.9" y2="450.77" stroke="#555" stroke-width="0.6"/>
<text x="40.9" y="457.33" font-size="5.91" text-anchor="middle">0:00</text>
<line x1="72.6" y1="448.7" x2="72.6" y2="450.77" stroke="#555" stroke-width="0.6"/>
<text x="72.6" y="457.33" font-size="5.91" text-anchor="middle">0:15</text>
<line x1="104.3" y1="448.7" x2="104.3" y2="450.77" stroke="#555" stroke-width="0.6"/>
<text x="104.3" y="457.33" font-size="5.91" text-anchor="middle">0:30</text>
<line x1="136" y1="448.7" x2="136" y2="450.77" stroke="#555" stroke-width="0.6"/>
<text x="136" y="457.33" font-size="5.91" text-anchor="middle">0:45</text>
<line x1="167.7" y1="448.7" x2="167.7" y2="450.77" stroke="#555" stroke-width="0.6"/>
<text x="167.7" y="457.33" font-size="5.91" text-anchor="middle">1:00</text>
<line x1="199.4" y1="448.7" x2="199.4" y2="450.77" stroke="#555" stroke-width="0.6"/>
<text x="199.4" y="457.33" font-size="5.91" text-anchor="middle">1:15</text>
<line x1="231.1" y1="448.7" x2="231.1" y2="450.77" stroke="#555" stroke-width="0.6"/>
<text x="231.1" y="457.33" font-size="5.91" text-anchor="middle">1:30</text>
<text x="146.45" y="466.4" font-size="5.91" text-anchor="middle">Time (s)</text>
<text transform="translate(9.8,400.6) rotate(-90)" font-size="5.91" text-anchor="middle">Amplitude</text>
<text x="146.2" y="348.1" font-size="7.16" text-anchor="middle">Waveform: normal, SNR −6 dB, Noise type 0</text>
<text class="cap" x="134.7" y="494.3" font-family="'Liberation Serif', serif" font-size="12.6" fill="#000" text-anchor="middle">(<tspan font-weight="bold">e</tspan>)</text>
<g id="wff"><defs><linearGradient id="gf" gradientUnits="userSpaceOnUse" x1="0" y1="360.3" x2="0" y2="439.9"><stop offset="0%" stop-color="#8cbce1"/><stop offset="21.2%" stop-color="#8cbce1"/><stop offset="28.9%" stop-color="#78afd9"/><stop offset="37.3%" stop-color="#78afd9"/><stop offset="38.4%" stop-color="#5d9dcf"/><stop offset="50%" stop-color="#5d9dcf"/><stop offset="61.6%" stop-color="#5d9dcf"/><stop offset="62.7%" stop-color="#78afd9"/><stop offset="71.1%" stop-color="#78afd9"/><stop offset="78.8%" stop-color="#8cbce1"/><stop offset="100%" stop-color="#8cbce1"/></linearGradient></defs><path d="M310.4,377.9 L310.9,377.5 L311.4,379 L311.9,381.4 L312.4,375.8 L312.9,375.5 L313.4,375.2 L313.9,380.2 L314.4,374.9 L314.9,376.1 L315.4,375.7 L315.9,374.4 L316.4,378.6 L316.9,377.3 L317.4,380.9 L317.9,378.2 L318.4,375.2 L318.9,375.1 L319.4,370.7 L319.9,375.8 L320.4,377.1 L320.9,377 L321.4,376 L321.9,375.4 L322.4,379.9 L322.9,375.6 L323.4,377 L323.9,374.8 L324.4,376.6 L324.9,376.2 L325.4,377.4 L325.9,374.9 L326.4,377.2 L326.9,375.9 L327.4,377.4 L327.9,380 L328.4,377.1 L328.9,375.9 L329.4,374.7 L329.9,379 L330.4,376 L330.9,374.4 L331.4,375.3 L331.9,375 L332.4,375 L332.9,378.5 L333.4,374.6 L333.9,373.4 L334.4,375.3 L334.9,378.8 L335.4,375.2 L335.9,371.5 L336.4,374.3 L336.9,381.3 L337.4,375 L337.9,380.4 L338.4,379.4 L338.9,378.7 L339.4,376.1 L339.9,375.4 L340.4,374.4 L340.9,377.4 L341.4,375.4 L341.9,374.5 L342.4,378 L342.9,381 L343.4,376.1 L343.9,375.4 L344.4,370.5 L344.9,376.2 L345.4,381.1 L345.9,382 L346.4,377.6 L346.9,375.8 L347.4,375.3 L347.9,375.7 L348.4,374.8 L348.9,376.6 L349.4,375.3 L349.9,376.9 L350.4,372.5 L350.9,371.8 L351.4,370.4 L351.9,373.6 L352.4,368.5 L352.9,366.3 L353.4,371.5 L353.9,366 L354.4,365.2 L354.9,368.8 L355.4,362.3 L355.9,367.9 L356.4,371.3 L356.9,371.1 L357.4,372.8 L357.9,375.9 L358.4,372.1 L358.9,372.8 L359.4,376.3 L359.9,379 L360.4,377 L360.9,380.7 L361.4,377 L361.9,377.7 L362.4,374.8 L362.9,374.3 L363.4,374.5 L363.9,377.2 L364.4,378.2 L364.9,375.4 L365.4,369.5 L365.9,375.5 L366.4,377.1 L366.9,374.6 L367.4,381.1 L367.9,376.7 L368.4,376.2 L368.9,376.3 L369.4,381.3 L369.9,375.9 L370.4,372.7 L370.9,380.9 L371.4,374.5 L371.9,376.4 L372.4,378.7 L372.9,379.4 L373.4,374.4 L373.9,379.3 L374.4,381.3 L374.9,375.4 L375.4,377.3 L375.9,375 L376.4,379.2 L376.9,381.9 L377.4,380 L377.9,378.4 L378.4,379.6 L378.9,375.6 L379.4,376.6 L379.9,374.5 L380.4,376.5 L380.9,377.8 L381.4,378.8 L381.9,375.1 L382.4,376.8 L382.9,378.8 L383.4,379.3 L383.9,375.5 L384.4,381.2 L384.9,375 L385.4,375.8 L385.9,377.4 L386.4,376.3 L386.9,376.7 L387.4,376.7 L387.9,380.6 L388.4,374.2 L388.9,375.4 L389.4,379 L389.9,380.3 L390.4,374.9 L390.9,377.2 L391.4,376.9 L391.9,377.9 L392.4,376.3 L392.9,369.1 L393.4,377 L393.9,377.5 L394.4,378.3 L394.9,379.6 L395.4,376.1 L395.9,378.8 L396.4,374.7 L396.9,382.3 L397.4,378.7 L397.9,376.4 L398.4,376.1 L398.9,379.8 L399.4,376.8 L399.9,381.1 L400.4,377.7 L400.9,378 L401.4,379.3 L401.9,374.2 L402.4,375.6 L402.9,377.3 L403.4,375.6 L403.9,376.2 L404.4,375.6 L404.9,379.3 L405.4,375.4 L405.9,375 L406.4,376.1 L406.9,379.5 L407.4,377.3 L407.9,374.3 L408.4,375.5 L408.9,380.2 L409.4,382.7 L409.9,375.3 L410.4,379.7 L410.9,379 L411.4,374.3 L411.9,378.7 L412.4,377.2 L412.9,374.5 L413.4,378.1 L413.9,378.8 L414.4,376.3 L414.9,374.8 L415.4,377 L415.9,379.8 L416.4,375 L416.9,382.6 L417.4,380.7 L417.9,374.8 L418.4,376.3 L418.9,375.8 L419.4,376.9 L419.9,376 L420.4,381.1 L420.9,381.3 L421.4,374.8 L421.9,375.8 L422.4,378.7 L422.9,376.1 L423.4,372.7 L423.9,378.6 L424.4,375.5 L424.9,375.5 L425.4,376.1 L425.9,372.1 L426.4,377.1 L426.9,377.4 L427.4,377.7 L427.9,380.4 L428.4,377.8 L428.9,378.6 L429.4,376.7 L429.9,379.3 L430.4,378.1 L430.9,374.5 L431.4,379 L431.9,380.7 L432.4,374.3 L432.9,379.5 L433.4,374.6 L433.9,380 L434.4,378 L434.9,380.1 L435.4,380.2 L435.9,374.5 L436.4,376.4 L436.9,377 L437.4,379.2 L437.9,378.2 L438.4,377.9 L438.9,375.4 L439.4,375.8 L439.9,376.9 L440.4,375.1 L440.9,375.8 L441.4,376.3 L441.9,374.3 L442.4,376.9 L442.9,374.3 L443.4,376.9 L443.9,380.5 L444.4,375.9 L444.9,379.1 L445.4,376.9 L445.9,374.7 L446.4,374.8 L446.9,377.6 L447.4,377.7 L447.9,377 L448.4,378.9 L448.9,375.5 L449.4,380.9 L449.9,376 L450.4,377.9 L450.9,374.8 L451.4,374.6 L451.9,375.7 L452.4,376.4 L452.9,375.8 L453.4,375.3 L453.9,378.3 L454.4,374.8 L454.9,379 L455.4,374.4 L455.9,378.7 L456.4,374.5 L456.9,377 L457.4,376.5 L457.9,374.8 L458.4,380.7 L458.9,379.6 L459.4,378.7 L459.9,374.9 L460.4,375.6 L460.9,380.5 L461.4,375.1 L461.9,375.8 L462.4,377.9 L462.9,376 L463.4,380.6 L463.9,375.7 L464.4,377.3 L464.9,378.2 L465.4,377 L465.9,374.3 L466.4,378 L466.9,380.9 L467.4,379.1 L467.9,378.1 L468.4,375.5 L468.9,374.7 L469.4,374.2 L469.9,374.7 L470.4,380 L470.9,377.7 L471.4,377 L471.9,381.1 L472.4,380.5 L472.9,374.7 L473.4,375.4 L473.9,376.9 L474.4,378 L474.9,381.5 L475.4,376.5 L475.9,376.3 L476.4,382.2 L476.9,378.5 L477.4,377.5 L477.9,376 L478.4,382.2 L478.9,378.9 L479.4,375.5 L479.9,380.9 L480.4,375.3 L480.9,379.1 L481.4,375.7 L481.9,374.8 L482.4,382.2 L482.9,376.1 L483.4,377 L483.9,375.5 L484.4,374.3 L484.9,375.1 L485.4,378.8 L485.9,376.8 L486.4,382.9 L486.9,377.6 L487.4,382.1 L487.9,376 L488.4,374.9 L488.9,374 L489.4,374.7 L489.9,378.5 L490.4,379.9 L490.9,376.2 L491.4,381.2 L491.9,372.8 L492.4,373.5 L492.9,380.6 L493.4,380.3 L493.9,375.9 L494.4,376.7 L494.9,373.2 L495.4,374.6 L495.9,376.1 L496.4,378.7 L496.9,381.3 L497.4,378.9 L497.9,374.2 L498.4,379.8 L498.9,375.9 L499.4,381.1 L499.9,379.3 L500.4,374.5 L500.9,374.9 L501.4,382.7 L501.9,378.2 L502.4,378.8 L502.9,380.6 L503.4,376.2 L503.9,382.8 L504.4,379 L504.9,376.7 L505.4,379.2 L505.9,377.6 L506.4,374.8 L506.9,379.3 L507.4,375.5 L507.9,378.5 L508.4,377.3 L508.9,381.1 L509.4,380.5 L509.9,375.2 L510.4,379.4 L510.9,377.8 L511.4,375.4 L511.9,377.6 L512.4,378.3 L512.9,376.3 L513.4,375.8 L513.9,376.3 L514.4,379.8 L514.9,379.1 L515.4,374.3 L515.9,380.2 L516.4,378.5 L516.9,377.4 L517.4,371.2 L517.9,381.7 L518.4,380 L518.9,379.1 L519.4,381.4 L519.9,380.4 L520.4,379 L520.9,379.3 L521.4,375.8 L521.9,377.2 L522.4,376 L522.9,377.7 L523.4,375.1 L523.9,374.8 L524.4,374.5 L524.9,375.5 L525.4,376.2 L525.9,379.8 L526.4,375.8 L526.9,375.5 L527.4,375.1 L527.9,376.3 L528.4,376.7 L528.9,376 L529.4,378.1 L529.9,377.8 L530.4,379.8 L530.9,375.6 L531.4,374.8 L531.9,375.7 L532.4,375.5 L532.9,381.6 L532.9,422.3 L532.4,421.6 L531.9,423.7 L531.4,425.7 L530.9,423 L530.4,423.2 L529.9,424.7 L529.4,422.4 L528.9,422.6 L528.4,417.5 L527.9,424.1 L527.4,424.5 L526.9,423 L526.4,423.2 L525.9,423.4 L525.4,421 L524.9,424.9 L524.4,422.6 L523.9,421.5 L523.4,424.8 L522.9,418.7 L522.4,420.9 L521.9,425 L521.4,425.5 L520.9,420.1 L520.4,422.6 L519.9,423.9 L519.4,421.4 L518.9,425.1 L518.4,424.7 L517.9,424.5 L517.4,422.1 L516.9,424.8 L516.4,421.6 L515.9,425.3 L515.4,421.2 L514.9,420 L514.4,425.5 L513.9,423.9 L513.4,424.1 L512.9,419.1 L512.4,422.9 L511.9,422.1 L511.4,425.3 L510.9,424.7 L510.4,420.6 L509.9,425.6 L509.4,423.8 L508.9,419.9 L508.4,425.4 L507.9,423.5 L507.4,421.9 L506.9,428.8 L506.4,418.8 L505.9,421.8 L505.4,424.6 L504.9,420.9 L504.4,422.8 L503.9,425 L503.4,422 L502.9,425.3 L502.4,421.2 L501.9,422 L501.4,422.3 L500.9,424.3 L500.4,418 L499.9,422.8 L499.4,417.9 L498.9,425.1 L498.4,422.5 L497.9,422.5 L497.4,425 L496.9,425.6 L496.4,418.2 L495.9,423 L495.4,421.9 L494.9,422.1 L494.4,419.7 L493.9,423 L493.4,422.2 L492.9,424.6 L492.4,423.9 L491.9,429.1 L491.4,423.7 L490.9,428.3 L490.4,424.7 L489.9,427 L489.4,424.8 L488.9,421.1 L488.4,421.1 L487.9,425.3 L487.4,423.3 L486.9,424.8 L486.4,422.1 L485.9,421.2 L485.4,424 L484.9,425.1 L484.4,421.9 L483.9,423.8 L483.4,422.2 L482.9,423.9 L482.4,420.5 L481.9,417.5 L481.4,425.8 L480.9,425.4 L480.4,418.5 L479.9,425.3 L479.4,420.4 L478.9,418 L478.4,425.8 L477.9,421.9 L477.4,425 L476.9,422.8 L476.4,424 L475.9,425.5 L475.4,424.5 L474.9,422.9 L474.4,420.6 L473.9,422.4 L473.4,425.1 L472.9,423.1 L472.4,423.8 L471.9,425.8 L471.4,422.9 L470.9,419 L470.4,421.3 L469.9,424.6 L469.4,417.6 L468.9,419.8 L468.4,422.3 L467.9,422.5 L467.4,417.7 L466.9,423.4 L466.4,421.6 L465.9,420.8 L465.4,419.8 L464.9,425 L464.4,424.7 L463.9,424.6 L463.4,421.9 L462.9,425 L462.4,425.8 L461.9,423.2 L461.4,423.8 L460.9,423 L460.4,418.8 L459.9,424.9 L459.4,421.3 L458.9,420.5 L458.4,421.7 L457.9,425.3 L457.4,425.8 L456.9,428.7 L456.4,421.9 L455.9,422.6 L455.4,423.3 L454.9,421.7 L454.4,420 L453.9,423.3 L453.4,422.9 L452.9,424.7 L452.4,426.6 L451.9,422.1 L451.4,420.5 L450.9,425.3 L450.4,419.8 L449.9,424.3 L449.4,422.3 L448.9,421.4 L448.4,424.4 L447.9,423 L447.4,425.4 L446.9,421 L446.4,423.7 L445.9,424.3 L445.4,420.3 L444.9,425.5 L444.4,425 L443.9,423.8 L443.4,418.7 L442.9,418.9 L442.4,420.7 L441.9,418.4 L441.4,420.5 L440.9,424.1 L440.4,419.7 L439.9,424.2 L439.4,422.1 L438.9,423.2 L438.4,424.7 L437.9,425.3 L437.4,425.1 L436.9,424.8 L436.4,424.8 L435.9,424.6 L435.4,425.7 L434.9,419.1 L434.4,421 L433.9,424.4 L433.4,430.7 L432.9,424.2 L432.4,421.1 L431.9,423.2 L431.4,424.8 L430.9,425.2 L430.4,423.2 L429.9,418.7 L429.4,424.5 L428.9,424.1 L428.4,425.9 L427.9,421.3 L427.4,425.3 L426.9,424 L426.4,421.3 L425.9,420.3 L425.4,425.6 L424.9,419.7 L424.4,429.3 L423.9,420.8 L423.4,425.6 L422.9,425.7 L422.4,422.6 L421.9,421.1 L421.4,424.6 L420.9,419.4 L420.4,422.1 L419.9,421.1 L419.4,420.4 L418.9,423.3 L418.4,422.8 L417.9,424.9 L417.4,419.3 L416.9,422.2 L416.4,419.2 L415.9,419.3 L415.4,424.9 L414.9,423.9 L414.4,424.5 L413.9,421.3 L413.4,422.1 L412.9,423 L412.4,422.7 L411.9,425.8 L411.4,421 L410.9,421.3 L410.4,421.4 L409.9,423.1 L409.4,421.1 L408.9,425.6 L408.4,423.4 L407.9,424.4 L407.4,418.4 L406.9,419.1 L406.4,423.6 L405.9,419.3 L405.4,426 L404.9,425.3 L404.4,425.6 L403.9,424.8 L403.4,424.1 L402.9,430.3 L402.4,423.5 L401.9,423.3 L401.4,425.4 L400.9,421.7 L400.4,422.8 L399.9,425.7 L399.4,423.3 L398.9,425.8 L398.4,424.6 L397.9,420.8 L397.4,424 L396.9,425.9 L396.4,422.2 L395.9,419.3 L395.4,425.8 L394.9,423.5 L394.4,421 L393.9,421.6 L393.4,421.1 L392.9,419.2 L392.4,418.8 L391.9,425.6 L391.4,425.6 L390.9,421.2 L390.4,423.4 L389.9,422.8 L389.4,425.7 L388.9,425.2 L388.4,421.7 L387.9,420.1 L387.4,420.7 L386.9,424.8 L386.4,418.3 L385.9,425.9 L385.4,419.4 L384.9,425 L384.4,420.9 L383.9,424.6 L383.4,424.6 L382.9,424 L382.4,425.7 L381.9,424.2 L381.4,420.7 L380.9,420.6 L380.4,423.4 L379.9,423.7 L379.4,423.9 L378.9,422.5 L378.4,424.5 L377.9,421.1 L377.4,421.4 L376.9,422.6 L376.4,420.9 L375.9,420.9 L375.4,419 L374.9,424.3 L374.4,421 L373.9,425.7 L373.4,423 L372.9,424.9 L372.4,421.5 L371.9,423.5 L371.4,424.1 L370.9,422.7 L370.4,425 L369.9,423.6 L369.4,425 L368.9,427.5 L368.4,424.6 L367.9,420.2 L367.4,423.3 L366.9,423 L366.4,425.6 L365.9,425.7 L365.4,423.2 L364.9,422.6 L364.4,422.1 L363.9,420.4 L363.4,424.6 L362.9,422.1 L362.4,421 L361.9,422.5 L361.4,424.2 L360.9,420.5 L360.4,422 L359.9,419 L359.4,421.8 L358.9,422.1 L358.4,432.1 L357.9,427.6 L357.4,426.1 L356.9,436.5 L356.4,424.8 L355.9,431.8 L355.4,431.8 L354.9,430.3 L354.4,430.3 L353.9,433.6 L353.4,430 L352.9,430.1 L352.4,430.8 L351.9,434.9 L351.4,432.9 L350.9,434 L350.4,426.6 L349.9,428.1 L349.4,427.3 L348.9,424.6 L348.4,425.8 L347.9,425.9 L347.4,425.5 L346.9,425.1 L346.4,423.3 L345.9,423.3 L345.4,420.3 L344.9,420.4 L344.4,421 L343.9,419.7 L343.4,422.3 L342.9,425.8 L342.4,420.8 L341.9,422.4 L341.4,425.2 L340.9,424.3 L340.4,421.6 L339.9,423.7 L339.4,423.3 L338.9,419.3 L338.4,424.4 L337.9,422.2 L337.4,423.9 L336.9,424.2 L336.4,424.8 L335.9,420.7 L335.4,422.6 L334.9,421.6 L334.4,425.7 L333.9,419.8 L333.4,420.4 L332.9,425.5 L332.4,425.4 L331.9,420.1 L331.4,420.3 L330.9,421.3 L330.4,421.2 L329.9,423.7 L329.4,420.5 L328.9,425.4 L328.4,422.2 L327.9,421 L327.4,423.4 L326.9,424.5 L326.4,421.8 L325.9,428.6 L325.4,419.9 L324.9,424 L324.4,418.7 L323.9,424.8 L323.4,423.2 L322.9,419.1 L322.4,423.1 L321.9,423.7 L321.4,425.4 L320.9,417.5 L320.4,425.7 L319.9,421.1 L319.4,417.6 L318.9,418.9 L318.4,425 L317.9,425.6 L317.4,425.4 L316.9,422 L316.4,423.1 L315.9,425.1 L315.4,425.1 L314.9,423.1 L314.4,424.8 L313.9,421.4 L313.4,422.8 L312.9,424.5 L312.4,423.3 L311.9,425 L311.4,419.2 L310.9,420.3 L310.4,423.6Z" fill="url(#gf)"/><path d="M351.1 368.9V431.7M351.6 375V416.1M352.2 380.8V430.6M352.8 368.7V426.7M353.4 381.9V416.8M354 378.9V423.9M354.9 383.8V423.9M355.7 378.6V420.6M356.3 373.1V416.2M357.1 369V424.3M490.2 386.4V417.8M491 385.2V414.5M491.4 384.6V423M492.3 377.9V424.6M493.1 384.1V415.2M493.7 373.2V418.1M494.2 376.9V419.8M495 379.7V425.4" stroke="#78aed9" stroke-width="0.75" fill="none"/><line x1="354.7" y1="354.5" x2="354.7" y2="446.2" stroke="#78aed9" stroke-width="1.3"/><line x1="465.4" y1="367.2" x2="465.4" y2="432.7" stroke="#78aed9" stroke-width="1.3"/><line x1="490.5" y1="370.9" x2="490.5" y2="427.6" stroke="#78aed9" stroke-width="1.3"/><line x1="494.5" y1="371.1" x2="494.5" y2="427.1" stroke="#78aed9" stroke-width="1.3"/><path d="M310.4,386.4 L310.9,385.6 L311.4,385.1 L311.9,383.1 L312.4,383.1 L312.9,382.7 L313.4,381.4 L313.9,385.3 L314.4,382.8 L314.9,386.7 L315.4,382.2 L315.9,382.1 L316.4,386.1 L316.9,385.2 L317.4,386.5 L317.9,382.8 L318.4,382.6 L318.9,382.1 L319.4,381.8 L319.9,383.7 L320.4,382.2 L320.9,385.2 L321.4,384 L321.9,385.6 L322.4,385.9 L322.9,386.2 L323.4,386.5 L323.9,383.5 L324.4,384.1 L324.9,384.3 L325.4,383 L325.9,383 L326.4,386.2 L326.9,382.4 L327.4,385.1 L327.9,384.5 L328.4,381.6 L328.9,383.6 L329.4,386 L329.9,385.5 L330.4,385.1 L330.9,386.1 L331.4,381.3 L331.9,383.3 L332.4,385.1 L332.9,383.7 L333.4,382.4 L333.9,383 L334.4,385.2 L334.9,381.8 L335.4,385 L335.9,382.4 L336.4,383.1 L336.9,382.2 L337.4,385.1 L337.9,382.4 L338.4,381.3 L338.9,386.6 L339.4,382.4 L339.9,382.2 L340.4,382.8 L340.9,384.8 L341.4,383.2 L341.9,383.1 L342.4,381.3 L342.9,383.5 L343.4,383 L343.9,383.4 L344.4,383.7 L344.9,385.3 L345.4,382.1 L345.9,385.9 L346.4,382.1 L346.9,383.5 L347.4,381.2 L347.9,382.5 L348.4,383.9 L348.9,382.3 L349.4,381.4 L349.9,380.6 L350.4,382.2 L350.9,378.1 L351.4,382.7 L351.9,377.5 L352.4,376.4 L352.9,376.7 L353.4,377.9 L353.9,378.2 L354.4,376.9 L354.9,381.5 L355.4,378.8 L355.9,381.1 L356.4,381.8 L356.9,380.5 L357.4,383.7 L357.9,379.6 L358.4,379.2 L358.9,380.1 L359.4,381.1 L359.9,380.7 L360.4,381.9 L360.9,381.7 L361.4,383.4 L361.9,385.7 L362.4,382.7 L362.9,386.6 L363.4,384.2 L363.9,385.6 L364.4,386.4 L364.9,385.6 L365.4,381.9 L365.9,386.3 L366.4,384.6 L366.9,385.4 L367.4,381.7 L367.9,386.5 L368.4,383.5 L368.9,386.4 L369.4,385.1 L369.9,383.7 L370.4,385.3 L370.9,384.1 L371.4,384.3 L371.9,385.1 L372.4,383.2 L372.9,386.5 L373.4,383.3 L373.9,383.7 L374.4,382.7 L374.9,384.7 L375.4,386.2 L375.9,381.3 L376.4,386.4 L376.9,383.6 L377.4,386.2 L377.9,383.9 L378.4,381.5 L378.9,384.7 L379.4,382.1 L379.9,383 L380.4,382.8 L380.9,384.1 L381.4,383.9 L381.9,386.1 L382.4,382.5 L382.9,384.9 L383.4,385.4 L383.9,383.5 L384.4,382 L384.9,383 L385.4,381.5 L385.9,382.9 L386.4,384.8 L386.9,384.3 L387.4,382.3 L387.9,382.7 L388.4,384.1 L388.9,383.2 L389.4,386.1 L389.9,385.1 L390.4,384.4 L390.9,386 L391.4,386.7 L391.9,381.6 L392.4,384.3 L392.9,386.1 L393.4,383.8 L393.9,382.9 L394.4,383.5 L394.9,383.6 L395.4,386.2 L395.9,382.5 L396.4,384.5 L396.9,382.3 L397.4,382 L397.9,384.5 L398.4,385.2 L398.9,385.5 L399.4,382.1 L399.9,383.7 L400.4,384.8 L400.9,385.1 L401.4,383.1 L401.9,383.7 L402.4,386.3 L402.9,381.6 L403.4,385.4 L403.9,384.4 L404.4,384 L404.9,383.8 L405.4,384.2 L405.9,384.5 L406.4,384.4 L406.9,383.2 L407.4,382.3 L407.9,384 L408.4,381.4 L408.9,382.9 L409.4,385.2 L409.9,383.5 L410.4,381.4 L410.9,384.8 L411.4,385.4 L411.9,383.7 L412.4,385.4 L412.9,383.2 L413.4,386.3 L413.9,386.1 L414.4,382 L414.9,386.4 L415.4,385.2 L415.9,384.9 L416.4,383.2 L416.9,384.4 L417.4,383.4 L417.9,384.9 L418.4,383.8 L418.9,384.4 L419.4,385.8 L419.9,383.2 L420.4,381.4 L420.9,386.3 L421.4,382.2 L421.9,382.3 L422.4,384.3 L422.9,385.4 L423.4,384 L423.9,382.9 L424.4,384.9 L424.9,385.8 L425.4,384 L425.9,382.2 L426.4,384.9 L426.9,383.6 L427.4,385.4 L427.9,383.3 L428.4,386.5 L428.9,386.2 L429.4,385.2 L429.9,384.6 L430.4,385.6 L430.9,385.3 L431.4,382.3 L431.9,383.8 L432.4,385.2 L432.9,385 L433.4,382.6 L433.9,385.7 L434.4,385.3 L434.9,382.9 L435.4,386.2 L435.9,382.5 L436.4,385.2 L436.9,383.7 L437.4,385.6 L437.9,384.2 L438.4,381.7 L438.9,384.1 L439.4,382.6 L439.9,384.9 L440.4,385 L440.9,384.6 L441.4,383.4 L441.9,385.1 L442.4,381.7 L442.9,381.8 L443.4,382.7 L443.9,383.1 L444.4,383.7 L444.9,382.4 L445.4,383 L445.9,385.7 L446.4,384.2 L446.9,386 L447.4,386.1 L447.9,383.8 L448.4,386 L448.9,384.5 L449.4,382.1 L449.9,384.6 L450.4,382.9 L450.9,384.2 L451.4,382.1 L451.9,385.6 L452.4,385.6 L452.9,384.4 L453.4,386 L453.9,385.5 L454.4,384.8 L454.9,385.3 L455.4,385 L455.9,382.8 L456.4,383.5 L456.9,381.5 L457.4,385.2 L457.9,386.1 L458.4,383.9 L458.9,386.6 L459.4,385.4 L459.9,381.8 L460.4,382.2 L460.9,385.2 L461.4,383.1 L461.9,385 L462.4,384.3 L462.9,384.4 L463.4,384.4 L463.9,383.2 L464.4,386.5 L464.9,384.3 L465.4,383.8 L465.9,386.2 L466.4,384.1 L466.9,383.3 L467.4,383 L467.9,383.4 L468.4,381.6 L468.9,381.4 L469.4,383.7 L469.9,385.8 L470.4,385.3 L470.9,383.4 L471.4,384.7 L471.9,384.8 L472.4,384.1 L472.9,383.8 L473.4,382.2 L473.9,381.5 L474.4,385.7 L474.9,386.4 L475.4,385.6 L475.9,382.9 L476.4,383.9 L476.9,383.6 L477.4,384.9 L477.9,381.9 L478.4,382.6 L478.9,386.5 L479.4,381.6 L479.9,385.7 L480.4,385.5 L480.9,382.3 L481.4,382.4 L481.9,382.5 L482.4,384 L482.9,386.4 L483.4,382.7 L483.9,384.7 L484.4,385.2 L484.9,382.5 L485.4,382.1 L485.9,382.5 L486.4,382.9 L486.9,383.7 L487.4,383.5 L487.9,382.7 L488.4,386.3 L488.9,382.5 L489.4,381.1 L489.9,381.7 L490.4,380.7 L490.9,382.9 L491.4,383.3 L491.9,382.6 L492.4,381 L492.9,384 L493.4,384.3 L493.9,382.7 L494.4,380.2 L494.9,381 L495.4,381 L495.9,385 L496.4,380.9 L496.9,382.5 L497.4,382.6 L497.9,384.5 L498.4,384.5 L498.9,382.9 L499.4,382.9 L499.9,382.6 L500.4,384.6 L500.9,381.6 L501.4,382.7 L501.9,382.7 L502.4,381.8 L502.9,381.8 L503.4,386.5 L503.9,384.6 L504.4,382.2 L504.9,384.9 L505.4,385.8 L505.9,382.9 L506.4,385.2 L506.9,383.3 L507.4,382.4 L507.9,385.4 L508.4,381.9 L508.9,384.2 L509.4,382.5 L509.9,382.5 L510.4,384.2 L510.9,386 L511.4,383.1 L511.9,384 L512.4,384.2 L512.9,385.8 L513.4,386.4 L513.9,385.2 L514.4,381.5 L514.9,384.4 L515.4,381.5 L515.9,382.7 L516.4,383.4 L516.9,383.7 L517.4,385.8 L517.9,382.7 L518.4,386.1 L518.9,384.5 L519.4,385.4 L519.9,384.4 L520.4,386.6 L520.9,384.7 L521.4,385.8 L521.9,384 L522.4,384.7 L522.9,381.8 L523.4,386.4 L523.9,385 L524.4,381.5 L524.9,386.2 L525.4,385.2 L525.9,383.3 L526.4,382.1 L526.9,384.6 L527.4,384.1 L527.9,384.6 L528.4,384.8 L528.9,386.4 L529.4,383.3 L529.9,386.2 L530.4,383.7 L530.9,382.5 L531.4,384.6 L531.9,383 L532.4,386 L532.9,382.8 L532.9,417.8 L532.4,418 L531.9,414 L531.4,416.8 L530.9,417.4 L530.4,415.2 L529.9,417.8 L529.4,418 L528.9,415.7 L528.4,417.5 L527.9,415.7 L527.4,418 L526.9,416.7 L526.4,418 L525.9,415.7 L525.4,414.2 L524.9,416.8 L524.4,418.3 L523.9,417.9 L523.4,417.2 L522.9,418.4 L522.4,417.9 L521.9,413.8 L521.4,417 L520.9,416 L520.4,413.6 L519.9,413.8 L519.4,414.7 L518.9,414 L518.4,417.5 L517.9,414.5 L517.4,414.1 L516.9,418.6 L516.4,414.2 L515.9,415.9 L515.4,415.8 L514.9,415.4 L514.4,413.7 L513.9,413.7 L513.4,414.3 L512.9,416.5 L512.4,415.1 L511.9,416 L511.4,417 L510.9,418.1 L510.4,418.9 L509.9,417.9 L509.4,414.7 L508.9,414.8 L508.4,413.9 L507.9,417.9 L507.4,416.9 L506.9,414.9 L506.4,417.6 L505.9,417 L505.4,414.3 L504.9,417.6 L504.4,417.5 L503.9,415.2 L503.4,418.9 L502.9,414.4 L502.4,414.6 L501.9,417.8 L501.4,416.9 L500.9,416.3 L500.4,416.7 L499.9,418.6 L499.4,415.5 L498.9,418.6 L498.4,417.3 L497.9,416.7 L497.4,414.5 L496.9,418.9 L496.4,417.9 L495.9,415.9 L495.4,415.8 L494.9,414.2 L494.4,415.1 L493.9,420 L493.4,416.5 L492.9,416.6 L492.4,416.2 L491.9,417.4 L491.4,416 L490.9,414.7 L490.4,415.2 L489.9,418 L489.4,414.1 L488.9,417.6 L488.4,416.8 L487.9,416.4 L487.4,418.6 L486.9,417.9 L486.4,417.4 L485.9,414.2 L485.4,418.8 L484.9,418.1 L484.4,418.9 L483.9,414 L483.4,415.2 L482.9,414.7 L482.4,415.8 L481.9,417.5 L481.4,416.6 L480.9,417.1 L480.4,417.2 L479.9,413.9 L479.4,415.7 L478.9,417 L478.4,417.9 L477.9,416.1 L477.4,417.8 L476.9,418 L476.4,417.7 L475.9,416.7 L475.4,415 L474.9,416.7 L474.4,414.7 L473.9,414.5 L473.4,417.4 L472.9,416.8 L472.4,417.5 L471.9,417.9 L471.4,413.6 L470.9,413.8 L470.4,416.1 L469.9,418.2 L469.4,417.6 L468.9,418.3 L468.4,416.3 L467.9,414.9 L467.4,416 L466.9,413.7 L466.4,416.2 L465.9,416.6 L465.4,415 L464.9,415.6 L464.4,417.7 L463.9,414.4 L463.4,418.7 L462.9,413.6 L462.4,418 L461.9,418.9 L461.4,414.1 L460.9,417.7 L460.4,415.7 L459.9,416.2 L459.4,418.5 L458.9,414.6 L458.4,416.8 L457.9,415.6 L457.4,414.9 L456.9,414.8 L456.4,418.2 L455.9,418.7 L455.4,416.5 L454.9,418.9 L454.4,414.6 L453.9,415.6 L453.4,416 L452.9,415.7 L452.4,418.4 L451.9,418.9 L451.4,413.7 L450.9,417.8 L450.4,413.7 L449.9,417.3 L449.4,417.3 L448.9,417.8 L448.4,414.3 L447.9,414.7 L447.4,418.7 L446.9,413.8 L446.4,413.9 L445.9,415.2 L445.4,415.3 L444.9,415.8 L444.4,417.8 L443.9,417.9 L443.4,418.3 L442.9,416.1 L442.4,415.7 L441.9,414.4 L441.4,416.2 L440.9,414.3 L440.4,414.9 L439.9,418.7 L439.4,417 L438.9,415.1 L438.4,413.6 L437.9,414.9 L437.4,418 L436.9,416 L436.4,418.5 L435.9,415.6 L435.4,415.7 L434.9,418.6 L434.4,416.6 L433.9,414.5 L433.4,413.6 L432.9,415.6 L432.4,417 L431.9,416.8 L431.4,418.3 L430.9,417.8 L430.4,416.4 L429.9,417.8 L429.4,418 L428.9,414.8 L428.4,418.2 L427.9,414.1 L427.4,416.6 L426.9,415.2 L426.4,418.4 L425.9,418.7 L425.4,416.4 L424.9,417 L424.4,414.1 L423.9,415.4 L423.4,418.3 L422.9,416.5 L422.4,416.6 L421.9,415.6 L421.4,417.4 L420.9,416 L420.4,414.6 L419.9,414.9 L419.4,415.8 L418.9,415.5 L418.4,416.4 L417.9,416.8 L417.4,414.3 L416.9,417 L416.4,416.9 L415.9,416.7 L415.4,417.3 L414.9,414.8 L414.4,416.2 L413.9,414.8 L413.4,415.4 L412.9,413.9 L412.4,417.3 L411.9,418.8 L411.4,414.1 L410.9,414 L410.4,414.4 L409.9,413.8 L409.4,416.8 L408.9,418 L408.4,417.2 L407.9,417 L407.4,414.3 L406.9,417.8 L406.4,415.7 L405.9,417.9 L405.4,415.3 L404.9,417.6 L404.4,418.8 L403.9,417.7 L403.4,417.3 L402.9,415.4 L402.4,416.7 L401.9,416.9 L401.4,417.6 L400.9,416.1 L400.4,416.5 L399.9,415 L399.4,417.2 L398.9,415.9 L398.4,414.6 L397.9,418.7 L397.4,417.3 L396.9,413.6 L396.4,416.1 L395.9,417.3 L395.4,416.9 L394.9,413.8 L394.4,415.2 L393.9,416 L393.4,418.3 L392.9,418.3 L392.4,416.2 L391.9,413.8 L391.4,418.5 L390.9,416.2 L390.4,416.1 L389.9,416 L389.4,416.6 L388.9,414.8 L388.4,417.9 L387.9,416.8 L387.4,418.7 L386.9,417 L386.4,415.9 L385.9,416.2 L385.4,414.9 L384.9,415.2 L384.4,415.8 L383.9,413.9 L383.4,417.1 L382.9,414.6 L382.4,417.1 L381.9,413.7 L381.4,415.5 L380.9,415.2 L380.4,417.1 L379.9,415.2 L379.4,413.8 L378.9,415.2 L378.4,416.7 L377.9,417.8 L377.4,417.1 L376.9,413.8 L376.4,416.5 L375.9,418.1 L375.4,416.3 L374.9,418.6 L374.4,414.7 L373.9,414.3 L373.4,414.7 L372.9,418.3 L372.4,415.4 L371.9,417.4 L371.4,417.3 L370.9,415.8 L370.4,413.7 L369.9,417.4 L369.4,416.9 L368.9,416.7 L368.4,415.6 L367.9,414 L367.4,414.8 L366.9,414.3 L366.4,414.8 L365.9,415.2 L365.4,418.5 L364.9,416.1 L364.4,415 L363.9,416.2 L363.4,416.1 L362.9,414.8 L362.4,413.8 L361.9,413.9 L361.4,413.8 L360.9,417.2 L360.4,418.3 L359.9,417.4 L359.4,416.8 L358.9,420.2 L358.4,418.2 L357.9,417.9 L357.4,417.7 L356.9,420.4 L356.4,419.2 L355.9,421.9 L355.4,419.4 L354.9,419.9 L354.4,425.4 L353.9,422.1 L353.4,424.8 L352.9,418.6 L352.4,422.5 L351.9,420 L351.4,417 L350.9,418.4 L350.4,421.5 L349.9,417.3 L349.4,416.3 L348.9,415.3 L348.4,416 L347.9,416.6 L347.4,415.7 L346.9,413.9 L346.4,416.4 L345.9,416.3 L345.4,416.3 L344.9,418.1 L344.4,418.5 L343.9,416.2 L343.4,414.8 L342.9,415.1 L342.4,418.8 L341.9,415.1 L341.4,418.2 L340.9,417 L340.4,413.6 L339.9,414.8 L339.4,418.8 L338.9,415.9 L338.4,414 L337.9,415.6 L337.4,414.2 L336.9,416.5 L336.4,416.2 L335.9,416.9 L335.4,416 L334.9,418.5 L334.4,417 L333.9,416.9 L333.4,416.9 L332.9,413.8 L332.4,415.7 L331.9,413.9 L331.4,418.3 L330.9,415.8 L330.4,414.7 L329.9,414.1 L329.4,417.9 L328.9,414.5 L328.4,413.7 L327.9,417.5 L327.4,414.4 L326.9,416.6 L326.4,417.5 L325.9,416.7 L325.4,414.5 L324.9,414.6 L324.4,418.7 L323.9,414.5 L323.4,418.3 L322.9,418.7 L322.4,415.1 L321.9,414.1 L321.4,415 L320.9,415.3 L320.4,415 L319.9,414.6 L319.4,414.7 L318.9,417.1 L318.4,416.7 L317.9,418.3 L317.4,417.2 L316.9,415.3 L316.4,416.8 L315.9,417 L315.4,414.8 L314.9,418.2 L314.4,414.2 L313.9,418.1 L313.4,417.7 L312.9,415.9 L312.4,418.4 L311.9,417.6 L311.4,417.2 L310.9,416.8 L310.4,416.9Z" fill="url(#gf)"/><path d="M310.4,391.6 L310.9,392 L311.4,391.3 L311.9,391.9 L312.4,390.2 L312.9,392.2 L313.4,391.8 L313.9,392.2 L314.4,390.2 L314.9,392 L315.4,390.2 L315.9,392 L316.4,390.2 L316.9,390.9 L317.4,390 L317.9,390.7 L318.4,392.3 L318.9,391.4 L319.4,391.3 L319.9,392 L320.4,391.8 L320.9,391.1 L321.4,391.4 L321.9,391.5 L322.4,391.7 L322.9,391.2 L323.4,390.7 L323.9,391 L324.4,392.2 L324.9,391.2 L325.4,391.5 L325.9,391.9 L326.4,392 L326.9,390 L327.4,390.3 L327.9,390.9 L328.4,390.5 L328.9,391.2 L329.4,391.7 L329.9,391.4 L330.4,391 L330.9,390.9 L331.4,390.1 L331.9,390.4 L332.4,391.3 L332.9,391.2 L333.4,390.9 L333.9,391.4 L334.4,391.7 L334.9,391 L335.4,391 L335.9,390.5 L336.4,391.6 L336.9,390.8 L337.4,392 L337.9,390 L338.4,391.1 L338.9,391.3 L339.4,390.7 L339.9,391.5 L340.4,391.6 L340.9,390.1 L341.4,390.3 L341.9,391.4 L342.4,390.6 L342.9,392 L343.4,391.9 L343.9,391.9 L344.4,390.9 L344.9,390.8 L345.4,390.4 L345.9,391.2 L346.4,391.4 L346.9,391.8 L347.4,390.1 L347.9,390.9 L348.4,390.8 L348.9,391.4 L349.4,391.2 L349.9,390.1 L350.4,390.9 L350.9,388.3 L351.4,390 L351.9,389.6 L352.4,387.4 L352.9,386.9 L353.4,387.9 L353.9,386.6 L354.4,386.4 L354.9,388.1 L355.4,387.9 L355.9,389.4 L356.4,389.7 L356.9,388.6 L357.4,389.1 L357.9,389.4 L358.4,389.1 L358.9,390.7 L359.4,389.9 L359.9,390.6 L360.4,391.9 L360.9,391.3 L361.4,390.8 L361.9,391.8 L362.4,390.6 L362.9,391 L363.4,391 L363.9,392.1 L364.4,391.6 L364.9,391.4 L365.4,391.5 L365.9,391.8 L366.4,391.7 L366.9,390.6 L367.4,390.4 L367.9,392.2 L368.4,392.1 L368.9,391.8 L369.4,391.5 L369.9,392.2 L370.4,391.8 L370.9,391 L371.4,390.6 L371.9,392 L372.4,392.3 L372.9,390.6 L373.4,391.8 L373.9,391.3 L374.4,391.6 L374.9,391.2 L375.4,391.4 L375.9,392 L376.4,390.7 L376.9,392 L377.4,391.6 L377.9,390.7 L378.4,391.8 L378.9,391.3 L379.4,390.9 L379.9,391.6 L380.4,390.2 L380.9,390.6 L381.4,390.9 L381.9,391.6 L382.4,390.7 L382.9,392.1 L383.4,390.3 L383.9,391.6 L384.4,391.7 L384.9,392.1 L385.4,392.2 L385.9,392.2 L386.4,391.4 L386.9,390.5 L387.4,392.2 L387.9,391.8 L388.4,391.6 L388.9,391.8 L389.4,391.9 L389.9,391.9 L390.4,390.9 L390.9,390.8 L391.4,391 L391.9,392.2 L392.4,392.3 L392.9,390.8 L393.4,391.1 L393.9,392.3 L394.4,391.8 L394.9,391.3 L395.4,391.2 L395.9,390.8 L396.4,390.7 L396.9,390.2 L397.4,390.6 L397.9,390.5 L398.4,391.6 L398.9,390.5 L399.4,390.6 L399.9,391.6 L400.4,392.1 L400.9,390.6 L401.4,391.5 L401.9,392.2 L402.4,390.6 L402.9,392 L403.4,390.5 L403.9,391.5 L404.4,390.1 L404.9,392 L405.4,391.2 L405.9,392.1 L406.4,390.7 L406.9,391.2 L407.4,390.7 L407.9,391.6 L408.4,392 L408.9,391.8 L409.4,390.8 L409.9,391.5 L410.4,391.4 L410.9,390.6 L411.4,392.2 L411.9,390.5 L412.4,391.2 L412.9,392.1 L413.4,391.7 L413.9,392 L414.4,391.6 L414.9,391.5 L415.4,390.6 L415.9,390.4 L416.4,392.2 L416.9,390.4 L417.4,391.3 L417.9,391.9 L418.4,392.2 L418.9,391.6 L419.4,391.8 L419.9,390 L420.4,391.4 L420.9,391.4 L421.4,392 L421.9,391.9 L422.4,391.6 L422.9,392.3 L423.4,390.2 L423.9,391.3 L424.4,391 L424.9,391.8 L425.4,390.9 L425.9,391.8 L426.4,390.7 L426.9,390 L427.4,391.6 L427.9,390.9 L428.4,390.1 L428.9,391.2 L429.4,391.6 L429.9,392.2 L430.4,392.1 L430.9,390.8 L431.4,392 L431.9,390.9 L432.4,390.5 L432.9,390.5 L433.4,390.7 L433.9,390.5 L434.4,391.5 L434.9,390.2 L435.4,390.6 L435.9,391.2 L436.4,391.4 L436.9,391.9 L437.4,390 L437.9,390.8 L438.4,391.6 L438.9,391.8 L439.4,390.2 L439.9,390.9 L440.4,392.1 L440.9,392.1 L441.4,392.2 L441.9,391 L442.4,390.6 L442.9,392 L443.4,392.1 L443.9,391.1 L444.4,392 L444.9,390.6 L445.4,391.7 L445.9,390.4 L446.4,392 L446.9,390.2 L447.4,390.6 L447.9,391.5 L448.4,392.1 L448.9,390.2 L449.4,390.4 L449.9,391.7 L450.4,391 L450.9,391.4 L451.4,390.2 L451.9,391.8 L452.4,392.3 L452.9,392 L453.4,390.4 L453.9,391.7 L454.4,390.5 L454.9,392 L455.4,390.2 L455.9,391.8 L456.4,390.2 L456.9,390.4 L457.4,390.5 L457.9,390.9 L458.4,391 L458.9,390.5 L459.4,391.5 L459.9,391.4 L460.4,391.8 L460.9,390.6 L461.4,391.7 L461.9,390 L462.4,392.1 L462.9,391.3 L463.4,390.2 L463.9,390.9 L464.4,390.8 L464.9,391.4 L465.4,390.9 L465.9,391 L466.4,391.6 L466.9,390.2 L467.4,391.1 L467.9,391.3 L468.4,391.1 L468.9,392 L469.4,391.7 L469.9,391.1 L470.4,390.6 L470.9,390.3 L471.4,391.7 L471.9,390 L472.4,391.6 L472.9,391.5 L473.4,391 L473.9,392.2 L474.4,391.1 L474.9,391.8 L475.4,391.2 L475.9,391 L476.4,391.6 L476.9,390.8 L477.4,391.2 L477.9,392.1 L478.4,391.3 L478.9,391.9 L479.4,390.6 L479.9,390.5 L480.4,390.9 L480.9,390.2 L481.4,392.2 L481.9,390 L482.4,391.9 L482.9,391.4 L483.4,390.3 L483.9,391.1 L484.4,390.3 L484.9,390.4 L485.4,391.4 L485.9,391.8 L486.4,391.6 L486.9,390.5 L487.4,391.3 L487.9,392 L488.4,392 L488.9,392 L489.4,390.3 L489.9,390.9 L490.4,391.6 L490.9,390.2 L491.4,389.3 L491.9,389.2 L492.4,390.1 L492.9,389.9 L493.4,391.2 L493.9,391.4 L494.4,391.2 L494.9,390.9 L495.4,390.3 L495.9,391.8 L496.4,391.6 L496.9,390.9 L497.4,390.8 L497.9,390.4 L498.4,391.4 L498.9,391.5 L499.4,390.2 L499.9,391.7 L500.4,390.7 L500.9,390 L501.4,390.5 L501.9,391.2 L502.4,390.4 L502.9,390.8 L503.4,391.9 L503.9,391.7 L504.4,390.9 L504.9,392.1 L505.4,391.6 L505.9,390.9 L506.4,390.6 L506.9,391.5 L507.4,390 L507.9,390.2 L508.4,390.4 L508.9,390.4 L509.4,390.1 L509.9,390.8 L510.4,392 L510.9,390.9 L511.4,392.2 L511.9,390 L512.4,390.8 L512.9,391.1 L513.4,390.5 L513.9,391.4 L514.4,390 L514.9,391.6 L515.4,391 L515.9,390.3 L516.4,391 L516.9,391.4 L517.4,391.2 L517.9,391.6 L518.4,391.8 L518.9,390.7 L519.4,392.2 L519.9,390.1 L520.4,390.6 L520.9,390.9 L521.4,390.9 L521.9,392 L522.4,390.1 L522.9,390.1 L523.4,390.7 L523.9,391.7 L524.4,391.8 L524.9,391.7 L525.4,391.1 L525.9,391.4 L526.4,390.5 L526.9,391.8 L527.4,390.1 L527.9,390.9 L528.4,391 L528.9,390 L529.4,392.1 L529.9,391.9 L530.4,390.5 L530.9,391.6 L531.4,390.1 L531.9,391.8 L532.4,391.6 L532.9,390.3 L532.9,408.1 L532.4,409.9 L531.9,408.7 L531.4,408.3 L530.9,409 L530.4,407.9 L529.9,410 L529.4,407.9 L528.9,409.3 L528.4,409.1 L527.9,409.8 L527.4,409.4 L526.9,408.9 L526.4,408.9 L525.9,408 L525.4,409.8 L524.9,408.5 L524.4,408.2 L523.9,409 L523.4,410.1 L522.9,409.7 L522.4,409.5 L521.9,409.9 L521.4,408.8 L520.9,410 L520.4,408.1 L519.9,409.7 L519.4,408.3 L518.9,409.2 L518.4,408 L517.9,409 L517.4,408.2 L516.9,410.2 L516.4,408.9 L515.9,410.1 L515.4,409.7 L514.9,408.3 L514.4,408.9 L513.9,409 L513.4,408.3 L512.9,409 L512.4,409.4 L511.9,408.3 L511.4,409.8 L510.9,408.5 L510.4,409.2 L509.9,409.5 L509.4,408.3 L508.9,410.2 L508.4,409.9 L507.9,408.9 L507.4,408.4 L506.9,409.6 L506.4,408.7 L505.9,409.4 L505.4,409.7 L504.9,408.3 L504.4,408.4 L503.9,408.7 L503.4,408.5 L502.9,409.9 L502.4,409.9 L501.9,409.1 L501.4,409.6 L500.9,409.3 L500.4,410.2 L499.9,408.7 L499.4,408.4 L498.9,410 L498.4,408.8 L497.9,408.4 L497.4,409.4 L496.9,410.3 L496.4,408.5 L495.9,410.3 L495.4,409.8 L494.9,410.4 L494.4,409.6 L493.9,410.4 L493.4,408.6 L492.9,409.4 L492.4,409.8 L491.9,408.7 L491.4,408.6 L490.9,409.9 L490.4,408.8 L489.9,408.3 L489.4,408.3 L488.9,408.5 L488.4,408.2 L487.9,408.2 L487.4,408.2 L486.9,409.3 L486.4,409.1 L485.9,409 L485.4,409.5 L484.9,408.9 L484.4,409.2 L483.9,408.7 L483.4,408.5 L482.9,408.9 L482.4,409.2 L481.9,408.8 L481.4,409.7 L480.9,409.3 L480.4,409.8 L479.9,408.6 L479.4,409.3 L478.9,409 L478.4,409 L477.9,408.2 L477.4,408.3 L476.9,409.3 L476.4,409.3 L475.9,408.6 L475.4,408 L474.9,409.3 L474.4,409.8 L473.9,409.5 L473.4,408.7 L472.9,408.1 L472.4,409.9 L471.9,408 L471.4,409.2 L470.9,409.9 L470.4,409 L469.9,409.8 L469.4,410.1 L468.9,409.4 L468.4,408.3 L467.9,410 L467.4,409.2 L466.9,409.7 L466.4,409.1 L465.9,408.4 L465.4,409.9 L464.9,408.1 L464.4,409.3 L463.9,408.5 L463.4,409.5 L462.9,410.1 L462.4,410.1 L461.9,409 L461.4,408.2 L460.9,409 L460.4,410.2 L459.9,409.5 L459.4,409.1 L458.9,409.2 L458.4,409.5 L457.9,410 L457.4,410 L456.9,410 L456.4,408.2 L455.9,408.3 L455.4,409.2 L454.9,408 L454.4,408 L453.9,409.7 L453.4,408.6 L452.9,408.8 L452.4,408.7 L451.9,408.7 L451.4,409.6 L450.9,407.9 L450.4,408.1 L449.9,408.5 L449.4,408.3 L448.9,408.9 L448.4,408 L447.9,408.9 L447.4,408.4 L446.9,409 L446.4,409 L445.9,408.5 L445.4,408.3 L444.9,410 L444.4,409.1 L443.9,410.1 L443.4,409 L442.9,410 L442.4,409.4 L441.9,408.3 L441.4,409.8 L440.9,409.9 L440.4,408.8 L439.9,409.9 L439.4,410.1 L438.9,409 L438.4,409.2 L437.9,409.1 L437.4,409.5 L436.9,409.9 L436.4,409.1 L435.9,409.5 L435.4,410.2 L434.9,409.6 L434.4,408.5 L433.9,408.9 L433.4,408.6 L432.9,408.9 L432.4,408.4 L431.9,410 L431.4,409.3 L430.9,409.8 L430.4,409 L429.9,408.3 L429.4,408.7 L428.9,408.8 L428.4,408.3 L427.9,409.8 L427.4,409.3 L426.9,408.6 L426.4,409.3 L425.9,409.9 L425.4,410.1 L424.9,409.1 L424.4,409.6 L423.9,408.6 L423.4,409.5 L422.9,408.2 L422.4,408.5 L421.9,409.3 L421.4,408.9 L420.9,409 L420.4,410.2 L419.9,409.4 L419.4,409.4 L418.9,409.8 L418.4,409.6 L417.9,409 L417.4,408.6 L416.9,408 L416.4,409.1 L415.9,409.2 L415.4,409.3 L414.9,409.5 L414.4,410.1 L413.9,409.8 L413.4,408.9 L412.9,408.5 L412.4,408.1 L411.9,408.7 L411.4,408.8 L410.9,408.8 L410.4,410.1 L409.9,409.4 L409.4,408.7 L408.9,408.3 L408.4,409.6 L407.9,408.7 L407.4,408.2 L406.9,410 L406.4,408.3 L405.9,408.3 L405.4,408 L404.9,409.7 L404.4,408.5 L403.9,409.2 L403.4,409.9 L402.9,408.4 L402.4,409.9 L401.9,410 L401.4,408.4 L400.9,409.5 L400.4,410.1 L399.9,408.6 L399.4,409.3 L398.9,408.4 L398.4,408.1 L397.9,408.6 L397.4,408.5 L396.9,409.2 L396.4,409.1 L395.9,409.4 L395.4,408.5 L394.9,408.6 L394.4,408.3 L393.9,410.2 L393.4,408.8 L392.9,408.9 L392.4,409.5 L391.9,409 L391.4,409.4 L390.9,409.3 L390.4,409.2 L389.9,408.8 L389.4,408.5 L388.9,408.5 L388.4,408.5 L387.9,408.7 L387.4,408.9 L386.9,409.2 L386.4,409.9 L385.9,408.8 L385.4,408.5 L384.9,410 L384.4,409.6 L383.9,408.8 L383.4,408.8 L382.9,408.9 L382.4,409.9 L381.9,410.1 L381.4,408.9 L380.9,408.2 L380.4,409 L379.9,409.1 L379.4,409.1 L378.9,409.4 L378.4,408.2 L377.9,409.4 L377.4,408.9 L376.9,410.1 L376.4,408.5 L375.9,408.2 L375.4,409.2 L374.9,409.4 L374.4,409.4 L373.9,410.1 L373.4,409.4 L372.9,408.2 L372.4,410.1 L371.9,410.1 L371.4,409.2 L370.9,409.7 L370.4,410 L369.9,409.3 L369.4,408.3 L368.9,409.5 L368.4,410 L367.9,409.4 L367.4,408.6 L366.9,407.9 L366.4,409.8 L365.9,409.7 L365.4,409.1 L364.9,409.8 L364.4,409.1 L363.9,410.1 L363.4,409.6 L362.9,408.8 L362.4,408.9 L361.9,409 L361.4,408.7 L360.9,408.6 L360.4,409.8 L359.9,410 L359.4,410.4 L358.9,409.4 L358.4,411 L357.9,409.9 L357.4,411.4 L356.9,410.4 L356.4,413.1 L355.9,412 L355.4,412.7 L354.9,411.2 L354.4,411.5 L353.9,413.1 L353.4,413.5 L352.9,412.5 L352.4,411.6 L351.9,410.5 L351.4,411.8 L350.9,409.8 L350.4,409.6 L349.9,411.1 L349.4,409.3 L348.9,410.7 L348.4,408.6 L347.9,409 L347.4,408.9 L346.9,409.4 L346.4,410.1 L345.9,408.1 L345.4,410 L344.9,409.2 L344.4,408.1 L343.9,408.5 L343.4,408.2 L342.9,410.1 L342.4,409.6 L341.9,409.4 L341.4,409 L340.9,410.1 L340.4,409.1 L339.9,408.1 L339.4,408.2 L338.9,409.2 L338.4,409.6 L337.9,408.4 L337.4,410.1 L336.9,409 L336.4,408.5 L335.9,409.8 L335.4,408.5 L334.9,409.7 L334.4,409.5 L333.9,410.2 L333.4,408.8 L332.9,408.4 L332.4,408 L331.9,408.8 L331.4,409.3 L330.9,409.5 L330.4,408.2 L329.9,409.9 L329.4,409.1 L328.9,408.6 L328.4,408 L327.9,408.9 L327.4,408.7 L326.9,409.8 L326.4,408.7 L325.9,408 L325.4,408.3 L324.9,409.8 L324.4,409.2 L323.9,408.8 L323.4,409 L322.9,408.9 L322.4,409 L321.9,408.1 L321.4,409.3 L320.9,408 L320.4,408.7 L319.9,410.1 L319.4,409.7 L318.9,409.9 L318.4,408.8 L317.9,410 L317.4,409.3 L316.9,410.1 L316.4,408.2 L315.9,409.2 L315.4,408.4 L314.9,408.4 L314.4,409 L313.9,408 L313.4,409.6 L312.9,408.5 L312.4,408.7 L311.9,408.6 L311.4,409.1 L310.9,409.5 L310.4,409.2Z" fill="#5d9dcf"/><path d="M310.4,394 L310.9,393.2 L311.4,393.2 L311.9,393.1 L312.4,393.6 L312.9,392.9 L313.4,393.2 L313.9,394 L314.4,393.3 L314.9,392.9 L315.4,394 L315.9,392.8 L316.4,394 L316.9,392.8 L317.4,393.4 L317.9,393.3 L318.4,393.8 L318.9,393.7 L319.4,392.9 L319.9,394 L320.4,393.3 L320.9,393 L321.4,393.4 L321.9,392.9 L322.4,393.3 L322.9,393.2 L323.4,393.4 L323.9,393.1 L324.4,393.9 L324.9,393.2 L325.4,393.3 L325.9,393.9 L326.4,393.3 L326.9,393.2 L327.4,394 L327.9,393.3 L328.4,393.9 L328.9,393.4 L329.4,393.3 L329.9,393.9 L330.4,392.8 L330.9,393 L331.4,393.2 L331.9,393.2 L332.4,394 L332.9,393.6 L333.4,393.3 L333.9,393.2 L334.4,393.4 L334.9,393.9 L335.4,393.1 L335.9,392.9 L336.4,393 L336.9,393.1 L337.4,393.2 L337.9,393.6 L338.4,393.7 L338.9,393.7 L339.4,393 L339.9,393.1 L340.4,393.9 L340.9,393 L341.4,392.8 L341.9,393.4 L342.4,393.8 L342.9,393.8 L343.4,393.2 L343.9,393.9 L344.4,393.7 L344.9,393.8 L345.4,393.6 L345.9,393.1 L346.4,393.9 L346.9,393 L347.4,393.3 L347.9,393.7 L348.4,392.8 L348.9,392.8 L349.4,392.8 L349.9,392.8 L350.4,392.7 L350.9,391.5 L351.4,391.6 L351.9,391.4 L352.4,391.7 L352.9,391.5 L353.4,390.3 L353.9,390.3 L354.4,390.2 L354.9,392 L355.4,392 L355.9,392 L356.4,391.4 L356.9,392.2 L357.4,392.8 L357.9,392.6 L358.4,392.1 L358.9,392.6 L359.4,392.7 L359.9,393.8 L360.4,392.7 L360.9,393.4 L361.4,393.2 L361.9,393.2 L362.4,393.3 L362.9,393.5 L363.4,393.3 L363.9,393.2 L364.4,394.1 L364.9,393 L365.4,393 L365.9,393.2 L366.4,393.8 L366.9,392.9 L367.4,393.7 L367.9,394.1 L368.4,393.1 L368.9,394.1 L369.4,392.8 L369.9,393.6 L370.4,392.9 L370.9,393.1 L371.4,393 L371.9,393 L372.4,393 L372.9,393 L373.4,393.7 L373.9,393.3 L374.4,393.4 L374.9,392.9 L375.4,392.9 L375.9,393.4 L376.4,394.1 L376.9,393.3 L377.4,393.6 L377.9,393.8 L378.4,392.9 L378.9,393.7 L379.4,393.5 L379.9,393.4 L380.4,392.9 L380.9,393.2 L381.4,392.9 L381.9,393.6 L382.4,393.7 L382.9,394 L383.4,393.4 L383.9,393.5 L384.4,393.7 L384.9,393.8 L385.4,393.6 L385.9,393.4 L386.4,394 L386.9,393.1 L387.4,393.9 L387.9,393 L388.4,393.3 L388.9,394.1 L389.4,393.9 L389.9,394.1 L390.4,394 L390.9,393.1 L391.4,393.5 L391.9,394.1 L392.4,394 L392.9,393.2 L393.4,393.9 L393.9,393.8 L394.4,393.9 L394.9,393 L395.4,392.8 L395.9,392.9 L396.4,392.9 L396.9,394.1 L397.4,393.4 L397.9,393.9 L398.4,393.5 L398.9,393.8 L399.4,392.8 L399.9,394.1 L400.4,393.8 L400.9,394 L401.4,392.9 L401.9,393.5 L402.4,393.2 L402.9,393.7 L403.4,393.4 L403.9,392.8 L404.4,392.8 L404.9,393 L405.4,393.5 L405.9,393.8 L406.4,393.2 L406.9,393.9 L407.4,393 L407.9,393.4 L408.4,394 L408.9,394.1 L409.4,394 L409.9,393.8 L410.4,393.7 L410.9,393.6 L411.4,393.9 L411.9,393 L412.4,393.5 L412.9,392.9 L413.4,393.8 L413.9,393 L414.4,393.5 L414.9,392.8 L415.4,392.9 L415.9,393 L416.4,392.8 L416.9,393 L417.4,393.3 L417.9,393.1 L418.4,393 L418.9,392.9 L419.4,393.2 L419.9,393.3 L420.4,393.4 L420.9,392.8 L421.4,392.9 L421.9,393.8 L422.4,393 L422.9,392.8 L423.4,393.5 L423.9,393.5 L424.4,393.8 L424.9,394.1 L425.4,393.1 L425.9,393.5 L426.4,393.1 L426.9,393.9 L427.4,393.5 L427.9,394.1 L428.4,394 L428.9,393.5 L429.4,393.9 L429.9,393.8 L430.4,393.6 L430.9,392.8 L431.4,393.5 L431.9,392.9 L432.4,392.9 L432.9,393 L433.4,393.6 L433.9,392.9 L434.4,392.8 L434.9,393.7 L435.4,393.7 L435.9,393.8 L436.4,393.2 L436.9,392.9 L437.4,393.3 L437.9,393.9 L438.4,393.4 L438.9,393.9 L439.4,393 L439.9,393.5 L440.4,393.3 L440.9,393.5 L441.4,393.3 L441.9,393.6 L442.4,393.3 L442.9,393.6 L443.4,393.1 L443.9,393.6 L444.4,392.9 L444.9,393.9 L445.4,393 L445.9,393 L446.4,393.1 L446.9,393.1 L447.4,393.4 L447.9,393.3 L448.4,393.9 L448.9,393.5 L449.4,393.6 L449.9,393.6 L450.4,393.5 L450.9,393.1 L451.4,392.9 L451.9,393.6 L452.4,392.9 L452.9,394.1 L453.4,393.9 L453.9,392.9 L454.4,392.8 L454.9,393 L455.4,393.1 L455.9,393.5 L456.4,393.6 L456.9,393.6 L457.4,394 L457.9,392.8 L458.4,393.9 L458.9,392.8 L459.4,393.9 L459.9,393.7 L460.4,393.5 L460.9,392.9 L461.4,393.1 L461.9,393.9 L462.4,393.8 L462.9,393 L463.4,394 L463.9,393.4 L464.4,393.3 L464.9,394.1 L465.4,393.4 L465.9,393.4 L466.4,394 L466.9,392.8 L467.4,393.5 L467.9,393.8 L468.4,393.9 L468.9,393.1 L469.4,392.8 L469.9,393 L470.4,393 L470.9,393.2 L471.4,393 L471.9,393.7 L472.4,393 L472.9,393.5 L473.4,393.7 L473.9,393.2 L474.4,393.6 L474.9,393 L475.4,392.8 L475.9,393.5 L476.4,393.8 L476.9,393.8 L477.4,394 L477.9,393.5 L478.4,393.8 L478.9,393.6 L479.4,393.8 L479.9,393.9 L480.4,393.8 L480.9,393.3 L481.4,393.1 L481.9,393.5 L482.4,392.9 L482.9,392.8 L483.4,393.5 L483.9,393.2 L484.4,394.1 L484.9,392.9 L485.4,393 L485.9,393.3 L486.4,393 L486.9,393.8 L487.4,393 L487.9,393.2 L488.4,392.7 L488.9,392.7 L489.4,392.7 L489.9,392.8 L490.4,393.5 L490.9,392.7 L491.4,392.6 L491.9,392.4 L492.4,393 L492.9,393.2 L493.4,392.4 L493.9,392.7 L494.4,393.1 L494.9,392.7 L495.4,392.5 L495.9,393.3 L496.4,392.9 L496.9,393.9 L497.4,394 L497.9,394 L498.4,393 L498.9,394 L499.4,393.8 L499.9,393.7 L500.4,393.9 L500.9,393.6 L501.4,393.9 L501.9,393.8 L502.4,393.6 L502.9,393.4 L503.4,392.9 L503.9,393.4 L504.4,393.8 L504.9,394 L505.4,393 L505.9,393 L506.4,393.3 L506.9,393.5 L507.4,394.1 L507.9,392.8 L508.4,393.6 L508.9,393 L509.4,393.7 L509.9,394.1 L510.4,393.8 L510.9,393.4 L511.4,394 L511.9,393.9 L512.4,393.7 L512.9,392.9 L513.4,393.1 L513.9,394 L514.4,393.4 L514.9,392.9 L515.4,394 L515.9,393 L516.4,393.1 L516.9,394 L517.4,393.6 L517.9,393.1 L518.4,394 L518.9,392.8 L519.4,393.7 L519.9,393.4 L520.4,393.1 L520.9,392.9 L521.4,393.4 L521.9,393.4 L522.4,393.6 L522.9,393.7 L523.4,393.5 L523.9,392.8 L524.4,393.9 L524.9,393.9 L525.4,393.9 L525.9,393.9 L526.4,392.8 L526.9,393.4 L527.4,393.2 L527.9,393.3 L528.4,393.8 L528.9,393.2 L529.4,392.9 L529.9,393.2 L530.4,393.3 L530.9,393 L531.4,393.3 L531.9,393.3 L532.4,393.1 L532.9,393.5 L532.9,406.4 L532.4,407.3 L531.9,406.9 L531.4,407 L530.9,407 L530.4,406.1 L529.9,406.5 L529.4,407 L528.9,406.8 L528.4,406.9 L527.9,407.3 L527.4,406.5 L526.9,406.8 L526.4,407.3 L525.9,406.8 L525.4,406.8 L524.9,406.6 L524.4,406.9 L523.9,406.2 L523.4,406.7 L522.9,406.8 L522.4,406.3 L521.9,406.9 L521.4,406.8 L520.9,407.4 L520.4,406.4 L519.9,407.3 L519.4,406.9 L518.9,407 L518.4,407.4 L517.9,406.4 L517.4,406.8 L516.9,406.4 L516.4,406.3 L515.9,407.2 L515.4,406.4 L514.9,406.5 L514.4,406.5 L513.9,407.3 L513.4,406.6 L512.9,406.4 L512.4,407.2 L511.9,407.4 L511.4,407.1 L510.9,407.3 L510.4,407 L509.9,407.3 L509.4,406.9 L508.9,406.5 L508.4,406.4 L507.9,406.3 L507.4,406.1 L506.9,406.8 L506.4,406.4 L505.9,406.5 L505.4,407.3 L504.9,406.4 L504.4,407 L503.9,407.4 L503.4,406.9 L502.9,406.7 L502.4,407.3 L501.9,407.3 L501.4,406.6 L500.9,406.9 L500.4,406.3 L499.9,407 L499.4,407.4 L498.9,406.1 L498.4,407.4 L497.9,406.3 L497.4,406.7 L496.9,407.3 L496.4,407.4 L495.9,407.4 L495.4,406.5 L494.9,406.8 L494.4,406.9 L493.9,407.8 L493.4,407 L492.9,407.3 L492.4,406.7 L491.9,406.6 L491.4,407.2 L490.9,406.9 L490.4,407.1 L489.9,406.9 L489.4,406.8 L488.9,406.5 L488.4,407.5 L487.9,406.3 L487.4,407.1 L486.9,407.4 L486.4,407.4 L485.9,406.8 L485.4,406.3 L484.9,406.1 L484.4,407.2 L483.9,406.4 L483.4,406.4 L482.9,407 L482.4,406.4 L481.9,406.6 L481.4,407 L480.9,407.4 L480.4,406.2 L479.9,406.9 L479.4,407 L478.9,407.4 L478.4,406.2 L477.9,406.2 L477.4,406.4 L476.9,406.9 L476.4,406.1 L475.9,406.4 L475.4,406.8 L474.9,407 L474.4,407.1 L473.9,407.2 L473.4,406.8 L472.9,407.1 L472.4,406.9 L471.9,406.7 L471.4,407.3 L470.9,406.4 L470.4,407.3 L469.9,407.1 L469.4,407.3 L468.9,407.4 L468.4,406.6 L467.9,406.5 L467.4,406.8 L466.9,406.2 L466.4,407.2 L465.9,406.8 L465.4,406.9 L464.9,406.6 L464.4,406.2 L463.9,406.3 L463.4,407.1 L462.9,406.4 L462.4,407.3 L461.9,406.2 L461.4,406.5 L460.9,407.4 L460.4,406.7 L459.9,406.8 L459.4,406.4 L458.9,407.3 L458.4,406.3 L457.9,406.6 L457.4,407 L456.9,407 L456.4,406.6 L455.9,407.2 L455.4,407.1 L454.9,407.4 L454.4,407.3 L453.9,406.1 L453.4,406.7 L452.9,407.4 L452.4,406.9 L451.9,407.2 L451.4,406.8 L450.9,406.5 L450.4,406.7 L449.9,406.6 L449.4,406.7 L448.9,407.4 L448.4,406.8 L447.9,406.6 L447.4,406.4 L446.9,406.9 L446.4,407.2 L445.9,407.1 L445.4,406.3 L444.9,406.4 L444.4,406.2 L443.9,406.5 L443.4,406.5 L442.9,407.2 L442.4,407.4 L441.9,406.9 L441.4,406.1 L440.9,407.1 L440.4,406.7 L439.9,407.4 L439.4,406.3 L438.9,406.8 L438.4,407.4 L437.9,407 L437.4,407.4 L436.9,406.6 L436.4,406.3 L435.9,407.4 L435.4,406.5 L434.9,407 L434.4,406.9 L433.9,407 L433.4,406.8 L432.9,407 L432.4,407.4 L431.9,406.4 L431.4,406.3 L430.9,407.3 L430.4,406.7 L429.9,407.3 L429.4,407.3 L428.9,406.7 L428.4,406.7 L427.9,406.9 L427.4,407.1 L426.9,406.4 L426.4,406.8 L425.9,406.4 L425.4,406.4 L424.9,406.6 L424.4,406.6 L423.9,406.8 L423.4,406.9 L422.9,406.6 L422.4,406.8 L421.9,406.9 L421.4,407 L420.9,406.7 L420.4,406.1 L419.9,407.3 L419.4,406.4 L418.9,406.4 L418.4,406.7 L417.9,407.1 L417.4,406.8 L416.9,407.1 L416.4,407.4 L415.9,406.8 L415.4,406.7 L414.9,406.8 L414.4,406.7 L413.9,406.8 L413.4,407 L412.9,406.1 L412.4,407.3 L411.9,406.1 L411.4,406.2 L410.9,406.9 L410.4,406.6 L409.9,406.4 L409.4,407.3 L408.9,406.5 L408.4,406.6 L407.9,407.1 L407.4,406.4 L406.9,406.5 L406.4,407.3 L405.9,407.2 L405.4,407.1 L404.9,406.2 L404.4,407.1 L403.9,406.3 L403.4,406.5 L402.9,406.2 L402.4,407.3 L401.9,406.5 L401.4,406.2 L400.9,407.3 L400.4,407.2 L399.9,406.5 L399.4,406.6 L398.9,406.7 L398.4,406.1 L397.9,407.1 L397.4,406.4 L396.9,407.4 L396.4,407 L395.9,407 L395.4,407.2 L394.9,407 L394.4,407.4 L393.9,407.3 L393.4,406.8 L392.9,406.7 L392.4,406.2 L391.9,406.9 L391.4,406.3 L390.9,407.1 L390.4,406.4 L389.9,407 L389.4,406.4 L388.9,406.7 L388.4,406.7 L387.9,406.6 L387.4,406.3 L386.9,407.1 L386.4,406.3 L385.9,406.5 L385.4,406.3 L384.9,407.3 L384.4,407.4 L383.9,407 L383.4,406.6 L382.9,406.9 L382.4,406.3 L381.9,406.2 L381.4,407.3 L380.9,406.1 L380.4,407 L379.9,406.3 L379.4,406.5 L378.9,407.1 L378.4,406.2 L377.9,406.5 L377.4,407 L376.9,406.2 L376.4,406.2 L375.9,406.7 L375.4,407.2 L374.9,406.7 L374.4,406.2 L373.9,406.8 L373.4,406.8 L372.9,406.6 L372.4,406.4 L371.9,407 L371.4,407.1 L370.9,407.2 L370.4,406.4 L369.9,407.3 L369.4,406.8 L368.9,407.3 L368.4,407.4 L367.9,406.5 L367.4,406.2 L366.9,407.3 L366.4,406.7 L365.9,406.2 L365.4,407.3 L364.9,406.4 L364.4,406.9 L363.9,406.3 L363.4,407.4 L362.9,406.8 L362.4,406.1 L361.9,406.1 L361.4,406.3 L360.9,406.2 L360.4,406.4 L359.9,407 L359.4,407.4 L358.9,407.2 L358.4,406.9 L357.9,407.5 L357.4,407.7 L356.9,409.2 L356.4,409.4 L355.9,408.2 L355.4,408.9 L354.9,409.4 L354.4,409.5 L353.9,409.4 L353.4,409.7 L352.9,408.6 L352.4,408.5 L351.9,408.9 L351.4,408.9 L350.9,407.9 L350.4,407.3 L349.9,407.5 L349.4,407.9 L348.9,407.3 L348.4,407.2 L347.9,407.2 L347.4,406.8 L346.9,406.1 L346.4,406.4 L345.9,406.9 L345.4,406.7 L344.9,407.3 L344.4,406.9 L343.9,406.8 L343.4,406.6 L342.9,407 L342.4,406.7 L341.9,406.7 L341.4,406.3 L340.9,406.5 L340.4,406.1 L339.9,406.4 L339.4,406.8 L338.9,406.3 L338.4,406.3 L337.9,406.8 L337.4,406.2 L336.9,407.2 L336.4,407.1 L335.9,406.9 L335.4,407.1 L334.9,407.1 L334.4,406.3 L333.9,406.4 L333.4,406.6 L332.9,406.8 L332.4,406.9 L331.9,406.5 L331.4,406.3 L330.9,406.5 L330.4,407.2 L329.9,407.3 L329.4,406.5 L328.9,406.7 L328.4,407.3 L327.9,407.3 L327.4,407.3 L326.9,406.6 L326.4,407.1 L325.9,406.2 L325.4,406.9 L324.9,406.8 L324.4,407.2 L323.9,406.6 L323.4,406.8 L322.9,406.2 L322.4,406.4 L321.9,406.2 L321.4,406.7 L320.9,406.4 L320.4,406.5 L319.9,406.7 L319.4,406.5 L318.9,407.2 L318.4,407 L317.9,406.2 L317.4,406.9 L316.9,406.9 L316.4,406.6 L315.9,407.2 L315.4,407.1 L314.9,407.4 L314.4,407.2 L313.9,406.3 L313.4,407.3 L312.9,406.7 L312.4,406.8 L311.9,406.4 L311.4,406.8 L310.9,406.8 L310.4,406.7Z" fill="#96c2e4"/></g>
<rect x="299.1" y="349.5" width="244.4" height="101.7" fill="none" stroke="#555" stroke-width="0.75"/>
<line x1="296.92" y1="355.1" x2="299.1" y2="355.1" stroke="#555" stroke-width="0.6"/>
<text x="293.94" y="357.77" font-size="6.23" text-anchor="end">0.3</text>
<line x1="296.92" y1="370.1" x2="299.1" y2="370.1" stroke="#555" stroke-width="0.6"/>
<text x="293.94" y="372.77" font-size="6.23" text-anchor="end">0.2</text>
<line x1="296.92" y1="385.1" x2="299.1" y2="385.1" stroke="#555" stroke-width="0.6"/>
<text x="293.94" y="387.77" font-size="6.23" text-anchor="end">0.1</text>
<line x1="296.92" y1="400.1" x2="299.1" y2="400.1" stroke="#555" stroke-width="0.6"/>
<text x="293.94" y="402.77" font-size="6.23" text-anchor="end">0.0</text>
<line x1="296.92" y1="415.1" x2="299.1" y2="415.1" stroke="#555" stroke-width="0.6"/>
<text x="293.94" y="417.77" font-size="6.23" text-anchor="end">-0.1</text>
<line x1="296.92" y1="430.1" x2="299.1" y2="430.1" stroke="#555" stroke-width="0.6"/>
<text x="293.94" y="432.77" font-size="6.23" text-anchor="end">-0.2</text>
<line x1="296.92" y1="445.1" x2="299.1" y2="445.1" stroke="#555" stroke-width="0.6"/>
<text x="293.94" y="447.77" font-size="6.23" text-anchor="end">-0.3</text>
<line x1="310.4" y1="451.2" x2="310.4" y2="453.38" stroke="#555" stroke-width="0.6"/>
<text x="310.4" y="460.3" font-size="6.23" text-anchor="middle">0:00</text>
<line x1="343.67" y1="451.2" x2="343.67" y2="453.38" stroke="#555" stroke-width="0.6"/>
<text x="343.67" y="460.3" font-size="6.23" text-anchor="middle">0:15</text>
<line x1="376.94" y1="451.2" x2="376.94" y2="453.38" stroke="#555" stroke-width="0.6"/>
<text x="376.94" y="460.3" font-size="6.23" text-anchor="middle">0:30</text>
<line x1="410.21" y1="451.2" x2="410.21" y2="453.38" stroke="#555" stroke-width="0.6"/>
<text x="410.21" y="460.3" font-size="6.23" text-anchor="middle">0:45</text>
<line x1="443.48" y1="451.2" x2="443.48" y2="453.38" stroke="#555" stroke-width="0.6"/>
<text x="443.48" y="460.3" font-size="6.23" text-anchor="middle">1:00</text>
<line x1="476.75" y1="451.2" x2="476.75" y2="453.38" stroke="#555" stroke-width="0.6"/>
<text x="476.75" y="460.3" font-size="6.23" text-anchor="middle">1:15</text>
<line x1="510.02" y1="451.2" x2="510.02" y2="453.38" stroke="#555" stroke-width="0.6"/>
<text x="510.02" y="460.3" font-size="6.23" text-anchor="middle">1:30</text>
<text x="421.3" y="469.82" font-size="6.23" text-anchor="middle">Time (s)</text>
<text transform="translate(277,401) rotate(-90)" font-size="6.23" text-anchor="middle">Amplitude</text>
<text x="421" y="345.6" font-size="7.55" text-anchor="middle">Waveform: failure, SNR −6 dB, Noise type 0</text>
<text class="cap" x="408.2" y="494.3" font-family="'Liberation Serif', serif" font-size="12.6" fill="#000" text-anchor="middle">(<tspan font-weight="bold">f</tspan>)</text>
</svg></body></html>
